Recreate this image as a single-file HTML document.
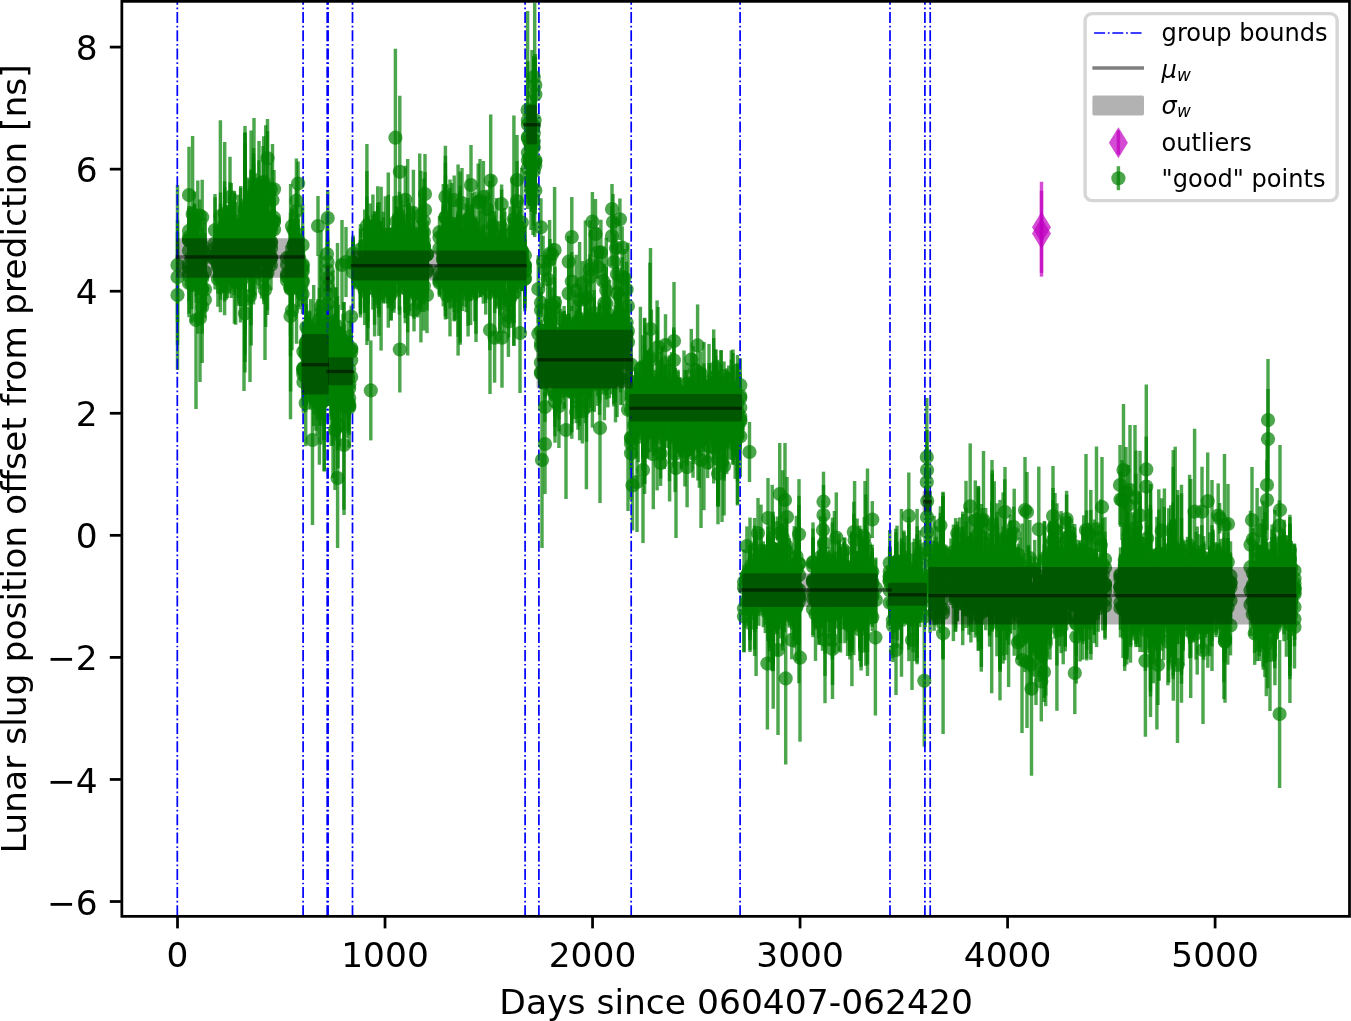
<!DOCTYPE html>
<html><head><meta charset="utf-8"><title>Lunar slug position offset</title>
<style>html,body{margin:0;padding:0;background:#fff}svg{display:block}text{font-family:"DejaVu Sans","Liberation Sans",sans-serif;fill:#000}</style>
</head><body>
<svg width="1351" height="1021" viewBox="0 0 1351 1021">
<rect width="1351" height="1021" fill="#fff"/>
<defs><clipPath id="cp"><rect x="121.85" y="1.35" width="1227.65" height="915.00"/></clipPath></defs>
<g clip-path="url(#cp)">
<g stroke="#008000" stroke-opacity=".7" stroke-width="3.44" fill="none">
<path d="M1098.2 582.3v22.0"/>
<path d="M569.5 328.7v29.4"/>
<path d="M1056.9 531.4v95.5"/>
<path d="M378.9 219.8v83.7"/>
<path d="M599.5 343.3v71.6"/>
<path d="M613.8 355.8v42.3"/>
<path d="M971.0 575.8v39.3"/>
<path d="M335.8 361.3v79.3"/>
<path d="M189.0 221.1v92.6"/>
<path d="M703.9 369.0v35.4"/>
<path d="M1120.5 570.7v31.8"/>
<path d="M474.8 230.4v60.6"/>
<path d="M1282.5 548.4v44.4"/>
<path d="M1167.9 553.8v60.0"/>
<path d="M968.9 536.4v78.5"/>
<path d="M427.0 229.0v50.9"/>
<path d="M1094.2 567.4v57.5"/>
<path d="M1056.9 587.2v37.7"/>
<path d="M800.0 573.7v168.0"/>
<path d="M258.9 160.3v60.1"/>
<path d="M859.8 589.8v45.6"/>
<path d="M292.0 243.0v64.9"/>
<path d="M341.5 376.6v28.0"/>
<path d="M455.9 241.6v38.4"/>
<path d="M360.5 255.5v51.9"/>
<path d="M1047.2 607.1v33.1"/>
<path d="M901.5 576.3v32.7"/>
<path d="M517.0 225.4v35.7"/>
<path d="M1212.0 548.4v92.3"/>
<path d="M1044.5 530.9v118.1"/>
<path d="M374.5 231.2v58.2"/>
<path d="M419.7 232.0v43.6"/>
<path d="M360.5 240.3v51.9"/>
<path d="M1082.7 583.0v34.6"/>
<path d="M568.7 323.3v41.0"/>
<path d="M986.6 557.6v22.0"/>
<path d="M468.0 257.6v44.4"/>
<path d="M1149.1 561.1v60.7"/>
<path d="M985.8 532.0v76.6"/>
<path d="M1013.7 564.1v37.7"/>
<path d="M540.9 198.2v58.2"/>
<path d="M942.9 532.4v103.0"/>
<path d="M689.9 412.6v43.5"/>
<path d="M1134.0 545.4v89.2"/>
<path d="M1003.1 551.4v57.2"/>
<path d="M684.9 397.9v55.7"/>
<path d="M231.3 205.5v52.2"/>
<path d="M508.5 294.4v42.9"/>
<path d="M494.6 218.2v55.8"/>
<path d="M836.3 581.0v32.6"/>
<path d="M704.0 341.9v90.1"/>
<path d="M420.9 217.3v74.3"/>
<path d="M940.4 516.3v68.6"/>
<path d="M245.0 190.7v171.3"/>
<path d="M345.4 346.1v38.0"/>
<path d="M265.6 236.0v50.0"/>
<path d="M504.2 235.0v46.9"/>
<path d="M405.3 239.2v57.1"/>
<path d="M308.3 327.0v35.3"/>
<path d="M331.3 364.2v52.1"/>
<path d="M754.7 566.2v52.1"/>
<path d="M613.0 194.0v56.0"/>
<path d="M504.9 256.1v22.0"/>
<path d="M820.7 567.9v48.9"/>
<path d="M903.9 532.1v67.0"/>
<path d="M1153.4 586.0v97.3"/>
<path d="M1150.4 542.2v126.9"/>
<path d="M546.2 341.1v22.0"/>
<path d="M796.5 539.9v33.0"/>
<path d="M290.5 212.8v206.5"/>
<path d="M617.2 266.1v54.4"/>
<path d="M489.7 209.9v90.0"/>
<path d="M259.0 201.2v65.2"/>
<path d="M1207.8 561.7v71.6"/>
<path d="M777.4 545.2v29.4"/>
<path d="M1086.7 535.5v71.0"/>
<path d="M603.0 336.4v25.8"/>
<path d="M1193.2 549.5v22.0"/>
<path d="M718.0 404.5v22.0"/>
<path d="M1294.5 585.7v82.8"/>
<path d="M274.0 209.2v25.3"/>
<path d="M574.2 299.4v69.0"/>
<path d="M1034.7 579.7v58.7"/>
<path d="M327.6 251.0v70.0"/>
<path d="M290.5 218.3v138.0"/>
<path d="M1291.3 540.9v53.8"/>
<path d="M799.0 479.1v110.3"/>
<path d="M599.5 304.8v72.3"/>
<path d="M1178.9 589.8v46.4"/>
<path d="M374.6 214.3v58.3"/>
<path d="M829.1 550.4v33.6"/>
<path d="M697.9 393.3v41.2"/>
<path d="M259.0 141.0v90.0"/>
<path d="M996.9 503.3v104.3"/>
<path d="M772.2 558.2v99.2"/>
<path d="M996.9 528.5v96.4"/>
<path d="M750.0 572.5v42.9"/>
<path d="M585.4 300.8v122.4"/>
<path d="M199.7 230.0v36.2"/>
<path d="M647.5 354.5v28.1"/>
<path d="M1225.0 619.1v43.7"/>
<path d="M571.8 345.6v93.2"/>
<path d="M985.7 553.3v41.2"/>
<path d="M653.3 406.2v22.0"/>
<path d="M1154.4 590.9v31.1"/>
<path d="M1199.1 565.3v30.2"/>
<path d="M786.2 541.7v69.9"/>
<path d="M1008.6 530.0v66.4"/>
<path d="M1053.0 488.0v80.0"/>
<path d="M1259.3 584.1v72.0"/>
<path d="M1272.1 537.3v65.9"/>
<path d="M910.6 570.5v22.0"/>
<path d="M597.6 312.5v22.0"/>
<path d="M864.3 574.6v35.5"/>
<path d="M1027.0 472.0v80.0"/>
<path d="M1022.2 570.3v51.2"/>
<path d="M257.2 185.3v63.7"/>
<path d="M290.6 184.0v207.5"/>
<path d="M419.6 275.7v32.1"/>
<path d="M247.7 200.9v30.9"/>
<path d="M606.3 316.2v50.8"/>
<path d="M985.7 534.3v38.5"/>
<path d="M257.2 207.4v55.8"/>
<path d="M1124.7 559.8v95.1"/>
<path d="M1076.3 599.7v74.1"/>
<path d="M562.6 317.0v50.8"/>
<path d="M1259.3 588.3v58.5"/>
<path d="M784.4 563.9v68.2"/>
<path d="M447.0 184.3v118.6"/>
<path d="M955.5 554.7v77.2"/>
<path d="M978.4 545.8v85.9"/>
<path d="M241.5 221.0v38.0"/>
<path d="M1090.8 578.9v75.1"/>
<path d="M603.0 336.3v58.1"/>
<path d="M1063.2 566.5v46.5"/>
<path d="M235.8 231.3v57.2"/>
<path d="M394.0 196.2v74.6"/>
<path d="M313.7 348.4v52.0"/>
<path d="M1177.7 596.5v38.4"/>
<path d="M1201.8 525.1v128.6"/>
<path d="M1041.3 641.4v80.0"/>
<path d="M651.4 382.8v25.0"/>
<path d="M836.3 492.4v90.4"/>
<path d="M373.0 246.4v45.4"/>
<path d="M1120.5 471.9v55.0"/>
<path d="M1045.7 580.6v125.6"/>
<path d="M527.9 121.3v77.3"/>
<path d="M1014.2 549.0v40.0"/>
<path d="M445.5 175.6v84.3"/>
<path d="M458.1 244.3v54.9"/>
<path d="M1050.0 585.6v53.4"/>
<path d="M1080.1 542.8v97.6"/>
<path d="M399.4 215.9v80.8"/>
<path d="M895.8 548.7v81.8"/>
<path d="M1272.1 524.5v47.4"/>
<path d="M338.1 369.3v40.1"/>
<path d="M992.3 578.2v39.1"/>
<path d="M1286.4 535.5v87.8"/>
<path d="M689.9 379.2v24.7"/>
<path d="M335.9 287.2v112.6"/>
<path d="M1143.0 597.6v30.9"/>
<path d="M579.6 337.1v43.8"/>
<path d="M1123.1 539.4v96.5"/>
<path d="M709.1 363.0v77.2"/>
<path d="M908.9 542.9v96.0"/>
<path d="M651.4 355.6v55.6"/>
<path d="M1038.8 558.6v64.8"/>
<path d="M492.8 220.2v64.8"/>
<path d="M312.1 344.3v22.0"/>
<path d="M620.5 287.4v91.2"/>
<path d="M1083.7 569.3v49.6"/>
<path d="M606.3 352.7v42.9"/>
<path d="M292.0 233.1v82.9"/>
<path d="M1044.5 559.1v53.5"/>
<path d="M582.4 343.5v26.7"/>
<path d="M1042.0 640.8v22.8"/>
<path d="M1039.5 623.0v58.9"/>
<path d="M724.1 399.4v78.0"/>
<path d="M227.2 204.7v52.5"/>
<path d="M1033.7 587.5v46.7"/>
<path d="M557.5 332.2v50.9"/>
<path d="M421.0 222.6v81.1"/>
<path d="M189.0 255.4v32.0"/>
<path d="M1088.8 562.4v42.3"/>
<path d="M675.0 401.0v62.3"/>
<path d="M383.3 217.2v84.9"/>
<path d="M1102.0 457.0v100.0"/>
<path d="M265.6 244.7v30.3"/>
<path d="M1250.5 574.3v32.2"/>
<path d="M588.3 335.7v64.6"/>
<path d="M314.3 323.0v68.8"/>
<path d="M417.7 226.8v50.4"/>
<path d="M1053.2 578.8v22.0"/>
<path d="M1008.6 591.6v53.4"/>
<path d="M462.4 229.4v28.7"/>
<path d="M366.9 214.5v88.3"/>
<path d="M302.6 226.4v79.9"/>
<path d="M590.0 351.4v56.3"/>
<path d="M1128.6 557.8v34.8"/>
<path d="M339.3 356.4v90.2"/>
<path d="M274.0 169.9v38.9"/>
<path d="M1124.7 548.5v122.4"/>
<path d="M635.8 405.8v38.4"/>
<path d="M405.2 225.7v87.2"/>
<path d="M1143.0 537.0v48.8"/>
<path d="M737.5 398.3v60.9"/>
<path d="M571.8 345.1v40.7"/>
<path d="M594.2 297.0v87.3"/>
<path d="M649.9 372.7v42.6"/>
<path d="M1140.0 591.3v26.0"/>
<path d="M989.6 549.2v87.1"/>
<path d="M638.3 393.6v22.0"/>
<path d="M782.7 573.8v59.7"/>
<path d="M550.1 277.7v81.0"/>
<path d="M1280.9 576.7v22.0"/>
<path d="M892.9 589.3v72.7"/>
<path d="M1279.2 587.5v40.6"/>
<path d="M1173.3 557.4v96.2"/>
<path d="M555.0 338.6v74.9"/>
<path d="M1170.7 574.2v29.5"/>
<path d="M870.8 564.0v24.3"/>
<path d="M427.0 220.9v66.7"/>
<path d="M470.6 221.3v57.2"/>
<path d="M1291.3 570.1v29.4"/>
<path d="M240.6 187.7v104.3"/>
<path d="M962.7 511.6v104.9"/>
<path d="M531.4 110.8v69.7"/>
<path d="M1227.9 563.1v64.3"/>
<path d="M327.6 266.0v76.0"/>
<path d="M531.4 95.3v52.8"/>
<path d="M750.0 557.8v70.4"/>
<path d="M978.3 579.0v71.8"/>
<path d="M1257.1 570.0v52.9"/>
<path d="M763.3 565.7v28.7"/>
<path d="M1050.0 568.6v70.9"/>
<path d="M756.1 538.5v137.5"/>
<path d="M306.4 310.1v33.7"/>
<path d="M1096.6 553.2v61.8"/>
<path d="M517.0 225.5v52.6"/>
<path d="M231.3 182.9v83.9"/>
<path d="M1149.1 582.7v37.4"/>
<path d="M1082.8 578.0v51.4"/>
<path d="M966.0 554.9v47.1"/>
<path d="M1150.5 509.4v207.5"/>
<path d="M796.4 576.8v61.0"/>
<path d="M501.5 250.2v41.2"/>
<path d="M649.9 367.9v26.0"/>
<path d="M773.2 516.4v154.7"/>
<path d="M405.3 226.8v96.4"/>
<path d="M270.9 252.7v24.9"/>
<path d="M458.1 213.0v59.9"/>
<path d="M724.0 384.3v58.6"/>
<path d="M957.4 555.4v65.3"/>
<path d="M917.1 588.9v29.5"/>
<path d="M836.3 564.8v37.4"/>
<path d="M930.3 555.0v41.0"/>
<path d="M982.3 565.6v59.1"/>
<path d="M439.5 233.9v29.1"/>
<path d="M450.0 187.7v77.8"/>
<path d="M349.2 366.3v44.7"/>
<path d="M901.5 544.7v104.8"/>
<path d="M966.0 544.0v49.3"/>
<path d="M531.4 114.1v98.0"/>
<path d="M1029.8 576.5v95.4"/>
<path d="M780.5 553.6v84.8"/>
<path d="M985.7 507.9v71.0"/>
<path d="M594.2 322.9v58.7"/>
<path d="M255.4 208.3v87.0"/>
<path d="M588.3 322.3v53.8"/>
<path d="M649.9 349.8v72.7"/>
<path d="M1124.7 522.9v89.2"/>
<path d="M754.6 558.3v73.8"/>
<path d="M834.4 587.7v41.0"/>
<path d="M962.7 554.5v76.3"/>
<path d="M676.0 398.0v140.0"/>
<path d="M973.2 539.9v30.1"/>
<path d="M1026.5 621.8v22.0"/>
<path d="M844.0 576.6v27.8"/>
<path d="M962.7 562.5v40.4"/>
<path d="M332.9 319.6v69.5"/>
<path d="M1018.1 543.6v22.0"/>
<path d="M189.0 249.1v52.4"/>
<path d="M529.5 120.5v82.9"/>
<path d="M1279.3 572.8v22.0"/>
<path d="M1053.1 563.6v28.8"/>
<path d="M697.9 403.6v76.9"/>
<path d="M644.6 357.3v91.5"/>
<path d="M1201.9 544.3v58.9"/>
<path d="M462.5 237.7v54.1"/>
<path d="M1061.2 580.3v37.8"/>
<path d="M994.3 481.3v139.6"/>
<path d="M1203.6 549.5v43.0"/>
<path d="M489.8 229.4v50.3"/>
<path d="M458.1 223.3v57.9"/>
<path d="M1090.9 509.9v119.0"/>
<path d="M1274.1 538.7v79.8"/>
<path d="M934.1 574.5v50.8"/>
<path d="M724.0 405.7v60.3"/>
<path d="M557.5 352.5v22.0"/>
<path d="M447.0 241.8v22.0"/>
<path d="M240.7 198.9v85.9"/>
<path d="M1267.7 578.3v54.7"/>
<path d="M1086.0 454.0v152.0"/>
<path d="M699.4 371.7v47.4"/>
<path d="M765.3 562.2v22.0"/>
<path d="M234.3 201.8v93.5"/>
<path d="M1102.7 518.3v112.2"/>
<path d="M631.1 385.5v30.1"/>
<path d="M1140.0 587.6v59.7"/>
<path d="M582.3 355.7v41.6"/>
<path d="M1199.2 556.8v30.0"/>
<path d="M719.4 396.3v35.7"/>
<path d="M992.3 566.1v49.2"/>
<path d="M769.4 569.9v71.8"/>
<path d="M996.9 537.3v85.2"/>
<path d="M1132.0 557.4v47.0"/>
<path d="M773.2 557.6v58.9"/>
<path d="M679.8 377.3v28.0"/>
<path d="M401.0 194.6v49.4"/>
<path d="M329.7 287.8v70.8"/>
<path d="M699.4 392.0v49.9"/>
<path d="M740.3 393.5v52.0"/>
<path d="M579.6 342.6v22.0"/>
<path d="M251.1 130.6v194.8"/>
<path d="M1094.3 519.5v123.7"/>
<path d="M221.4 239.9v27.7"/>
<path d="M857.2 578.0v33.2"/>
<path d="M261.6 188.2v44.3"/>
<path d="M704.9 410.8v27.7"/>
<path d="M1154.4 604.9v39.5"/>
<path d="M867.5 564.3v48.8"/>
<path d="M959.5 542.5v68.0"/>
<path d="M1037.0 562.0v90.3"/>
<path d="M662.0 393.8v37.9"/>
<path d="M897.1 600.1v40.3"/>
<path d="M603.1 246.7v68.4"/>
<path d="M576.2 254.8v71.8"/>
<path d="M1279.3 500.3v50.8"/>
<path d="M490.0 266.0v128.0"/>
<path d="M1140.0 564.0v38.6"/>
<path d="M1098.2 524.6v27.5"/>
<path d="M189.0 207.9v58.5"/>
<path d="M271.0 214.3v32.7"/>
<path d="M445.5 226.6v28.8"/>
<path d="M1018.0 625.6v33.7"/>
<path d="M253.5 147.9v111.2"/>
<path d="M777.4 554.5v69.9"/>
<path d="M346.7 352.9v56.1"/>
<path d="M468.0 174.2v89.5"/>
<path d="M370.0 227.0v50.4"/>
<path d="M718.0 399.4v107.5"/>
<path d="M1038.8 466.6v125.4"/>
<path d="M1207.7 592.4v34.3"/>
<path d="M590.0 308.1v43.5"/>
<path d="M1038.8 632.5v31.5"/>
<path d="M1153.4 571.2v93.0"/>
<path d="M594.9 336.0v47.9"/>
<path d="M662.0 391.6v40.6"/>
<path d="M409.6 203.0v108.3"/>
<path d="M1150.5 534.3v112.8"/>
<path d="M756.1 543.6v85.4"/>
<path d="M1020.0 615.8v49.2"/>
<path d="M839.0 578.3v22.0"/>
<path d="M385.3 196.3v76.9"/>
<path d="M530.0 146.0v60.0"/>
<path d="M1291.3 589.5v35.2"/>
<path d="M1168.7 583.6v74.9"/>
<path d="M744.0 580.3v72.1"/>
<path d="M540.9 325.1v35.6"/>
<path d="M360.5 251.0v63.6"/>
<path d="M1069.4 525.8v22.0"/>
<path d="M445.5 216.6v58.7"/>
<path d="M189.0 146.7v96.7"/>
<path d="M571.8 371.2v40.3"/>
<path d="M704.9 377.7v38.9"/>
<path d="M321.0 344.9v80.8"/>
<path d="M590.0 341.9v57.2"/>
<path d="M773.2 584.5v80.7"/>
<path d="M1207.7 452.5v97.3"/>
<path d="M1072.1 559.3v46.4"/>
<path d="M1061.2 536.8v50.0"/>
<path d="M189.0 252.0v23.5"/>
<path d="M586.4 270.3v55.5"/>
<path d="M1128.6 531.2v86.7"/>
<path d="M399.4 191.7v93.4"/>
<path d="M919.7 539.7v37.0"/>
<path d="M1124.7 551.1v93.7"/>
<path d="M1189.6 592.5v46.9"/>
<path d="M299.2 247.4v29.4"/>
<path d="M981.3 581.1v43.1"/>
<path d="M853.8 563.8v42.0"/>
<path d="M585.4 321.2v48.7"/>
<path d="M731.4 359.7v90.5"/>
<path d="M970.9 563.3v34.4"/>
<path d="M319.4 287.7v127.0"/>
<path d="M1013.7 541.7v67.8"/>
<path d="M314.2 351.7v36.3"/>
<path d="M1056.8 549.3v82.9"/>
<path d="M943.0 556.4v84.1"/>
<path d="M378.9 233.5v48.6"/>
<path d="M943.0 524.4v87.9"/>
<path d="M349.2 392.7v23.9"/>
<path d="M224.7 187.2v79.4"/>
<path d="M557.4 354.4v22.0"/>
<path d="M245.0 132.3v151.9"/>
<path d="M914.4 538.6v80.6"/>
<path d="M1154.4 563.6v34.7"/>
<path d="M414.0 272.4v37.0"/>
<path d="M353.1 241.2v41.9"/>
<path d="M547.6 255.1v48.4"/>
<path d="M1280.9 571.2v28.4"/>
<path d="M349.2 380.3v54.5"/>
<path d="M1056.9 563.9v72.7"/>
<path d="M750.0 566.0v44.1"/>
<path d="M825.0 548.0v77.5"/>
<path d="M224.6 181.2v134.0"/>
<path d="M777.4 542.4v30.0"/>
<path d="M849.8 575.8v58.4"/>
<path d="M334.9 359.7v61.7"/>
<path d="M660.6 373.5v58.9"/>
<path d="M403.1 209.7v54.2"/>
<path d="M897.0 583.5v38.8"/>
<path d="M591.0 230.0v70.0"/>
<path d="M844.0 537.5v25.9"/>
<path d="M313.7 284.9v141.1"/>
<path d="M1289.8 550.1v126.2"/>
<path d="M957.3 528.4v84.0"/>
<path d="M733.1 366.1v93.6"/>
<path d="M957.3 553.4v47.8"/>
<path d="M364.7 218.8v90.3"/>
<path d="M600.9 367.5v22.0"/>
<path d="M177.5 185.0v160.0"/>
<path d="M904.0 569.5v39.3"/>
<path d="M381.1 257.9v40.6"/>
<path d="M579.6 343.7v43.0"/>
<path d="M194.4 203.4v38.3"/>
<path d="M293.6 240.0v31.9"/>
<path d="M485.6 260.9v42.0"/>
<path d="M566.9 319.6v49.6"/>
<path d="M1072.1 571.6v39.3"/>
<path d="M1065.3 584.4v67.0"/>
<path d="M196.3 248.5v54.6"/>
<path d="M607.8 327.1v47.9"/>
<path d="M913.1 572.5v79.9"/>
<path d="M1212.8 556.2v67.2"/>
<path d="M1274.1 544.3v81.6"/>
<path d="M751.3 543.2v44.4"/>
<path d="M308.4 323.6v65.9"/>
<path d="M476.0 228.6v38.5"/>
<path d="M1042.0 577.3v62.5"/>
<path d="M776.5 543.5v48.6"/>
<path d="M1034.7 573.6v50.8"/>
<path d="M353.1 238.5v47.6"/>
<path d="M445.4 185.0v125.5"/>
<path d="M1209.7 546.8v65.7"/>
<path d="M957.4 524.5v70.1"/>
<path d="M1288.4 552.1v88.0"/>
<path d="M401.0 213.5v28.1"/>
<path d="M1128.6 536.6v42.5"/>
<path d="M1053.2 582.2v22.0"/>
<path d="M1000.0 596.0v24.4"/>
<path d="M419.7 240.1v58.6"/>
<path d="M930.2 548.4v62.0"/>
<path d="M324.2 360.9v79.4"/>
<path d="M420.9 221.9v69.8"/>
<path d="M913.1 565.5v57.3"/>
<path d="M700.7 387.2v43.6"/>
<path d="M953.3 541.1v60.4"/>
<path d="M697.9 370.3v59.3"/>
<path d="M1137.3 564.4v82.6"/>
<path d="M718.0 383.4v88.9"/>
<path d="M576.3 358.1v45.4"/>
<path d="M535.3 121.8v79.3"/>
<path d="M586.4 311.6v50.3"/>
<path d="M1220.7 538.8v49.3"/>
<path d="M844.9 597.2v22.0"/>
<path d="M897.0 541.8v38.9"/>
<path d="M259.9 203.0v44.5"/>
<path d="M700.8 395.7v39.5"/>
<path d="M196.0 231.0v178.0"/>
<path d="M451.8 220.7v76.9"/>
<path d="M476.0 221.3v44.0"/>
<path d="M504.8 211.6v63.6"/>
<path d="M694.8 376.8v26.3"/>
<path d="M1029.8 576.1v44.5"/>
<path d="M864.3 579.0v31.7"/>
<path d="M620.4 288.6v61.7"/>
<path d="M287.0 269.6v22.0"/>
<path d="M562.7 313.6v80.4"/>
<path d="M502.0 287.7v100.0"/>
<path d="M973.2 572.3v35.9"/>
<path d="M719.5 370.1v48.2"/>
<path d="M1076.3 573.6v41.6"/>
<path d="M1284.1 529.1v24.8"/>
<path d="M247.8 224.6v34.9"/>
<path d="M388.3 255.8v41.1"/>
<path d="M889.8 547.6v47.8"/>
<path d="M499.8 237.6v77.6"/>
<path d="M908.9 523.6v88.6"/>
<path d="M1263.2 555.5v111.2"/>
<path d="M1212.0 538.1v83.9"/>
<path d="M1264.9 550.6v38.8"/>
<path d="M718.0 415.3v87.3"/>
<path d="M568.7 333.1v26.6"/>
<path d="M1193.3 568.4v44.0"/>
<path d="M910.6 565.1v62.0"/>
<path d="M460.2 190.5v118.9"/>
<path d="M851.9 564.8v49.1"/>
<path d="M1100.8 499.4v91.7"/>
<path d="M875.8 577.2v45.8"/>
<path d="M1014.2 539.0v90.9"/>
<path d="M1030.9 644.3v40.7"/>
<path d="M333.0 343.9v60.1"/>
<path d="M1056.9 554.8v55.9"/>
<path d="M504.8 273.5v60.1"/>
<path d="M697.9 408.1v27.4"/>
<path d="M1181.5 571.9v46.4"/>
<path d="M1205.4 566.6v71.0"/>
<path d="M1183.0 598.7v51.4"/>
<path d="M1167.9 555.4v48.7"/>
<path d="M627.9 242.7v126.6"/>
<path d="M1291.3 577.0v47.5"/>
<path d="M321.0 325.6v94.2"/>
<path d="M1010.4 560.0v31.4"/>
<path d="M780.5 583.0v29.5"/>
<path d="M962.7 532.2v64.2"/>
<path d="M292.0 241.4v68.5"/>
<path d="M1128.5 559.0v22.0"/>
<path d="M1260.1 506.4v47.8"/>
<path d="M385.4 235.6v53.7"/>
<path d="M586.4 318.5v86.2"/>
<path d="M472.4 215.1v79.0"/>
<path d="M966.0 557.4v58.0"/>
<path d="M458.0 207.2v95.3"/>
<path d="M472.4 193.0v79.2"/>
<path d="M889.7 583.1v39.4"/>
<path d="M221.5 216.8v65.6"/>
<path d="M966.0 507.8v75.9"/>
<path d="M1061.1 582.5v42.3"/>
<path d="M263.8 193.7v107.3"/>
<path d="M707.6 399.8v36.1"/>
<path d="M684.0 391.6v51.4"/>
<path d="M302.7 267.3v29.3"/>
<path d="M366.9 239.0v50.7"/>
<path d="M635.8 372.0v57.9"/>
<path d="M896.0 605.0v90.0"/>
<path d="M460.2 193.1v102.9"/>
<path d="M1167.9 573.9v61.1"/>
<path d="M296.5 188.3v45.6"/>
<path d="M1074.7 543.1v22.8"/>
<path d="M996.9 526.0v88.2"/>
<path d="M703.9 368.3v61.7"/>
<path d="M517.0 135.0v90.0"/>
<path d="M366.9 143.9v201.1"/>
<path d="M368.0 242.1v62.9"/>
<path d="M425.0 154.0v80.0"/>
<path d="M517.0 214.2v26.0"/>
<path d="M577.9 300.3v104.7"/>
<path d="M1033.7 619.6v27.7"/>
<path d="M551.8 358.6v22.0"/>
<path d="M227.3 209.5v65.1"/>
<path d="M840.5 593.0v59.6"/>
<path d="M413.5 219.0v37.4"/>
<path d="M1272.1 558.7v36.0"/>
<path d="M789.4 575.9v22.6"/>
<path d="M414.1 245.8v58.5"/>
<path d="M394.0 249.2v43.0"/>
<path d="M1069.3 518.4v36.2"/>
<path d="M849.9 589.6v62.6"/>
<path d="M1289.9 529.9v149.3"/>
<path d="M813.0 571.1v41.7"/>
<path d="M784.5 575.9v26.9"/>
<path d="M510.1 244.4v57.7"/>
<path d="M662.0 347.1v71.8"/>
<path d="M895.8 556.0v41.7"/>
<path d="M1269.8 588.8v22.0"/>
<path d="M786.2 560.1v57.4"/>
<path d="M1282.4 553.4v65.1"/>
<path d="M1123.5 404.0v132.0"/>
<path d="M427.0 256.9v76.2"/>
<path d="M1284.0 556.3v77.9"/>
<path d="M631.0 414.3v46.3"/>
<path d="M1092.0 574.9v36.2"/>
<path d="M1030.9 555.5v31.0"/>
<path d="M650.0 351.1v67.6"/>
<path d="M399.5 230.7v29.4"/>
<path d="M226.3 271.7v28.1"/>
<path d="M1145.5 557.4v97.4"/>
<path d="M1072.1 526.5v74.9"/>
<path d="M1181.4 587.5v38.6"/>
<path d="M480.5 258.6v27.9"/>
<path d="M455.8 254.5v23.5"/>
<path d="M865.7 540.1v104.5"/>
<path d="M419.8 245.6v43.5"/>
<path d="M1220.7 546.2v66.2"/>
<path d="M681.4 394.0v52.9"/>
<path d="M1061.1 593.5v28.5"/>
<path d="M1277.2 569.1v36.0"/>
<path d="M1181.5 538.3v145.5"/>
<path d="M267.5 204.6v82.5"/>
<path d="M450.0 217.9v44.7"/>
<path d="M259.0 201.9v59.6"/>
<path d="M245.0 172.1v162.0"/>
<path d="M318.1 343.6v55.8"/>
<path d="M749.5 422.0v60.0"/>
<path d="M624.3 318.9v61.2"/>
<path d="M1050.0 568.8v37.0"/>
<path d="M298.2 218.5v44.0"/>
<path d="M524.8 255.3v22.0"/>
<path d="M1004.7 552.8v53.8"/>
<path d="M681.5 409.1v22.0"/>
<path d="M199.7 199.6v31.7"/>
<path d="M1216.1 575.0v62.2"/>
<path d="M1074.8 581.9v28.9"/>
<path d="M1284.1 583.2v24.5"/>
<path d="M1130.5 565.1v58.6"/>
<path d="M450.0 203.5v132.9"/>
<path d="M1140.0 490.8v116.9"/>
<path d="M1033.7 603.8v22.0"/>
<path d="M847.6 564.1v60.4"/>
<path d="M420.9 252.1v45.2"/>
<path d="M1132.1 512.3v68.3"/>
<path d="M1076.3 577.9v36.0"/>
<path d="M681.5 412.6v22.0"/>
<path d="M374.5 211.3v60.2"/>
<path d="M305.7 326.7v44.1"/>
<path d="M971.0 573.0v47.5"/>
<path d="M700.8 413.4v26.6"/>
<path d="M403.1 249.6v22.4"/>
<path d="M554.3 348.6v33.2"/>
<path d="M202.1 237.9v75.9"/>
<path d="M334.9 328.4v52.2"/>
<path d="M1004.6 538.8v78.5"/>
<path d="M607.9 347.0v27.0"/>
<path d="M360.5 228.5v89.0"/>
<path d="M713.7 411.2v72.3"/>
<path d="M1096.6 554.3v92.7"/>
<path d="M991.7 596.4v29.9"/>
<path d="M913.1 566.9v68.7"/>
<path d="M1225.0 566.6v45.7"/>
<path d="M735.2 363.8v115.1"/>
<path d="M861.2 592.6v60.3"/>
<path d="M1008.6 576.5v39.0"/>
<path d="M678.0 378.4v72.3"/>
<path d="M234.4 231.4v30.3"/>
<path d="M829.1 579.3v52.9"/>
<path d="M665.5 393.1v46.0"/>
<path d="M836.4 557.9v31.0"/>
<path d="M1158.8 588.5v91.3"/>
<path d="M1175.3 529.6v128.8"/>
<path d="M251.2 200.0v38.2"/>
<path d="M895.8 540.2v63.9"/>
<path d="M319.4 345.6v63.9"/>
<path d="M870.7 577.5v28.9"/>
<path d="M377.7 206.0v82.1"/>
<path d="M794.3 571.8v63.2"/>
<path d="M401.0 200.4v82.5"/>
<path d="M737.5 392.5v66.2"/>
<path d="M1074.7 575.4v27.4"/>
<path d="M970.2 443.4v126.0"/>
<path d="M976.9 525.6v98.2"/>
<path d="M324.9 335.3v45.9"/>
<path d="M504.2 243.2v31.5"/>
<path d="M177.5 232.0v90.0"/>
<path d="M1146.3 436.6v100.0"/>
<path d="M976.9 566.1v33.6"/>
<path d="M1132.1 595.8v39.8"/>
<path d="M927.2 502.0v60.0"/>
<path d="M638.3 396.0v28.4"/>
<path d="M859.8 583.0v64.9"/>
<path d="M321.0 230.0v153.3"/>
<path d="M353.1 237.1v52.3"/>
<path d="M938.3 555.9v44.4"/>
<path d="M230.0 232.4v34.6"/>
<path d="M653.3 404.0v22.0"/>
<path d="M622.2 314.2v39.7"/>
<path d="M1135.0 425.0v146.0"/>
<path d="M906.9 564.4v39.5"/>
<path d="M240.6 202.4v81.2"/>
<path d="M555.0 348.2v67.9"/>
<path d="M543.1 323.7v22.5"/>
<path d="M1170.7 525.4v47.4"/>
<path d="M711.0 404.0v37.3"/>
<path d="M1252.0 467.0v106.0"/>
<path d="M851.9 578.9v69.0"/>
<path d="M265.6 203.3v36.8"/>
<path d="M1277.1 554.7v39.7"/>
<path d="M396.4 195.5v93.3"/>
<path d="M217.9 249.6v34.4"/>
<path d="M1193.3 555.7v56.2"/>
<path d="M780.5 560.4v63.9"/>
<path d="M640.4 375.6v45.5"/>
<path d="M1047.2 555.3v60.6"/>
<path d="M261.6 215.0v33.6"/>
<path d="M917.1 534.4v129.9"/>
<path d="M1149.0 508.4v91.9"/>
<path d="M740.3 381.8v51.7"/>
<path d="M298.2 244.5v62.4"/>
<path d="M443.3 239.5v39.2"/>
<path d="M657.1 300.4v151.9"/>
<path d="M508.4 289.0v24.7"/>
<path d="M478.2 163.5v77.4"/>
<path d="M638.3 410.4v26.1"/>
<path d="M936.3 526.2v68.2"/>
<path d="M251.1 217.6v54.5"/>
<path d="M765.3 562.1v71.0"/>
<path d="M1266.3 538.9v124.2"/>
<path d="M1153.4 590.4v69.4"/>
<path d="M381.1 241.9v22.0"/>
<path d="M627.9 277.6v107.0"/>
<path d="M1124.6 491.6v174.8"/>
<path d="M189.0 206.1v49.6"/>
<path d="M1189.7 555.2v50.9"/>
<path d="M1072.1 547.1v23.0"/>
<path d="M417.8 269.9v40.3"/>
<path d="M1143.0 568.4v26.3"/>
<path d="M1286.5 572.9v55.7"/>
<path d="M1199.2 547.9v55.6"/>
<path d="M214.9 236.7v44.6"/>
<path d="M1272.1 584.7v26.4"/>
<path d="M368.0 243.3v51.8"/>
<path d="M794.3 576.8v62.8"/>
<path d="M341.5 355.9v33.9"/>
<path d="M1163.5 562.4v31.3"/>
<path d="M247.7 191.3v45.3"/>
<path d="M1225.0 630.9v22.0"/>
<path d="M399.4 211.4v103.2"/>
<path d="M1196.0 531.8v71.5"/>
<path d="M1105.0 546.0v80.2"/>
<path d="M976.8 583.5v36.1"/>
<path d="M985.7 569.6v60.7"/>
<path d="M895.8 547.1v51.7"/>
<path d="M763.3 559.3v57.8"/>
<path d="M309.7 311.6v57.1"/>
<path d="M1260.2 546.3v105.6"/>
<path d="M992.3 566.3v34.8"/>
<path d="M1120.5 547.4v54.2"/>
<path d="M650.0 367.9v49.7"/>
<path d="M986.6 573.9v26.8"/>
<path d="M684.0 403.1v45.7"/>
<path d="M784.4 586.1v25.1"/>
<path d="M1080.1 540.2v91.8"/>
<path d="M1105.0 539.5v88.7"/>
<path d="M325.0 339.7v27.2"/>
<path d="M1274.1 527.3v106.5"/>
<path d="M718.1 404.5v70.0"/>
<path d="M651.4 380.6v34.2"/>
<path d="M1055.0 534.6v90.4"/>
<path d="M567.0 314.4v22.0"/>
<path d="M576.3 348.3v22.0"/>
<path d="M1163.5 585.5v33.3"/>
<path d="M512.4 239.0v41.3"/>
<path d="M691.3 380.4v65.8"/>
<path d="M986.6 578.4v37.1"/>
<path d="M450.1 252.3v45.1"/>
<path d="M1123.1 552.5v55.1"/>
<path d="M657.2 388.6v40.0"/>
<path d="M554.2 317.2v48.0"/>
<path d="M287.0 262.8v22.4"/>
<path d="M594.9 339.8v30.1"/>
<path d="M568.7 331.1v56.1"/>
<path d="M1006.7 581.9v52.1"/>
<path d="M689.9 379.0v24.7"/>
<path d="M254.0 118.0v148.0"/>
<path d="M460.2 210.5v82.5"/>
<path d="M687.0 421.4v23.2"/>
<path d="M333.0 337.9v80.9"/>
<path d="M1010.4 520.5v60.5"/>
<path d="M1069.4 586.3v34.1"/>
<path d="M644.6 318.2v175.9"/>
<path d="M854.6 481.0v118.0"/>
<path d="M897.0 562.6v85.3"/>
<path d="M794.3 582.8v37.7"/>
<path d="M1076.3 555.5v47.3"/>
<path d="M957.3 572.3v41.2"/>
<path d="M396.3 206.4v30.3"/>
<path d="M1083.7 515.3v69.3"/>
<path d="M577.9 366.9v36.5"/>
<path d="M773.2 538.1v170.7"/>
<path d="M694.8 395.5v49.4"/>
<path d="M936.3 563.0v46.0"/>
<path d="M1257.1 561.2v43.6"/>
<path d="M1096.5 446.6v164.9"/>
<path d="M704.0 373.5v40.1"/>
<path d="M571.8 325.4v85.0"/>
<path d="M1225.1 562.9v68.0"/>
<path d="M1181.5 546.0v123.6"/>
<path d="M719.5 385.1v22.0"/>
<path d="M471.0 145.0v80.0"/>
<path d="M687.1 410.6v22.0"/>
<path d="M966.0 541.8v59.9"/>
<path d="M1126.8 532.3v132.2"/>
<path d="M1181.4 548.6v77.5"/>
<path d="M938.3 553.6v60.9"/>
<path d="M245.0 191.9v92.3"/>
<path d="M1218.2 598.7v22.0"/>
<path d="M619.8 305.9v64.8"/>
<path d="M1050.0 551.8v60.6"/>
<path d="M1072.0 542.9v43.4"/>
<path d="M1223.9 597.9v63.2"/>
<path d="M251.1 211.9v65.5"/>
<path d="M544.9 369.3v26.2"/>
<path d="M789.4 585.0v37.9"/>
<path d="M872.3 544.7v74.5"/>
<path d="M917.1 558.0v53.9"/>
<path d="M194.5 191.6v70.0"/>
<path d="M1272.1 583.6v65.4"/>
<path d="M331.2 305.3v140.7"/>
<path d="M1030.8 588.5v37.0"/>
<path d="M765.2 568.4v41.1"/>
<path d="M1254.7 564.7v56.2"/>
<path d="M512.4 221.9v76.2"/>
<path d="M600.0 353.0v150.0"/>
<path d="M1230.5 595.6v59.8"/>
<path d="M476.0 247.0v52.4"/>
<path d="M1063.2 587.6v25.7"/>
<path d="M391.1 266.7v54.1"/>
<path d="M527.6 11.0v198.0"/>
<path d="M221.5 247.1v29.0"/>
<path d="M450.0 248.9v29.5"/>
<path d="M331.3 356.5v63.4"/>
<path d="M754.7 538.2v83.6"/>
<path d="M627.9 318.6v47.3"/>
<path d="M458.1 221.0v115.8"/>
<path d="M338.1 304.7v97.1"/>
<path d="M224.7 142.0v143.2"/>
<path d="M917.1 526.2v111.5"/>
<path d="M872.3 565.1v61.8"/>
<path d="M385.3 252.7v50.7"/>
<path d="M782.6 581.8v64.7"/>
<path d="M454.2 222.7v53.7"/>
<path d="M632.5 440.4v90.0"/>
<path d="M773.2 537.2v59.3"/>
<path d="M220.5 220.4v74.6"/>
<path d="M1279.2 577.1v37.2"/>
<path d="M694.8 353.9v31.9"/>
<path d="M577.9 355.6v41.0"/>
<path d="M1279.3 550.2v47.6"/>
<path d="M313.7 330.1v40.2"/>
<path d="M470.5 204.8v65.1"/>
<path d="M1156.9 581.7v69.7"/>
<path d="M519.8 227.2v49.3"/>
<path d="M1003.1 573.3v36.7"/>
<path d="M919.6 572.2v45.2"/>
<path d="M962.8 514.0v78.2"/>
<path d="M298.2 231.8v41.6"/>
<path d="M1047.2 569.0v59.0"/>
<path d="M576.3 317.1v34.9"/>
<path d="M906.9 577.5v37.2"/>
<path d="M1050.0 524.6v107.2"/>
<path d="M521.8 221.4v69.6"/>
<path d="M379.0 202.1v111.5"/>
<path d="M399.8 306.5v86.0"/>
<path d="M635.9 367.4v39.8"/>
<path d="M476.0 216.5v71.1"/>
<path d="M724.0 361.5v29.5"/>
<path d="M287.0 253.8v22.0"/>
<path d="M292.0 253.1v28.1"/>
<path d="M1161.7 589.9v37.1"/>
<path d="M234.4 193.6v94.4"/>
<path d="M296.5 198.8v144.9"/>
<path d="M1086.7 579.9v46.3"/>
<path d="M823.5 471.7v60.0"/>
<path d="M603.0 307.3v44.7"/>
<path d="M557.5 341.8v22.0"/>
<path d="M763.3 541.3v40.8"/>
<path d="M1076.3 564.3v63.5"/>
<path d="M815.5 567.3v93.6"/>
<path d="M322.9 318.1v50.7"/>
<path d="M1187.5 580.9v35.1"/>
<path d="M309.7 361.1v33.8"/>
<path d="M255.4 198.4v72.9"/>
<path d="M971.0 531.8v22.0"/>
<path d="M955.6 518.1v110.1"/>
<path d="M292.0 253.2v46.8"/>
<path d="M606.2 281.0v93.0"/>
<path d="M904.0 571.1v29.9"/>
<path d="M388.3 229.1v98.6"/>
<path d="M614.0 234.0v56.0"/>
<path d="M619.8 281.9v29.1"/>
<path d="M309.7 356.5v27.9"/>
<path d="M334.9 318.8v45.2"/>
<path d="M310.7 299.1v105.2"/>
<path d="M271.0 212.6v26.6"/>
<path d="M370.0 252.2v35.2"/>
<path d="M403.1 251.2v39.5"/>
<path d="M521.8 255.9v22.0"/>
<path d="M607.8 348.9v24.2"/>
<path d="M1178.9 553.2v62.8"/>
<path d="M1153.3 570.5v49.8"/>
<path d="M230.0 156.8v80.3"/>
<path d="M541.0 291.8v22.0"/>
<path d="M1137.4 526.8v75.4"/>
<path d="M1130.0 425.0v130.0"/>
<path d="M857.1 566.2v36.4"/>
<path d="M867.4 540.8v98.3"/>
<path d="M773.2 576.6v43.5"/>
<path d="M1135.9 551.6v72.6"/>
<path d="M468.1 221.8v60.2"/>
<path d="M1225.0 570.5v132.3"/>
<path d="M567.0 329.8v43.5"/>
<path d="M391.1 239.9v60.3"/>
<path d="M777.4 598.5v22.0"/>
<path d="M1147.1 557.7v51.7"/>
<path d="M227.3 237.8v39.3"/>
<path d="M872.3 548.0v47.6"/>
<path d="M875.8 557.5v61.4"/>
<path d="M574.2 334.6v29.7"/>
<path d="M1102.8 551.3v26.5"/>
<path d="M472.4 206.9v54.1"/>
<path d="M913.2 567.3v46.2"/>
<path d="M1003.1 526.4v91.5"/>
<path d="M1277.1 559.7v41.7"/>
<path d="M926.8 398.0v118.0"/>
<path d="M1047.2 568.1v32.8"/>
<path d="M973.2 550.7v36.8"/>
<path d="M344.0 324.0v52.2"/>
<path d="M1137.4 565.4v53.1"/>
<path d="M468.1 221.3v35.1"/>
<path d="M310.7 337.6v72.1"/>
<path d="M374.6 225.3v111.1"/>
<path d="M480.5 242.0v47.8"/>
<path d="M1223.9 592.7v30.1"/>
<path d="M527.9 124.3v24.7"/>
<path d="M1003.1 492.4v97.5"/>
<path d="M524.8 235.1v40.6"/>
<path d="M813.0 582.8v52.2"/>
<path d="M921.3 562.5v23.5"/>
<path d="M586.4 328.1v90.0"/>
<path d="M953.3 573.1v29.9"/>
<path d="M577.9 329.6v51.6"/>
<path d="M767.8 576.4v64.6"/>
<path d="M975.3 557.9v22.0"/>
<path d="M551.9 243.2v22.0"/>
<path d="M427.0 246.6v51.0"/>
<path d="M1267.0 460.0v80.0"/>
<path d="M930.2 546.8v37.9"/>
<path d="M1005.0 467.0v90.0"/>
<path d="M189.0 224.0v53.4"/>
<path d="M1158.8 547.9v110.7"/>
<path d="M574.2 326.7v33.2"/>
<path d="M417.7 229.5v43.0"/>
<path d="M1288.5 579.8v28.2"/>
<path d="M298.1 213.9v66.7"/>
<path d="M847.6 569.7v86.3"/>
<path d="M832.5 553.2v69.4"/>
<path d="M785.0 443.0v114.0"/>
<path d="M1083.7 548.8v55.2"/>
<path d="M215.1 197.2v92.2"/>
<path d="M861.2 535.4v73.1"/>
<path d="M407.7 252.7v40.2"/>
<path d="M1135.9 450.5v153.9"/>
<path d="M813.0 528.6v75.9"/>
<path d="M644.7 375.0v74.9"/>
<path d="M341.5 370.6v32.7"/>
<path d="M306.4 353.7v30.6"/>
<path d="M1063.2 550.0v77.2"/>
<path d="M202.1 227.7v35.9"/>
<path d="M1000.0 558.4v30.8"/>
<path d="M1000.0 554.1v43.0"/>
<path d="M616.0 218.0v60.0"/>
<path d="M613.8 329.5v76.9"/>
<path d="M981.4 529.3v137.8"/>
<path d="M617.2 298.5v70.8"/>
<path d="M989.6 562.2v84.5"/>
<path d="M346.8 347.2v51.5"/>
<path d="M655.8 399.8v54.1"/>
<path d="M1254.6 595.3v32.7"/>
<path d="M1227.8 557.6v68.6"/>
<path d="M200.0 254.0v128.0"/>
<path d="M1128.6 539.0v51.5"/>
<path d="M349.2 329.3v79.3"/>
<path d="M403.1 245.8v22.0"/>
<path d="M249.4 192.8v33.5"/>
<path d="M499.8 229.8v102.1"/>
<path d="M401.0 231.4v29.5"/>
<path d="M315.9 349.3v34.7"/>
<path d="M407.7 234.0v81.8"/>
<path d="M544.9 344.1v22.0"/>
<path d="M982.3 508.0v25.8"/>
<path d="M335.8 287.7v75.1"/>
<path d="M631.0 407.8v61.9"/>
<path d="M445.4 185.5v130.8"/>
<path d="M547.7 334.2v61.3"/>
<path d="M859.8 596.7v52.0"/>
<path d="M194.5 239.5v37.8"/>
<path d="M1199.2 559.3v74.7"/>
<path d="M230.0 182.2v88.0"/>
<path d="M782.6 545.9v75.0"/>
<path d="M1147.2 581.2v45.1"/>
<path d="M1274.9 599.6v49.8"/>
<path d="M576.3 329.1v36.1"/>
<path d="M417.7 269.8v47.6"/>
<path d="M1096.5 549.3v29.7"/>
<path d="M251.2 170.6v97.8"/>
<path d="M191.7 244.8v77.9"/>
<path d="M820.7 571.4v43.2"/>
<path d="M590.0 345.4v32.3"/>
<path d="M445.4 155.7v82.0"/>
<path d="M492.8 236.5v34.0"/>
<path d="M496.6 238.3v57.8"/>
<path d="M1147.1 531.1v47.3"/>
<path d="M351.2 305.6v22.0"/>
<path d="M343.0 335.3v64.4"/>
<path d="M562.7 322.8v57.6"/>
<path d="M819.0 552.1v85.4"/>
<path d="M791.8 578.5v48.0"/>
<path d="M446.9 221.8v78.2"/>
<path d="M1228.0 484.0v80.0"/>
<path d="M737.4 375.7v55.9"/>
<path d="M317.1 322.7v112.8"/>
<path d="M458.1 164.5v191.1"/>
<path d="M1280.0 445.0v130.0"/>
<path d="M546.2 298.9v74.2"/>
<path d="M403.1 234.0v50.9"/>
<path d="M776.5 569.2v65.1"/>
<path d="M828.1 571.0v22.0"/>
<path d="M1137.4 571.9v22.0"/>
<path d="M1140.0 500.7v84.4"/>
<path d="M1203.6 590.0v45.7"/>
<path d="M678.0 383.1v70.3"/>
<path d="M895.7 544.1v71.8"/>
<path d="M576.2 351.8v22.0"/>
<path d="M681.5 410.0v58.8"/>
<path d="M1018.0 573.7v27.7"/>
<path d="M813.0 558.9v46.5"/>
<path d="M675.1 415.4v76.7"/>
<path d="M834.4 565.6v79.7"/>
<path d="M691.3 403.6v38.8"/>
<path d="M1153.3 601.5v45.9"/>
<path d="M599.5 335.7v64.6"/>
<path d="M360.5 244.0v40.6"/>
<path d="M975.3 556.0v22.0"/>
<path d="M226.4 234.1v22.0"/>
<path d="M245.0 144.5v134.2"/>
<path d="M504.2 242.9v26.5"/>
<path d="M1126.8 497.1v136.3"/>
<path d="M981.3 570.4v69.1"/>
<path d="M462.0 168.0v70.0"/>
<path d="M820.8 563.1v57.9"/>
<path d="M324.2 275.9v195.7"/>
<path d="M1197.1 594.2v34.5"/>
<path d="M970.9 553.3v89.2"/>
<path d="M1037.0 590.4v28.5"/>
<path d="M919.7 586.1v36.9"/>
<path d="M1088.9 522.8v22.0"/>
<path d="M649.9 262.6v189.4"/>
<path d="M1050.0 575.1v42.4"/>
<path d="M504.2 227.3v46.9"/>
<path d="M1190.7 479.0v178.8"/>
<path d="M872.3 501.1v36.9"/>
<path d="M828.1 584.0v26.7"/>
<path d="M668.0 359.7v22.0"/>
<path d="M474.8 191.6v129.7"/>
<path d="M388.3 234.4v73.8"/>
<path d="M586.4 285.2v204.0"/>
<path d="M940.4 512.8v76.8"/>
<path d="M1072.0 573.7v22.0"/>
<path d="M906.9 535.6v83.4"/>
<path d="M1080.0 603.1v31.7"/>
<path d="M1013.7 549.4v45.0"/>
<path d="M853.8 567.2v43.3"/>
<path d="M971.0 566.5v30.5"/>
<path d="M399.8 95.8v152.0"/>
<path d="M615.5 334.1v88.3"/>
<path d="M545.0 394.0v100.0"/>
<path d="M763.3 574.7v52.5"/>
<path d="M776.5 582.9v32.5"/>
<path d="M938.3 541.7v34.6"/>
<path d="M1203.6 607.1v41.8"/>
<path d="M1216.1 574.8v56.3"/>
<path d="M231.3 200.8v85.8"/>
<path d="M966.0 558.7v25.8"/>
<path d="M1150.4 525.0v98.2"/>
<path d="M908.8 584.3v65.5"/>
<path d="M839.0 539.4v111.7"/>
<path d="M504.8 242.7v22.9"/>
<path d="M1094.3 552.2v82.7"/>
<path d="M703.9 398.8v35.2"/>
<path d="M392.3 248.5v26.0"/>
<path d="M953.4 524.5v116.6"/>
<path d="M564.1 314.2v47.2"/>
<path d="M895.7 551.8v58.9"/>
<path d="M1070.9 556.0v30.8"/>
<path d="M865.8 548.2v117.6"/>
<path d="M1042.0 630.9v50.0"/>
<path d="M859.7 559.5v57.5"/>
<path d="M703.9 394.7v46.9"/>
<path d="M825.0 540.1v96.5"/>
<path d="M470.6 261.8v39.5"/>
<path d="M864.3 589.5v63.1"/>
<path d="M234.4 190.7v91.6"/>
<path d="M1074.7 554.3v22.0"/>
<path d="M865.8 529.3v77.8"/>
<path d="M374.6 245.8v30.0"/>
<path d="M660.6 421.6v64.3"/>
<path d="M908.8 558.8v47.8"/>
<path d="M968.9 585.4v49.4"/>
<path d="M370.8 340.4v100.0"/>
<path d="M496.6 267.6v41.0"/>
<path d="M853.7 545.2v65.0"/>
<path d="M1149.1 579.8v70.6"/>
<path d="M489.7 237.5v44.6"/>
<path d="M1252.8 587.7v27.2"/>
<path d="M867.5 559.6v77.4"/>
<path d="M819.0 558.0v23.2"/>
<path d="M303.3 341.7v56.5"/>
<path d="M1037.0 589.7v22.0"/>
<path d="M378.9 229.3v87.9"/>
<path d="M560.7 308.9v48.4"/>
<path d="M259.0 224.3v64.5"/>
<path d="M953.4 532.5v39.0"/>
<path d="M1045.7 583.5v96.8"/>
<path d="M454.3 243.3v78.1"/>
<path d="M259.0 185.2v100.6"/>
<path d="M1137.4 585.1v36.4"/>
<path d="M1024.9 579.7v47.9"/>
<path d="M1143.0 562.2v32.3"/>
<path d="M1173.2 466.8v159.5"/>
<path d="M451.8 255.8v23.8"/>
<path d="M364.7 258.8v54.2"/>
<path d="M450.0 192.9v104.3"/>
<path d="M996.9 516.9v139.4"/>
<path d="M1086.7 536.9v123.6"/>
<path d="M519.8 241.7v36.7"/>
<path d="M571.8 328.2v103.7"/>
<path d="M737.5 370.0v111.2"/>
<path d="M521.8 222.8v68.2"/>
<path d="M346.8 348.7v89.1"/>
<path d="M1252.8 600.5v27.3"/>
<path d="M235.7 239.4v85.3"/>
<path d="M315.9 330.0v100.7"/>
<path d="M1157.0 564.2v72.0"/>
<path d="M298.1 235.7v62.4"/>
<path d="M1132.0 556.2v41.6"/>
<path d="M985.7 565.7v31.4"/>
<path d="M1259.4 607.5v53.5"/>
<path d="M1173.2 558.1v81.8"/>
<path d="M735.2 405.0v44.7"/>
<path d="M1280.9 527.8v29.0"/>
<path d="M638.3 379.1v34.5"/>
<path d="M996.9 567.3v41.8"/>
<path d="M1252.9 540.2v65.5"/>
<path d="M1263.1 534.1v91.4"/>
<path d="M631.0 406.8v93.0"/>
<path d="M594.3 356.7v55.2"/>
<path d="M333.0 337.3v108.2"/>
<path d="M1193.2 547.2v52.7"/>
<path d="M938.3 551.1v41.0"/>
<path d="M1197.1 549.3v71.1"/>
<path d="M529.5 109.3v96.5"/>
<path d="M1061.1 566.4v68.2"/>
<path d="M558.9 364.5v83.5"/>
<path d="M1158.8 548.7v83.4"/>
<path d="M554.3 277.1v60.9"/>
<path d="M992.3 546.2v62.9"/>
<path d="M1044.5 600.4v26.0"/>
<path d="M825.0 566.6v46.0"/>
<path d="M483.4 258.3v31.9"/>
<path d="M377.7 226.1v59.9"/>
<path d="M986.6 568.8v33.5"/>
<path d="M327.6 230.0v64.0"/>
<path d="M1279.3 545.7v49.8"/>
<path d="M229.9 194.7v99.0"/>
<path d="M1175.2 518.5v79.6"/>
<path d="M665.5 314.2v61.6"/>
<path d="M270.9 244.5v24.8"/>
<path d="M693.0 379.2v72.6"/>
<path d="M1059.6 540.0v48.2"/>
<path d="M353.1 235.6v73.2"/>
<path d="M864.3 574.4v42.1"/>
<path d="M1156.9 516.8v83.1"/>
<path d="M1055.0 589.2v49.4"/>
<path d="M986.6 581.3v22.5"/>
<path d="M1128.6 562.7v41.9"/>
<path d="M335.8 357.6v50.0"/>
<path d="M992.3 470.3v118.4"/>
<path d="M1047.2 548.3v71.9"/>
<path d="M634.4 376.1v49.4"/>
<path d="M299.2 246.1v43.3"/>
<path d="M1170.7 519.3v137.3"/>
<path d="M533.0 165.0v70.0"/>
<path d="M724.0 387.9v41.3"/>
<path d="M784.5 548.2v67.9"/>
<path d="M703.9 368.9v141.3"/>
<path d="M1257.1 546.1v66.3"/>
<path d="M1034.6 603.7v59.7"/>
<path d="M586.4 310.0v66.4"/>
<path d="M510.1 239.4v42.1"/>
<path d="M1173.3 502.1v173.6"/>
<path d="M1059.6 548.7v62.7"/>
<path d="M1076.3 577.6v43.6"/>
<path d="M485.6 246.2v36.9"/>
<path d="M726.8 401.0v57.4"/>
<path d="M234.4 202.2v81.2"/>
<path d="M834.4 586.5v39.2"/>
<path d="M1086.7 528.6v68.6"/>
<path d="M892.8 557.2v28.0"/>
<path d="M740.3 358.3v53.9"/>
<path d="M1294.5 552.2v72.3"/>
<path d="M772.2 563.2v108.0"/>
<path d="M1154.3 566.3v53.3"/>
<path d="M566.9 337.2v52.9"/>
<path d="M443.3 218.5v58.4"/>
<path d="M1187.5 536.8v81.5"/>
<path d="M345.4 330.8v22.0"/>
<path d="M346.7 339.3v35.4"/>
<path d="M615.4 305.5v77.2"/>
<path d="M494.5 230.7v52.6"/>
<path d="M615.4 277.5v113.1"/>
<path d="M508.5 263.9v61.0"/>
<path d="M582.3 327.4v31.6"/>
<path d="M1225.1 623.1v31.4"/>
<path d="M955.6 525.0v72.3"/>
<path d="M1018.0 576.0v40.3"/>
<path d="M675.1 405.6v25.7"/>
<path d="M450.0 209.7v77.6"/>
<path d="M647.4 373.0v64.4"/>
<path d="M202.1 261.5v55.7"/>
<path d="M966.0 554.4v59.2"/>
<path d="M599.5 304.9v89.6"/>
<path d="M746.9 563.5v30.4"/>
<path d="M196.3 234.7v37.4"/>
<path d="M327.1 341.8v47.4"/>
<path d="M1264.9 605.8v44.0"/>
<path d="M791.8 561.0v59.4"/>
<path d="M1028.5 563.7v58.2"/>
<path d="M927.2 471.0v60.0"/>
<path d="M1266.3 546.4v68.9"/>
<path d="M767.4 597.6v132.0"/>
<path d="M687.0 370.1v27.4"/>
<path d="M590.0 352.4v45.8"/>
<path d="M315.9 308.4v58.6"/>
<path d="M524.8 234.0v74.1"/>
<path d="M1168.7 523.3v140.4"/>
<path d="M245.0 272.4v82.1"/>
<path d="M221.5 236.7v27.3"/>
<path d="M476.0 241.2v100.8"/>
<path d="M1061.1 548.4v38.9"/>
<path d="M836.3 584.5v22.0"/>
<path d="M535.3 121.6v88.4"/>
<path d="M773.2 558.6v81.5"/>
<path d="M832.5 517.6v104.2"/>
<path d="M1279.6 640.0v148.0"/>
<path d="M691.3 398.9v31.0"/>
<path d="M1218.2 552.1v51.7"/>
<path d="M458.1 211.0v77.8"/>
<path d="M968.9 516.4v76.7"/>
<path d="M1010.4 564.9v26.6"/>
<path d="M443.3 269.4v22.0"/>
<path d="M1134.0 559.8v69.9"/>
<path d="M451.8 249.5v38.7"/>
<path d="M638.2 371.8v33.3"/>
<path d="M1123.1 559.1v54.3"/>
<path d="M1193.3 602.5v33.6"/>
<path d="M568.7 258.3v70.2"/>
<path d="M343.0 345.9v56.6"/>
<path d="M600.9 219.7v65.4"/>
<path d="M872.3 576.7v39.6"/>
<path d="M978.4 559.9v52.7"/>
<path d="M626.6 314.6v40.2"/>
<path d="M782.6 538.0v85.0"/>
<path d="M1105.0 531.6v106.4"/>
<path d="M840.6 546.9v59.6"/>
<path d="M1218.2 547.1v46.1"/>
<path d="M859.7 528.9v102.8"/>
<path d="M550.0 339.4v30.6"/>
<path d="M568.7 235.7v51.9"/>
<path d="M1185.7 544.0v42.3"/>
<path d="M765.3 557.9v55.5"/>
<path d="M370.1 238.7v32.1"/>
<path d="M501.6 189.6v29.2"/>
<path d="M825.0 524.3v89.6"/>
<path d="M1264.8 536.2v68.8"/>
<path d="M454.2 226.6v85.5"/>
<path d="M1263.2 524.7v114.4"/>
<path d="M267.5 131.1v54.5"/>
<path d="M409.7 212.9v70.8"/>
<path d="M238.4 232.4v73.4"/>
<path d="M665.6 364.1v37.9"/>
<path d="M849.9 570.9v43.2"/>
<path d="M533.8 96.6v88.6"/>
<path d="M699.3 394.8v59.5"/>
<path d="M1134.0 554.8v37.9"/>
<path d="M547.7 306.1v79.4"/>
<path d="M571.8 353.7v52.0"/>
<path d="M681.5 403.2v32.3"/>
<path d="M1154.4 591.0v39.4"/>
<path d="M566.9 346.7v29.7"/>
<path d="M470.5 266.0v22.0"/>
<path d="M957.3 534.3v55.3"/>
<path d="M794.3 526.1v107.2"/>
<path d="M818.9 573.5v36.6"/>
<path d="M220.4 120.2v192.1"/>
<path d="M378.9 240.5v58.8"/>
<path d="M327.7 190.0v56.0"/>
<path d="M196.3 272.8v23.7"/>
<path d="M959.6 555.0v22.0"/>
<path d="M1199.1 545.4v46.3"/>
<path d="M643.0 397.0v146.0"/>
<path d="M458.1 239.2v43.3"/>
<path d="M447.0 250.6v28.5"/>
<path d="M1056.9 503.3v207.5"/>
<path d="M622.3 330.9v30.8"/>
<path d="M769.5 542.9v66.9"/>
<path d="M834.4 511.0v106.5"/>
<path d="M334.9 314.5v35.3"/>
<path d="M1030.8 607.9v47.5"/>
<path d="M857.2 550.9v51.6"/>
<path d="M609.4 343.5v54.8"/>
<path d="M961.0 554.6v45.7"/>
<path d="M1190.7 546.6v67.7"/>
<path d="M791.8 587.7v32.2"/>
<path d="M215.0 226.0v44.5"/>
<path d="M189.0 229.2v22.0"/>
<path d="M255.3 198.1v51.7"/>
<path d="M547.6 350.4v42.9"/>
<path d="M1074.8 632.1v82.0"/>
<path d="M582.3 378.8v64.7"/>
<path d="M1257.1 580.3v41.7"/>
<path d="M1098.2 588.5v31.2"/>
<path d="M338.1 325.2v64.3"/>
<path d="M769.4 536.5v125.7"/>
<path d="M409.7 226.1v37.9"/>
<path d="M1135.9 527.8v47.9"/>
<path d="M784.5 533.0v62.1"/>
<path d="M1181.5 547.6v155.2"/>
<path d="M445.4 233.9v43.7"/>
<path d="M1080.1 567.7v93.8"/>
<path d="M259.0 177.7v99.4"/>
<path d="M782.6 522.8v106.6"/>
<path d="M349.3 353.6v61.3"/>
<path d="M240.7 186.0v77.6"/>
<path d="M306.4 304.2v80.3"/>
<path d="M740.3 393.1v56.7"/>
<path d="M750.0 517.6v111.4"/>
<path d="M558.9 365.5v22.0"/>
<path d="M319.4 255.2v128.1"/>
<path d="M253.5 221.7v73.9"/>
<path d="M423.9 236.0v22.0"/>
<path d="M1207.7 563.3v42.1"/>
<path d="M779.7 443.0v102.0"/>
<path d="M594.2 289.9v57.9"/>
<path d="M527.9 122.3v32.2"/>
<path d="M508.5 253.9v32.7"/>
<path d="M634.4 375.0v38.8"/>
<path d="M554.3 352.8v32.3"/>
<path d="M1164.4 488.4v132.7"/>
<path d="M1177.7 546.6v76.8"/>
<path d="M1279.2 590.7v22.0"/>
<path d="M1156.9 576.9v89.5"/>
<path d="M1130.6 565.3v81.7"/>
<path d="M1066.6 547.2v44.8"/>
<path d="M1289.9 551.3v50.0"/>
<path d="M744.0 568.2v39.1"/>
<path d="M640.4 360.5v46.2"/>
<path d="M337.5 242.9v207.5"/>
<path d="M747.0 578.8v47.1"/>
<path d="M715.7 349.3v37.4"/>
<path d="M607.8 323.6v56.8"/>
<path d="M1018.0 569.2v36.0"/>
<path d="M534.7 3.0v234.0"/>
<path d="M767.8 560.2v28.5"/>
<path d="M305.7 295.8v116.0"/>
<path d="M959.6 570.0v40.0"/>
<path d="M251.2 189.3v156.3"/>
<path d="M290.6 267.1v43.6"/>
<path d="M470.5 227.6v48.9"/>
<path d="M1185.7 593.5v22.0"/>
<path d="M292.0 258.2v56.4"/>
<path d="M1250.5 535.6v63.3"/>
<path d="M917.0 585.9v59.5"/>
<path d="M564.1 306.0v59.4"/>
<path d="M626.6 326.6v73.2"/>
<path d="M551.8 351.3v36.1"/>
<path d="M832.4 522.6v137.0"/>
<path d="M1284.1 583.2v30.2"/>
<path d="M644.6 345.0v81.9"/>
<path d="M938.2 568.5v36.2"/>
<path d="M1267.0 440.0v90.0"/>
<path d="M594.9 316.4v34.4"/>
<path d="M1272.1 529.2v53.1"/>
<path d="M1177.7 561.7v82.6"/>
<path d="M197.8 220.4v61.4"/>
<path d="M1284.1 519.7v105.7"/>
<path d="M313.7 368.1v40.8"/>
<path d="M1030.9 606.0v27.2"/>
<path d="M1212.0 556.9v71.2"/>
<path d="M310.7 329.1v46.0"/>
<path d="M189.0 248.7v68.5"/>
<path d="M1291.3 577.4v39.4"/>
<path d="M529.5 103.8v76.7"/>
<path d="M1130.6 562.6v49.2"/>
<path d="M991.7 523.9v169.4"/>
<path d="M1158.9 509.5v88.4"/>
<path d="M578.0 364.1v46.3"/>
<path d="M1177.7 545.9v49.5"/>
<path d="M865.0 481.0v128.0"/>
<path d="M1156.9 568.2v53.6"/>
<path d="M517.0 241.9v30.1"/>
<path d="M399.4 251.9v31.5"/>
<path d="M594.9 362.2v22.4"/>
<path d="M777.3 589.5v66.9"/>
<path d="M724.0 407.2v28.1"/>
<path d="M353.1 242.6v22.0"/>
<path d="M234.4 219.9v40.1"/>
<path d="M315.9 330.9v61.6"/>
<path d="M707.6 384.4v78.4"/>
<path d="M238.4 232.8v49.2"/>
<path d="M333.1 314.0v101.5"/>
<path d="M1069.3 545.9v52.4"/>
<path d="M1120.5 578.8v58.7"/>
<path d="M499.8 234.6v73.9"/>
<path d="M366.9 196.4v72.8"/>
<path d="M644.6 317.7v150.7"/>
<path d="M1050.0 556.4v53.1"/>
<path d="M919.7 551.0v76.1"/>
<path d="M1126.9 561.5v60.4"/>
<path d="M255.4 204.2v50.0"/>
<path d="M538.3 255.2v67.8"/>
<path d="M1056.9 550.0v62.1"/>
<path d="M737.5 363.6v94.1"/>
<path d="M405.3 242.3v42.1"/>
<path d="M1205.4 567.1v42.8"/>
<path d="M996.9 535.2v75.6"/>
<path d="M378.9 252.5v34.5"/>
<path d="M1065.3 543.9v103.2"/>
<path d="M472.3 229.9v53.0"/>
<path d="M822.5 538.9v45.4"/>
<path d="M346.7 351.3v58.6"/>
<path d="M512.4 229.5v58.9"/>
<path d="M586.5 284.9v156.9"/>
<path d="M597.6 227.2v50.9"/>
<path d="M314.2 345.6v44.8"/>
<path d="M851.9 581.0v69.2"/>
<path d="M968.9 559.9v48.7"/>
<path d="M673.8 371.1v44.7"/>
<path d="M271.0 237.2v22.0"/>
<path d="M194.5 211.5v55.5"/>
<path d="M844.9 589.7v39.7"/>
<path d="M1078.2 562.6v33.1"/>
<path d="M220.5 223.4v38.0"/>
<path d="M1120.5 561.6v50.9"/>
<path d="M1022.2 523.5v97.0"/>
<path d="M1018.1 574.7v22.5"/>
<path d="M653.3 410.4v33.7"/>
<path d="M1158.8 544.2v73.8"/>
<path d="M224.6 201.3v100.3"/>
<path d="M494.6 292.7v90.0"/>
<path d="M524.9 256.1v30.8"/>
<path d="M1263.1 556.0v51.5"/>
<path d="M1181.5 493.3v118.3"/>
<path d="M1076.3 591.4v51.6"/>
<path d="M485.7 195.7v104.1"/>
<path d="M1083.6 566.8v60.9"/>
<path d="M321.0 323.2v58.1"/>
<path d="M1128.6 538.7v48.6"/>
<path d="M588.2 330.5v41.5"/>
<path d="M1252.8 573.5v23.0"/>
<path d="M303.3 358.2v32.4"/>
<path d="M492.8 225.3v49.2"/>
<path d="M1014.2 553.6v51.0"/>
<path d="M504.8 246.7v29.0"/>
<path d="M1137.5 529.8v69.2"/>
<path d="M1279.2 584.7v36.4"/>
<path d="M517.0 254.9v26.1"/>
<path d="M322.9 324.9v48.8"/>
<path d="M1082.8 557.2v49.5"/>
<path d="M819.0 588.8v49.4"/>
<path d="M634.4 398.7v22.0"/>
<path d="M221.5 241.4v51.3"/>
<path d="M1003.1 537.1v126.6"/>
<path d="M245.0 165.1v207.5"/>
<path d="M767.8 538.1v77.3"/>
<path d="M1154.4 575.9v37.2"/>
<path d="M791.8 561.2v42.7"/>
<path d="M240.5 242.7v79.8"/>
<path d="M635.8 386.6v71.4"/>
<path d="M396.4 207.1v48.8"/>
<path d="M660.6 352.1v76.5"/>
<path d="M492.8 175.2v101.4"/>
<path d="M567.0 338.7v26.8"/>
<path d="M1282.4 556.4v51.6"/>
<path d="M872.2 571.1v43.6"/>
<path d="M1193.3 567.9v71.6"/>
<path d="M1219.6 542.6v46.0"/>
<path d="M1053.1 572.2v44.9"/>
<path d="M324.9 354.0v68.2"/>
<path d="M318.1 305.0v53.6"/>
<path d="M1135.9 553.4v56.5"/>
<path d="M247.8 230.7v40.8"/>
<path d="M474.8 218.6v73.6"/>
<path d="M819.0 564.3v40.1"/>
<path d="M261.6 197.3v101.3"/>
<path d="M383.2 231.4v40.1"/>
<path d="M1175.2 526.2v140.5"/>
<path d="M579.6 302.0v100.3"/>
<path d="M844.1 569.2v44.4"/>
<path d="M521.8 226.4v47.9"/>
<path d="M1254.6 561.8v72.9"/>
<path d="M1154.4 573.5v35.1"/>
<path d="M996.9 542.6v79.9"/>
<path d="M1008.6 561.6v59.0"/>
<path d="M1010.4 520.8v27.2"/>
<path d="M606.3 294.0v97.9"/>
<path d="M351.2 349.3v22.0"/>
<path d="M343.9 347.1v45.5"/>
<path d="M796.4 550.8v36.2"/>
<path d="M1264.9 511.7v165.4"/>
<path d="M1006.6 588.5v52.0"/>
<path d="M735.2 413.3v43.9"/>
<path d="M711.1 407.3v22.0"/>
<path d="M713.7 329.4v123.6"/>
<path d="M257.2 228.2v51.1"/>
<path d="M220.5 192.5v77.9"/>
<path d="M961.1 577.2v31.2"/>
<path d="M1026.4 588.0v22.0"/>
<path d="M290.5 223.8v66.1"/>
<path d="M226.4 225.8v39.7"/>
<path d="M829.1 552.7v36.5"/>
<path d="M925.2 560.8v51.1"/>
<path d="M961.1 570.8v22.0"/>
<path d="M1199.1 586.1v29.1"/>
<path d="M423.9 202.5v109.4"/>
<path d="M989.6 563.2v61.3"/>
<path d="M1055.0 579.5v23.6"/>
<path d="M257.2 177.5v79.9"/>
<path d="M337.5 296.1v96.0"/>
<path d="M1294.5 543.5v70.1"/>
<path d="M546.2 361.6v28.2"/>
<path d="M1074.7 579.0v22.0"/>
<path d="M299.2 252.2v45.7"/>
<path d="M476.0 254.7v30.1"/>
<path d="M861.1 563.7v43.0"/>
<path d="M414.0 241.4v64.7"/>
<path d="M908.8 472.5v86.9"/>
<path d="M1209.7 598.9v57.3"/>
<path d="M1163.5 586.8v34.7"/>
<path d="M324.2 342.6v49.2"/>
<path d="M494.6 215.5v37.7"/>
<path d="M1010.4 570.3v42.2"/>
<path d="M590.0 220.4v98.6"/>
<path d="M872.3 603.5v27.5"/>
<path d="M1000.0 499.9v200.5"/>
<path d="M754.6 535.3v49.1"/>
<path d="M1277.2 560.2v53.3"/>
<path d="M334.9 332.5v54.7"/>
<path d="M259.9 197.9v29.8"/>
<path d="M245.0 126.1v172.2"/>
<path d="M1126.9 512.3v138.9"/>
<path d="M597.6 317.3v72.1"/>
<path d="M571.8 197.0v80.0"/>
<path d="M420.9 170.8v134.5"/>
<path d="M312.1 318.7v28.6"/>
<path d="M501.5 215.4v55.1"/>
<path d="M338.1 334.4v71.5"/>
<path d="M1069.3 571.5v52.6"/>
<path d="M508.4 246.5v37.7"/>
<path d="M579.6 306.8v104.5"/>
<path d="M776.5 562.9v67.5"/>
<path d="M265.6 216.5v38.7"/>
<path d="M707.6 446.7v31.4"/>
<path d="M240.6 203.3v102.9"/>
<path d="M981.3 535.8v41.5"/>
<path d="M1066.6 494.6v57.0"/>
<path d="M547.7 343.1v40.1"/>
<path d="M999.9 580.6v31.4"/>
<path d="M711.1 375.7v63.4"/>
<path d="M555.0 320.6v42.7"/>
<path d="M782.6 576.7v73.7"/>
<path d="M655.7 394.3v22.8"/>
<path d="M423.9 267.2v37.1"/>
<path d="M713.7 338.0v80.4"/>
<path d="M1279.2 591.5v34.5"/>
<path d="M851.8 539.7v112.4"/>
<path d="M1183.0 542.0v103.2"/>
<path d="M611.6 314.8v54.7"/>
<path d="M226.4 245.5v31.3"/>
<path d="M1056.9 534.0v88.8"/>
<path d="M813.0 560.7v41.2"/>
<path d="M1294.5 553.7v59.3"/>
<path d="M1004.7 479.2v181.1"/>
<path d="M699.4 381.7v44.1"/>
<path d="M1269.8 568.4v46.1"/>
<path d="M693.1 384.4v41.2"/>
<path d="M1274.8 594.2v66.8"/>
<path d="M443.3 184.0v99.7"/>
<path d="M679.8 377.4v34.0"/>
<path d="M483.5 223.9v71.4"/>
<path d="M1219.6 503.0v30.4"/>
<path d="M590.0 341.5v40.9"/>
<path d="M691.2 398.7v51.2"/>
<path d="M1123.0 596.7v22.7"/>
<path d="M719.4 382.3v22.3"/>
<path d="M305.7 360.1v86.1"/>
<path d="M853.8 501.7v60.9"/>
<path d="M496.6 197.9v89.0"/>
<path d="M1059.6 581.0v22.0"/>
<path d="M1257.1 488.0v126.4"/>
<path d="M684.0 402.9v48.7"/>
<path d="M245.0 226.8v72.2"/>
<path d="M551.9 287.5v36.5"/>
<path d="M640.3 385.3v48.4"/>
<path d="M700.7 409.0v26.5"/>
<path d="M446.9 272.1v46.8"/>
<path d="M994.4 550.4v48.6"/>
<path d="M578.0 321.0v67.6"/>
<path d="M392.4 235.9v28.7"/>
<path d="M205.0 269.8v39.5"/>
<path d="M773.2 544.0v91.0"/>
<path d="M851.8 601.3v41.2"/>
<path d="M951.0 568.3v34.2"/>
<path d="M554.2 336.4v34.2"/>
<path d="M832.5 579.5v40.6"/>
<path d="M1272.1 562.1v24.5"/>
<path d="M1267.8 570.2v89.1"/>
<path d="M468.1 267.2v26.5"/>
<path d="M388.2 237.6v31.7"/>
<path d="M306.4 327.4v78.3"/>
<path d="M407.7 231.6v64.5"/>
<path d="M1212.0 541.2v72.5"/>
<path d="M957.3 550.6v52.2"/>
<path d="M647.5 350.6v108.3"/>
<path d="M955.6 563.6v67.8"/>
<path d="M405.3 263.6v48.5"/>
<path d="M466.2 209.1v84.5"/>
<path d="M197.8 219.2v48.4"/>
<path d="M391.1 241.3v64.9"/>
<path d="M257.2 212.6v49.7"/>
<path d="M1277.2 584.1v41.4"/>
<path d="M443.3 207.4v98.9"/>
<path d="M646.2 395.4v43.5"/>
<path d="M914.5 588.8v25.5"/>
<path d="M407.7 262.3v26.3"/>
<path d="M914.4 563.8v22.0"/>
<path d="M499.7 266.4v22.5"/>
<path d="M989.6 572.1v32.3"/>
<path d="M914.5 561.0v54.6"/>
<path d="M582.3 261.1v44.6"/>
<path d="M1088.9 581.7v22.0"/>
<path d="M374.6 225.7v99.1"/>
<path d="M504.2 250.2v42.6"/>
<path d="M527.9 61.3v118.0"/>
<path d="M1070.9 558.8v65.5"/>
<path d="M966.0 569.1v58.9"/>
<path d="M245.0 163.8v115.5"/>
<path d="M735.2 398.2v45.6"/>
<path d="M562.7 353.6v31.0"/>
<path d="M582.3 330.7v35.9"/>
<path d="M798.9 529.4v134.5"/>
<path d="M1000.1 569.0v76.5"/>
<path d="M982.3 562.4v28.4"/>
<path d="M1010.4 568.7v34.4"/>
<path d="M1254.6 569.6v61.6"/>
<path d="M597.6 336.2v43.0"/>
<path d="M1010.4 558.7v24.6"/>
<path d="M1050.0 602.0v24.8"/>
<path d="M454.3 230.6v62.1"/>
<path d="M662.0 389.7v70.2"/>
<path d="M1042.0 597.4v54.4"/>
<path d="M693.1 346.2v71.7"/>
<path d="M786.2 528.0v76.5"/>
<path d="M1203.0 576.0v148.0"/>
<path d="M606.3 347.3v52.2"/>
<path d="M1193.3 557.9v37.1"/>
<path d="M687.0 382.4v31.6"/>
<path d="M1163.5 586.0v36.6"/>
<path d="M1037.0 598.7v22.0"/>
<path d="M1225.0 574.4v66.3"/>
<path d="M1282.4 531.6v56.8"/>
<path d="M996.9 511.7v125.5"/>
<path d="M653.3 404.9v22.5"/>
<path d="M263.7 226.4v63.4"/>
<path d="M470.5 223.6v40.0"/>
<path d="M1254.6 560.8v92.3"/>
<path d="M1227.8 549.5v115.2"/>
<path d="M1291.3 593.7v42.4"/>
<path d="M595.5 199.0v70.0"/>
<path d="M631.1 325.9v77.7"/>
<path d="M590.1 295.2v71.9"/>
<path d="M466.2 245.2v45.5"/>
<path d="M557.5 334.2v30.0"/>
<path d="M724.0 399.6v81.2"/>
<path d="M1161.7 560.6v74.4"/>
<path d="M1230.5 566.6v32.1"/>
<path d="M331.3 324.9v88.3"/>
<path d="M238.4 194.8v103.1"/>
<path d="M403.1 219.6v49.6"/>
<path d="M1168.7 557.8v52.9"/>
<path d="M377.7 227.3v48.3"/>
<path d="M1047.2 597.8v37.1"/>
<path d="M991.7 550.6v65.6"/>
<path d="M1207.7 551.4v29.6"/>
<path d="M609.5 323.5v30.1"/>
<path d="M425.0 172.0v76.0"/>
<path d="M1056.8 569.8v33.9"/>
<path d="M324.1 344.4v63.0"/>
<path d="M707.7 388.0v49.7"/>
<path d="M1149.1 572.0v75.7"/>
<path d="M1008.6 589.2v22.0"/>
<path d="M1199.2 565.0v55.2"/>
<path d="M813.0 578.3v41.0"/>
<path d="M321.0 362.7v81.9"/>
<path d="M585.4 342.2v38.0"/>
<path d="M715.7 394.9v36.9"/>
<path d="M778.0 565.0v170.0"/>
<path d="M541.0 355.8v32.9"/>
<path d="M1149.0 553.1v78.1"/>
<path d="M1076.3 564.8v42.2"/>
<path d="M546.2 322.7v45.4"/>
<path d="M1105.0 589.1v33.7"/>
<path d="M1225.0 562.1v44.7"/>
<path d="M564.2 311.0v62.7"/>
<path d="M1197.2 573.6v101.0"/>
<path d="M1045.7 587.4v66.6"/>
<path d="M417.7 219.5v62.1"/>
<path d="M1090.8 489.9v130.7"/>
<path d="M309.7 342.0v53.7"/>
<path d="M293.6 253.0v22.0"/>
<path d="M312.0 345.0v26.7"/>
<path d="M309.7 364.4v37.3"/>
<path d="M560.7 324.1v57.0"/>
<path d="M606.3 285.7v65.9"/>
<path d="M754.6 525.5v130.5"/>
<path d="M700.8 425.3v31.6"/>
<path d="M784.4 581.3v37.6"/>
<path d="M535.3 56.8v56.2"/>
<path d="M257.2 179.5v45.1"/>
<path d="M865.8 560.1v80.6"/>
<path d="M296.5 221.8v49.4"/>
<path d="M342.0 220.0v90.0"/>
<path d="M1126.8 536.9v122.3"/>
<path d="M961.1 561.9v27.9"/>
<path d="M407.6 226.0v34.5"/>
<path d="M249.5 191.8v101.0"/>
<path d="M324.1 307.3v132.2"/>
<path d="M489.7 180.8v115.0"/>
<path d="M582.3 362.1v44.6"/>
<path d="M581.1 338.8v25.3"/>
<path d="M697.9 406.9v46.0"/>
<path d="M1272.1 574.0v33.9"/>
<path d="M786.2 577.0v44.4"/>
<path d="M847.6 561.4v65.3"/>
<path d="M903.9 530.4v61.4"/>
<path d="M483.3 205.7v98.0"/>
<path d="M689.9 391.7v22.4"/>
<path d="M391.1 264.2v55.8"/>
<path d="M568.7 350.6v22.0"/>
<path d="M938.2 551.6v22.0"/>
<path d="M1050.0 536.2v56.6"/>
<path d="M669.6 369.6v52.5"/>
<path d="M483.4 160.9v72.2"/>
<path d="M789.4 554.0v32.2"/>
<path d="M1025.0 457.0v106.0"/>
<path d="M337.6 408.0v140.0"/>
<path d="M531.4 122.9v40.3"/>
<path d="M746.9 564.6v22.0"/>
<path d="M1065.3 570.6v57.0"/>
<path d="M267.5 203.3v70.3"/>
<path d="M1266.3 562.8v48.7"/>
<path d="M756.1 530.3v82.9"/>
<path d="M782.7 524.8v114.6"/>
<path d="M407.7 205.4v127.0"/>
<path d="M787.0 477.0v80.0"/>
<path d="M599.5 303.2v100.4"/>
<path d="M619.9 295.4v55.5"/>
<path d="M953.3 564.6v43.5"/>
<path d="M1161.8 591.7v33.6"/>
<path d="M895.8 551.8v44.2"/>
<path d="M378.9 252.0v83.9"/>
<path d="M769.5 573.9v37.3"/>
<path d="M689.9 392.9v46.5"/>
<path d="M1063.2 568.9v33.7"/>
<path d="M1010.4 566.7v38.0"/>
<path d="M1072.1 567.5v44.3"/>
<path d="M531.4 162.7v48.0"/>
<path d="M470.5 216.6v39.7"/>
<path d="M594.2 342.9v25.6"/>
<path d="M829.1 595.3v39.7"/>
<path d="M403.1 237.3v32.2"/>
<path d="M1277.2 585.7v36.8"/>
<path d="M740.3 384.4v27.4"/>
<path d="M971.0 562.6v41.6"/>
<path d="M1053.2 603.5v22.0"/>
<path d="M705.0 375.6v43.6"/>
<path d="M1193.3 565.4v77.2"/>
<path d="M622.2 226.2v43.0"/>
<path d="M728.8 365.5v67.7"/>
<path d="M825.1 571.6v46.9"/>
<path d="M737.5 383.3v63.0"/>
<path d="M687.0 362.6v98.2"/>
<path d="M786.2 532.8v25.8"/>
<path d="M327.1 335.5v44.0"/>
<path d="M1173.2 450.1v207.5"/>
<path d="M653.4 384.3v71.5"/>
<path d="M746.9 567.0v27.9"/>
<path d="M1010.4 514.6v49.9"/>
<path d="M460.2 204.5v91.6"/>
<path d="M611.6 328.9v47.9"/>
<path d="M202.1 232.3v50.4"/>
<path d="M1168.7 555.1v100.5"/>
<path d="M938.3 578.3v22.0"/>
<path d="M1047.2 546.0v66.2"/>
<path d="M1044.0 642.0v60.0"/>
<path d="M1076.3 563.8v51.1"/>
<path d="M849.9 574.8v47.6"/>
<path d="M466.2 229.1v48.9"/>
<path d="M718.0 386.6v58.1"/>
<path d="M1266.3 590.6v105.6"/>
<path d="M472.4 260.6v30.6"/>
<path d="M1274.8 556.7v57.2"/>
<path d="M370.0 232.6v28.0"/>
<path d="M581.1 368.9v27.6"/>
<path d="M1140.1 573.9v24.4"/>
<path d="M600.9 333.3v22.0"/>
<path d="M454.2 216.9v103.7"/>
<path d="M303.4 324.1v88.7"/>
<path d="M558.9 296.4v43.4"/>
<path d="M420.8 231.0v78.1"/>
<path d="M466.2 231.4v65.3"/>
<path d="M293.5 239.7v38.7"/>
<path d="M679.8 435.0v22.0"/>
<path d="M691.3 433.1v22.0"/>
<path d="M1163.5 552.1v85.7"/>
<path d="M494.6 263.3v26.2"/>
<path d="M651.4 394.0v53.8"/>
<path d="M834.4 555.2v49.9"/>
<path d="M485.6 238.4v24.0"/>
<path d="M1008.6 589.8v30.4"/>
<path d="M221.5 245.1v26.7"/>
<path d="M1294.5 568.6v40.7"/>
<path d="M849.9 585.5v70.4"/>
<path d="M324.9 345.1v22.0"/>
<path d="M1163.6 570.7v54.2"/>
<path d="M631.0 361.2v97.6"/>
<path d="M550.1 321.5v33.9"/>
<path d="M1063.2 566.7v97.6"/>
<path d="M992.3 473.6v156.1"/>
<path d="M961.1 565.7v35.8"/>
<path d="M454.3 244.6v40.9"/>
<path d="M861.1 554.7v115.8"/>
<path d="M305.7 322.6v64.2"/>
<path d="M513.8 233.6v52.3"/>
<path d="M934.1 540.8v71.1"/>
<path d="M859.8 564.6v51.4"/>
<path d="M900.5 598.0v30.4"/>
<path d="M1134.0 532.0v47.8"/>
<path d="M414.0 247.7v46.4"/>
<path d="M1187.5 570.5v43.1"/>
<path d="M611.6 335.4v35.2"/>
<path d="M780.5 543.3v38.6"/>
<path d="M1158.8 578.6v58.5"/>
<path d="M349.2 376.0v43.8"/>
<path d="M1193.2 566.0v55.2"/>
<path d="M318.1 347.2v67.5"/>
<path d="M1092.1 582.5v33.3"/>
<path d="M263.0 146.0v80.0"/>
<path d="M697.6 304.4v82.0"/>
<path d="M571.8 251.9v59.2"/>
<path d="M724.8 373.1v35.9"/>
<path d="M847.5 581.2v59.4"/>
<path d="M255.4 173.3v111.1"/>
<path d="M694.8 391.7v22.0"/>
<path d="M1066.6 490.8v56.7"/>
<path d="M253.5 189.2v115.2"/>
<path d="M634.3 408.7v32.8"/>
<path d="M594.9 353.8v24.5"/>
<path d="M577.9 310.6v38.8"/>
<path d="M1219.5 569.5v59.0"/>
<path d="M588.3 311.6v78.7"/>
<path d="M1050.0 561.8v49.7"/>
<path d="M496.6 275.4v30.9"/>
<path d="M1218.2 483.4v64.5"/>
<path d="M302.6 283.1v22.0"/>
<path d="M1004.7 519.3v104.9"/>
<path d="M263.8 196.0v65.5"/>
<path d="M731.4 385.0v74.8"/>
<path d="M606.3 332.4v50.5"/>
<path d="M721.2 416.6v26.7"/>
<path d="M360.5 248.3v45.3"/>
<path d="M1065.3 575.7v50.2"/>
<path d="M822.5 541.3v109.5"/>
<path d="M1291.3 585.6v28.9"/>
<path d="M521.8 167.8v109.6"/>
<path d="M1209.7 546.0v37.6"/>
<path d="M299.2 268.6v40.7"/>
<path d="M951.0 538.4v44.4"/>
<path d="M921.3 556.5v40.7"/>
<path d="M394.0 238.6v61.4"/>
<path d="M1274.9 548.2v103.5"/>
<path d="M205.0 233.1v77.9"/>
<path d="M1080.0 592.8v26.2"/>
<path d="M265.6 205.7v60.3"/>
<path d="M908.9 575.6v85.6"/>
<path d="M1154.4 586.0v56.8"/>
<path d="M574.2 368.4v27.7"/>
<path d="M684.0 392.3v47.2"/>
<path d="M989.6 533.2v70.9"/>
<path d="M728.9 384.8v44.7"/>
<path d="M227.3 233.9v22.0"/>
<path d="M555.0 306.8v54.5"/>
<path d="M1181.5 484.8v173.7"/>
<path d="M1039.5 598.6v41.9"/>
<path d="M581.1 352.4v35.8"/>
<path d="M875.4 559.6v156.0"/>
<path d="M1193.2 543.0v47.6"/>
<path d="M319.4 320.0v144.8"/>
<path d="M1167.9 572.7v71.5"/>
<path d="M1134.0 554.3v29.9"/>
<path d="M550.1 301.7v59.1"/>
<path d="M1149.1 574.8v33.4"/>
<path d="M322.9 342.0v40.8"/>
<path d="M1154.3 574.3v22.0"/>
<path d="M957.3 562.6v32.6"/>
<path d="M501.6 184.5v86.1"/>
<path d="M1024.9 576.5v95.6"/>
<path d="M557.5 341.7v22.0"/>
<path d="M1044.5 544.8v71.9"/>
<path d="M1006.7 558.9v95.9"/>
<path d="M943.0 551.3v76.0"/>
<path d="M1126.9 525.8v133.6"/>
<path d="M1227.9 557.9v75.8"/>
<path d="M227.3 218.0v80.0"/>
<path d="M1082.7 528.9v50.7"/>
<path d="M1196.1 556.8v73.8"/>
<path d="M934.1 515.8v98.2"/>
<path d="M870.7 572.1v30.3"/>
<path d="M221.5 240.7v42.0"/>
<path d="M407.7 210.5v64.0"/>
<path d="M647.5 390.8v62.4"/>
<path d="M290.6 249.2v64.5"/>
<path d="M970.9 541.4v56.3"/>
<path d="M1289.9 540.3v120.6"/>
<path d="M261.5 212.1v43.1"/>
<path d="M657.1 377.3v50.4"/>
<path d="M851.9 531.1v155.1"/>
<path d="M551.9 351.9v30.4"/>
<path d="M1063.2 551.0v36.4"/>
<path d="M1170.7 521.1v141.3"/>
<path d="M413.4 217.0v39.9"/>
<path d="M1006.6 539.2v76.8"/>
<path d="M1008.6 550.8v59.9"/>
<path d="M904.0 573.8v47.1"/>
<path d="M554.6 187.0v126.0"/>
<path d="M533.8 56.1v41.7"/>
<path d="M1212.8 533.0v84.0"/>
<path d="M986.6 581.1v22.1"/>
<path d="M612.0 184.0v50.0"/>
<path d="M813.0 538.0v48.2"/>
<path d="M533.8 69.6v155.9"/>
<path d="M318.0 299.0v101.4"/>
<path d="M253.6 163.9v94.9"/>
<path d="M709.0 343.9v84.6"/>
<path d="M951.0 568.6v29.5"/>
<path d="M240.6 233.1v51.0"/>
<path d="M773.1 519.0v59.6"/>
<path d="M1018.0 548.0v42.4"/>
<path d="M519.8 210.0v63.1"/>
<path d="M635.9 374.7v59.3"/>
<path d="M1140.0 546.1v74.5"/>
<path d="M1086.7 510.2v139.5"/>
<path d="M901.4 509.0v135.8"/>
<path d="M588.3 333.8v79.5"/>
<path d="M768.0 478.0v80.0"/>
<path d="M217.9 228.2v42.7"/>
<path d="M1178.9 600.8v22.0"/>
<path d="M1082.8 599.0v45.0"/>
<path d="M1150.5 554.6v89.0"/>
<path d="M249.4 192.3v31.8"/>
<path d="M377.7 252.7v22.0"/>
<path d="M508.4 247.6v45.1"/>
<path d="M617.2 300.7v68.3"/>
<path d="M780.0 498.0v70.0"/>
<path d="M1124.7 557.5v101.7"/>
<path d="M681.5 392.6v74.2"/>
<path d="M693.0 428.8v49.0"/>
<path d="M651.4 393.9v42.3"/>
<path d="M721.1 350.1v65.3"/>
<path d="M981.3 583.2v29.9"/>
<path d="M303.4 335.0v33.2"/>
<path d="M819.0 573.5v64.3"/>
<path d="M825.0 532.5v121.4"/>
<path d="M331.3 359.2v47.7"/>
<path d="M966.0 543.8v55.9"/>
<path d="M957.3 554.5v32.0"/>
<path d="M1177.7 489.9v141.5"/>
<path d="M1069.4 547.9v47.4"/>
<path d="M927.0 430.0v80.0"/>
<path d="M588.3 338.1v22.0"/>
<path d="M468.0 205.6v28.6"/>
<path d="M719.5 413.0v34.5"/>
<path d="M417.7 244.5v22.0"/>
<path d="M617.0 244.0v60.0"/>
<path d="M447.0 243.5v35.8"/>
<path d="M1267.8 548.8v77.5"/>
<path d="M1120.4 566.4v42.1"/>
<path d="M789.3 582.6v45.1"/>
<path d="M1183.0 557.2v93.8"/>
<path d="M265.6 209.1v82.7"/>
<path d="M934.1 540.6v66.2"/>
<path d="M445.4 217.7v72.9"/>
<path d="M423.8 191.5v59.1"/>
<path d="M815.5 569.4v60.2"/>
<path d="M865.8 494.5v157.1"/>
<path d="M671.6 399.5v22.0"/>
<path d="M381.1 257.3v28.7"/>
<path d="M263.7 175.8v78.7"/>
<path d="M1193.3 561.1v80.2"/>
<path d="M215.0 239.1v39.7"/>
<path d="M1259.4 588.1v43.4"/>
<path d="M312.1 335.8v22.0"/>
<path d="M1036.0 635.0v70.0"/>
<path d="M691.2 400.9v45.2"/>
<path d="M1018.0 587.6v22.0"/>
<path d="M271.0 214.0v55.6"/>
<path d="M241.5 228.1v67.2"/>
<path d="M1088.9 588.1v51.5"/>
<path d="M517.0 239.9v26.9"/>
<path d="M789.3 538.1v83.6"/>
<path d="M1008.6 541.9v67.2"/>
<path d="M1190.7 563.3v69.0"/>
<path d="M976.9 562.5v38.6"/>
<path d="M462.4 261.5v28.7"/>
<path d="M733.0 408.7v55.1"/>
<path d="M535.3 130.5v59.4"/>
<path d="M971.0 566.1v22.0"/>
<path d="M1059.6 614.4v31.8"/>
<path d="M981.3 528.0v120.6"/>
<path d="M1161.7 547.1v103.6"/>
<path d="M703.9 401.4v30.0"/>
<path d="M1034.6 583.7v56.8"/>
<path d="M1072.0 524.4v52.3"/>
<path d="M499.8 250.7v83.0"/>
<path d="M1044.5 581.4v31.6"/>
<path d="M718.0 385.7v119.8"/>
<path d="M813.0 522.4v114.8"/>
<path d="M533.8 91.4v68.9"/>
<path d="M820.7 516.0v111.1"/>
<path d="M903.9 556.3v39.6"/>
<path d="M455.9 239.3v28.9"/>
<path d="M786.2 518.4v67.5"/>
<path d="M870.8 573.1v27.6"/>
<path d="M372.9 253.0v25.0"/>
<path d="M235.8 202.3v38.8"/>
<path d="M1047.2 587.1v28.5"/>
<path d="M1022.2 563.2v39.2"/>
<path d="M834.4 571.9v81.4"/>
<path d="M606.3 291.0v25.7"/>
<path d="M1254.6 589.7v44.2"/>
<path d="M530.6 125.4v73.4"/>
<path d="M1018.0 550.6v22.0"/>
<path d="M940.4 527.9v80.1"/>
<path d="M202.1 236.1v26.6"/>
<path d="M1216.0 542.1v69.8"/>
<path d="M940.4 582.7v50.3"/>
<path d="M971.0 533.4v42.6"/>
<path d="M1053.0 466.0v100.0"/>
<path d="M619.9 298.8v46.3"/>
<path d="M1134.0 546.1v87.2"/>
<path d="M372.9 236.5v35.7"/>
<path d="M1189.6 588.0v52.0"/>
<path d="M1120.0 445.0v80.0"/>
<path d="M263.8 246.7v57.5"/>
<path d="M455.8 242.6v77.1"/>
<path d="M638.3 361.7v59.8"/>
<path d="M906.8 562.1v30.6"/>
<path d="M1277.1 596.3v42.5"/>
<path d="M1059.6 589.7v22.0"/>
<path d="M834.4 594.1v41.0"/>
<path d="M532.4 126.7v23.9"/>
<path d="M971.0 579.0v52.7"/>
<path d="M940.4 506.3v38.2"/>
<path d="M1203.7 536.1v44.3"/>
<path d="M555.0 358.3v68.8"/>
<path d="M394.1 213.4v95.4"/>
<path d="M245.0 244.2v56.6"/>
<path d="M588.3 324.9v54.7"/>
<path d="M646.2 331.8v67.3"/>
<path d="M316.0 354.5v22.8"/>
<path d="M1037.0 582.9v48.6"/>
<path d="M794.2 582.1v58.7"/>
<path d="M709.1 422.6v46.9"/>
<path d="M943.0 543.9v51.3"/>
<path d="M592.5 353.8v57.3"/>
<path d="M1288.5 589.7v29.5"/>
<path d="M1193.3 572.4v64.2"/>
<path d="M454.3 266.7v30.6"/>
<path d="M991.7 571.7v57.7"/>
<path d="M624.3 329.1v28.6"/>
<path d="M1135.9 549.8v59.6"/>
<path d="M1061.1 556.3v96.9"/>
<path d="M763.3 572.3v37.9"/>
<path d="M259.9 188.8v50.5"/>
<path d="M991.7 559.3v57.0"/>
<path d="M334.8 323.3v47.0"/>
<path d="M550.1 333.5v33.1"/>
<path d="M344.0 335.7v31.9"/>
<path d="M693.1 394.4v51.8"/>
<path d="M1039.5 573.7v48.4"/>
<path d="M769.4 575.9v75.4"/>
<path d="M381.1 221.2v43.1"/>
<path d="M345.4 363.3v24.2"/>
<path d="M1254.7 573.3v32.4"/>
<path d="M413.4 227.0v37.3"/>
<path d="M951.0 548.9v56.1"/>
<path d="M1038.8 583.6v35.8"/>
<path d="M820.8 547.5v50.5"/>
<path d="M962.7 539.5v105.7"/>
<path d="M265.6 214.3v36.9"/>
<path d="M684.9 416.2v70.3"/>
<path d="M392.4 243.0v68.1"/>
<path d="M722.0 402.0v120.0"/>
<path d="M1220.7 570.8v65.1"/>
<path d="M564.2 311.2v66.8"/>
<path d="M851.8 532.3v90.5"/>
<path d="M245.0 215.7v86.2"/>
<path d="M460.1 171.5v170.9"/>
<path d="M1020.0 560.1v64.7"/>
<path d="M767.8 547.1v46.4"/>
<path d="M1123.0 532.6v125.4"/>
<path d="M1137.4 543.7v98.6"/>
<path d="M635.9 374.1v63.9"/>
<path d="M496.6 236.1v36.7"/>
<path d="M388.2 247.6v37.6"/>
<path d="M839.0 561.8v46.7"/>
<path d="M619.9 310.1v36.9"/>
<path d="M735.2 389.5v65.5"/>
<path d="M513.9 115.6v207.5"/>
<path d="M917.1 553.5v104.5"/>
<path d="M1000.0 571.2v22.0"/>
<path d="M758.0 498.0v70.0"/>
<path d="M653.3 399.2v110.0"/>
<path d="M550.0 239.0v29.4"/>
<path d="M613.8 320.6v52.6"/>
<path d="M1291.3 583.6v35.5"/>
<path d="M996.9 529.8v55.2"/>
<path d="M1219.5 598.0v26.8"/>
<path d="M700.8 365.7v45.2"/>
<path d="M597.6 254.6v24.2"/>
<path d="M780.5 560.0v29.0"/>
<path d="M588.2 314.9v43.4"/>
<path d="M245.0 133.1v196.7"/>
<path d="M849.9 591.7v67.8"/>
<path d="M992.3 537.0v58.0"/>
<path d="M364.7 209.6v72.2"/>
<path d="M1197.1 552.9v37.4"/>
<path d="M296.4 158.5v84.4"/>
<path d="M513.9 240.4v105.6"/>
<path d="M255.4 190.5v76.2"/>
<path d="M489.7 223.8v45.5"/>
<path d="M1102.8 569.1v36.1"/>
<path d="M321.0 360.2v32.3"/>
<path d="M335.8 316.0v93.1"/>
<path d="M391.1 257.3v45.3"/>
<path d="M940.4 544.3v62.6"/>
<path d="M703.9 363.3v79.6"/>
<path d="M919.7 530.3v46.9"/>
<path d="M1003.1 530.6v98.2"/>
<path d="M253.5 157.4v120.3"/>
<path d="M611.6 324.7v58.4"/>
<path d="M1294.5 571.5v32.6"/>
<path d="M978.5 488.3v140.0"/>
<path d="M959.6 566.4v31.2"/>
<path d="M374.6 211.8v76.2"/>
<path d="M1224.5 454.0v142.0"/>
<path d="M391.1 239.4v61.5"/>
<path d="M1078.1 571.1v41.2"/>
<path d="M750.0 544.6v90.1"/>
<path d="M541.0 358.0v31.2"/>
<path d="M820.8 539.2v78.9"/>
<path d="M836.3 583.9v24.8"/>
<path d="M420.9 236.8v30.4"/>
<path d="M782.7 470.3v134.6"/>
<path d="M822.5 543.1v52.4"/>
<path d="M487.2 248.8v27.2"/>
<path d="M532.0 50.0v156.0"/>
<path d="M1038.8 580.9v62.3"/>
<path d="M1050.0 534.3v125.3"/>
<path d="M381.1 186.8v163.8"/>
<path d="M957.3 545.8v62.5"/>
<path d="M224.6 240.2v53.2"/>
<path d="M480.5 246.3v46.4"/>
<path d="M1173.3 503.5v197.2"/>
<path d="M613.8 357.3v36.8"/>
<path d="M1197.2 526.5v61.0"/>
<path d="M341.5 367.3v41.0"/>
<path d="M414.0 221.8v51.2"/>
<path d="M1020.0 537.4v54.1"/>
<path d="M221.4 240.7v52.6"/>
<path d="M1004.7 560.4v56.1"/>
<path d="M302.6 204.2v81.9"/>
<path d="M293.6 227.1v36.2"/>
<path d="M1122.0 460.0v80.0"/>
<path d="M324.2 328.9v142.0"/>
<path d="M267.4 181.1v129.2"/>
<path d="M388.3 194.8v95.4"/>
<path d="M647.5 365.9v34.1"/>
<path d="M733.0 353.0v102.9"/>
<path d="M859.8 598.0v63.0"/>
<path d="M1128.5 530.0v24.5"/>
<path d="M981.3 552.2v119.5"/>
<path d="M662.0 361.1v89.8"/>
<path d="M769.5 553.8v78.4"/>
<path d="M853.8 534.9v65.8"/>
<path d="M1203.7 541.3v118.6"/>
<path d="M335.8 297.3v84.1"/>
<path d="M1154.4 588.6v49.9"/>
<path d="M238.4 233.7v64.6"/>
<path d="M1207.7 556.9v41.7"/>
<path d="M329.7 329.7v41.2"/>
<path d="M231.3 222.7v48.5"/>
<path d="M1000.0 553.4v38.1"/>
<path d="M478.3 220.4v69.7"/>
<path d="M265.6 177.8v45.1"/>
<path d="M1212.8 529.4v80.9"/>
<path d="M704.9 411.7v22.0"/>
<path d="M341.4 355.8v32.1"/>
<path d="M1083.6 555.5v55.9"/>
<path d="M513.9 198.7v99.4"/>
<path d="M836.3 593.3v22.0"/>
<path d="M996.9 553.6v59.1"/>
<path d="M733.0 410.3v42.6"/>
<path d="M914.4 558.7v43.3"/>
<path d="M955.6 543.7v59.0"/>
<path d="M1147.1 579.5v22.0"/>
<path d="M1161.8 553.4v52.7"/>
<path d="M1053.1 543.2v22.0"/>
<path d="M504.2 219.2v77.3"/>
<path d="M372.9 194.4v63.7"/>
<path d="M660.6 447.3v31.3"/>
<path d="M407.7 159.0v196.5"/>
<path d="M247.8 212.6v54.5"/>
<path d="M1076.3 590.2v27.9"/>
<path d="M545.0 257.2v24.5"/>
<path d="M451.8 235.1v46.9"/>
<path d="M938.3 571.4v35.4"/>
<path d="M312.0 321.4v34.4"/>
<path d="M305.7 316.5v51.7"/>
<path d="M496.6 241.5v33.6"/>
<path d="M1008.6 573.8v62.5"/>
<path d="M519.8 206.2v42.4"/>
<path d="M524.8 246.4v64.9"/>
<path d="M1000.0 566.9v56.0"/>
<path d="M1164.4 546.7v64.8"/>
<path d="M1061.1 563.3v38.8"/>
<path d="M1053.0 500.0v80.0"/>
<path d="M769.5 559.2v87.3"/>
<path d="M261.6 218.8v32.2"/>
<path d="M938.2 552.9v22.0"/>
<path d="M825.0 547.6v84.5"/>
<path d="M405.3 255.6v49.4"/>
<path d="M327.2 283.3v104.2"/>
<path d="M1177.7 562.7v81.3"/>
<path d="M1010.4 552.7v57.4"/>
<path d="M1254.7 576.4v42.1"/>
<path d="M719.5 397.4v42.4"/>
<path d="M895.8 532.3v72.6"/>
<path d="M622.3 302.8v22.3"/>
<path d="M1282.4 549.9v28.2"/>
<path d="M973.2 572.2v59.8"/>
<path d="M396.4 243.8v29.7"/>
<path d="M253.5 180.2v52.7"/>
<path d="M1205.4 587.4v42.1"/>
<path d="M585.4 357.2v54.5"/>
<path d="M458.1 244.7v67.9"/>
<path d="M546.2 330.2v38.2"/>
<path d="M689.9 379.1v44.7"/>
<path d="M1042.0 578.5v43.2"/>
<path d="M1156.9 548.7v180.8"/>
<path d="M324.2 363.0v50.0"/>
<path d="M1201.9 571.0v55.5"/>
<path d="M791.8 580.1v22.0"/>
<path d="M859.8 604.5v22.0"/>
<path d="M1289.9 546.6v156.3"/>
<path d="M671.6 403.9v23.6"/>
<path d="M906.8 568.0v42.7"/>
<path d="M405.3 246.2v72.0"/>
<path d="M968.9 558.5v68.2"/>
<path d="M1066.6 541.7v54.0"/>
<path d="M925.2 605.2v22.0"/>
<path d="M1038.7 577.9v72.5"/>
<path d="M721.0 406.5v26.4"/>
<path d="M1063.2 578.8v38.4"/>
<path d="M585.3 341.4v46.8"/>
<path d="M445.4 145.8v173.7"/>
<path d="M480.5 231.8v22.0"/>
<path d="M513.9 223.8v76.2"/>
<path d="M1086.7 541.4v70.4"/>
<path d="M642.7 398.1v60.2"/>
<path d="M1044.5 582.1v101.1"/>
<path d="M726.7 368.3v74.2"/>
<path d="M1098.2 562.7v22.0"/>
<path d="M599.5 323.2v77.2"/>
<path d="M385.3 249.5v25.1"/>
<path d="M253.5 153.5v144.6"/>
<path d="M220.5 225.6v47.2"/>
<path d="M1006.6 560.8v58.8"/>
<path d="M1223.9 551.1v70.3"/>
<path d="M1076.3 564.5v119.1"/>
<path d="M512.4 235.5v59.8"/>
<path d="M892.9 582.2v76.1"/>
<path d="M480.0 159.0v84.0"/>
<path d="M1076.3 590.4v65.1"/>
<path d="M691.2 396.2v37.1"/>
<path d="M487.1 246.3v29.7"/>
<path d="M1269.7 567.6v42.2"/>
<path d="M726.8 371.0v78.5"/>
<path d="M761.0 546.1v38.8"/>
<path d="M321.1 327.6v91.6"/>
<path d="M642.6 394.9v35.1"/>
<path d="M1072.1 557.6v36.8"/>
<path d="M943.0 529.4v72.7"/>
<path d="M1080.0 580.4v51.6"/>
<path d="M312.1 328.0v45.8"/>
<path d="M1181.5 566.9v71.0"/>
<path d="M247.8 219.2v38.2"/>
<path d="M1140.0 450.8v129.2"/>
<path d="M626.6 300.4v44.3"/>
<path d="M1034.7 556.9v91.3"/>
<path d="M1126.9 519.6v86.2"/>
<path d="M647.5 383.0v43.2"/>
<path d="M274.0 199.8v35.8"/>
<path d="M1147.2 555.5v30.8"/>
<path d="M1167.9 573.8v48.4"/>
<path d="M986.6 588.9v22.0"/>
<path d="M906.8 572.3v51.4"/>
<path d="M1056.9 526.2v95.4"/>
<path d="M263.7 136.3v91.6"/>
<path d="M545.0 341.6v37.9"/>
<path d="M510.0 244.8v59.6"/>
<path d="M318.1 340.4v30.6"/>
<path d="M711.0 409.5v30.2"/>
<path d="M776.6 563.0v34.0"/>
<path d="M815.6 588.6v22.0"/>
<path d="M377.7 222.1v38.1"/>
<path d="M1216.1 543.6v91.3"/>
<path d="M413.4 206.3v61.0"/>
<path d="M585.3 311.4v78.1"/>
<path d="M455.9 249.9v45.3"/>
<path d="M619.9 198.5v41.6"/>
<path d="M470.6 270.9v23.7"/>
<path d="M317.1 363.2v56.6"/>
<path d="M767.8 533.7v42.6"/>
<path d="M1286.5 544.7v27.9"/>
<path d="M925.2 572.0v47.9"/>
<path d="M250.0 210.0v172.0"/>
<path d="M377.7 231.7v73.5"/>
<path d="M769.5 555.6v92.5"/>
<path d="M1227.8 538.1v84.0"/>
<path d="M403.1 205.3v55.2"/>
<path d="M943.0 549.5v47.4"/>
<path d="M487.1 243.0v22.0"/>
<path d="M1269.7 563.7v25.4"/>
<path d="M542.0 372.0v176.0"/>
<path d="M791.8 556.7v72.9"/>
<path d="M1190.7 578.0v38.3"/>
<path d="M1274.2 533.6v85.6"/>
<path d="M1130.5 551.5v111.2"/>
<path d="M558.9 357.6v73.7"/>
<path d="M637.0 432.0v100.0"/>
<path d="M1201.9 545.9v54.3"/>
<path d="M1158.8 522.3v64.2"/>
<path d="M383.3 250.8v31.9"/>
<path d="M1140.0 577.0v75.0"/>
<path d="M735.2 398.1v57.1"/>
<path d="M310.7 340.2v53.2"/>
<path d="M292.0 237.1v70.4"/>
<path d="M521.8 227.8v46.3"/>
<path d="M253.5 233.2v63.7"/>
<path d="M590.1 297.7v81.5"/>
<path d="M635.8 376.5v50.1"/>
<path d="M799.0 555.8v68.0"/>
<path d="M460.2 185.7v74.3"/>
<path d="M1164.4 538.0v47.0"/>
<path d="M908.8 516.7v86.8"/>
<path d="M263.7 208.9v50.6"/>
<path d="M917.1 539.7v76.1"/>
<path d="M966.0 547.2v68.9"/>
<path d="M773.2 568.2v95.6"/>
<path d="M579.6 241.9v116.3"/>
<path d="M671.7 378.2v36.4"/>
<path d="M1120.5 553.9v75.9"/>
<path d="M989.6 543.3v91.6"/>
<path d="M454.2 175.4v49.4"/>
<path d="M859.8 572.6v78.9"/>
<path d="M1000.0 545.7v123.5"/>
<path d="M230.0 235.1v48.1"/>
<path d="M667.9 383.2v29.4"/>
<path d="M439.5 216.3v31.9"/>
<path d="M889.7 530.0v66.1"/>
<path d="M263.7 214.4v53.3"/>
<path d="M936.2 578.7v46.8"/>
<path d="M293.6 217.7v54.3"/>
<path d="M296.5 237.7v37.1"/>
<path d="M205.0 218.0v71.0"/>
<path d="M750.0 567.4v84.6"/>
<path d="M794.3 551.8v95.9"/>
<path d="M635.8 368.4v42.4"/>
<path d="M607.8 296.4v48.7"/>
<path d="M1028.5 544.9v96.0"/>
<path d="M368.0 215.8v112.5"/>
<path d="M640.4 372.9v31.7"/>
<path d="M519.8 223.3v58.0"/>
<path d="M590.0 313.3v40.4"/>
<path d="M519.8 221.5v67.5"/>
<path d="M989.6 581.3v44.5"/>
<path d="M744.0 565.2v86.7"/>
<path d="M975.4 536.7v48.8"/>
<path d="M662.0 345.8v90.1"/>
<path d="M1263.1 519.0v102.0"/>
<path d="M594.9 316.9v36.6"/>
<path d="M1055.0 550.6v35.3"/>
<path d="M1061.1 548.0v83.9"/>
<path d="M940.4 545.4v54.6"/>
<path d="M1132.1 590.4v25.8"/>
<path d="M1178.9 560.8v41.4"/>
<path d="M576.2 310.8v33.2"/>
<path d="M1161.7 498.3v64.8"/>
<path d="M377.7 186.2v122.0"/>
<path d="M604.4 263.8v78.2"/>
<path d="M921.3 593.1v22.0"/>
<path d="M699.3 388.7v99.1"/>
<path d="M1168.6 565.0v99.4"/>
<path d="M638.2 411.4v50.8"/>
<path d="M308.3 316.0v74.0"/>
<path d="M924.3 614.8v132.0"/>
<path d="M985.7 559.2v30.1"/>
<path d="M1086.7 540.8v117.8"/>
<path d="M861.1 556.2v61.3"/>
<path d="M337.5 355.7v67.8"/>
<path d="M1203.7 543.8v100.6"/>
<path d="M521.8 244.7v42.1"/>
<path d="M1082.8 526.6v93.0"/>
<path d="M675.1 367.3v63.1"/>
<path d="M1190.7 565.4v132.5"/>
<path d="M492.8 211.1v64.5"/>
<path d="M839.0 533.5v50.3"/>
<path d="M310.7 366.1v37.7"/>
<path d="M1028.5 549.7v38.6"/>
<path d="M959.5 517.4v76.3"/>
<path d="M1158.0 625.0v80.0"/>
<path d="M1013.7 506.7v40.8"/>
<path d="M468.1 220.2v68.0"/>
<path d="M839.0 582.2v53.6"/>
<path d="M1288.4 575.5v44.7"/>
<path d="M647.4 350.3v65.3"/>
<path d="M1257.1 553.5v97.7"/>
<path d="M1163.6 558.5v101.8"/>
<path d="M1094.3 568.6v66.3"/>
<path d="M671.6 352.1v92.2"/>
<path d="M241.5 230.4v52.5"/>
<path d="M231.3 240.8v57.3"/>
<path d="M450.0 179.5v98.5"/>
<path d="M796.4 515.7v145.6"/>
<path d="M197.8 180.5v153.2"/>
<path d="M1187.5 563.7v23.9"/>
<path d="M773.1 553.0v117.4"/>
<path d="M1123.0 574.1v64.7"/>
<path d="M439.5 265.4v31.5"/>
<path d="M1158.8 489.3v167.2"/>
<path d="M401.0 214.6v60.9"/>
<path d="M585.4 296.6v51.1"/>
<path d="M423.9 209.0v46.2"/>
<path d="M664.2 400.0v38.6"/>
<path d="M544.9 392.0v30.1"/>
<path d="M489.7 234.8v54.4"/>
<path d="M735.2 390.7v35.7"/>
<path d="M399.4 207.7v102.6"/>
<path d="M271.0 224.2v37.9"/>
<path d="M554.3 338.3v61.9"/>
<path d="M1212.8 530.5v57.0"/>
<path d="M1193.3 585.8v48.5"/>
<path d="M936.3 585.8v37.0"/>
<path d="M396.3 214.0v78.8"/>
<path d="M1080.0 577.0v30.6"/>
<path d="M1268.0 389.0v100.0"/>
<path d="M679.7 378.4v27.7"/>
<path d="M1008.6 529.3v157.8"/>
<path d="M1168.7 508.2v174.2"/>
<path d="M247.8 231.2v22.0"/>
<path d="M769.5 531.0v99.2"/>
<path d="M450.0 200.8v73.7"/>
<path d="M1178.9 564.6v66.2"/>
<path d="M1020.0 596.7v26.2"/>
<path d="M303.4 341.4v53.8"/>
<path d="M414.0 288.2v43.2"/>
<path d="M579.6 380.1v45.7"/>
<path d="M689.9 380.8v22.0"/>
<path d="M1120.5 591.3v22.8"/>
<path d="M786.2 541.7v76.3"/>
<path d="M588.3 320.7v48.1"/>
<path d="M550.0 308.1v24.5"/>
<path d="M1039.5 587.0v32.4"/>
<path d="M982.3 552.9v48.9"/>
<path d="M576.2 367.0v25.7"/>
<path d="M870.8 564.1v41.4"/>
<path d="M1205.3 570.1v49.8"/>
<path d="M844.0 541.7v46.7"/>
<path d="M234.4 241.1v50.6"/>
<path d="M309.6 310.6v44.5"/>
<path d="M322.8 349.8v59.1"/>
<path d="M251.2 169.6v79.9"/>
<path d="M1263.1 500.7v112.6"/>
<path d="M1289.9 523.5v99.1"/>
<path d="M985.7 531.1v73.9"/>
<path d="M1187.6 586.6v49.7"/>
<path d="M1003.1 590.4v65.4"/>
<path d="M517.0 229.7v51.9"/>
<path d="M1167.9 598.1v87.2"/>
<path d="M1227.9 531.6v106.7"/>
<path d="M1134.0 579.8v29.7"/>
<path d="M227.3 205.6v43.0"/>
<path d="M772.2 552.9v57.5"/>
<path d="M1267.8 570.4v31.1"/>
<path d="M936.2 541.8v49.9"/>
<path d="M381.1 242.0v47.3"/>
<path d="M302.6 246.5v67.6"/>
<path d="M1076.3 543.8v60.1"/>
<path d="M378.9 248.8v46.0"/>
<path d="M460.2 202.6v72.7"/>
<path d="M1014.2 488.7v90.4"/>
<path d="M1284.0 571.6v69.6"/>
<path d="M1044.4 544.3v33.4"/>
<path d="M1098.2 584.9v46.9"/>
<path d="M772.2 484.8v126.9"/>
<path d="M612.0 206.0v60.0"/>
<path d="M606.3 237.7v105.6"/>
<path d="M607.8 327.2v22.7"/>
<path d="M302.6 260.8v22.0"/>
<path d="M265.7 125.2v201.8"/>
<path d="M299.2 233.2v49.8"/>
<path d="M1123.1 550.7v78.7"/>
<path d="M253.5 179.9v93.8"/>
<path d="M576.2 348.1v40.2"/>
<path d="M715.7 356.1v53.1"/>
<path d="M644.6 386.9v65.0"/>
<path d="M1074.7 527.3v54.4"/>
<path d="M541.0 323.3v46.2"/>
<path d="M640.4 395.2v24.2"/>
<path d="M1135.9 556.1v52.9"/>
<path d="M938.3 575.7v22.0"/>
<path d="M468.1 198.0v65.5"/>
<path d="M622.3 332.7v35.3"/>
<path d="M981.3 504.1v145.4"/>
<path d="M255.4 205.0v56.9"/>
<path d="M360.5 224.2v50.7"/>
<path d="M569.5 327.4v70.1"/>
<path d="M653.3 415.6v34.1"/>
<path d="M314.2 342.8v33.6"/>
<path d="M606.3 325.0v69.8"/>
<path d="M351.2 348.8v56.4"/>
<path d="M263.8 186.0v91.9"/>
<path d="M669.5 402.0v79.2"/>
<path d="M485.7 249.0v65.6"/>
<path d="M508.4 285.9v71.0"/>
<path d="M287.0 245.6v24.6"/>
<path d="M513.8 206.6v139.1"/>
<path d="M579.6 309.3v42.4"/>
<path d="M789.4 599.8v25.8"/>
<path d="M1203.7 564.0v33.8"/>
<path d="M247.7 177.4v91.7"/>
<path d="M796.4 566.9v77.4"/>
<path d="M726.7 372.3v75.1"/>
<path d="M1154.3 574.1v35.1"/>
<path d="M338.1 381.8v86.6"/>
<path d="M908.9 550.1v95.6"/>
<path d="M480.5 226.4v70.8"/>
<path d="M970.9 587.7v35.6"/>
<path d="M417.8 237.2v54.3"/>
<path d="M773.2 511.7v97.0"/>
<path d="M292.0 209.1v34.3"/>
<path d="M962.7 565.6v31.5"/>
<path d="M394.0 215.3v97.5"/>
<path d="M750.0 550.1v86.0"/>
<path d="M655.8 419.7v27.0"/>
<path d="M1185.7 563.5v33.2"/>
<path d="M1044.4 551.2v100.2"/>
<path d="M1004.7 553.8v62.3"/>
<path d="M590.1 325.6v36.8"/>
<path d="M1146.3 384.4v170.0"/>
<path d="M1014.3 531.0v72.3"/>
<path d="M840.5 570.2v44.9"/>
<path d="M1259.3 550.5v38.1"/>
<path d="M255.4 198.3v47.7"/>
<path d="M555.0 266.9v71.3"/>
<path d="M900.5 575.5v29.5"/>
<path d="M657.1 330.3v160.1"/>
<path d="M377.7 228.1v36.2"/>
<path d="M249.4 223.4v32.5"/>
<path d="M1223.9 601.4v24.5"/>
<path d="M1286.5 572.3v39.4"/>
<path d="M697.9 383.3v40.4"/>
<path d="M1128.0 465.0v80.0"/>
<path d="M263.8 225.3v31.6"/>
<path d="M458.0 214.4v44.3"/>
<path d="M423.9 220.0v52.6"/>
<path d="M1143.0 576.5v75.7"/>
<path d="M1190.7 538.3v91.9"/>
<path d="M647.4 371.9v71.8"/>
<path d="M971.0 534.6v32.5"/>
<path d="M496.6 265.5v27.8"/>
<path d="M1105.0 538.9v57.7"/>
<path d="M735.2 409.2v45.0"/>
<path d="M245.0 197.8v117.6"/>
<path d="M321.0 306.7v90.6"/>
<path d="M789.4 564.8v57.4"/>
<path d="M579.5 348.5v54.1"/>
<path d="M820.8 567.0v29.3"/>
<path d="M327.1 345.7v36.1"/>
<path d="M973.2 514.4v67.4"/>
<path d="M1037.0 573.9v37.9"/>
<path d="M538.3 310.1v47.1"/>
<path d="M370.1 233.2v44.1"/>
<path d="M519.8 200.6v63.2"/>
<path d="M318.0 324.9v71.3"/>
<path d="M1105.0 570.4v59.8"/>
<path d="M194.5 204.4v30.7"/>
<path d="M901.5 538.3v56.3"/>
<path d="M1006.6 576.9v62.5"/>
<path d="M1227.8 579.3v36.7"/>
<path d="M496.5 236.7v39.5"/>
<path d="M1018.0 546.3v38.7"/>
<path d="M832.4 593.9v29.3"/>
<path d="M938.3 575.6v29.5"/>
<path d="M673.8 393.8v32.8"/>
<path d="M1024.8 579.6v53.1"/>
<path d="M1140.0 533.5v77.5"/>
<path d="M750.0 545.2v88.7"/>
<path d="M405.3 165.8v67.9"/>
<path d="M1264.9 566.7v70.3"/>
<path d="M782.7 558.9v51.2"/>
<path d="M501.5 239.1v47.1"/>
<path d="M864.3 541.0v27.8"/>
<path d="M487.1 225.2v34.1"/>
<path d="M547.7 340.5v26.0"/>
<path d="M981.3 554.1v91.8"/>
<path d="M1294.5 587.6v38.6"/>
<path d="M335.9 353.6v31.2"/>
<path d="M468.0 238.2v49.3"/>
<path d="M715.7 349.7v95.8"/>
<path d="M798.9 505.0v178.3"/>
<path d="M557.4 338.1v22.0"/>
<path d="M1212.9 543.7v57.5"/>
<path d="M733.0 385.4v48.2"/>
<path d="M955.6 543.3v55.9"/>
<path d="M1177.7 495.1v141.3"/>
<path d="M543.1 235.7v52.1"/>
<path d="M372.9 256.3v53.3"/>
<path d="M521.8 222.5v59.3"/>
<path d="M510.0 246.2v54.0"/>
<path d="M615.4 352.8v49.2"/>
<path d="M1066.6 567.7v62.7"/>
<path d="M796.4 527.3v82.4"/>
<path d="M485.6 241.1v45.5"/>
<path d="M1199.1 581.7v39.7"/>
<path d="M272.5 144.0v112.0"/>
<path d="M177.5 220.0v150.0"/>
<path d="M1163.6 590.4v42.8"/>
<path d="M599.5 309.5v76.4"/>
<path d="M1264.8 506.3v101.0"/>
<path d="M609.5 314.3v39.7"/>
<path d="M333.0 360.9v42.2"/>
<path d="M897.0 525.6v72.1"/>
<path d="M1135.9 527.6v67.2"/>
<path d="M985.7 568.8v28.5"/>
<path d="M1289.9 523.7v52.5"/>
<path d="M1063.2 539.9v66.5"/>
<path d="M335.0 370.0v120.0"/>
<path d="M913.1 578.1v35.6"/>
<path d="M337.6 328.4v40.1"/>
<path d="M675.1 401.8v30.8"/>
<path d="M512.4 251.0v65.8"/>
<path d="M443.3 235.1v32.3"/>
<path d="M568.7 313.3v35.6"/>
<path d="M234.4 200.7v123.1"/>
<path d="M269.6 239.9v39.4"/>
<path d="M407.7 206.3v107.8"/>
<path d="M579.6 288.0v63.2"/>
<path d="M624.4 249.1v58.4"/>
<path d="M644.6 369.5v82.3"/>
<path d="M721.1 350.3v104.0"/>
<path d="M1209.7 556.3v56.6"/>
<path d="M1201.9 596.1v52.7"/>
<path d="M520.0 273.0v120.0"/>
<path d="M943.0 496.9v138.7"/>
<path d="M351.2 319.8v56.9"/>
<path d="M1173.2 571.8v107.5"/>
<path d="M1183.0 589.0v39.0"/>
<path d="M527.9 106.0v36.8"/>
<path d="M420.9 199.4v143.0"/>
<path d="M274.0 208.7v25.0"/>
<path d="M1090.9 562.9v96.9"/>
<path d="M1189.6 572.5v68.3"/>
<path d="M613.8 351.5v34.2"/>
<path d="M840.5 546.5v77.8"/>
<path d="M240.6 242.1v31.1"/>
<path d="M494.6 228.5v60.8"/>
<path d="M968.9 556.6v32.7"/>
<path d="M545.0 329.2v22.7"/>
<path d="M906.9 550.9v65.5"/>
<path d="M726.7 393.6v80.6"/>
<path d="M756.1 545.8v49.3"/>
<path d="M1189.7 563.9v61.9"/>
<path d="M711.0 371.2v44.7"/>
<path d="M1274.8 554.8v89.0"/>
<path d="M791.8 620.6v38.7"/>
<path d="M870.8 556.4v35.9"/>
<path d="M951.0 551.6v25.8"/>
<path d="M1050.0 520.8v49.8"/>
<path d="M345.4 349.8v22.0"/>
<path d="M660.6 359.8v78.4"/>
<path d="M668.0 402.6v22.0"/>
<path d="M1197.2 580.2v49.4"/>
<path d="M703.9 387.7v64.3"/>
<path d="M715.8 401.1v22.0"/>
<path d="M342.9 326.5v65.7"/>
<path d="M1145.4 589.2v81.8"/>
<path d="M409.7 241.1v25.2"/>
<path d="M691.3 385.7v67.9"/>
<path d="M1230.5 554.2v58.7"/>
<path d="M767.8 553.8v42.4"/>
<path d="M224.6 208.4v83.4"/>
<path d="M468.1 243.3v93.2"/>
<path d="M819.0 570.4v47.1"/>
<path d="M568.7 314.0v62.0"/>
<path d="M763.3 544.4v52.5"/>
<path d="M244.0 209.0v182.0"/>
<path d="M913.1 565.6v44.8"/>
<path d="M953.4 577.2v25.7"/>
<path d="M1080.1 552.0v64.6"/>
<path d="M535.4 54.0v80.7"/>
<path d="M344.0 302.0v147.7"/>
<path d="M292.0 251.4v34.1"/>
<path d="M975.3 569.4v68.2"/>
<path d="M392.4 253.8v22.1"/>
<path d="M631.0 431.1v24.7"/>
<path d="M569.4 337.9v45.7"/>
<path d="M324.2 316.9v77.2"/>
<path d="M1026.4 616.5v22.0"/>
<path d="M510.1 206.6v77.1"/>
<path d="M510.1 245.9v32.5"/>
<path d="M966.0 521.4v75.4"/>
<path d="M531.0 150.0v80.0"/>
<path d="M844.0 564.0v31.9"/>
<path d="M1026.3 588.9v42.2"/>
<path d="M319.4 309.0v91.2"/>
<path d="M1264.9 595.1v39.6"/>
<path d="M1074.7 568.7v33.3"/>
<path d="M414.0 266.7v52.2"/>
<path d="M409.6 204.8v51.6"/>
<path d="M715.7 375.1v74.0"/>
<path d="M1260.1 559.4v35.3"/>
<path d="M270.9 163.2v51.9"/>
<path d="M930.2 558.6v56.4"/>
<path d="M1203.7 595.7v53.0"/>
<path d="M859.8 589.7v33.5"/>
<path d="M1212.0 525.2v101.6"/>
<path d="M202.2 241.1v38.5"/>
<path d="M517.0 244.4v54.0"/>
<path d="M673.8 330.1v60.5"/>
<path d="M897.0 559.9v64.2"/>
<path d="M455.8 250.5v40.3"/>
<path d="M245.0 186.8v90.9"/>
<path d="M832.5 554.1v83.2"/>
<path d="M1163.5 609.4v32.9"/>
<path d="M776.6 579.2v22.0"/>
<path d="M1268.0 359.0v122.0"/>
<path d="M1069.3 571.6v24.9"/>
<path d="M646.2 355.6v101.9"/>
<path d="M1074.7 524.0v44.4"/>
<path d="M594.2 269.3v87.5"/>
<path d="M571.7 305.7v118.7"/>
<path d="M675.0 400.3v68.5"/>
<path d="M451.8 267.6v22.0"/>
<path d="M399.4 244.6v48.0"/>
<path d="M348.1 337.2v80.3"/>
<path d="M1047.2 567.9v41.7"/>
<path d="M870.8 561.3v27.7"/>
<path d="M388.3 172.4v124.6"/>
<path d="M470.6 239.3v85.8"/>
<path d="M867.5 585.2v52.0"/>
<path d="M996.9 571.1v30.9"/>
<path d="M728.9 372.1v49.9"/>
<path d="M926.8 447.0v70.0"/>
<path d="M1230.5 541.3v69.4"/>
<path d="M1218.3 573.8v22.0"/>
<path d="M867.5 556.6v95.3"/>
<path d="M828.1 576.9v22.0"/>
<path d="M1044.4 520.9v125.3"/>
<path d="M784.5 590.6v34.7"/>
<path d="M671.7 387.1v22.9"/>
<path d="M1132.1 589.9v47.4"/>
<path d="M1135.9 473.7v149.6"/>
<path d="M455.9 238.2v54.3"/>
<path d="M1139.9 556.3v31.8"/>
<path d="M644.6 354.7v71.3"/>
<path d="M597.6 342.4v63.5"/>
<path d="M1017.9 553.2v106.6"/>
<path d="M853.8 547.4v37.2"/>
<path d="M767.7 543.5v44.0"/>
<path d="M1006.7 549.0v36.6"/>
<path d="M859.8 549.0v71.7"/>
<path d="M901.5 540.5v136.2"/>
<path d="M1272.1 599.1v45.9"/>
<path d="M1252.8 550.8v71.9"/>
<path d="M1088.8 578.3v37.1"/>
<path d="M1072.1 589.9v22.0"/>
<path d="M760.9 528.9v43.5"/>
<path d="M1218.2 566.5v24.1"/>
<path d="M1164.4 566.7v42.4"/>
<path d="M930.1 535.4v97.4"/>
<path d="M472.5 210.3v68.4"/>
<path d="M609.5 329.1v26.3"/>
<path d="M713.7 366.4v68.5"/>
<path d="M541.0 287.1v46.0"/>
<path d="M261.6 190.8v32.7"/>
<path d="M259.9 180.5v50.8"/>
<path d="M889.7 546.7v69.6"/>
<path d="M978.5 548.6v101.9"/>
<path d="M360.6 269.7v28.8"/>
<path d="M740.3 373.6v44.8"/>
<path d="M374.5 260.2v45.0"/>
<path d="M1061.1 525.8v75.9"/>
<path d="M819.0 597.6v46.6"/>
<path d="M1175.2 446.7v207.5"/>
<path d="M657.1 377.2v65.3"/>
<path d="M1083.7 584.5v56.8"/>
<path d="M840.6 574.3v69.0"/>
<path d="M569.5 334.5v22.0"/>
<path d="M650.0 348.2v56.1"/>
<path d="M1003.1 546.9v54.0"/>
<path d="M1018.0 570.4v23.1"/>
<path d="M782.7 548.5v78.6"/>
<path d="M1264.8 549.2v43.0"/>
<path d="M665.6 374.9v46.3"/>
<path d="M930.2 491.0v119.5"/>
<path d="M271.0 211.5v29.8"/>
<path d="M312.5 355.0v170.0"/>
<path d="M978.4 486.4v116.4"/>
<path d="M342.9 344.8v36.4"/>
<path d="M403.1 228.2v22.0"/>
<path d="M1158.7 563.8v97.6"/>
<path d="M718.0 414.7v56.5"/>
<path d="M1274.1 559.0v99.7"/>
<path d="M458.1 216.5v62.0"/>
<path d="M1274.8 509.9v158.3"/>
<path d="M638.3 383.1v22.0"/>
<path d="M1014.3 537.1v78.4"/>
<path d="M1181.5 536.3v138.3"/>
<path d="M943.0 544.9v92.8"/>
<path d="M1269.7 606.4v26.7"/>
<path d="M351.2 335.7v28.3"/>
<path d="M1219.6 561.3v31.4"/>
<path d="M1140.0 599.2v32.1"/>
<path d="M707.6 395.7v44.2"/>
<path d="M1088.9 580.7v39.2"/>
<path d="M943.0 559.7v99.1"/>
<path d="M1289.9 517.0v84.9"/>
<path d="M777.3 576.6v33.1"/>
<path d="M687.1 411.5v33.9"/>
<path d="M445.5 201.4v94.8"/>
<path d="M1030.9 582.6v52.6"/>
<path d="M1065.3 551.8v93.9"/>
<path d="M603.1 350.2v32.5"/>
<path d="M1266.3 561.8v67.2"/>
<path d="M747.0 564.5v22.0"/>
<path d="M1031.5 601.8v174.0"/>
<path d="M1045.7 553.0v55.0"/>
<path d="M606.3 320.3v56.8"/>
<path d="M1163.5 584.3v48.8"/>
<path d="M1218.2 544.4v26.4"/>
<path d="M1203.6 566.5v37.0"/>
<path d="M1260.0 545.8v49.0"/>
<path d="M568.7 284.1v79.0"/>
<path d="M466.2 239.3v72.9"/>
<path d="M546.2 305.9v85.3"/>
<path d="M1263.2 554.2v115.5"/>
<path d="M976.8 522.1v113.0"/>
<path d="M443.3 204.6v75.0"/>
<path d="M1149.1 527.2v76.5"/>
<path d="M472.5 215.1v56.8"/>
<path d="M1037.0 579.7v43.9"/>
<path d="M1189.6 508.8v108.8"/>
<path d="M383.2 211.7v75.9"/>
<path d="M466.3 227.7v45.9"/>
<path d="M1175.2 551.0v100.0"/>
<path d="M943.0 535.6v49.9"/>
<path d="M474.8 251.3v48.4"/>
<path d="M202.2 257.8v61.8"/>
<path d="M329.7 334.7v40.3"/>
<path d="M684.9 390.8v41.9"/>
<path d="M468.0 239.1v37.5"/>
<path d="M646.2 391.9v50.1"/>
<path d="M1260.1 544.8v49.8"/>
<path d="M427.0 229.5v81.1"/>
<path d="M691.3 328.9v61.4"/>
<path d="M1267.7 556.1v85.2"/>
<path d="M230.0 235.7v48.3"/>
<path d="M900.5 604.0v26.1"/>
<path d="M897.1 588.7v24.2"/>
<path d="M1061.2 511.1v84.7"/>
<path d="M564.2 359.1v49.5"/>
<path d="M1034.7 539.9v59.5"/>
<path d="M1004.7 580.6v32.9"/>
<path d="M1279.3 566.6v36.4"/>
<path d="M1010.4 571.7v61.6"/>
<path d="M251.2 219.0v62.1"/>
<path d="M346.7 382.3v23.6"/>
<path d="M455.8 264.5v22.1"/>
<path d="M231.3 241.2v22.0"/>
<path d="M597.6 345.5v50.8"/>
<path d="M1030.8 603.4v36.4"/>
<path d="M594.2 300.5v39.0"/>
<path d="M653.3 399.5v32.2"/>
<path d="M978.4 541.3v100.5"/>
<path d="M767.8 526.5v98.4"/>
<path d="M547.7 313.3v32.3"/>
<path d="M994.3 573.0v32.0"/>
<path d="M1056.9 519.5v67.7"/>
<path d="M1209.7 532.4v57.7"/>
<path d="M1133.9 515.1v125.3"/>
<path d="M772.2 558.9v64.8"/>
<path d="M675.1 389.4v53.8"/>
<path d="M590.0 254.2v46.3"/>
<path d="M1059.6 560.0v25.6"/>
<path d="M735.2 387.6v53.4"/>
<path d="M293.5 207.3v45.0"/>
<path d="M776.5 576.7v22.0"/>
<path d="M413.4 208.4v97.3"/>
<path d="M957.3 556.2v35.9"/>
<path d="M1055.0 544.4v67.4"/>
<path d="M982.2 574.2v29.3"/>
<path d="M653.4 417.4v22.0"/>
<path d="M414.0 259.7v44.7"/>
<path d="M1197.2 548.8v56.6"/>
<path d="M989.6 556.2v52.4"/>
<path d="M1230.4 552.3v70.2"/>
<path d="M230.0 237.2v45.4"/>
<path d="M414.1 233.7v49.3"/>
<path d="M782.7 564.8v52.7"/>
<path d="M1173.2 539.4v89.5"/>
<path d="M1272.1 548.7v50.8"/>
<path d="M997.0 587.5v39.1"/>
<path d="M1274.9 535.2v150.1"/>
<path d="M1227.9 563.4v54.1"/>
<path d="M372.9 214.7v73.6"/>
<path d="M992.3 567.7v63.9"/>
<path d="M586.4 307.7v60.7"/>
<path d="M318.0 196.0v60.0"/>
<path d="M1177.8 554.6v51.7"/>
<path d="M1030.9 574.7v88.5"/>
<path d="M255.4 186.0v70.2"/>
<path d="M1274.1 547.8v80.2"/>
<path d="M619.9 297.2v33.8"/>
<path d="M1219.6 549.2v26.1"/>
<path d="M368.0 235.4v105.5"/>
<path d="M348.0 321.2v111.6"/>
<path d="M574.2 348.4v22.0"/>
<path d="M341.5 327.1v23.8"/>
<path d="M953.4 560.7v35.8"/>
<path d="M1212.0 480.0v191.0"/>
<path d="M348.1 373.1v57.1"/>
<path d="M844.8 537.6v82.3"/>
<path d="M799.0 568.6v65.3"/>
<path d="M1194.6 428.7v166.0"/>
<path d="M861.1 528.8v92.4"/>
<path d="M594.9 363.6v25.5"/>
<path d="M1132.1 527.7v63.6"/>
<path d="M1050.0 522.1v78.9"/>
<path d="M1154.4 565.9v35.6"/>
<path d="M524.8 249.0v58.6"/>
<path d="M644.6 365.2v118.5"/>
<path d="M383.3 254.5v49.0"/>
<path d="M640.4 306.8v124.4"/>
<path d="M501.5 211.1v59.0"/>
<path d="M1254.7 552.1v48.4"/>
<path d="M975.4 553.9v24.5"/>
<path d="M1003.1 570.9v45.5"/>
<path d="M828.1 551.7v46.4"/>
<path d="M1170.7 530.8v60.6"/>
<path d="M728.9 403.2v34.0"/>
<path d="M684.0 350.5v98.6"/>
<path d="M756.1 535.2v85.0"/>
<path d="M658.0 307.0v80.0"/>
<path d="M594.3 360.0v22.1"/>
<path d="M1124.7 528.2v63.9"/>
<path d="M271.0 226.4v63.8"/>
<path d="M351.2 312.5v78.9"/>
<path d="M718.0 359.8v146.4"/>
<path d="M1274.1 548.2v113.1"/>
<path d="M754.6 517.9v131.7"/>
<path d="M460.2 236.0v47.7"/>
<path d="M638.3 392.7v32.6"/>
<path d="M202.2 223.3v110.5"/>
<path d="M247.7 228.1v51.7"/>
<path d="M651.3 389.6v45.6"/>
<path d="M217.9 221.7v85.0"/>
<path d="M314.2 382.3v31.8"/>
<path d="M472.4 246.1v37.0"/>
<path d="M1170.8 558.9v50.7"/>
<path d="M910.6 583.2v37.3"/>
<path d="M1223.9 541.0v67.6"/>
<path d="M631.0 358.6v66.3"/>
<path d="M366.9 170.9v109.6"/>
<path d="M669.6 404.8v59.2"/>
<path d="M274.0 191.1v76.6"/>
<path d="M339.3 363.3v49.6"/>
<path d="M419.7 216.6v80.9"/>
<path d="M1150.4 538.2v68.9"/>
<path d="M1045.7 582.5v113.0"/>
<path d="M1187.5 568.4v23.7"/>
<path d="M823.0 500.0v60.0"/>
<path d="M1147.2 524.8v27.3"/>
<path d="M299.2 228.3v72.0"/>
<path d="M794.3 577.7v41.3"/>
<path d="M567.0 325.5v37.4"/>
<path d="M1137.4 538.2v53.7"/>
<path d="M951.1 550.9v24.2"/>
<path d="M674.0 282.0v118.0"/>
<path d="M669.6 356.6v144.8"/>
<path d="M1128.5 511.7v101.8"/>
<path d="M339.3 326.6v44.4"/>
<path d="M913.1 542.1v68.2"/>
<path d="M660.6 360.8v83.1"/>
<path d="M938.3 606.0v22.0"/>
<path d="M859.8 614.3v22.0"/>
<path d="M679.8 393.7v28.9"/>
<path d="M480.5 235.1v50.6"/>
<path d="M927.0 487.0v60.0"/>
<path d="M693.1 424.2v39.9"/>
<path d="M638.3 375.9v42.5"/>
<path d="M445.5 218.3v47.0"/>
<path d="M799.0 518.5v91.2"/>
<path d="M560.7 323.0v29.2"/>
<path d="M1027.0 596.0v132.0"/>
<path d="M737.5 363.4v142.0"/>
<path d="M1170.7 548.2v46.6"/>
<path d="M820.8 548.9v65.7"/>
<path d="M900.5 580.8v24.2"/>
<path d="M751.3 565.3v46.8"/>
<path d="M512.4 177.3v110.8"/>
<path d="M857.1 518.5v79.4"/>
<path d="M1020.0 562.6v28.3"/>
<path d="M791.7 593.4v22.0"/>
<path d="M1212.0 571.9v74.6"/>
<path d="M607.8 295.4v36.8"/>
<path d="M1086.7 568.9v37.2"/>
<path d="M620.5 308.0v65.6"/>
<path d="M1183.0 539.6v81.5"/>
<path d="M697.9 363.7v67.9"/>
<path d="M413.4 217.1v35.7"/>
<path d="M1000.0 578.1v92.4"/>
<path d="M678.0 371.4v45.6"/>
<path d="M1140.0 550.7v57.4"/>
<path d="M303.4 336.8v68.0"/>
<path d="M405.3 264.1v48.5"/>
<path d="M460.2 192.7v104.4"/>
<path d="M1143.0 582.5v32.7"/>
<path d="M527.9 110.3v85.0"/>
<path d="M853.8 513.7v141.4"/>
<path d="M385.3 232.2v29.4"/>
<path d="M644.6 359.8v77.7"/>
<path d="M392.3 251.7v22.0"/>
<path d="M613.8 312.0v92.0"/>
<path d="M1257.1 542.1v69.8"/>
<path d="M1039.5 535.1v83.3"/>
<path d="M1140.0 507.3v86.6"/>
<path d="M318.0 316.4v83.0"/>
<path d="M731.3 350.3v75.2"/>
<path d="M327.6 249.0v90.0"/>
<path d="M1277.1 574.9v50.3"/>
<path d="M1018.0 570.7v40.9"/>
<path d="M819.0 551.6v53.4"/>
<path d="M335.9 353.9v58.8"/>
<path d="M976.9 548.8v42.8"/>
<path d="M468.1 208.8v46.9"/>
<path d="M679.7 393.4v33.0"/>
<path d="M844.9 546.7v96.5"/>
<path d="M381.1 221.6v54.2"/>
<path d="M815.5 579.6v25.3"/>
<path d="M733.1 392.1v72.9"/>
<path d="M1250.5 573.5v62.5"/>
<path d="M711.1 384.3v22.3"/>
<path d="M657.2 376.6v42.0"/>
<path d="M1197.2 566.3v60.7"/>
<path d="M1150.4 509.4v115.0"/>
<path d="M751.4 577.5v38.3"/>
<path d="M966.0 480.8v127.1"/>
<path d="M839.0 541.9v55.1"/>
<path d="M423.8 218.2v58.4"/>
<path d="M1264.8 546.3v43.6"/>
<path d="M620.4 287.9v77.2"/>
<path d="M1264.8 564.8v59.5"/>
<path d="M936.3 536.8v53.0"/>
<path d="M992.3 540.5v42.8"/>
<path d="M1140.0 560.2v45.7"/>
<path d="M1177.5 587.0v156.0"/>
<path d="M1284.1 532.3v56.8"/>
<path d="M700.7 351.6v43.9"/>
<path d="M750.0 580.2v43.0"/>
<path d="M849.8 603.3v41.0"/>
<path d="M1053.2 597.1v22.0"/>
<path d="M678.0 369.7v54.4"/>
<path d="M249.3 179.5v43.6"/>
<path d="M943.0 566.7v92.9"/>
<path d="M510.0 218.1v101.7"/>
<path d="M423.9 178.5v152.1"/>
<path d="M691.2 369.1v55.3"/>
<path d="M832.5 595.0v90.0"/>
<path d="M889.7 546.1v68.8"/>
<path d="M1053.1 601.0v27.4"/>
<path d="M1088.8 593.2v24.6"/>
<path d="M1250.5 510.8v68.0"/>
<path d="M327.0 214.0v80.0"/>
<path d="M205.0 222.7v64.9"/>
<path d="M578.0 308.9v120.8"/>
<path d="M1218.2 594.5v28.6"/>
<path d="M290.5 231.8v77.3"/>
<path d="M192.6 136.0v156.0"/>
<path d="M840.5 564.7v55.8"/>
<path d="M1028.5 565.2v49.4"/>
<path d="M921.3 576.8v22.0"/>
<path d="M1047.2 559.6v52.0"/>
<path d="M1088.9 585.7v44.0"/>
<path d="M462.4 234.9v76.2"/>
<path d="M1294.5 591.8v54.5"/>
<path d="M197.8 260.9v23.6"/>
<path d="M1218.2 578.6v30.0"/>
<path d="M631.0 354.6v83.4"/>
<path d="M819.0 568.8v28.7"/>
<path d="M1286.5 566.2v25.7"/>
<path d="M991.6 573.7v40.4"/>
<path d="M981.3 523.5v84.0"/>
<path d="M571.8 360.3v59.8"/>
<path d="M327.6 240.0v60.0"/>
<path d="M487.1 263.1v28.1"/>
<path d="M221.5 223.6v48.1"/>
<path d="M226.4 255.0v33.1"/>
<path d="M1207.8 566.2v101.6"/>
<path d="M986.6 566.0v47.8"/>
<path d="M476.0 247.2v54.2"/>
<path d="M662.0 357.1v65.8"/>
<path d="M620.5 296.8v95.6"/>
<path d="M1230.5 577.1v46.4"/>
<path d="M925.2 538.2v22.0"/>
<path d="M715.7 378.0v49.2"/>
<path d="M1203.7 568.8v44.9"/>
<path d="M867.5 578.5v61.5"/>
<path d="M199.7 235.4v58.0"/>
<path d="M312.1 349.2v22.0"/>
<path d="M1018.1 592.5v34.3"/>
<path d="M1286.4 570.2v86.6"/>
<path d="M740.2 393.4v46.5"/>
<path d="M521.8 236.5v45.8"/>
<path d="M1000.0 568.5v103.4"/>
<path d="M1259.4 601.7v49.8"/>
<path d="M611.6 357.4v36.9"/>
<path d="M1130.5 576.6v33.0"/>
<path d="M849.9 586.1v56.4"/>
<path d="M1187.5 557.5v45.3"/>
<path d="M1257.1 579.7v81.4"/>
<path d="M1223.9 567.3v114.8"/>
<path d="M675.1 414.5v30.0"/>
<path d="M943.1 532.6v201.4"/>
<path d="M750.0 595.9v54.1"/>
<path d="M1203.8 559.2v37.7"/>
<path d="M1156.9 536.6v113.6"/>
<path d="M844.0 557.4v31.2"/>
<path d="M991.7 501.4v79.5"/>
<path d="M510.1 273.6v50.0"/>
<path d="M555.0 300.1v84.7"/>
<path d="M959.5 563.8v40.3"/>
<path d="M628.0 308.6v202.4"/>
<path d="M769.5 524.3v50.9"/>
<path d="M1145.4 585.0v151.7"/>
<path d="M1083.7 551.1v60.9"/>
<path d="M622.3 257.0v39.1"/>
<path d="M220.5 203.8v95.9"/>
<path d="M849.9 599.2v27.0"/>
<path d="M592.4 192.0v59.6"/>
<path d="M733.1 386.1v40.0"/>
<path d="M1082.8 578.0v43.4"/>
<path d="M1066.6 553.2v55.4"/>
<path d="M746.9 526.4v39.6"/>
<path d="M973.2 551.2v27.9"/>
<path d="M267.5 230.2v84.8"/>
<path d="M626.6 261.6v56.0"/>
<path d="M975.3 480.4v79.3"/>
<path d="M1277.2 595.1v44.7"/>
<path d="M1203.7 543.4v82.2"/>
<path d="M1080.1 554.7v55.5"/>
<path d="M834.3 551.3v72.8"/>
<path d="M864.2 543.3v75.6"/>
<path d="M1290.0 542.6v65.2"/>
<path d="M799.0 495.8v135.5"/>
<path d="M1227.8 559.9v55.5"/>
<path d="M267.5 197.8v49.4"/>
<path d="M853.8 549.6v49.8"/>
<path d="M240.6 220.1v70.2"/>
<path d="M496.6 249.8v43.2"/>
<path d="M1022.3 599.9v23.8"/>
<path d="M196.3 255.7v33.1"/>
<path d="M825.0 516.7v90.4"/>
<path d="M480.5 243.6v40.2"/>
<path d="M263.8 206.5v78.6"/>
<path d="M343.0 313.7v65.9"/>
<path d="M617.1 342.2v74.9"/>
<path d="M337.5 350.4v48.0"/>
<path d="M1161.8 562.2v65.5"/>
<path d="M861.1 537.5v129.3"/>
<path d="M1189.7 581.0v45.5"/>
<path d="M724.1 416.6v98.9"/>
<path d="M1284.1 530.7v74.2"/>
<path d="M231.3 205.8v50.7"/>
<path d="M298.1 231.5v61.0"/>
<path d="M604.4 347.9v72.4"/>
<path d="M1260.1 553.6v81.4"/>
<path d="M799.0 548.8v96.3"/>
<path d="M581.0 312.2v58.8"/>
<path d="M1259.3 598.5v50.8"/>
<path d="M221.4 248.8v35.3"/>
<path d="M844.9 548.0v42.8"/>
<path d="M1053.2 587.1v24.3"/>
<path d="M687.1 426.9v80.4"/>
<path d="M1289.9 514.8v151.4"/>
<path d="M1090.9 564.4v54.1"/>
<path d="M721.1 411.9v27.9"/>
<path d="M825.0 554.1v121.9"/>
<path d="M867.5 532.1v132.3"/>
<path d="M338.1 325.2v63.3"/>
<path d="M1140.1 571.1v48.9"/>
<path d="M791.8 557.4v35.7"/>
<path d="M943.0 496.0v109.6"/>
<path d="M327.0 320.4v67.9"/>
<path d="M642.7 369.3v101.1"/>
<path d="M1209.6 584.2v61.6"/>
<path d="M1045.7 563.8v74.0"/>
<path d="M567.0 314.3v39.1"/>
<path d="M489.7 233.7v116.5"/>
<path d="M302.6 246.5v46.0"/>
<path d="M407.7 197.9v101.7"/>
<path d="M620.4 278.6v84.4"/>
<path d="M744.0 549.4v65.3"/>
<path d="M1182.9 564.8v78.7"/>
<path d="M238.5 249.2v29.4"/>
<path d="M1055.0 493.0v73.6"/>
<path d="M333.0 270.5v207.5"/>
<path d="M864.3 564.7v44.7"/>
<path d="M1189.7 556.3v87.7"/>
<path d="M1164.4 552.9v66.8"/>
<path d="M360.5 240.1v73.2"/>
<path d="M286.9 264.5v24.1"/>
<path d="M679.8 387.9v40.6"/>
<path d="M921.2 570.0v25.0"/>
<path d="M1288.4 591.3v25.4"/>
<path d="M925.2 580.0v22.0"/>
<path d="M1286.4 542.7v60.3"/>
<path d="M673.7 327.4v109.2"/>
<path d="M263.7 239.2v50.5"/>
<path d="M1135.9 522.3v124.8"/>
<path d="M758.8 592.1v33.7"/>
<path d="M904.0 542.5v45.4"/>
<path d="M265.6 221.8v28.2"/>
<path d="M1150.5 484.0v207.5"/>
<path d="M381.2 236.4v30.5"/>
<path d="M867.5 468.4v207.5"/>
<path d="M517.0 271.3v22.0"/>
<path d="M1266.3 542.2v95.4"/>
<path d="M822.5 550.5v68.5"/>
<path d="M231.3 227.9v35.5"/>
<path d="M791.8 561.6v53.5"/>
<path d="M409.7 260.3v32.9"/>
<path d="M1143.0 557.4v39.5"/>
<path d="M651.4 365.0v47.2"/>
<path d="M558.9 357.7v51.8"/>
<path d="M1175.2 567.1v82.4"/>
<path d="M531.4 104.0v93.8"/>
<path d="M480.5 248.6v36.2"/>
<path d="M836.3 590.8v29.6"/>
<path d="M936.2 555.0v39.9"/>
<path d="M620.5 352.6v52.3"/>
<path d="M1070.9 580.3v22.0"/>
<path d="M943.0 538.2v102.6"/>
<path d="M546.2 301.6v73.2"/>
<path d="M840.6 548.9v50.3"/>
<path d="M413.4 213.5v87.3"/>
<path d="M642.7 335.2v117.0"/>
<path d="M1158.9 569.8v111.2"/>
<path d="M780.5 549.9v39.1"/>
<path d="M1189.6 540.5v117.8"/>
<path d="M470.6 247.9v46.1"/>
<path d="M684.9 369.9v54.2"/>
<path d="M638.3 384.1v29.3"/>
<path d="M773.2 541.1v59.1"/>
<path d="M859.8 525.6v72.1"/>
<path d="M379.0 255.8v27.5"/>
<path d="M423.8 186.6v108.4"/>
<path d="M1055.0 535.8v72.4"/>
<path d="M1039.5 604.0v36.5"/>
<path d="M419.7 153.6v124.7"/>
<path d="M1098.3 557.5v56.9"/>
<path d="M1050.0 537.8v62.8"/>
<path d="M1272.1 567.0v58.2"/>
<path d="M1227.8 548.1v82.1"/>
<path d="M1133.9 590.0v30.8"/>
<path d="M544.9 356.1v28.8"/>
<path d="M378.9 254.1v44.5"/>
<path d="M994.3 556.1v38.7"/>
<path d="M550.0 314.3v48.3"/>
<path d="M1066.6 571.0v25.1"/>
<path d="M983.5 451.0v138.0"/>
<path d="M335.8 312.4v38.3"/>
<path d="M373.0 235.6v55.3"/>
<path d="M449.9 231.4v77.4"/>
<path d="M532.3 115.6v54.6"/>
<path d="M204.9 281.6v36.2"/>
<path d="M504.2 208.1v54.6"/>
<path d="M480.5 210.7v86.1"/>
<path d="M368.0 243.5v78.3"/>
<path d="M420.9 238.1v74.0"/>
<path d="M1044.4 555.7v142.4"/>
<path d="M892.9 559.1v58.4"/>
<path d="M865.8 525.3v122.5"/>
<path d="M292.0 270.5v79.7"/>
<path d="M476.0 218.5v81.1"/>
<path d="M413.4 169.7v86.6"/>
<path d="M445.4 162.7v108.5"/>
<path d="M719.5 379.8v67.9"/>
<path d="M423.9 241.2v31.7"/>
<path d="M468.1 241.9v22.0"/>
<path d="M638.3 387.3v42.8"/>
<path d="M1026.4 605.7v27.7"/>
<path d="M312.1 362.5v35.0"/>
<path d="M414.0 245.0v59.1"/>
<path d="M1181.5 518.0v72.5"/>
<path d="M251.1 224.6v38.3"/>
<path d="M541.0 320.2v22.0"/>
<path d="M1045.7 568.7v67.8"/>
<path d="M1173.3 572.7v74.0"/>
<path d="M576.2 346.6v57.7"/>
<path d="M1130.6 580.4v64.7"/>
<path d="M338.1 364.2v43.5"/>
<path d="M1284.1 562.8v59.2"/>
<path d="M319.4 309.5v76.4"/>
<path d="M1267.8 564.9v123.4"/>
<path d="M439.5 260.9v33.9"/>
<path d="M767.8 558.3v22.0"/>
<path d="M1120.5 565.1v22.0"/>
<path d="M1177.7 548.7v54.4"/>
<path d="M574.1 315.8v24.2"/>
<path d="M684.0 393.7v69.0"/>
<path d="M664.3 398.9v70.2"/>
<path d="M189.0 227.1v25.9"/>
<path d="M786.2 517.9v64.4"/>
<path d="M943.0 491.7v136.3"/>
<path d="M1010.4 558.4v75.4"/>
<path d="M454.2 242.6v35.7"/>
<path d="M904.0 570.0v30.4"/>
<path d="M370.0 219.9v28.5"/>
<path d="M524.9 239.1v54.1"/>
<path d="M566.0 361.0v138.0"/>
<path d="M447.0 238.0v31.2"/>
<path d="M642.7 371.8v40.7"/>
<path d="M319.4 350.7v42.9"/>
<path d="M978.4 544.7v63.1"/>
<path d="M569.5 335.9v30.2"/>
<path d="M439.5 226.6v22.0"/>
<path d="M715.7 367.9v44.5"/>
<path d="M646.2 350.3v77.0"/>
<path d="M892.9 567.8v71.2"/>
<path d="M1218.2 578.8v44.1"/>
<path d="M466.1 203.6v51.6"/>
<path d="M551.9 321.8v44.0"/>
<path d="M1128.6 524.1v48.2"/>
<path d="M1277.1 549.3v34.4"/>
<path d="M545.0 350.4v47.8"/>
<path d="M976.8 541.3v58.3"/>
<path d="M364.8 230.7v82.0"/>
<path d="M728.8 405.7v53.9"/>
<path d="M861.2 570.7v60.9"/>
<path d="M1280.9 604.5v22.0"/>
<path d="M1189.6 474.7v142.6"/>
<path d="M675.1 377.5v76.0"/>
<path d="M1059.6 556.1v70.4"/>
<path d="M1059.6 570.5v28.7"/>
<path d="M1022.2 604.7v28.9"/>
<path d="M585.4 220.6v152.9"/>
<path d="M202.2 179.8v74.9"/>
<path d="M1269.7 552.2v22.0"/>
<path d="M439.5 270.0v25.4"/>
<path d="M751.3 562.8v24.3"/>
<path d="M992.0 460.0v130.0"/>
<path d="M364.7 256.4v68.7"/>
<path d="M202.2 251.2v111.8"/>
<path d="M691.3 393.6v60.2"/>
<path d="M917.1 571.0v39.8"/>
<path d="M607.7 325.2v65.4"/>
<path d="M450.0 203.0v66.1"/>
<path d="M782.7 560.8v84.6"/>
<path d="M392.3 228.8v38.5"/>
<path d="M1006.6 566.1v42.6"/>
<path d="M1270.0 599.0v112.0"/>
<path d="M1218.2 545.4v22.0"/>
<path d="M1202.0 466.7v90.0"/>
<path d="M1147.2 574.0v60.7"/>
<path d="M849.9 587.3v59.2"/>
<path d="M986.7 564.7v22.0"/>
<path d="M1066.6 514.9v45.0"/>
<path d="M699.4 390.4v62.4"/>
<path d="M761.0 504.6v99.5"/>
<path d="M1274.1 535.6v85.1"/>
<path d="M1094.3 548.6v81.4"/>
<path d="M308.3 329.9v28.2"/>
<path d="M832.5 599.0v100.0"/>
<path d="M1072.1 555.6v27.6"/>
<path d="M494.7 242.6v70.6"/>
<path d="M318.0 349.4v44.3"/>
<path d="M385.3 244.7v48.3"/>
<path d="M844.0 561.7v41.9"/>
<path d="M517.0 239.7v24.6"/>
<path d="M231.3 221.7v50.6"/>
<path d="M1199.2 562.0v37.4"/>
<path d="M462.4 240.4v65.8"/>
<path d="M490.7 114.6v132.0"/>
<path d="M959.6 545.6v41.4"/>
<path d="M564.2 344.9v39.5"/>
<path d="M337.5 321.4v49.5"/>
<path d="M644.6 357.3v67.7"/>
<path d="M719.5 394.1v22.0"/>
<path d="M713.8 376.7v53.4"/>
<path d="M492.8 243.1v50.0"/>
<path d="M895.8 553.7v50.2"/>
<path d="M813.0 536.9v52.1"/>
<path d="M820.8 540.5v32.4"/>
<path d="M395.4 48.7v178.0"/>
<path d="M715.7 370.1v61.6"/>
<path d="M1154.4 556.6v37.1"/>
<path d="M687.1 415.6v24.8"/>
<path d="M978.4 485.9v96.1"/>
<path d="M1260.2 576.1v28.0"/>
<path d="M533.8 148.7v44.8"/>
<path d="M1137.4 612.6v22.2"/>
<path d="M586.4 320.5v92.9"/>
<path d="M1201.9 579.7v69.1"/>
<path d="M476.0 238.9v94.9"/>
<path d="M1126.9 529.9v126.8"/>
<path d="M381.2 244.9v28.7"/>
<path d="M1028.5 546.5v50.0"/>
<path d="M1126.0 447.0v90.0"/>
<path d="M1175.3 519.5v104.8"/>
<path d="M1140.1 562.4v51.4"/>
<path d="M864.3 546.3v34.0"/>
<path d="M1000.0 581.4v48.3"/>
<path d="M1173.2 537.3v77.1"/>
<path d="M1227.9 575.9v30.3"/>
<path d="M1033.6 582.1v32.5"/>
<path d="M1123.1 547.9v60.1"/>
<path d="M472.4 202.8v64.6"/>
<path d="M1055.1 547.8v56.4"/>
<path d="M1181.5 567.4v54.0"/>
<path d="M782.7 567.0v55.5"/>
<path d="M1280.9 587.0v37.3"/>
<path d="M847.5 546.4v55.4"/>
<path d="M991.6 566.8v38.3"/>
<path d="M962.7 526.6v40.6"/>
<path d="M480.5 248.8v38.4"/>
<path d="M750.0 572.5v66.7"/>
<path d="M1201.9 552.5v49.0"/>
<path d="M1183.0 571.4v94.4"/>
<path d="M767.7 568.3v39.6"/>
<path d="M302.7 251.4v26.3"/>
<path d="M341.4 365.8v37.3"/>
<path d="M733.0 349.5v97.1"/>
<path d="M900.5 586.0v24.3"/>
<path d="M825.0 576.2v127.0"/>
<path d="M316.0 330.4v41.2"/>
<path d="M847.6 550.4v60.5"/>
<path d="M1010.4 537.9v71.8"/>
<path d="M701.0 392.0v136.0"/>
<path d="M1044.4 561.1v60.5"/>
<path d="M1274.8 541.3v83.7"/>
<path d="M900.5 590.4v28.3"/>
<path d="M504.8 235.2v22.0"/>
<path d="M443.2 201.2v75.2"/>
<path d="M594.2 321.9v59.9"/>
<path d="M259.9 175.8v63.4"/>
<path d="M1227.8 538.5v47.2"/>
<path d="M1158.8 524.6v81.5"/>
<path d="M1223.9 532.1v167.1"/>
<path d="M711.1 408.1v28.1"/>
<path d="M346.0 227.0v70.0"/>
<path d="M349.2 364.5v83.2"/>
<path d="M581.1 315.9v26.0"/>
<path d="M777.4 516.5v23.5"/>
<path d="M1147.1 577.6v22.0"/>
<path d="M996.9 546.3v42.0"/>
<path d="M600.9 334.7v27.2"/>
<path d="M622.3 356.2v49.1"/>
<path d="M381.0 236.4v22.0"/>
<path d="M1029.8 565.9v50.7"/>
<path d="M555.0 366.6v69.7"/>
<path d="M1006.6 570.6v47.5"/>
<path d="M454.2 218.4v53.1"/>
<path d="M191.7 206.3v102.9"/>
<path d="M1170.7 538.5v46.9"/>
<path d="M870.8 544.6v56.6"/>
<path d="M1216.0 567.1v43.0"/>
<path d="M1223.9 548.9v78.1"/>
<path d="M1086.7 567.5v48.7"/>
<path d="M1124.8 545.3v38.9"/>
<path d="M961.1 531.4v52.9"/>
<path d="M872.3 551.9v63.8"/>
<path d="M740.3 395.8v81.4"/>
<path d="M1134.0 544.3v51.4"/>
<path d="M454.2 248.5v59.5"/>
<path d="M1076.3 577.7v37.6"/>
<path d="M546.3 315.5v49.5"/>
<path d="M620.4 320.0v64.8"/>
<path d="M234.4 206.5v40.5"/>
<path d="M468.1 241.1v44.2"/>
<path d="M982.3 576.7v36.3"/>
<path d="M664.2 372.7v83.7"/>
<path d="M551.9 332.4v24.1"/>
<path d="M1070.9 556.1v44.8"/>
<path d="M1252.9 564.9v52.1"/>
<path d="M1196.0 607.2v52.4"/>
<path d="M1143.0 542.2v60.1"/>
<path d="M1006.6 574.1v49.0"/>
<path d="M1187.5 570.9v25.5"/>
<path d="M607.8 357.7v49.7"/>
<path d="M651.4 309.6v99.6"/>
<path d="M824.0 513.0v60.0"/>
<path d="M319.5 331.3v67.1"/>
<path d="M1263.2 586.4v62.5"/>
<path d="M327.6 238.0v80.0"/>
<path d="M485.6 241.6v34.6"/>
<path d="M819.0 599.1v46.0"/>
<path d="M776.6 561.3v69.0"/>
<path d="M1294.5 554.8v74.7"/>
<path d="M377.7 202.8v66.2"/>
<path d="M861.1 548.0v64.5"/>
<path d="M1168.7 529.8v102.2"/>
<path d="M1294.6 547.6v92.5"/>
<path d="M1014.2 566.6v89.2"/>
<path d="M673.8 404.2v63.0"/>
<path d="M1044.5 521.7v73.6"/>
<path d="M533.8 58.1v150.0"/>
<path d="M401.0 227.0v43.3"/>
<path d="M1135.9 547.9v96.3"/>
<path d="M1028.4 560.2v79.9"/>
<path d="M1288.4 561.6v22.0"/>
<path d="M1225.0 569.5v38.8"/>
<path d="M1190.7 576.2v57.4"/>
<path d="M1264.8 538.2v108.8"/>
<path d="M555.0 348.6v94.1"/>
<path d="M374.6 222.4v71.4"/>
<path d="M986.6 560.3v22.0"/>
<path d="M1187.5 570.9v37.6"/>
<path d="M651.4 365.0v71.0"/>
<path d="M1219.6 571.8v26.2"/>
<path d="M517.0 161.0v80.0"/>
<path d="M241.5 231.9v39.9"/>
<path d="M253.5 221.0v55.1"/>
<path d="M215.0 235.5v41.1"/>
<path d="M487.1 189.7v38.7"/>
<path d="M1120.5 558.8v40.9"/>
<path d="M644.6 381.5v66.6"/>
<path d="M861.1 539.6v35.6"/>
<path d="M1014.3 571.7v22.0"/>
<path d="M1037.0 578.7v47.6"/>
<path d="M1036.9 592.8v66.5"/>
<path d="M1069.3 516.0v58.9"/>
<path d="M765.2 583.4v41.6"/>
<path d="M889.7 562.7v55.1"/>
<path d="M344.0 375.0v140.0"/>
<path d="M510.1 225.6v59.2"/>
<path d="M675.1 368.1v106.6"/>
<path d="M468.0 263.0v62.8"/>
<path d="M665.5 355.6v78.8"/>
<path d="M1061.1 571.7v50.9"/>
<path d="M460.2 226.6v118.2"/>
<path d="M646.2 368.1v47.4"/>
<path d="M373.0 256.8v40.4"/>
<path d="M751.3 568.1v51.4"/>
<path d="M551.9 321.4v30.7"/>
<path d="M579.6 294.4v58.9"/>
<path d="M785.7 592.4v172.0"/>
<path d="M305.8 349.3v55.7"/>
<path d="M996.9 544.4v80.3"/>
<path d="M483.4 231.2v48.0"/>
<path d="M494.5 211.5v58.6"/>
<path d="M1158.8 545.4v59.2"/>
<path d="M308.3 319.0v23.3"/>
<path d="M957.3 533.5v87.9"/>
<path d="M1193.3 546.6v81.4"/>
<path d="M1082.8 577.0v82.7"/>
<path d="M388.2 258.7v39.9"/>
<path d="M1149.1 571.5v81.5"/>
<path d="M978.4 555.9v53.5"/>
<path d="M737.5 355.0v149.2"/>
<path d="M777.3 568.5v65.6"/>
<path d="M1094.2 576.1v22.0"/>
<path d="M1181.5 552.3v112.0"/>
<path d="M334.9 335.9v53.7"/>
<path d="M259.9 198.0v28.3"/>
<path d="M582.3 347.9v40.8"/>
<path d="M306.4 346.8v45.1"/>
<path d="M986.6 593.2v23.9"/>
<path d="M335.0 334.1v22.0"/>
<path d="M1069.4 569.2v29.0"/>
<path d="M620.4 302.3v46.8"/>
<path d="M664.2 375.3v82.0"/>
<path d="M1024.9 570.3v31.8"/>
<path d="M791.7 571.4v45.5"/>
<path d="M217.9 264.4v29.3"/>
<path d="M823.5 485.0v60.0"/>
<path d="M754.6 572.1v48.7"/>
<path d="M1022.0 587.0v146.0"/>
<path d="M199.8 248.0v22.0"/>
<path d="M1014.2 567.6v37.3"/>
<path d="M975.3 512.2v70.7"/>
<path d="M540.9 346.9v31.1"/>
<path d="M957.3 521.5v24.2"/>
<path d="M992.3 566.6v40.6"/>
<path d="M679.8 397.7v35.5"/>
<path d="M341.5 351.7v80.6"/>
<path d="M773.2 523.3v128.8"/>
<path d="M1150.4 504.8v126.7"/>
<path d="M445.5 210.9v53.0"/>
<path d="M822.5 548.7v87.4"/>
<path d="M483.3 227.1v44.0"/>
<path d="M844.9 588.3v29.5"/>
<path d="M1092.0 530.1v82.0"/>
<path d="M535.3 166.5v47.8"/>
<path d="M799.0 543.1v63.9"/>
<path d="M1282.4 554.0v48.1"/>
<path d="M687.0 390.6v75.2"/>
<path d="M443.3 228.4v63.0"/>
<path d="M451.8 260.4v33.5"/>
<path d="M1223.9 537.8v102.4"/>
<path d="M586.4 315.0v45.5"/>
<path d="M728.8 402.0v46.5"/>
<path d="M445.5 217.0v68.3"/>
<path d="M603.0 317.0v69.1"/>
<path d="M981.3 571.4v62.1"/>
<path d="M673.8 370.5v35.0"/>
<path d="M313.8 353.4v42.2"/>
<path d="M549.6 220.0v80.0"/>
<path d="M943.1 492.7v120.2"/>
<path d="M982.2 568.0v22.0"/>
<path d="M576.2 401.2v22.0"/>
<path d="M571.8 323.8v54.4"/>
<path d="M693.0 393.5v43.1"/>
<path d="M776.5 574.0v28.8"/>
<path d="M1026.4 591.1v22.3"/>
<path d="M303.4 362.6v39.0"/>
<path d="M1132.1 592.1v42.5"/>
<path d="M1088.8 570.8v31.5"/>
<path d="M1288.4 587.6v22.0"/>
<path d="M466.1 215.3v91.7"/>
<path d="M388.2 242.4v61.3"/>
<path d="M642.7 401.6v55.5"/>
<path d="M1252.9 528.3v22.0"/>
<path d="M1134.0 551.4v56.2"/>
<path d="M1216.1 568.5v31.2"/>
<path d="M711.1 390.2v26.1"/>
<path d="M1100.8 552.4v50.1"/>
<path d="M592.4 323.1v104.5"/>
<path d="M1092.0 578.4v22.3"/>
<path d="M660.6 390.0v49.2"/>
<path d="M267.5 119.0v149.9"/>
<path d="M619.9 303.6v22.6"/>
<path d="M1088.8 552.7v37.0"/>
<path d="M606.3 320.5v33.2"/>
<path d="M650.5 248.0v162.0"/>
<path d="M1029.8 520.0v76.4"/>
<path d="M1029.8 559.2v135.4"/>
<path d="M343.9 302.2v207.5"/>
<path d="M1177.7 557.4v41.0"/>
<path d="M381.2 253.0v39.7"/>
<path d="M1294.5 544.6v52.3"/>
<path d="M1185.7 571.5v49.8"/>
<path d="M1288.4 571.1v53.3"/>
<path d="M679.8 389.8v24.8"/>
<path d="M1280.9 552.8v39.1"/>
<path d="M644.6 385.1v98.9"/>
<path d="M731.4 388.7v45.9"/>
<path d="M227.3 215.9v44.8"/>
<path d="M1024.9 589.9v52.7"/>
<path d="M1168.7 560.7v109.5"/>
<path d="M889.8 551.1v52.6"/>
<path d="M388.2 236.3v50.7"/>
<path d="M590.1 353.2v59.1"/>
<path d="M413.4 260.8v37.2"/>
<path d="M245.1 143.3v159.2"/>
<path d="M1175.3 561.5v102.7"/>
<path d="M892.9 571.4v30.1"/>
<path d="M579.6 327.7v112.6"/>
<path d="M1080.1 577.8v37.2"/>
<path d="M917.0 571.6v42.7"/>
<path d="M513.8 203.6v82.2"/>
<path d="M750.1 559.5v80.8"/>
<path d="M391.1 240.2v29.7"/>
<path d="M737.4 401.3v71.1"/>
<path d="M269.6 247.5v23.2"/>
<path d="M718.0 395.7v91.8"/>
<path d="M955.6 561.1v32.6"/>
<path d="M1196.1 575.6v44.3"/>
<path d="M521.8 239.9v51.3"/>
<path d="M417.8 270.2v25.6"/>
<path d="M989.6 556.8v61.6"/>
<path d="M527.9 137.9v60.7"/>
<path d="M1149.1 533.7v85.4"/>
<path d="M611.6 347.8v39.3"/>
<path d="M306.4 284.8v115.4"/>
<path d="M1156.9 562.7v53.4"/>
<path d="M1170.7 505.2v101.5"/>
<path d="M290.5 228.1v107.3"/>
<path d="M271.0 200.5v39.9"/>
<path d="M555.0 369.2v48.0"/>
<path d="M512.4 230.6v61.6"/>
<path d="M1044.4 549.9v74.7"/>
<path d="M1203.6 554.6v62.2"/>
<path d="M524.8 227.8v73.8"/>
<path d="M405.2 231.7v26.0"/>
<path d="M241.5 229.7v35.2"/>
<path d="M315.9 347.0v22.0"/>
<path d="M718.0 375.6v74.3"/>
<path d="M822.5 530.5v76.5"/>
<path d="M746.9 588.5v22.4"/>
<path d="M231.3 233.4v50.0"/>
<path d="M776.5 548.6v23.9"/>
<path d="M847.6 574.3v45.9"/>
<path d="M1098.2 581.5v31.7"/>
<path d="M215.0 194.1v72.1"/>
<path d="M585.4 313.1v36.7"/>
<path d="M829.1 573.1v36.2"/>
<path d="M991.7 580.4v44.1"/>
<path d="M439.5 249.1v44.4"/>
<path d="M912.0 590.0v100.0"/>
<path d="M1150.5 488.9v207.5"/>
<path d="M829.1 546.7v91.6"/>
<path d="M379.0 227.7v51.3"/>
<path d="M314.2 331.2v43.6"/>
<path d="M1199.2 534.2v91.4"/>
<path d="M718.0 423.3v101.0"/>
<path d="M370.1 203.4v79.4"/>
<path d="M413.4 236.9v31.5"/>
<path d="M322.9 338.0v58.3"/>
<path d="M986.6 552.4v31.8"/>
<path d="M668.0 399.2v22.0"/>
<path d="M962.7 528.7v72.5"/>
<path d="M480.5 243.8v41.4"/>
<path d="M259.9 179.0v54.3"/>
<path d="M934.1 595.4v35.4"/>
<path d="M684.0 404.0v41.5"/>
<path d="M451.8 183.0v124.6"/>
<path d="M609.5 279.7v81.8"/>
<path d="M970.9 559.2v29.0"/>
<path d="M298.1 161.4v44.4"/>
<path d="M319.4 329.4v96.1"/>
<path d="M1010.4 547.4v54.8"/>
<path d="M895.8 528.7v86.5"/>
<path d="M1196.0 566.6v59.6"/>
<path d="M834.4 586.1v22.0"/>
<path d="M606.3 266.8v110.6"/>
<path d="M889.6 547.5v57.0"/>
<path d="M558.9 364.5v55.0"/>
<path d="M1000.0 532.4v49.8"/>
<path d="M1028.5 592.3v29.3"/>
<path d="M992.3 567.8v28.2"/>
<path d="M973.1 560.9v38.7"/>
<path d="M1149.1 573.3v58.7"/>
<path d="M492.8 232.3v39.3"/>
<path d="M1158.9 545.5v43.3"/>
<path d="M1056.9 563.2v102.3"/>
<path d="M791.8 566.9v22.3"/>
<path d="M1105.0 542.7v97.0"/>
<path d="M550.0 341.8v46.2"/>
<path d="M265.0 220.0v140.0"/>
<path d="M1037.0 601.3v26.9"/>
<path d="M600.9 321.2v25.7"/>
<path d="M1000.0 542.0v90.7"/>
<path d="M819.0 540.6v66.4"/>
<path d="M1286.4 569.8v33.7"/>
<path d="M917.1 508.9v153.7"/>
<path d="M1254.7 602.1v62.8"/>
<path d="M867.5 559.1v74.9"/>
<path d="M1147.2 601.9v22.0"/>
<path d="M487.1 256.7v22.0"/>
<path d="M617.1 345.2v31.9"/>
<path d="M305.7 332.2v34.6"/>
<path d="M900.5 594.8v22.0"/>
<path d="M1014.2 592.0v22.9"/>
<path d="M341.5 343.4v79.0"/>
<path d="M819.0 587.4v35.1"/>
<path d="M914.4 576.1v85.0"/>
<path d="M1055.0 555.8v44.2"/>
<path d="M1029.9 593.9v35.6"/>
<path d="M903.9 603.9v22.5"/>
<path d="M217.8 224.2v57.3"/>
<path d="M1105.0 517.2v84.8"/>
<path d="M1164.3 507.0v107.7"/>
<path d="M864.3 517.1v40.5"/>
<path d="M220.5 221.2v48.0"/>
<path d="M1207.7 559.2v73.2"/>
<path d="M1033.7 622.5v29.8"/>
</g>
<g stroke="#c000c0" stroke-opacity=".7" stroke-width="3.44"><path d="M1041.5 181.8V272.9"/><path d="M1041.5 190.7V276.6"/></g>
<g stroke="#00f" stroke-width="1.72" stroke-dasharray="11.01 2.75 1.72 2.75" fill="none"><path d="M177.3 916.35V1.35"/><path d="M303.1 916.35V1.35"/><path d="M327.2 916.35V1.35"/><path d="M328.1 916.35V1.35"/><path d="M352.5 916.35V1.35"/><path d="M525.1 916.35V1.35"/><path d="M538.9 916.35V1.35"/><path d="M631.2 916.35V1.35"/><path d="M740.1 916.35V1.35"/><path d="M890.0 916.35V1.35"/><path d="M924.9 916.35V1.35"/><path d="M930.2 916.35V1.35"/></g>
<g fill="#008000" fill-opacity=".7">
<circle cx="1098.2" cy="593.3" r="7.1"/>
<circle cx="569.5" cy="343.4" r="7.1"/>
<circle cx="1056.9" cy="579.2" r="7.1"/>
<circle cx="378.9" cy="261.6" r="7.1"/>
<circle cx="599.5" cy="379.1" r="7.1"/>
<circle cx="613.8" cy="376.9" r="7.1"/>
<circle cx="971.0" cy="595.5" r="7.1"/>
<circle cx="335.8" cy="400.9" r="7.1"/>
<circle cx="189.0" cy="267.4" r="7.1"/>
<circle cx="703.9" cy="386.7" r="7.1"/>
<circle cx="1120.5" cy="586.6" r="7.1"/>
<circle cx="474.8" cy="260.7" r="7.1"/>
<circle cx="1282.5" cy="570.6" r="7.1"/>
<circle cx="1167.9" cy="583.8" r="7.1"/>
<circle cx="968.9" cy="575.7" r="7.1"/>
<circle cx="427.0" cy="254.5" r="7.1"/>
<circle cx="1094.2" cy="596.2" r="7.1"/>
<circle cx="1056.9" cy="606.0" r="7.1"/>
<circle cx="800.0" cy="657.7" r="7.1"/>
<circle cx="258.9" cy="190.4" r="7.1"/>
<circle cx="859.8" cy="612.6" r="7.1"/>
<circle cx="292.0" cy="275.4" r="7.1"/>
<circle cx="341.5" cy="390.6" r="7.1"/>
<circle cx="455.9" cy="260.8" r="7.1"/>
<circle cx="360.5" cy="281.5" r="7.1"/>
<circle cx="1047.2" cy="623.6" r="7.1"/>
<circle cx="901.5" cy="592.6" r="7.1"/>
<circle cx="517.0" cy="243.2" r="7.1"/>
<circle cx="1212.0" cy="594.5" r="7.1"/>
<circle cx="1044.5" cy="589.9" r="7.1"/>
<circle cx="374.5" cy="260.3" r="7.1"/>
<circle cx="419.7" cy="253.8" r="7.1"/>
<circle cx="360.5" cy="266.3" r="7.1"/>
<circle cx="1082.7" cy="600.3" r="7.1"/>
<circle cx="568.7" cy="343.8" r="7.1"/>
<circle cx="986.6" cy="568.6" r="7.1"/>
<circle cx="468.0" cy="279.8" r="7.1"/>
<circle cx="1149.1" cy="591.4" r="7.1"/>
<circle cx="985.8" cy="570.4" r="7.1"/>
<circle cx="1013.7" cy="582.9" r="7.1"/>
<circle cx="540.9" cy="227.3" r="7.1"/>
<circle cx="942.9" cy="583.9" r="7.1"/>
<circle cx="689.9" cy="434.4" r="7.1"/>
<circle cx="1134.0" cy="590.1" r="7.1"/>
<circle cx="1003.1" cy="580.0" r="7.1"/>
<circle cx="684.9" cy="425.8" r="7.1"/>
<circle cx="231.3" cy="231.7" r="7.1"/>
<circle cx="508.5" cy="315.9" r="7.1"/>
<circle cx="494.6" cy="246.1" r="7.1"/>
<circle cx="836.3" cy="597.3" r="7.1"/>
<circle cx="704.0" cy="387.0" r="7.1"/>
<circle cx="420.9" cy="254.4" r="7.1"/>
<circle cx="940.4" cy="550.6" r="7.1"/>
<circle cx="245.0" cy="276.3" r="7.1"/>
<circle cx="345.4" cy="365.1" r="7.1"/>
<circle cx="265.6" cy="261.0" r="7.1"/>
<circle cx="504.2" cy="258.4" r="7.1"/>
<circle cx="405.3" cy="267.7" r="7.1"/>
<circle cx="308.3" cy="344.6" r="7.1"/>
<circle cx="331.3" cy="390.3" r="7.1"/>
<circle cx="754.7" cy="592.3" r="7.1"/>
<circle cx="613.0" cy="222.0" r="7.1"/>
<circle cx="504.9" cy="267.1" r="7.1"/>
<circle cx="820.7" cy="592.3" r="7.1"/>
<circle cx="903.9" cy="565.6" r="7.1"/>
<circle cx="1153.4" cy="634.6" r="7.1"/>
<circle cx="1150.4" cy="605.6" r="7.1"/>
<circle cx="546.2" cy="352.1" r="7.1"/>
<circle cx="796.5" cy="556.4" r="7.1"/>
<circle cx="290.5" cy="316.1" r="7.1"/>
<circle cx="617.2" cy="293.3" r="7.1"/>
<circle cx="489.7" cy="254.9" r="7.1"/>
<circle cx="259.0" cy="233.8" r="7.1"/>
<circle cx="1207.8" cy="597.5" r="7.1"/>
<circle cx="777.4" cy="559.9" r="7.1"/>
<circle cx="1086.7" cy="571.0" r="7.1"/>
<circle cx="603.0" cy="349.3" r="7.1"/>
<circle cx="1193.2" cy="560.5" r="7.1"/>
<circle cx="718.0" cy="415.5" r="7.1"/>
<circle cx="1294.5" cy="627.1" r="7.1"/>
<circle cx="274.0" cy="221.8" r="7.1"/>
<circle cx="574.2" cy="333.9" r="7.1"/>
<circle cx="1034.7" cy="609.0" r="7.1"/>
<circle cx="327.6" cy="286.0" r="7.1"/>
<circle cx="290.5" cy="287.3" r="7.1"/>
<circle cx="1291.3" cy="567.9" r="7.1"/>
<circle cx="799.0" cy="534.3" r="7.1"/>
<circle cx="599.5" cy="341.0" r="7.1"/>
<circle cx="1178.9" cy="613.0" r="7.1"/>
<circle cx="374.6" cy="243.5" r="7.1"/>
<circle cx="829.1" cy="567.2" r="7.1"/>
<circle cx="697.9" cy="413.9" r="7.1"/>
<circle cx="259.0" cy="186.0" r="7.1"/>
<circle cx="996.9" cy="555.4" r="7.1"/>
<circle cx="772.2" cy="607.8" r="7.1"/>
<circle cx="996.9" cy="576.6" r="7.1"/>
<circle cx="750.0" cy="593.9" r="7.1"/>
<circle cx="585.4" cy="362.0" r="7.1"/>
<circle cx="199.7" cy="248.1" r="7.1"/>
<circle cx="647.5" cy="368.5" r="7.1"/>
<circle cx="1225.0" cy="640.9" r="7.1"/>
<circle cx="571.8" cy="392.2" r="7.1"/>
<circle cx="985.7" cy="573.9" r="7.1"/>
<circle cx="653.3" cy="417.2" r="7.1"/>
<circle cx="1154.4" cy="606.4" r="7.1"/>
<circle cx="1199.1" cy="580.3" r="7.1"/>
<circle cx="786.2" cy="576.7" r="7.1"/>
<circle cx="1008.6" cy="563.2" r="7.1"/>
<circle cx="1053.0" cy="528.0" r="7.1"/>
<circle cx="1259.3" cy="620.2" r="7.1"/>
<circle cx="1272.1" cy="570.3" r="7.1"/>
<circle cx="910.6" cy="581.5" r="7.1"/>
<circle cx="597.6" cy="323.5" r="7.1"/>
<circle cx="864.3" cy="592.4" r="7.1"/>
<circle cx="1027.0" cy="512.0" r="7.1"/>
<circle cx="1022.2" cy="595.9" r="7.1"/>
<circle cx="257.2" cy="217.1" r="7.1"/>
<circle cx="290.6" cy="287.7" r="7.1"/>
<circle cx="419.6" cy="291.8" r="7.1"/>
<circle cx="247.7" cy="216.3" r="7.1"/>
<circle cx="606.3" cy="341.6" r="7.1"/>
<circle cx="985.7" cy="553.6" r="7.1"/>
<circle cx="257.2" cy="235.3" r="7.1"/>
<circle cx="1124.7" cy="607.4" r="7.1"/>
<circle cx="1076.3" cy="636.8" r="7.1"/>
<circle cx="562.6" cy="342.4" r="7.1"/>
<circle cx="1259.3" cy="617.6" r="7.1"/>
<circle cx="784.4" cy="597.9" r="7.1"/>
<circle cx="447.0" cy="243.6" r="7.1"/>
<circle cx="955.5" cy="593.3" r="7.1"/>
<circle cx="978.4" cy="588.7" r="7.1"/>
<circle cx="241.5" cy="240.0" r="7.1"/>
<circle cx="1090.8" cy="616.5" r="7.1"/>
<circle cx="603.0" cy="365.3" r="7.1"/>
<circle cx="1063.2" cy="589.7" r="7.1"/>
<circle cx="235.8" cy="259.9" r="7.1"/>
<circle cx="394.0" cy="233.5" r="7.1"/>
<circle cx="313.7" cy="374.4" r="7.1"/>
<circle cx="1177.7" cy="615.7" r="7.1"/>
<circle cx="1201.8" cy="589.4" r="7.1"/>
<circle cx="1041.3" cy="681.4" r="7.1"/>
<circle cx="651.4" cy="395.3" r="7.1"/>
<circle cx="836.3" cy="537.6" r="7.1"/>
<circle cx="373.0" cy="269.1" r="7.1"/>
<circle cx="1120.5" cy="499.4" r="7.1"/>
<circle cx="1045.7" cy="643.4" r="7.1"/>
<circle cx="527.9" cy="160.0" r="7.1"/>
<circle cx="1014.2" cy="569.0" r="7.1"/>
<circle cx="445.5" cy="217.7" r="7.1"/>
<circle cx="458.1" cy="271.8" r="7.1"/>
<circle cx="1050.0" cy="612.4" r="7.1"/>
<circle cx="1080.1" cy="591.6" r="7.1"/>
<circle cx="399.4" cy="256.3" r="7.1"/>
<circle cx="895.8" cy="589.6" r="7.1"/>
<circle cx="1272.1" cy="548.2" r="7.1"/>
<circle cx="338.1" cy="389.3" r="7.1"/>
<circle cx="992.3" cy="597.7" r="7.1"/>
<circle cx="1286.4" cy="579.3" r="7.1"/>
<circle cx="689.9" cy="391.5" r="7.1"/>
<circle cx="335.9" cy="343.5" r="7.1"/>
<circle cx="1143.0" cy="613.0" r="7.1"/>
<circle cx="579.6" cy="358.9" r="7.1"/>
<circle cx="1123.1" cy="587.7" r="7.1"/>
<circle cx="709.1" cy="401.6" r="7.1"/>
<circle cx="908.9" cy="590.9" r="7.1"/>
<circle cx="651.4" cy="383.4" r="7.1"/>
<circle cx="1038.8" cy="591.0" r="7.1"/>
<circle cx="492.8" cy="252.6" r="7.1"/>
<circle cx="312.1" cy="355.3" r="7.1"/>
<circle cx="620.5" cy="333.0" r="7.1"/>
<circle cx="1083.7" cy="594.1" r="7.1"/>
<circle cx="606.3" cy="374.1" r="7.1"/>
<circle cx="292.0" cy="274.5" r="7.1"/>
<circle cx="1044.5" cy="585.8" r="7.1"/>
<circle cx="582.4" cy="356.8" r="7.1"/>
<circle cx="1042.0" cy="652.2" r="7.1"/>
<circle cx="1039.5" cy="652.5" r="7.1"/>
<circle cx="724.1" cy="438.4" r="7.1"/>
<circle cx="227.2" cy="231.0" r="7.1"/>
<circle cx="1033.7" cy="610.9" r="7.1"/>
<circle cx="557.5" cy="357.7" r="7.1"/>
<circle cx="421.0" cy="263.2" r="7.1"/>
<circle cx="189.0" cy="271.4" r="7.1"/>
<circle cx="1088.8" cy="583.6" r="7.1"/>
<circle cx="675.0" cy="432.1" r="7.1"/>
<circle cx="383.3" cy="259.6" r="7.1"/>
<circle cx="1102.0" cy="507.0" r="7.1"/>
<circle cx="265.6" cy="259.9" r="7.1"/>
<circle cx="1250.5" cy="590.4" r="7.1"/>
<circle cx="588.3" cy="368.0" r="7.1"/>
<circle cx="314.3" cy="357.4" r="7.1"/>
<circle cx="417.7" cy="252.0" r="7.1"/>
<circle cx="1053.2" cy="589.7" r="7.1"/>
<circle cx="1008.6" cy="618.3" r="7.1"/>
<circle cx="462.4" cy="243.8" r="7.1"/>
<circle cx="366.9" cy="258.7" r="7.1"/>
<circle cx="302.6" cy="266.3" r="7.1"/>
<circle cx="590.0" cy="379.6" r="7.1"/>
<circle cx="1128.6" cy="575.1" r="7.1"/>
<circle cx="339.3" cy="401.5" r="7.1"/>
<circle cx="274.0" cy="189.3" r="7.1"/>
<circle cx="1124.7" cy="609.6" r="7.1"/>
<circle cx="635.8" cy="425.0" r="7.1"/>
<circle cx="405.2" cy="269.3" r="7.1"/>
<circle cx="1143.0" cy="561.4" r="7.1"/>
<circle cx="737.5" cy="428.8" r="7.1"/>
<circle cx="571.8" cy="365.5" r="7.1"/>
<circle cx="594.2" cy="340.7" r="7.1"/>
<circle cx="649.9" cy="394.0" r="7.1"/>
<circle cx="1140.0" cy="604.4" r="7.1"/>
<circle cx="989.6" cy="592.8" r="7.1"/>
<circle cx="638.3" cy="404.6" r="7.1"/>
<circle cx="782.7" cy="603.6" r="7.1"/>
<circle cx="550.1" cy="318.3" r="7.1"/>
<circle cx="1280.9" cy="587.6" r="7.1"/>
<circle cx="892.9" cy="625.7" r="7.1"/>
<circle cx="1279.2" cy="607.8" r="7.1"/>
<circle cx="1173.3" cy="605.5" r="7.1"/>
<circle cx="555.0" cy="376.1" r="7.1"/>
<circle cx="1170.7" cy="588.9" r="7.1"/>
<circle cx="870.8" cy="576.2" r="7.1"/>
<circle cx="427.0" cy="254.2" r="7.1"/>
<circle cx="470.6" cy="249.9" r="7.1"/>
<circle cx="1291.3" cy="584.8" r="7.1"/>
<circle cx="240.6" cy="239.9" r="7.1"/>
<circle cx="962.7" cy="564.0" r="7.1"/>
<circle cx="531.4" cy="145.6" r="7.1"/>
<circle cx="1227.9" cy="595.2" r="7.1"/>
<circle cx="327.6" cy="304.0" r="7.1"/>
<circle cx="531.4" cy="121.7" r="7.1"/>
<circle cx="750.0" cy="593.0" r="7.1"/>
<circle cx="978.3" cy="614.9" r="7.1"/>
<circle cx="1257.1" cy="596.5" r="7.1"/>
<circle cx="763.3" cy="580.1" r="7.1"/>
<circle cx="1050.0" cy="604.0" r="7.1"/>
<circle cx="756.1" cy="607.3" r="7.1"/>
<circle cx="306.4" cy="326.9" r="7.1"/>
<circle cx="1096.6" cy="584.1" r="7.1"/>
<circle cx="517.0" cy="251.8" r="7.1"/>
<circle cx="231.3" cy="224.9" r="7.1"/>
<circle cx="1149.1" cy="601.4" r="7.1"/>
<circle cx="1082.8" cy="603.7" r="7.1"/>
<circle cx="966.0" cy="578.5" r="7.1"/>
<circle cx="1150.5" cy="613.2" r="7.1"/>
<circle cx="796.4" cy="607.3" r="7.1"/>
<circle cx="501.5" cy="270.8" r="7.1"/>
<circle cx="649.9" cy="380.9" r="7.1"/>
<circle cx="773.2" cy="593.8" r="7.1"/>
<circle cx="405.3" cy="275.0" r="7.1"/>
<circle cx="270.9" cy="265.1" r="7.1"/>
<circle cx="458.1" cy="242.9" r="7.1"/>
<circle cx="724.0" cy="413.6" r="7.1"/>
<circle cx="957.4" cy="588.1" r="7.1"/>
<circle cx="917.1" cy="603.7" r="7.1"/>
<circle cx="836.3" cy="583.5" r="7.1"/>
<circle cx="930.3" cy="575.5" r="7.1"/>
<circle cx="982.3" cy="595.1" r="7.1"/>
<circle cx="439.5" cy="248.5" r="7.1"/>
<circle cx="450.0" cy="226.6" r="7.1"/>
<circle cx="349.2" cy="388.6" r="7.1"/>
<circle cx="901.5" cy="597.1" r="7.1"/>
<circle cx="966.0" cy="568.6" r="7.1"/>
<circle cx="531.4" cy="163.1" r="7.1"/>
<circle cx="1029.8" cy="624.2" r="7.1"/>
<circle cx="780.5" cy="596.0" r="7.1"/>
<circle cx="985.7" cy="543.4" r="7.1"/>
<circle cx="594.2" cy="352.2" r="7.1"/>
<circle cx="255.4" cy="251.8" r="7.1"/>
<circle cx="588.3" cy="349.1" r="7.1"/>
<circle cx="649.9" cy="386.1" r="7.1"/>
<circle cx="1124.7" cy="567.5" r="7.1"/>
<circle cx="754.6" cy="595.2" r="7.1"/>
<circle cx="834.4" cy="608.2" r="7.1"/>
<circle cx="962.7" cy="592.6" r="7.1"/>
<circle cx="676.0" cy="468.0" r="7.1"/>
<circle cx="973.2" cy="555.0" r="7.1"/>
<circle cx="1026.5" cy="632.8" r="7.1"/>
<circle cx="844.0" cy="590.5" r="7.1"/>
<circle cx="962.7" cy="582.7" r="7.1"/>
<circle cx="332.9" cy="354.3" r="7.1"/>
<circle cx="1018.1" cy="554.6" r="7.1"/>
<circle cx="189.0" cy="275.3" r="7.1"/>
<circle cx="529.5" cy="161.9" r="7.1"/>
<circle cx="1279.3" cy="583.8" r="7.1"/>
<circle cx="1053.1" cy="578.0" r="7.1"/>
<circle cx="697.9" cy="442.0" r="7.1"/>
<circle cx="644.6" cy="403.1" r="7.1"/>
<circle cx="1201.9" cy="573.7" r="7.1"/>
<circle cx="462.5" cy="264.7" r="7.1"/>
<circle cx="1061.2" cy="599.2" r="7.1"/>
<circle cx="994.3" cy="551.1" r="7.1"/>
<circle cx="1203.6" cy="571.0" r="7.1"/>
<circle cx="489.8" cy="254.6" r="7.1"/>
<circle cx="458.1" cy="252.2" r="7.1"/>
<circle cx="1090.9" cy="569.4" r="7.1"/>
<circle cx="1274.1" cy="578.6" r="7.1"/>
<circle cx="934.1" cy="599.9" r="7.1"/>
<circle cx="724.0" cy="435.8" r="7.1"/>
<circle cx="557.5" cy="363.5" r="7.1"/>
<circle cx="447.0" cy="252.8" r="7.1"/>
<circle cx="240.7" cy="241.8" r="7.1"/>
<circle cx="1267.7" cy="605.7" r="7.1"/>
<circle cx="1086.0" cy="530.0" r="7.1"/>
<circle cx="699.4" cy="395.4" r="7.1"/>
<circle cx="765.3" cy="573.2" r="7.1"/>
<circle cx="234.3" cy="248.5" r="7.1"/>
<circle cx="1102.7" cy="574.4" r="7.1"/>
<circle cx="631.1" cy="400.6" r="7.1"/>
<circle cx="1140.0" cy="617.5" r="7.1"/>
<circle cx="582.3" cy="376.5" r="7.1"/>
<circle cx="1199.2" cy="571.8" r="7.1"/>
<circle cx="719.4" cy="414.2" r="7.1"/>
<circle cx="992.3" cy="590.7" r="7.1"/>
<circle cx="769.4" cy="605.8" r="7.1"/>
<circle cx="996.9" cy="580.0" r="7.1"/>
<circle cx="1132.0" cy="580.9" r="7.1"/>
<circle cx="773.2" cy="587.0" r="7.1"/>
<circle cx="679.8" cy="391.3" r="7.1"/>
<circle cx="401.0" cy="219.3" r="7.1"/>
<circle cx="329.7" cy="323.2" r="7.1"/>
<circle cx="699.4" cy="417.0" r="7.1"/>
<circle cx="740.3" cy="419.5" r="7.1"/>
<circle cx="579.6" cy="353.6" r="7.1"/>
<circle cx="251.1" cy="228.0" r="7.1"/>
<circle cx="1094.3" cy="581.4" r="7.1"/>
<circle cx="221.4" cy="253.7" r="7.1"/>
<circle cx="857.2" cy="594.6" r="7.1"/>
<circle cx="261.6" cy="210.4" r="7.1"/>
<circle cx="704.9" cy="424.6" r="7.1"/>
<circle cx="1154.4" cy="624.7" r="7.1"/>
<circle cx="867.5" cy="588.7" r="7.1"/>
<circle cx="959.5" cy="576.5" r="7.1"/>
<circle cx="1037.0" cy="607.2" r="7.1"/>
<circle cx="662.0" cy="412.7" r="7.1"/>
<circle cx="897.1" cy="620.3" r="7.1"/>
<circle cx="603.1" cy="280.9" r="7.1"/>
<circle cx="576.2" cy="290.7" r="7.1"/>
<circle cx="1279.3" cy="525.7" r="7.1"/>
<circle cx="490.0" cy="330.0" r="7.1"/>
<circle cx="1140.0" cy="583.3" r="7.1"/>
<circle cx="1098.2" cy="538.4" r="7.1"/>
<circle cx="189.0" cy="237.2" r="7.1"/>
<circle cx="271.0" cy="230.6" r="7.1"/>
<circle cx="445.5" cy="240.9" r="7.1"/>
<circle cx="1018.0" cy="642.5" r="7.1"/>
<circle cx="253.5" cy="203.5" r="7.1"/>
<circle cx="777.4" cy="589.4" r="7.1"/>
<circle cx="346.7" cy="381.0" r="7.1"/>
<circle cx="468.0" cy="219.0" r="7.1"/>
<circle cx="370.0" cy="252.2" r="7.1"/>
<circle cx="718.0" cy="453.2" r="7.1"/>
<circle cx="1038.8" cy="529.3" r="7.1"/>
<circle cx="1207.7" cy="609.6" r="7.1"/>
<circle cx="590.0" cy="329.9" r="7.1"/>
<circle cx="1038.8" cy="648.3" r="7.1"/>
<circle cx="1153.4" cy="617.7" r="7.1"/>
<circle cx="594.9" cy="359.9" r="7.1"/>
<circle cx="662.0" cy="411.9" r="7.1"/>
<circle cx="409.6" cy="257.1" r="7.1"/>
<circle cx="1150.5" cy="590.7" r="7.1"/>
<circle cx="756.1" cy="586.3" r="7.1"/>
<circle cx="1020.0" cy="640.4" r="7.1"/>
<circle cx="839.0" cy="589.2" r="7.1"/>
<circle cx="385.3" cy="234.8" r="7.1"/>
<circle cx="530.0" cy="176.0" r="7.1"/>
<circle cx="1291.3" cy="607.1" r="7.1"/>
<circle cx="1168.7" cy="621.0" r="7.1"/>
<circle cx="744.0" cy="616.4" r="7.1"/>
<circle cx="540.9" cy="342.9" r="7.1"/>
<circle cx="360.5" cy="282.8" r="7.1"/>
<circle cx="1069.4" cy="536.8" r="7.1"/>
<circle cx="445.5" cy="245.9" r="7.1"/>
<circle cx="189.0" cy="195.1" r="7.1"/>
<circle cx="571.8" cy="391.4" r="7.1"/>
<circle cx="704.9" cy="397.2" r="7.1"/>
<circle cx="321.0" cy="385.3" r="7.1"/>
<circle cx="590.0" cy="370.5" r="7.1"/>
<circle cx="773.2" cy="624.9" r="7.1"/>
<circle cx="1207.7" cy="501.2" r="7.1"/>
<circle cx="1072.1" cy="582.5" r="7.1"/>
<circle cx="1061.2" cy="561.9" r="7.1"/>
<circle cx="189.0" cy="263.7" r="7.1"/>
<circle cx="586.4" cy="298.1" r="7.1"/>
<circle cx="1128.6" cy="574.5" r="7.1"/>
<circle cx="399.4" cy="238.4" r="7.1"/>
<circle cx="919.7" cy="558.2" r="7.1"/>
<circle cx="1124.7" cy="597.9" r="7.1"/>
<circle cx="1189.6" cy="615.9" r="7.1"/>
<circle cx="299.2" cy="262.1" r="7.1"/>
<circle cx="981.3" cy="602.7" r="7.1"/>
<circle cx="853.8" cy="584.8" r="7.1"/>
<circle cx="585.4" cy="345.5" r="7.1"/>
<circle cx="731.4" cy="405.0" r="7.1"/>
<circle cx="970.9" cy="580.5" r="7.1"/>
<circle cx="319.4" cy="351.2" r="7.1"/>
<circle cx="1013.7" cy="575.5" r="7.1"/>
<circle cx="314.2" cy="369.8" r="7.1"/>
<circle cx="1056.8" cy="590.8" r="7.1"/>
<circle cx="943.0" cy="598.4" r="7.1"/>
<circle cx="378.9" cy="257.8" r="7.1"/>
<circle cx="943.0" cy="568.3" r="7.1"/>
<circle cx="349.2" cy="404.6" r="7.1"/>
<circle cx="224.7" cy="226.9" r="7.1"/>
<circle cx="557.4" cy="365.4" r="7.1"/>
<circle cx="245.0" cy="208.2" r="7.1"/>
<circle cx="914.4" cy="578.9" r="7.1"/>
<circle cx="1154.4" cy="581.0" r="7.1"/>
<circle cx="414.0" cy="290.9" r="7.1"/>
<circle cx="353.1" cy="262.2" r="7.1"/>
<circle cx="547.6" cy="279.3" r="7.1"/>
<circle cx="1280.9" cy="585.5" r="7.1"/>
<circle cx="349.2" cy="407.5" r="7.1"/>
<circle cx="1056.9" cy="600.3" r="7.1"/>
<circle cx="750.0" cy="588.0" r="7.1"/>
<circle cx="825.0" cy="586.8" r="7.1"/>
<circle cx="224.6" cy="248.2" r="7.1"/>
<circle cx="777.4" cy="557.4" r="7.1"/>
<circle cx="849.8" cy="605.0" r="7.1"/>
<circle cx="334.9" cy="390.5" r="7.1"/>
<circle cx="660.6" cy="403.0" r="7.1"/>
<circle cx="403.1" cy="236.8" r="7.1"/>
<circle cx="897.0" cy="602.9" r="7.1"/>
<circle cx="591.0" cy="265.0" r="7.1"/>
<circle cx="844.0" cy="550.4" r="7.1"/>
<circle cx="313.7" cy="355.5" r="7.1"/>
<circle cx="1289.8" cy="613.2" r="7.1"/>
<circle cx="957.3" cy="570.4" r="7.1"/>
<circle cx="733.1" cy="412.9" r="7.1"/>
<circle cx="957.3" cy="577.4" r="7.1"/>
<circle cx="364.7" cy="264.0" r="7.1"/>
<circle cx="600.9" cy="378.4" r="7.1"/>
<circle cx="177.5" cy="265.0" r="7.1"/>
<circle cx="904.0" cy="589.2" r="7.1"/>
<circle cx="381.1" cy="278.2" r="7.1"/>
<circle cx="579.6" cy="365.2" r="7.1"/>
<circle cx="194.4" cy="222.6" r="7.1"/>
<circle cx="293.6" cy="255.9" r="7.1"/>
<circle cx="485.6" cy="281.9" r="7.1"/>
<circle cx="566.9" cy="344.4" r="7.1"/>
<circle cx="1072.1" cy="591.2" r="7.1"/>
<circle cx="1065.3" cy="617.9" r="7.1"/>
<circle cx="196.3" cy="275.8" r="7.1"/>
<circle cx="607.8" cy="351.1" r="7.1"/>
<circle cx="913.1" cy="612.4" r="7.1"/>
<circle cx="1212.8" cy="589.8" r="7.1"/>
<circle cx="1274.1" cy="585.1" r="7.1"/>
<circle cx="751.3" cy="565.4" r="7.1"/>
<circle cx="308.4" cy="356.5" r="7.1"/>
<circle cx="476.0" cy="247.9" r="7.1"/>
<circle cx="1042.0" cy="608.6" r="7.1"/>
<circle cx="776.5" cy="567.8" r="7.1"/>
<circle cx="1034.7" cy="599.0" r="7.1"/>
<circle cx="353.1" cy="262.2" r="7.1"/>
<circle cx="445.4" cy="247.8" r="7.1"/>
<circle cx="1209.7" cy="579.7" r="7.1"/>
<circle cx="957.4" cy="559.5" r="7.1"/>
<circle cx="1288.4" cy="596.1" r="7.1"/>
<circle cx="401.0" cy="227.5" r="7.1"/>
<circle cx="1128.6" cy="557.9" r="7.1"/>
<circle cx="1053.2" cy="593.2" r="7.1"/>
<circle cx="1000.0" cy="608.2" r="7.1"/>
<circle cx="419.7" cy="269.4" r="7.1"/>
<circle cx="930.2" cy="579.4" r="7.1"/>
<circle cx="324.2" cy="400.6" r="7.1"/>
<circle cx="420.9" cy="256.8" r="7.1"/>
<circle cx="913.1" cy="594.1" r="7.1"/>
<circle cx="700.7" cy="409.0" r="7.1"/>
<circle cx="953.3" cy="571.3" r="7.1"/>
<circle cx="697.9" cy="399.9" r="7.1"/>
<circle cx="1137.3" cy="605.7" r="7.1"/>
<circle cx="718.0" cy="427.8" r="7.1"/>
<circle cx="576.3" cy="380.8" r="7.1"/>
<circle cx="535.3" cy="161.5" r="7.1"/>
<circle cx="586.4" cy="336.8" r="7.1"/>
<circle cx="1220.7" cy="563.5" r="7.1"/>
<circle cx="844.9" cy="608.2" r="7.1"/>
<circle cx="897.0" cy="561.3" r="7.1"/>
<circle cx="259.9" cy="225.2" r="7.1"/>
<circle cx="700.8" cy="415.4" r="7.1"/>
<circle cx="196.0" cy="320.0" r="7.1"/>
<circle cx="451.8" cy="259.2" r="7.1"/>
<circle cx="476.0" cy="243.3" r="7.1"/>
<circle cx="504.8" cy="243.4" r="7.1"/>
<circle cx="694.8" cy="390.0" r="7.1"/>
<circle cx="1029.8" cy="598.4" r="7.1"/>
<circle cx="864.3" cy="594.9" r="7.1"/>
<circle cx="620.4" cy="319.4" r="7.1"/>
<circle cx="287.0" cy="280.6" r="7.1"/>
<circle cx="562.7" cy="353.8" r="7.1"/>
<circle cx="502.0" cy="337.7" r="7.1"/>
<circle cx="973.2" cy="590.2" r="7.1"/>
<circle cx="719.5" cy="394.2" r="7.1"/>
<circle cx="1076.3" cy="594.5" r="7.1"/>
<circle cx="1284.1" cy="541.5" r="7.1"/>
<circle cx="247.8" cy="242.0" r="7.1"/>
<circle cx="388.3" cy="276.3" r="7.1"/>
<circle cx="889.8" cy="571.5" r="7.1"/>
<circle cx="499.8" cy="276.4" r="7.1"/>
<circle cx="908.9" cy="567.9" r="7.1"/>
<circle cx="1263.2" cy="611.1" r="7.1"/>
<circle cx="1212.0" cy="580.0" r="7.1"/>
<circle cx="1264.9" cy="570.1" r="7.1"/>
<circle cx="718.0" cy="459.0" r="7.1"/>
<circle cx="568.7" cy="346.4" r="7.1"/>
<circle cx="1193.3" cy="590.5" r="7.1"/>
<circle cx="910.6" cy="596.1" r="7.1"/>
<circle cx="460.2" cy="250.0" r="7.1"/>
<circle cx="851.9" cy="589.4" r="7.1"/>
<circle cx="1100.8" cy="545.2" r="7.1"/>
<circle cx="875.8" cy="600.1" r="7.1"/>
<circle cx="1014.2" cy="584.5" r="7.1"/>
<circle cx="1030.9" cy="664.6" r="7.1"/>
<circle cx="333.0" cy="373.9" r="7.1"/>
<circle cx="1056.9" cy="582.7" r="7.1"/>
<circle cx="504.8" cy="303.5" r="7.1"/>
<circle cx="697.9" cy="421.8" r="7.1"/>
<circle cx="1181.5" cy="595.1" r="7.1"/>
<circle cx="1205.4" cy="602.1" r="7.1"/>
<circle cx="1183.0" cy="624.4" r="7.1"/>
<circle cx="1167.9" cy="579.8" r="7.1"/>
<circle cx="627.9" cy="306.0" r="7.1"/>
<circle cx="1291.3" cy="600.8" r="7.1"/>
<circle cx="321.0" cy="372.7" r="7.1"/>
<circle cx="1010.4" cy="575.7" r="7.1"/>
<circle cx="780.5" cy="597.7" r="7.1"/>
<circle cx="962.7" cy="564.3" r="7.1"/>
<circle cx="292.0" cy="275.7" r="7.1"/>
<circle cx="1128.5" cy="570.0" r="7.1"/>
<circle cx="1260.1" cy="530.3" r="7.1"/>
<circle cx="385.4" cy="262.5" r="7.1"/>
<circle cx="586.4" cy="361.6" r="7.1"/>
<circle cx="472.4" cy="254.6" r="7.1"/>
<circle cx="966.0" cy="586.4" r="7.1"/>
<circle cx="458.0" cy="254.9" r="7.1"/>
<circle cx="472.4" cy="232.6" r="7.1"/>
<circle cx="889.7" cy="602.8" r="7.1"/>
<circle cx="221.5" cy="249.6" r="7.1"/>
<circle cx="966.0" cy="545.7" r="7.1"/>
<circle cx="1061.1" cy="603.7" r="7.1"/>
<circle cx="263.8" cy="247.4" r="7.1"/>
<circle cx="707.6" cy="417.9" r="7.1"/>
<circle cx="684.0" cy="417.3" r="7.1"/>
<circle cx="302.7" cy="282.0" r="7.1"/>
<circle cx="366.9" cy="264.3" r="7.1"/>
<circle cx="635.8" cy="401.0" r="7.1"/>
<circle cx="896.0" cy="650.0" r="7.1"/>
<circle cx="460.2" cy="244.5" r="7.1"/>
<circle cx="1167.9" cy="604.4" r="7.1"/>
<circle cx="296.5" cy="211.1" r="7.1"/>
<circle cx="1074.7" cy="554.5" r="7.1"/>
<circle cx="996.9" cy="570.1" r="7.1"/>
<circle cx="703.9" cy="399.1" r="7.1"/>
<circle cx="517.0" cy="180.0" r="7.1"/>
<circle cx="366.9" cy="244.5" r="7.1"/>
<circle cx="368.0" cy="273.6" r="7.1"/>
<circle cx="425.0" cy="194.0" r="7.1"/>
<circle cx="517.0" cy="227.2" r="7.1"/>
<circle cx="577.9" cy="352.6" r="7.1"/>
<circle cx="1033.7" cy="633.4" r="7.1"/>
<circle cx="551.8" cy="369.6" r="7.1"/>
<circle cx="227.3" cy="242.1" r="7.1"/>
<circle cx="840.5" cy="622.8" r="7.1"/>
<circle cx="413.5" cy="237.6" r="7.1"/>
<circle cx="1272.1" cy="576.8" r="7.1"/>
<circle cx="789.4" cy="587.2" r="7.1"/>
<circle cx="414.1" cy="275.1" r="7.1"/>
<circle cx="394.0" cy="270.7" r="7.1"/>
<circle cx="1069.3" cy="536.5" r="7.1"/>
<circle cx="849.9" cy="620.9" r="7.1"/>
<circle cx="1289.9" cy="604.6" r="7.1"/>
<circle cx="813.0" cy="591.9" r="7.1"/>
<circle cx="784.5" cy="589.4" r="7.1"/>
<circle cx="510.1" cy="273.2" r="7.1"/>
<circle cx="662.0" cy="383.0" r="7.1"/>
<circle cx="895.8" cy="576.8" r="7.1"/>
<circle cx="1269.8" cy="599.7" r="7.1"/>
<circle cx="786.2" cy="588.9" r="7.1"/>
<circle cx="1282.4" cy="585.9" r="7.1"/>
<circle cx="1123.5" cy="470.0" r="7.1"/>
<circle cx="427.0" cy="295.0" r="7.1"/>
<circle cx="1284.0" cy="595.2" r="7.1"/>
<circle cx="631.0" cy="437.5" r="7.1"/>
<circle cx="1092.0" cy="593.0" r="7.1"/>
<circle cx="1030.9" cy="571.0" r="7.1"/>
<circle cx="650.0" cy="384.9" r="7.1"/>
<circle cx="399.5" cy="245.4" r="7.1"/>
<circle cx="226.3" cy="285.8" r="7.1"/>
<circle cx="1145.5" cy="606.1" r="7.1"/>
<circle cx="1072.1" cy="564.0" r="7.1"/>
<circle cx="1181.4" cy="606.8" r="7.1"/>
<circle cx="480.5" cy="272.6" r="7.1"/>
<circle cx="455.8" cy="266.2" r="7.1"/>
<circle cx="865.7" cy="592.3" r="7.1"/>
<circle cx="419.8" cy="267.4" r="7.1"/>
<circle cx="1220.7" cy="579.3" r="7.1"/>
<circle cx="681.4" cy="420.4" r="7.1"/>
<circle cx="1061.1" cy="607.7" r="7.1"/>
<circle cx="1277.2" cy="587.1" r="7.1"/>
<circle cx="1181.5" cy="611.1" r="7.1"/>
<circle cx="267.5" cy="245.8" r="7.1"/>
<circle cx="450.0" cy="240.3" r="7.1"/>
<circle cx="259.0" cy="231.7" r="7.1"/>
<circle cx="245.0" cy="253.1" r="7.1"/>
<circle cx="318.1" cy="371.5" r="7.1"/>
<circle cx="749.5" cy="452.0" r="7.1"/>
<circle cx="624.3" cy="349.5" r="7.1"/>
<circle cx="1050.0" cy="587.3" r="7.1"/>
<circle cx="298.2" cy="240.5" r="7.1"/>
<circle cx="524.8" cy="266.3" r="7.1"/>
<circle cx="1004.7" cy="579.7" r="7.1"/>
<circle cx="681.5" cy="420.1" r="7.1"/>
<circle cx="199.7" cy="215.5" r="7.1"/>
<circle cx="1216.1" cy="606.1" r="7.1"/>
<circle cx="1074.8" cy="596.3" r="7.1"/>
<circle cx="1284.1" cy="595.4" r="7.1"/>
<circle cx="1130.5" cy="594.5" r="7.1"/>
<circle cx="450.0" cy="270.0" r="7.1"/>
<circle cx="1140.0" cy="549.3" r="7.1"/>
<circle cx="1033.7" cy="614.7" r="7.1"/>
<circle cx="847.6" cy="594.3" r="7.1"/>
<circle cx="420.9" cy="274.7" r="7.1"/>
<circle cx="1132.1" cy="546.5" r="7.1"/>
<circle cx="1076.3" cy="595.9" r="7.1"/>
<circle cx="681.5" cy="423.5" r="7.1"/>
<circle cx="374.5" cy="241.4" r="7.1"/>
<circle cx="305.7" cy="348.7" r="7.1"/>
<circle cx="971.0" cy="596.8" r="7.1"/>
<circle cx="700.8" cy="426.7" r="7.1"/>
<circle cx="403.1" cy="260.8" r="7.1"/>
<circle cx="554.3" cy="365.2" r="7.1"/>
<circle cx="202.1" cy="275.9" r="7.1"/>
<circle cx="334.9" cy="354.5" r="7.1"/>
<circle cx="1004.6" cy="578.0" r="7.1"/>
<circle cx="607.9" cy="360.6" r="7.1"/>
<circle cx="360.5" cy="273.0" r="7.1"/>
<circle cx="713.7" cy="447.4" r="7.1"/>
<circle cx="1096.6" cy="600.6" r="7.1"/>
<circle cx="991.7" cy="611.3" r="7.1"/>
<circle cx="913.1" cy="601.2" r="7.1"/>
<circle cx="1225.0" cy="589.5" r="7.1"/>
<circle cx="735.2" cy="421.3" r="7.1"/>
<circle cx="861.2" cy="622.7" r="7.1"/>
<circle cx="1008.6" cy="596.0" r="7.1"/>
<circle cx="678.0" cy="414.5" r="7.1"/>
<circle cx="234.4" cy="246.6" r="7.1"/>
<circle cx="829.1" cy="605.8" r="7.1"/>
<circle cx="665.5" cy="416.1" r="7.1"/>
<circle cx="836.4" cy="573.4" r="7.1"/>
<circle cx="1158.8" cy="634.1" r="7.1"/>
<circle cx="1175.3" cy="594.0" r="7.1"/>
<circle cx="251.2" cy="219.1" r="7.1"/>
<circle cx="895.8" cy="572.1" r="7.1"/>
<circle cx="319.4" cy="377.6" r="7.1"/>
<circle cx="870.7" cy="592.0" r="7.1"/>
<circle cx="377.7" cy="247.0" r="7.1"/>
<circle cx="794.3" cy="603.3" r="7.1"/>
<circle cx="401.0" cy="241.6" r="7.1"/>
<circle cx="737.5" cy="425.6" r="7.1"/>
<circle cx="1074.7" cy="589.0" r="7.1"/>
<circle cx="970.2" cy="506.4" r="7.1"/>
<circle cx="976.9" cy="574.7" r="7.1"/>
<circle cx="324.9" cy="358.3" r="7.1"/>
<circle cx="504.2" cy="258.9" r="7.1"/>
<circle cx="177.5" cy="277.0" r="7.1"/>
<circle cx="1146.3" cy="486.6" r="7.1"/>
<circle cx="976.9" cy="582.9" r="7.1"/>
<circle cx="1132.1" cy="615.7" r="7.1"/>
<circle cx="927.2" cy="532.0" r="7.1"/>
<circle cx="638.3" cy="410.2" r="7.1"/>
<circle cx="859.8" cy="615.5" r="7.1"/>
<circle cx="321.0" cy="306.7" r="7.1"/>
<circle cx="353.1" cy="263.2" r="7.1"/>
<circle cx="938.3" cy="578.1" r="7.1"/>
<circle cx="230.0" cy="249.7" r="7.1"/>
<circle cx="653.3" cy="415.0" r="7.1"/>
<circle cx="622.2" cy="334.1" r="7.1"/>
<circle cx="1135.0" cy="498.0" r="7.1"/>
<circle cx="906.9" cy="584.2" r="7.1"/>
<circle cx="240.6" cy="243.0" r="7.1"/>
<circle cx="555.0" cy="382.2" r="7.1"/>
<circle cx="543.1" cy="334.9" r="7.1"/>
<circle cx="1170.7" cy="549.1" r="7.1"/>
<circle cx="711.0" cy="422.6" r="7.1"/>
<circle cx="1252.0" cy="520.0" r="7.1"/>
<circle cx="851.9" cy="613.4" r="7.1"/>
<circle cx="265.6" cy="221.7" r="7.1"/>
<circle cx="1277.1" cy="574.6" r="7.1"/>
<circle cx="396.4" cy="242.1" r="7.1"/>
<circle cx="217.9" cy="266.8" r="7.1"/>
<circle cx="1193.3" cy="583.8" r="7.1"/>
<circle cx="780.5" cy="592.3" r="7.1"/>
<circle cx="640.4" cy="398.4" r="7.1"/>
<circle cx="1047.2" cy="585.6" r="7.1"/>
<circle cx="261.6" cy="231.8" r="7.1"/>
<circle cx="917.1" cy="599.3" r="7.1"/>
<circle cx="1149.0" cy="554.3" r="7.1"/>
<circle cx="740.3" cy="407.7" r="7.1"/>
<circle cx="298.2" cy="275.7" r="7.1"/>
<circle cx="443.3" cy="259.1" r="7.1"/>
<circle cx="657.1" cy="376.4" r="7.1"/>
<circle cx="508.4" cy="301.3" r="7.1"/>
<circle cx="478.2" cy="202.2" r="7.1"/>
<circle cx="638.3" cy="423.4" r="7.1"/>
<circle cx="936.3" cy="560.3" r="7.1"/>
<circle cx="251.1" cy="244.8" r="7.1"/>
<circle cx="765.3" cy="597.6" r="7.1"/>
<circle cx="1266.3" cy="600.9" r="7.1"/>
<circle cx="1153.4" cy="625.1" r="7.1"/>
<circle cx="381.1" cy="252.9" r="7.1"/>
<circle cx="627.9" cy="331.1" r="7.1"/>
<circle cx="1124.6" cy="579.0" r="7.1"/>
<circle cx="189.0" cy="230.9" r="7.1"/>
<circle cx="1189.7" cy="580.6" r="7.1"/>
<circle cx="1072.1" cy="558.6" r="7.1"/>
<circle cx="417.8" cy="290.0" r="7.1"/>
<circle cx="1143.0" cy="581.5" r="7.1"/>
<circle cx="1286.5" cy="600.7" r="7.1"/>
<circle cx="1199.2" cy="575.6" r="7.1"/>
<circle cx="214.9" cy="259.0" r="7.1"/>
<circle cx="1272.1" cy="597.9" r="7.1"/>
<circle cx="368.0" cy="269.2" r="7.1"/>
<circle cx="794.3" cy="608.2" r="7.1"/>
<circle cx="341.5" cy="372.8" r="7.1"/>
<circle cx="1163.5" cy="578.0" r="7.1"/>
<circle cx="247.7" cy="214.0" r="7.1"/>
<circle cx="1225.0" cy="641.8" r="7.1"/>
<circle cx="399.4" cy="263.0" r="7.1"/>
<circle cx="1196.0" cy="567.5" r="7.1"/>
<circle cx="1105.0" cy="586.1" r="7.1"/>
<circle cx="976.8" cy="601.5" r="7.1"/>
<circle cx="985.7" cy="599.9" r="7.1"/>
<circle cx="895.8" cy="572.9" r="7.1"/>
<circle cx="763.3" cy="588.1" r="7.1"/>
<circle cx="309.7" cy="340.2" r="7.1"/>
<circle cx="1260.2" cy="599.1" r="7.1"/>
<circle cx="992.3" cy="583.7" r="7.1"/>
<circle cx="1120.5" cy="574.5" r="7.1"/>
<circle cx="650.0" cy="392.7" r="7.1"/>
<circle cx="986.6" cy="587.3" r="7.1"/>
<circle cx="684.0" cy="426.0" r="7.1"/>
<circle cx="784.4" cy="598.6" r="7.1"/>
<circle cx="1080.1" cy="586.1" r="7.1"/>
<circle cx="1105.0" cy="583.8" r="7.1"/>
<circle cx="325.0" cy="353.3" r="7.1"/>
<circle cx="1274.1" cy="580.6" r="7.1"/>
<circle cx="718.1" cy="439.5" r="7.1"/>
<circle cx="651.4" cy="397.7" r="7.1"/>
<circle cx="1055.0" cy="579.8" r="7.1"/>
<circle cx="567.0" cy="325.4" r="7.1"/>
<circle cx="576.3" cy="359.3" r="7.1"/>
<circle cx="1163.5" cy="602.2" r="7.1"/>
<circle cx="512.4" cy="259.6" r="7.1"/>
<circle cx="691.3" cy="413.3" r="7.1"/>
<circle cx="986.6" cy="596.9" r="7.1"/>
<circle cx="450.1" cy="274.9" r="7.1"/>
<circle cx="1123.1" cy="580.0" r="7.1"/>
<circle cx="657.2" cy="408.6" r="7.1"/>
<circle cx="554.2" cy="341.1" r="7.1"/>
<circle cx="287.0" cy="274.0" r="7.1"/>
<circle cx="594.9" cy="354.8" r="7.1"/>
<circle cx="568.7" cy="359.1" r="7.1"/>
<circle cx="1006.7" cy="608.0" r="7.1"/>
<circle cx="689.9" cy="391.3" r="7.1"/>
<circle cx="254.0" cy="192.0" r="7.1"/>
<circle cx="460.2" cy="251.8" r="7.1"/>
<circle cx="687.0" cy="433.0" r="7.1"/>
<circle cx="333.0" cy="378.3" r="7.1"/>
<circle cx="1010.4" cy="550.8" r="7.1"/>
<circle cx="1069.4" cy="603.4" r="7.1"/>
<circle cx="644.6" cy="406.2" r="7.1"/>
<circle cx="854.6" cy="540.0" r="7.1"/>
<circle cx="897.0" cy="605.2" r="7.1"/>
<circle cx="794.3" cy="601.6" r="7.1"/>
<circle cx="1076.3" cy="579.2" r="7.1"/>
<circle cx="957.3" cy="592.9" r="7.1"/>
<circle cx="396.3" cy="221.5" r="7.1"/>
<circle cx="1083.7" cy="550.0" r="7.1"/>
<circle cx="577.9" cy="385.1" r="7.1"/>
<circle cx="773.2" cy="623.4" r="7.1"/>
<circle cx="694.8" cy="420.2" r="7.1"/>
<circle cx="936.3" cy="586.0" r="7.1"/>
<circle cx="1257.1" cy="583.0" r="7.1"/>
<circle cx="1096.5" cy="529.0" r="7.1"/>
<circle cx="704.0" cy="393.6" r="7.1"/>
<circle cx="571.8" cy="367.8" r="7.1"/>
<circle cx="1225.1" cy="596.9" r="7.1"/>
<circle cx="1181.5" cy="607.8" r="7.1"/>
<circle cx="719.5" cy="396.1" r="7.1"/>
<circle cx="471.0" cy="185.0" r="7.1"/>
<circle cx="687.1" cy="421.6" r="7.1"/>
<circle cx="966.0" cy="571.8" r="7.1"/>
<circle cx="1126.8" cy="598.4" r="7.1"/>
<circle cx="1181.4" cy="587.4" r="7.1"/>
<circle cx="938.3" cy="584.1" r="7.1"/>
<circle cx="245.0" cy="238.0" r="7.1"/>
<circle cx="1218.2" cy="609.7" r="7.1"/>
<circle cx="619.8" cy="338.3" r="7.1"/>
<circle cx="1050.0" cy="582.1" r="7.1"/>
<circle cx="1072.0" cy="564.6" r="7.1"/>
<circle cx="1223.9" cy="629.5" r="7.1"/>
<circle cx="251.1" cy="244.7" r="7.1"/>
<circle cx="544.9" cy="382.4" r="7.1"/>
<circle cx="789.4" cy="604.0" r="7.1"/>
<circle cx="872.3" cy="582.0" r="7.1"/>
<circle cx="917.1" cy="585.0" r="7.1"/>
<circle cx="194.5" cy="226.6" r="7.1"/>
<circle cx="1272.1" cy="616.4" r="7.1"/>
<circle cx="331.2" cy="375.7" r="7.1"/>
<circle cx="1030.8" cy="606.9" r="7.1"/>
<circle cx="765.2" cy="588.9" r="7.1"/>
<circle cx="1254.7" cy="592.8" r="7.1"/>
<circle cx="512.4" cy="260.0" r="7.1"/>
<circle cx="600.0" cy="428.0" r="7.1"/>
<circle cx="1230.5" cy="625.5" r="7.1"/>
<circle cx="476.0" cy="273.1" r="7.1"/>
<circle cx="1063.2" cy="600.5" r="7.1"/>
<circle cx="391.1" cy="293.8" r="7.1"/>
<circle cx="527.6" cy="110.0" r="7.1"/>
<circle cx="221.5" cy="261.6" r="7.1"/>
<circle cx="450.0" cy="263.7" r="7.1"/>
<circle cx="331.3" cy="388.2" r="7.1"/>
<circle cx="754.7" cy="580.0" r="7.1"/>
<circle cx="627.9" cy="342.3" r="7.1"/>
<circle cx="458.1" cy="278.9" r="7.1"/>
<circle cx="338.1" cy="353.2" r="7.1"/>
<circle cx="224.7" cy="213.6" r="7.1"/>
<circle cx="917.1" cy="582.0" r="7.1"/>
<circle cx="872.3" cy="596.0" r="7.1"/>
<circle cx="385.3" cy="278.1" r="7.1"/>
<circle cx="782.6" cy="614.2" r="7.1"/>
<circle cx="454.2" cy="249.5" r="7.1"/>
<circle cx="632.5" cy="485.4" r="7.1"/>
<circle cx="773.2" cy="566.9" r="7.1"/>
<circle cx="220.5" cy="257.7" r="7.1"/>
<circle cx="1279.2" cy="595.7" r="7.1"/>
<circle cx="694.8" cy="369.8" r="7.1"/>
<circle cx="577.9" cy="376.1" r="7.1"/>
<circle cx="1279.3" cy="574.0" r="7.1"/>
<circle cx="313.7" cy="350.2" r="7.1"/>
<circle cx="470.5" cy="237.3" r="7.1"/>
<circle cx="1156.9" cy="616.5" r="7.1"/>
<circle cx="519.8" cy="251.8" r="7.1"/>
<circle cx="1003.1" cy="591.6" r="7.1"/>
<circle cx="919.6" cy="594.9" r="7.1"/>
<circle cx="962.8" cy="553.1" r="7.1"/>
<circle cx="298.2" cy="252.7" r="7.1"/>
<circle cx="1047.2" cy="598.5" r="7.1"/>
<circle cx="576.3" cy="334.5" r="7.1"/>
<circle cx="906.9" cy="596.1" r="7.1"/>
<circle cx="1050.0" cy="578.2" r="7.1"/>
<circle cx="521.8" cy="256.2" r="7.1"/>
<circle cx="379.0" cy="257.8" r="7.1"/>
<circle cx="399.8" cy="349.5" r="7.1"/>
<circle cx="635.9" cy="387.3" r="7.1"/>
<circle cx="476.0" cy="252.0" r="7.1"/>
<circle cx="724.0" cy="376.2" r="7.1"/>
<circle cx="287.0" cy="264.8" r="7.1"/>
<circle cx="292.0" cy="267.2" r="7.1"/>
<circle cx="1161.7" cy="608.4" r="7.1"/>
<circle cx="234.4" cy="240.7" r="7.1"/>
<circle cx="296.5" cy="271.2" r="7.1"/>
<circle cx="1086.7" cy="603.1" r="7.1"/>
<circle cx="823.5" cy="501.7" r="7.1"/>
<circle cx="603.0" cy="329.6" r="7.1"/>
<circle cx="557.5" cy="352.8" r="7.1"/>
<circle cx="763.3" cy="561.6" r="7.1"/>
<circle cx="1076.3" cy="596.1" r="7.1"/>
<circle cx="815.5" cy="614.1" r="7.1"/>
<circle cx="322.9" cy="343.4" r="7.1"/>
<circle cx="1187.5" cy="598.4" r="7.1"/>
<circle cx="309.7" cy="378.0" r="7.1"/>
<circle cx="255.4" cy="234.8" r="7.1"/>
<circle cx="971.0" cy="542.8" r="7.1"/>
<circle cx="955.6" cy="573.2" r="7.1"/>
<circle cx="292.0" cy="276.6" r="7.1"/>
<circle cx="606.2" cy="327.5" r="7.1"/>
<circle cx="904.0" cy="586.0" r="7.1"/>
<circle cx="388.3" cy="278.4" r="7.1"/>
<circle cx="614.0" cy="262.0" r="7.1"/>
<circle cx="619.8" cy="296.5" r="7.1"/>
<circle cx="309.7" cy="370.4" r="7.1"/>
<circle cx="334.9" cy="341.4" r="7.1"/>
<circle cx="310.7" cy="351.7" r="7.1"/>
<circle cx="271.0" cy="225.9" r="7.1"/>
<circle cx="370.0" cy="269.8" r="7.1"/>
<circle cx="403.1" cy="270.9" r="7.1"/>
<circle cx="521.8" cy="266.9" r="7.1"/>
<circle cx="607.8" cy="361.0" r="7.1"/>
<circle cx="1178.9" cy="584.6" r="7.1"/>
<circle cx="1153.3" cy="595.4" r="7.1"/>
<circle cx="230.0" cy="197.0" r="7.1"/>
<circle cx="541.0" cy="302.7" r="7.1"/>
<circle cx="1137.4" cy="564.5" r="7.1"/>
<circle cx="1130.0" cy="490.0" r="7.1"/>
<circle cx="857.1" cy="584.4" r="7.1"/>
<circle cx="867.4" cy="589.9" r="7.1"/>
<circle cx="773.2" cy="598.4" r="7.1"/>
<circle cx="1135.9" cy="587.9" r="7.1"/>
<circle cx="468.1" cy="251.9" r="7.1"/>
<circle cx="1225.0" cy="636.7" r="7.1"/>
<circle cx="567.0" cy="351.6" r="7.1"/>
<circle cx="391.1" cy="270.1" r="7.1"/>
<circle cx="777.4" cy="609.4" r="7.1"/>
<circle cx="1147.1" cy="583.5" r="7.1"/>
<circle cx="227.3" cy="257.5" r="7.1"/>
<circle cx="872.3" cy="571.8" r="7.1"/>
<circle cx="875.8" cy="588.2" r="7.1"/>
<circle cx="574.2" cy="349.5" r="7.1"/>
<circle cx="1102.8" cy="564.6" r="7.1"/>
<circle cx="472.4" cy="233.9" r="7.1"/>
<circle cx="913.2" cy="590.4" r="7.1"/>
<circle cx="1003.1" cy="572.1" r="7.1"/>
<circle cx="1277.1" cy="580.5" r="7.1"/>
<circle cx="926.8" cy="457.0" r="7.1"/>
<circle cx="1047.2" cy="584.5" r="7.1"/>
<circle cx="973.2" cy="569.0" r="7.1"/>
<circle cx="344.0" cy="350.1" r="7.1"/>
<circle cx="1137.4" cy="591.9" r="7.1"/>
<circle cx="468.1" cy="238.8" r="7.1"/>
<circle cx="310.7" cy="373.7" r="7.1"/>
<circle cx="374.6" cy="280.9" r="7.1"/>
<circle cx="480.5" cy="265.9" r="7.1"/>
<circle cx="1223.9" cy="607.7" r="7.1"/>
<circle cx="527.9" cy="136.7" r="7.1"/>
<circle cx="1003.1" cy="541.1" r="7.1"/>
<circle cx="524.8" cy="255.4" r="7.1"/>
<circle cx="813.0" cy="608.9" r="7.1"/>
<circle cx="921.3" cy="574.3" r="7.1"/>
<circle cx="586.4" cy="373.1" r="7.1"/>
<circle cx="953.3" cy="588.1" r="7.1"/>
<circle cx="577.9" cy="355.4" r="7.1"/>
<circle cx="767.8" cy="608.7" r="7.1"/>
<circle cx="975.3" cy="568.9" r="7.1"/>
<circle cx="551.9" cy="254.2" r="7.1"/>
<circle cx="427.0" cy="272.1" r="7.1"/>
<circle cx="1267.0" cy="500.0" r="7.1"/>
<circle cx="930.2" cy="565.8" r="7.1"/>
<circle cx="1005.0" cy="512.0" r="7.1"/>
<circle cx="189.0" cy="250.7" r="7.1"/>
<circle cx="1158.8" cy="603.2" r="7.1"/>
<circle cx="574.2" cy="343.3" r="7.1"/>
<circle cx="417.7" cy="251.0" r="7.1"/>
<circle cx="1288.5" cy="593.9" r="7.1"/>
<circle cx="298.1" cy="247.2" r="7.1"/>
<circle cx="847.6" cy="612.9" r="7.1"/>
<circle cx="832.5" cy="587.9" r="7.1"/>
<circle cx="785.0" cy="500.0" r="7.1"/>
<circle cx="1083.7" cy="576.4" r="7.1"/>
<circle cx="215.1" cy="243.3" r="7.1"/>
<circle cx="861.2" cy="572.0" r="7.1"/>
<circle cx="407.7" cy="272.8" r="7.1"/>
<circle cx="1135.9" cy="527.5" r="7.1"/>
<circle cx="813.0" cy="566.6" r="7.1"/>
<circle cx="644.7" cy="412.4" r="7.1"/>
<circle cx="341.5" cy="387.0" r="7.1"/>
<circle cx="306.4" cy="369.1" r="7.1"/>
<circle cx="1063.2" cy="588.6" r="7.1"/>
<circle cx="202.1" cy="245.7" r="7.1"/>
<circle cx="1000.0" cy="573.8" r="7.1"/>
<circle cx="1000.0" cy="575.6" r="7.1"/>
<circle cx="616.0" cy="248.0" r="7.1"/>
<circle cx="613.8" cy="368.0" r="7.1"/>
<circle cx="981.4" cy="598.2" r="7.1"/>
<circle cx="617.2" cy="333.9" r="7.1"/>
<circle cx="989.6" cy="604.5" r="7.1"/>
<circle cx="346.8" cy="373.0" r="7.1"/>
<circle cx="655.8" cy="426.8" r="7.1"/>
<circle cx="1254.6" cy="611.6" r="7.1"/>
<circle cx="1227.8" cy="591.8" r="7.1"/>
<circle cx="200.0" cy="318.0" r="7.1"/>
<circle cx="1128.6" cy="564.7" r="7.1"/>
<circle cx="349.2" cy="368.9" r="7.1"/>
<circle cx="403.1" cy="256.7" r="7.1"/>
<circle cx="249.4" cy="209.6" r="7.1"/>
<circle cx="499.8" cy="280.8" r="7.1"/>
<circle cx="401.0" cy="246.1" r="7.1"/>
<circle cx="315.9" cy="366.6" r="7.1"/>
<circle cx="407.7" cy="274.9" r="7.1"/>
<circle cx="544.9" cy="355.0" r="7.1"/>
<circle cx="982.3" cy="520.9" r="7.1"/>
<circle cx="335.8" cy="325.3" r="7.1"/>
<circle cx="631.0" cy="438.7" r="7.1"/>
<circle cx="445.4" cy="250.9" r="7.1"/>
<circle cx="547.7" cy="364.9" r="7.1"/>
<circle cx="859.8" cy="622.7" r="7.1"/>
<circle cx="194.5" cy="258.4" r="7.1"/>
<circle cx="1199.2" cy="596.6" r="7.1"/>
<circle cx="230.0" cy="226.2" r="7.1"/>
<circle cx="782.6" cy="583.4" r="7.1"/>
<circle cx="1147.2" cy="603.7" r="7.1"/>
<circle cx="1274.9" cy="624.5" r="7.1"/>
<circle cx="576.3" cy="347.2" r="7.1"/>
<circle cx="417.7" cy="293.6" r="7.1"/>
<circle cx="1096.5" cy="564.2" r="7.1"/>
<circle cx="251.2" cy="219.5" r="7.1"/>
<circle cx="191.7" cy="283.7" r="7.1"/>
<circle cx="820.7" cy="593.0" r="7.1"/>
<circle cx="590.0" cy="361.5" r="7.1"/>
<circle cx="445.4" cy="196.7" r="7.1"/>
<circle cx="492.8" cy="253.5" r="7.1"/>
<circle cx="496.6" cy="267.2" r="7.1"/>
<circle cx="1147.1" cy="554.7" r="7.1"/>
<circle cx="351.2" cy="316.6" r="7.1"/>
<circle cx="343.0" cy="367.5" r="7.1"/>
<circle cx="562.7" cy="351.7" r="7.1"/>
<circle cx="819.0" cy="594.8" r="7.1"/>
<circle cx="791.8" cy="602.5" r="7.1"/>
<circle cx="446.9" cy="260.9" r="7.1"/>
<circle cx="1228.0" cy="524.0" r="7.1"/>
<circle cx="737.4" cy="403.6" r="7.1"/>
<circle cx="317.1" cy="379.0" r="7.1"/>
<circle cx="458.1" cy="260.1" r="7.1"/>
<circle cx="1280.0" cy="510.0" r="7.1"/>
<circle cx="546.2" cy="336.0" r="7.1"/>
<circle cx="403.1" cy="259.4" r="7.1"/>
<circle cx="776.5" cy="601.7" r="7.1"/>
<circle cx="828.1" cy="581.9" r="7.1"/>
<circle cx="1137.4" cy="582.9" r="7.1"/>
<circle cx="1140.0" cy="542.9" r="7.1"/>
<circle cx="1203.6" cy="612.8" r="7.1"/>
<circle cx="678.0" cy="418.2" r="7.1"/>
<circle cx="895.7" cy="580.0" r="7.1"/>
<circle cx="576.2" cy="362.8" r="7.1"/>
<circle cx="681.5" cy="439.4" r="7.1"/>
<circle cx="1018.0" cy="587.5" r="7.1"/>
<circle cx="813.0" cy="582.1" r="7.1"/>
<circle cx="675.1" cy="453.7" r="7.1"/>
<circle cx="834.4" cy="605.5" r="7.1"/>
<circle cx="691.3" cy="423.0" r="7.1"/>
<circle cx="1153.3" cy="624.5" r="7.1"/>
<circle cx="599.5" cy="368.0" r="7.1"/>
<circle cx="360.5" cy="264.3" r="7.1"/>
<circle cx="975.3" cy="567.0" r="7.1"/>
<circle cx="226.4" cy="245.1" r="7.1"/>
<circle cx="245.0" cy="211.6" r="7.1"/>
<circle cx="504.2" cy="256.1" r="7.1"/>
<circle cx="1126.8" cy="565.3" r="7.1"/>
<circle cx="981.3" cy="604.9" r="7.1"/>
<circle cx="462.0" cy="203.0" r="7.1"/>
<circle cx="820.8" cy="592.0" r="7.1"/>
<circle cx="324.2" cy="373.8" r="7.1"/>
<circle cx="1197.1" cy="611.4" r="7.1"/>
<circle cx="970.9" cy="597.9" r="7.1"/>
<circle cx="1037.0" cy="604.6" r="7.1"/>
<circle cx="919.7" cy="604.6" r="7.1"/>
<circle cx="1088.9" cy="533.7" r="7.1"/>
<circle cx="649.9" cy="357.3" r="7.1"/>
<circle cx="1050.0" cy="596.2" r="7.1"/>
<circle cx="504.2" cy="250.8" r="7.1"/>
<circle cx="1190.7" cy="568.4" r="7.1"/>
<circle cx="872.3" cy="519.6" r="7.1"/>
<circle cx="828.1" cy="597.3" r="7.1"/>
<circle cx="668.0" cy="370.7" r="7.1"/>
<circle cx="474.8" cy="256.4" r="7.1"/>
<circle cx="388.3" cy="271.3" r="7.1"/>
<circle cx="586.4" cy="387.3" r="7.1"/>
<circle cx="940.4" cy="551.2" r="7.1"/>
<circle cx="1072.0" cy="584.7" r="7.1"/>
<circle cx="906.9" cy="577.3" r="7.1"/>
<circle cx="1080.0" cy="619.0" r="7.1"/>
<circle cx="1013.7" cy="571.9" r="7.1"/>
<circle cx="853.8" cy="588.9" r="7.1"/>
<circle cx="971.0" cy="581.8" r="7.1"/>
<circle cx="399.8" cy="171.8" r="7.1"/>
<circle cx="615.5" cy="378.2" r="7.1"/>
<circle cx="545.0" cy="444.0" r="7.1"/>
<circle cx="763.3" cy="601.0" r="7.1"/>
<circle cx="776.5" cy="599.2" r="7.1"/>
<circle cx="938.3" cy="559.0" r="7.1"/>
<circle cx="1203.6" cy="628.0" r="7.1"/>
<circle cx="1216.1" cy="603.0" r="7.1"/>
<circle cx="231.3" cy="243.7" r="7.1"/>
<circle cx="966.0" cy="571.6" r="7.1"/>
<circle cx="1150.4" cy="574.2" r="7.1"/>
<circle cx="908.8" cy="617.1" r="7.1"/>
<circle cx="839.0" cy="595.2" r="7.1"/>
<circle cx="504.8" cy="254.1" r="7.1"/>
<circle cx="1094.3" cy="593.6" r="7.1"/>
<circle cx="703.9" cy="416.4" r="7.1"/>
<circle cx="392.3" cy="261.4" r="7.1"/>
<circle cx="953.4" cy="582.7" r="7.1"/>
<circle cx="564.1" cy="337.8" r="7.1"/>
<circle cx="895.7" cy="581.2" r="7.1"/>
<circle cx="1070.9" cy="571.4" r="7.1"/>
<circle cx="865.8" cy="607.0" r="7.1"/>
<circle cx="1042.0" cy="655.9" r="7.1"/>
<circle cx="859.7" cy="588.3" r="7.1"/>
<circle cx="703.9" cy="418.1" r="7.1"/>
<circle cx="825.0" cy="588.4" r="7.1"/>
<circle cx="470.6" cy="281.5" r="7.1"/>
<circle cx="864.3" cy="621.1" r="7.1"/>
<circle cx="234.4" cy="236.5" r="7.1"/>
<circle cx="1074.7" cy="565.3" r="7.1"/>
<circle cx="865.8" cy="568.2" r="7.1"/>
<circle cx="374.6" cy="260.8" r="7.1"/>
<circle cx="660.6" cy="453.8" r="7.1"/>
<circle cx="908.8" cy="582.7" r="7.1"/>
<circle cx="968.9" cy="610.1" r="7.1"/>
<circle cx="370.8" cy="390.4" r="7.1"/>
<circle cx="496.6" cy="288.1" r="7.1"/>
<circle cx="853.7" cy="577.7" r="7.1"/>
<circle cx="1149.1" cy="615.1" r="7.1"/>
<circle cx="489.7" cy="259.8" r="7.1"/>
<circle cx="1252.8" cy="601.3" r="7.1"/>
<circle cx="867.5" cy="598.4" r="7.1"/>
<circle cx="819.0" cy="569.6" r="7.1"/>
<circle cx="303.3" cy="370.0" r="7.1"/>
<circle cx="1037.0" cy="600.7" r="7.1"/>
<circle cx="378.9" cy="273.2" r="7.1"/>
<circle cx="560.7" cy="333.2" r="7.1"/>
<circle cx="259.0" cy="256.5" r="7.1"/>
<circle cx="953.4" cy="552.0" r="7.1"/>
<circle cx="1045.7" cy="632.0" r="7.1"/>
<circle cx="454.3" cy="282.4" r="7.1"/>
<circle cx="259.0" cy="235.5" r="7.1"/>
<circle cx="1137.4" cy="603.3" r="7.1"/>
<circle cx="1024.9" cy="603.7" r="7.1"/>
<circle cx="1143.0" cy="578.4" r="7.1"/>
<circle cx="1173.2" cy="546.6" r="7.1"/>
<circle cx="451.8" cy="267.7" r="7.1"/>
<circle cx="364.7" cy="285.9" r="7.1"/>
<circle cx="450.0" cy="245.0" r="7.1"/>
<circle cx="996.9" cy="586.6" r="7.1"/>
<circle cx="1086.7" cy="598.7" r="7.1"/>
<circle cx="519.8" cy="260.1" r="7.1"/>
<circle cx="571.8" cy="380.1" r="7.1"/>
<circle cx="737.5" cy="425.7" r="7.1"/>
<circle cx="521.8" cy="256.9" r="7.1"/>
<circle cx="346.8" cy="393.3" r="7.1"/>
<circle cx="1252.8" cy="614.2" r="7.1"/>
<circle cx="235.7" cy="282.0" r="7.1"/>
<circle cx="315.9" cy="380.3" r="7.1"/>
<circle cx="1157.0" cy="600.2" r="7.1"/>
<circle cx="298.1" cy="266.9" r="7.1"/>
<circle cx="1132.0" cy="577.0" r="7.1"/>
<circle cx="985.7" cy="581.4" r="7.1"/>
<circle cx="1259.4" cy="634.2" r="7.1"/>
<circle cx="1173.2" cy="599.0" r="7.1"/>
<circle cx="735.2" cy="427.4" r="7.1"/>
<circle cx="1280.9" cy="542.4" r="7.1"/>
<circle cx="638.3" cy="396.4" r="7.1"/>
<circle cx="996.9" cy="588.3" r="7.1"/>
<circle cx="1252.9" cy="573.0" r="7.1"/>
<circle cx="1263.1" cy="579.8" r="7.1"/>
<circle cx="631.0" cy="453.3" r="7.1"/>
<circle cx="594.3" cy="384.3" r="7.1"/>
<circle cx="333.0" cy="391.5" r="7.1"/>
<circle cx="1193.2" cy="573.5" r="7.1"/>
<circle cx="938.3" cy="571.7" r="7.1"/>
<circle cx="1197.1" cy="584.8" r="7.1"/>
<circle cx="529.5" cy="157.6" r="7.1"/>
<circle cx="1061.1" cy="600.5" r="7.1"/>
<circle cx="558.9" cy="406.2" r="7.1"/>
<circle cx="1158.8" cy="590.4" r="7.1"/>
<circle cx="554.3" cy="307.6" r="7.1"/>
<circle cx="992.3" cy="577.7" r="7.1"/>
<circle cx="1044.5" cy="613.4" r="7.1"/>
<circle cx="825.0" cy="589.5" r="7.1"/>
<circle cx="483.4" cy="274.3" r="7.1"/>
<circle cx="377.7" cy="256.0" r="7.1"/>
<circle cx="986.6" cy="585.6" r="7.1"/>
<circle cx="327.6" cy="262.0" r="7.1"/>
<circle cx="1279.3" cy="570.6" r="7.1"/>
<circle cx="229.9" cy="244.2" r="7.1"/>
<circle cx="1175.2" cy="558.3" r="7.1"/>
<circle cx="665.5" cy="345.0" r="7.1"/>
<circle cx="270.9" cy="256.9" r="7.1"/>
<circle cx="693.0" cy="415.5" r="7.1"/>
<circle cx="1059.6" cy="564.0" r="7.1"/>
<circle cx="353.1" cy="272.2" r="7.1"/>
<circle cx="864.3" cy="595.4" r="7.1"/>
<circle cx="1156.9" cy="558.4" r="7.1"/>
<circle cx="1055.0" cy="613.9" r="7.1"/>
<circle cx="986.6" cy="592.5" r="7.1"/>
<circle cx="1128.6" cy="583.6" r="7.1"/>
<circle cx="335.8" cy="382.6" r="7.1"/>
<circle cx="992.3" cy="529.5" r="7.1"/>
<circle cx="1047.2" cy="584.2" r="7.1"/>
<circle cx="634.4" cy="400.8" r="7.1"/>
<circle cx="299.2" cy="267.7" r="7.1"/>
<circle cx="1170.7" cy="587.9" r="7.1"/>
<circle cx="533.0" cy="200.0" r="7.1"/>
<circle cx="724.0" cy="408.5" r="7.1"/>
<circle cx="784.5" cy="582.1" r="7.1"/>
<circle cx="703.9" cy="439.5" r="7.1"/>
<circle cx="1257.1" cy="579.2" r="7.1"/>
<circle cx="1034.6" cy="633.5" r="7.1"/>
<circle cx="586.4" cy="343.2" r="7.1"/>
<circle cx="510.1" cy="260.4" r="7.1"/>
<circle cx="1173.3" cy="589.0" r="7.1"/>
<circle cx="1059.6" cy="580.1" r="7.1"/>
<circle cx="1076.3" cy="599.4" r="7.1"/>
<circle cx="485.6" cy="264.6" r="7.1"/>
<circle cx="726.8" cy="429.7" r="7.1"/>
<circle cx="234.4" cy="242.8" r="7.1"/>
<circle cx="834.4" cy="606.1" r="7.1"/>
<circle cx="1086.7" cy="562.9" r="7.1"/>
<circle cx="892.8" cy="571.2" r="7.1"/>
<circle cx="740.3" cy="385.2" r="7.1"/>
<circle cx="1294.5" cy="588.4" r="7.1"/>
<circle cx="772.2" cy="617.3" r="7.1"/>
<circle cx="1154.3" cy="593.0" r="7.1"/>
<circle cx="566.9" cy="363.6" r="7.1"/>
<circle cx="443.3" cy="247.7" r="7.1"/>
<circle cx="1187.5" cy="577.6" r="7.1"/>
<circle cx="345.4" cy="341.8" r="7.1"/>
<circle cx="346.7" cy="357.0" r="7.1"/>
<circle cx="615.4" cy="344.1" r="7.1"/>
<circle cx="494.5" cy="257.0" r="7.1"/>
<circle cx="615.4" cy="334.1" r="7.1"/>
<circle cx="508.5" cy="294.4" r="7.1"/>
<circle cx="582.3" cy="343.2" r="7.1"/>
<circle cx="1225.1" cy="638.8" r="7.1"/>
<circle cx="955.6" cy="561.1" r="7.1"/>
<circle cx="1018.0" cy="596.1" r="7.1"/>
<circle cx="675.1" cy="418.5" r="7.1"/>
<circle cx="450.0" cy="248.5" r="7.1"/>
<circle cx="647.4" cy="405.2" r="7.1"/>
<circle cx="202.1" cy="289.4" r="7.1"/>
<circle cx="966.0" cy="584.0" r="7.1"/>
<circle cx="599.5" cy="349.7" r="7.1"/>
<circle cx="746.9" cy="578.7" r="7.1"/>
<circle cx="196.3" cy="253.4" r="7.1"/>
<circle cx="327.1" cy="365.5" r="7.1"/>
<circle cx="1264.9" cy="627.8" r="7.1"/>
<circle cx="791.8" cy="590.7" r="7.1"/>
<circle cx="1028.5" cy="592.8" r="7.1"/>
<circle cx="927.2" cy="501.0" r="7.1"/>
<circle cx="1266.3" cy="580.8" r="7.1"/>
<circle cx="767.4" cy="663.6" r="7.1"/>
<circle cx="687.0" cy="383.8" r="7.1"/>
<circle cx="590.0" cy="375.3" r="7.1"/>
<circle cx="315.9" cy="337.7" r="7.1"/>
<circle cx="524.8" cy="271.1" r="7.1"/>
<circle cx="1168.7" cy="593.5" r="7.1"/>
<circle cx="245.0" cy="313.4" r="7.1"/>
<circle cx="221.5" cy="250.4" r="7.1"/>
<circle cx="476.0" cy="291.6" r="7.1"/>
<circle cx="1061.1" cy="567.9" r="7.1"/>
<circle cx="836.3" cy="595.5" r="7.1"/>
<circle cx="535.3" cy="165.8" r="7.1"/>
<circle cx="773.2" cy="599.4" r="7.1"/>
<circle cx="832.5" cy="569.7" r="7.1"/>
<circle cx="1279.6" cy="714.0" r="7.1"/>
<circle cx="691.3" cy="414.5" r="7.1"/>
<circle cx="1218.2" cy="577.9" r="7.1"/>
<circle cx="458.1" cy="249.9" r="7.1"/>
<circle cx="968.9" cy="554.8" r="7.1"/>
<circle cx="1010.4" cy="578.2" r="7.1"/>
<circle cx="443.3" cy="280.4" r="7.1"/>
<circle cx="1134.0" cy="594.7" r="7.1"/>
<circle cx="451.8" cy="268.8" r="7.1"/>
<circle cx="638.2" cy="388.4" r="7.1"/>
<circle cx="1123.1" cy="586.2" r="7.1"/>
<circle cx="1193.3" cy="619.3" r="7.1"/>
<circle cx="568.7" cy="293.4" r="7.1"/>
<circle cx="343.0" cy="374.2" r="7.1"/>
<circle cx="600.9" cy="252.4" r="7.1"/>
<circle cx="872.3" cy="596.5" r="7.1"/>
<circle cx="978.4" cy="586.2" r="7.1"/>
<circle cx="626.6" cy="334.7" r="7.1"/>
<circle cx="782.6" cy="580.5" r="7.1"/>
<circle cx="1105.0" cy="584.8" r="7.1"/>
<circle cx="840.6" cy="576.7" r="7.1"/>
<circle cx="1218.2" cy="570.1" r="7.1"/>
<circle cx="859.7" cy="580.3" r="7.1"/>
<circle cx="550.0" cy="354.7" r="7.1"/>
<circle cx="568.7" cy="261.7" r="7.1"/>
<circle cx="1185.7" cy="565.2" r="7.1"/>
<circle cx="765.3" cy="585.6" r="7.1"/>
<circle cx="370.1" cy="254.8" r="7.1"/>
<circle cx="501.6" cy="204.2" r="7.1"/>
<circle cx="825.0" cy="569.1" r="7.1"/>
<circle cx="1264.8" cy="570.6" r="7.1"/>
<circle cx="454.2" cy="269.4" r="7.1"/>
<circle cx="1263.2" cy="581.9" r="7.1"/>
<circle cx="267.5" cy="158.3" r="7.1"/>
<circle cx="409.7" cy="248.2" r="7.1"/>
<circle cx="238.4" cy="269.1" r="7.1"/>
<circle cx="665.6" cy="383.1" r="7.1"/>
<circle cx="849.9" cy="592.6" r="7.1"/>
<circle cx="533.8" cy="140.9" r="7.1"/>
<circle cx="699.3" cy="424.5" r="7.1"/>
<circle cx="1134.0" cy="573.8" r="7.1"/>
<circle cx="547.7" cy="345.8" r="7.1"/>
<circle cx="571.8" cy="379.7" r="7.1"/>
<circle cx="681.5" cy="419.4" r="7.1"/>
<circle cx="1154.4" cy="610.7" r="7.1"/>
<circle cx="566.9" cy="361.5" r="7.1"/>
<circle cx="470.5" cy="277.0" r="7.1"/>
<circle cx="957.3" cy="561.9" r="7.1"/>
<circle cx="794.3" cy="579.7" r="7.1"/>
<circle cx="818.9" cy="591.7" r="7.1"/>
<circle cx="220.4" cy="216.2" r="7.1"/>
<circle cx="378.9" cy="269.9" r="7.1"/>
<circle cx="327.7" cy="218.0" r="7.1"/>
<circle cx="196.3" cy="284.6" r="7.1"/>
<circle cx="959.6" cy="566.0" r="7.1"/>
<circle cx="1199.1" cy="568.5" r="7.1"/>
<circle cx="643.0" cy="470.0" r="7.1"/>
<circle cx="458.1" cy="260.9" r="7.1"/>
<circle cx="447.0" cy="264.8" r="7.1"/>
<circle cx="1056.9" cy="607.0" r="7.1"/>
<circle cx="622.3" cy="346.3" r="7.1"/>
<circle cx="769.5" cy="576.3" r="7.1"/>
<circle cx="834.4" cy="564.2" r="7.1"/>
<circle cx="334.9" cy="332.1" r="7.1"/>
<circle cx="1030.8" cy="631.7" r="7.1"/>
<circle cx="857.2" cy="576.7" r="7.1"/>
<circle cx="609.4" cy="370.9" r="7.1"/>
<circle cx="961.0" cy="577.4" r="7.1"/>
<circle cx="1190.7" cy="580.4" r="7.1"/>
<circle cx="791.8" cy="603.8" r="7.1"/>
<circle cx="215.0" cy="248.3" r="7.1"/>
<circle cx="189.0" cy="240.2" r="7.1"/>
<circle cx="255.3" cy="224.0" r="7.1"/>
<circle cx="547.6" cy="371.8" r="7.1"/>
<circle cx="1074.8" cy="673.1" r="7.1"/>
<circle cx="582.3" cy="411.1" r="7.1"/>
<circle cx="1257.1" cy="601.1" r="7.1"/>
<circle cx="1098.2" cy="604.1" r="7.1"/>
<circle cx="338.1" cy="357.4" r="7.1"/>
<circle cx="769.4" cy="599.3" r="7.1"/>
<circle cx="409.7" cy="245.1" r="7.1"/>
<circle cx="1135.9" cy="551.8" r="7.1"/>
<circle cx="784.5" cy="564.1" r="7.1"/>
<circle cx="1181.5" cy="625.1" r="7.1"/>
<circle cx="445.4" cy="255.7" r="7.1"/>
<circle cx="1080.1" cy="614.6" r="7.1"/>
<circle cx="259.0" cy="227.4" r="7.1"/>
<circle cx="782.6" cy="576.1" r="7.1"/>
<circle cx="349.3" cy="384.2" r="7.1"/>
<circle cx="240.7" cy="224.8" r="7.1"/>
<circle cx="306.4" cy="344.3" r="7.1"/>
<circle cx="740.3" cy="421.4" r="7.1"/>
<circle cx="750.0" cy="573.3" r="7.1"/>
<circle cx="558.9" cy="376.5" r="7.1"/>
<circle cx="319.4" cy="319.3" r="7.1"/>
<circle cx="253.5" cy="258.6" r="7.1"/>
<circle cx="423.9" cy="247.0" r="7.1"/>
<circle cx="1207.7" cy="584.4" r="7.1"/>
<circle cx="779.7" cy="494.0" r="7.1"/>
<circle cx="594.2" cy="318.9" r="7.1"/>
<circle cx="527.9" cy="138.4" r="7.1"/>
<circle cx="508.5" cy="270.2" r="7.1"/>
<circle cx="634.4" cy="394.4" r="7.1"/>
<circle cx="554.3" cy="368.9" r="7.1"/>
<circle cx="1164.4" cy="554.8" r="7.1"/>
<circle cx="1177.7" cy="585.0" r="7.1"/>
<circle cx="1279.2" cy="601.7" r="7.1"/>
<circle cx="1156.9" cy="621.6" r="7.1"/>
<circle cx="1130.6" cy="606.1" r="7.1"/>
<circle cx="1066.6" cy="569.6" r="7.1"/>
<circle cx="1289.9" cy="576.3" r="7.1"/>
<circle cx="744.0" cy="587.8" r="7.1"/>
<circle cx="640.4" cy="383.6" r="7.1"/>
<circle cx="337.5" cy="346.6" r="7.1"/>
<circle cx="747.0" cy="602.4" r="7.1"/>
<circle cx="715.7" cy="368.0" r="7.1"/>
<circle cx="607.8" cy="352.0" r="7.1"/>
<circle cx="1018.0" cy="587.2" r="7.1"/>
<circle cx="534.7" cy="120.0" r="7.1"/>
<circle cx="767.8" cy="574.4" r="7.1"/>
<circle cx="305.7" cy="353.8" r="7.1"/>
<circle cx="959.6" cy="590.0" r="7.1"/>
<circle cx="251.2" cy="267.4" r="7.1"/>
<circle cx="290.6" cy="288.9" r="7.1"/>
<circle cx="470.5" cy="252.1" r="7.1"/>
<circle cx="1185.7" cy="604.4" r="7.1"/>
<circle cx="292.0" cy="286.4" r="7.1"/>
<circle cx="1250.5" cy="567.2" r="7.1"/>
<circle cx="917.0" cy="615.7" r="7.1"/>
<circle cx="564.1" cy="335.7" r="7.1"/>
<circle cx="626.6" cy="363.2" r="7.1"/>
<circle cx="551.8" cy="369.4" r="7.1"/>
<circle cx="832.4" cy="591.1" r="7.1"/>
<circle cx="1284.1" cy="598.3" r="7.1"/>
<circle cx="644.6" cy="386.0" r="7.1"/>
<circle cx="938.2" cy="586.6" r="7.1"/>
<circle cx="1267.0" cy="485.0" r="7.1"/>
<circle cx="594.9" cy="333.6" r="7.1"/>
<circle cx="1272.1" cy="555.7" r="7.1"/>
<circle cx="1177.7" cy="603.0" r="7.1"/>
<circle cx="197.8" cy="251.1" r="7.1"/>
<circle cx="1284.1" cy="572.5" r="7.1"/>
<circle cx="313.7" cy="388.5" r="7.1"/>
<circle cx="1030.9" cy="619.5" r="7.1"/>
<circle cx="1212.0" cy="592.5" r="7.1"/>
<circle cx="310.7" cy="352.1" r="7.1"/>
<circle cx="189.0" cy="282.9" r="7.1"/>
<circle cx="1291.3" cy="597.1" r="7.1"/>
<circle cx="529.5" cy="142.2" r="7.1"/>
<circle cx="1130.6" cy="587.2" r="7.1"/>
<circle cx="991.7" cy="608.6" r="7.1"/>
<circle cx="1158.9" cy="553.7" r="7.1"/>
<circle cx="578.0" cy="387.3" r="7.1"/>
<circle cx="1177.7" cy="570.7" r="7.1"/>
<circle cx="865.0" cy="545.0" r="7.1"/>
<circle cx="1156.9" cy="595.0" r="7.1"/>
<circle cx="517.0" cy="256.9" r="7.1"/>
<circle cx="399.4" cy="267.6" r="7.1"/>
<circle cx="594.9" cy="373.4" r="7.1"/>
<circle cx="777.3" cy="623.0" r="7.1"/>
<circle cx="724.0" cy="421.2" r="7.1"/>
<circle cx="353.1" cy="253.5" r="7.1"/>
<circle cx="234.4" cy="239.9" r="7.1"/>
<circle cx="315.9" cy="361.7" r="7.1"/>
<circle cx="707.6" cy="423.6" r="7.1"/>
<circle cx="238.4" cy="257.4" r="7.1"/>
<circle cx="333.1" cy="364.7" r="7.1"/>
<circle cx="1069.3" cy="572.1" r="7.1"/>
<circle cx="1120.5" cy="608.1" r="7.1"/>
<circle cx="499.8" cy="271.5" r="7.1"/>
<circle cx="366.9" cy="232.9" r="7.1"/>
<circle cx="644.6" cy="393.1" r="7.1"/>
<circle cx="1050.0" cy="583.0" r="7.1"/>
<circle cx="919.7" cy="589.1" r="7.1"/>
<circle cx="1126.9" cy="591.7" r="7.1"/>
<circle cx="255.4" cy="229.2" r="7.1"/>
<circle cx="538.3" cy="289.1" r="7.1"/>
<circle cx="1056.9" cy="581.1" r="7.1"/>
<circle cx="737.5" cy="410.7" r="7.1"/>
<circle cx="405.3" cy="263.3" r="7.1"/>
<circle cx="1205.4" cy="588.5" r="7.1"/>
<circle cx="996.9" cy="573.0" r="7.1"/>
<circle cx="378.9" cy="269.7" r="7.1"/>
<circle cx="1065.3" cy="595.5" r="7.1"/>
<circle cx="472.3" cy="256.4" r="7.1"/>
<circle cx="822.5" cy="561.6" r="7.1"/>
<circle cx="346.7" cy="380.6" r="7.1"/>
<circle cx="512.4" cy="258.9" r="7.1"/>
<circle cx="586.5" cy="363.4" r="7.1"/>
<circle cx="597.6" cy="252.6" r="7.1"/>
<circle cx="314.2" cy="368.0" r="7.1"/>
<circle cx="851.9" cy="615.6" r="7.1"/>
<circle cx="968.9" cy="584.2" r="7.1"/>
<circle cx="673.8" cy="393.4" r="7.1"/>
<circle cx="271.0" cy="248.2" r="7.1"/>
<circle cx="194.5" cy="239.2" r="7.1"/>
<circle cx="844.9" cy="609.5" r="7.1"/>
<circle cx="1078.2" cy="579.1" r="7.1"/>
<circle cx="220.5" cy="242.4" r="7.1"/>
<circle cx="1120.5" cy="587.0" r="7.1"/>
<circle cx="1022.2" cy="572.0" r="7.1"/>
<circle cx="1018.1" cy="585.9" r="7.1"/>
<circle cx="653.3" cy="427.2" r="7.1"/>
<circle cx="1158.8" cy="581.1" r="7.1"/>
<circle cx="224.6" cy="251.5" r="7.1"/>
<circle cx="494.6" cy="337.7" r="7.1"/>
<circle cx="524.9" cy="271.5" r="7.1"/>
<circle cx="1263.1" cy="581.7" r="7.1"/>
<circle cx="1181.5" cy="552.5" r="7.1"/>
<circle cx="1076.3" cy="617.2" r="7.1"/>
<circle cx="485.7" cy="247.7" r="7.1"/>
<circle cx="1083.6" cy="597.2" r="7.1"/>
<circle cx="321.0" cy="352.3" r="7.1"/>
<circle cx="1128.6" cy="563.0" r="7.1"/>
<circle cx="588.2" cy="351.3" r="7.1"/>
<circle cx="1252.8" cy="585.0" r="7.1"/>
<circle cx="303.3" cy="374.4" r="7.1"/>
<circle cx="492.8" cy="249.9" r="7.1"/>
<circle cx="1014.2" cy="579.1" r="7.1"/>
<circle cx="504.8" cy="261.2" r="7.1"/>
<circle cx="1137.5" cy="564.4" r="7.1"/>
<circle cx="1279.2" cy="602.9" r="7.1"/>
<circle cx="517.0" cy="268.0" r="7.1"/>
<circle cx="322.9" cy="349.3" r="7.1"/>
<circle cx="1082.8" cy="582.0" r="7.1"/>
<circle cx="819.0" cy="613.5" r="7.1"/>
<circle cx="634.4" cy="409.7" r="7.1"/>
<circle cx="221.5" cy="267.1" r="7.1"/>
<circle cx="1003.1" cy="600.4" r="7.1"/>
<circle cx="245.0" cy="268.8" r="7.1"/>
<circle cx="767.8" cy="576.8" r="7.1"/>
<circle cx="1154.4" cy="594.5" r="7.1"/>
<circle cx="791.8" cy="582.6" r="7.1"/>
<circle cx="240.5" cy="282.6" r="7.1"/>
<circle cx="635.8" cy="422.3" r="7.1"/>
<circle cx="396.4" cy="231.5" r="7.1"/>
<circle cx="660.6" cy="390.3" r="7.1"/>
<circle cx="492.8" cy="225.9" r="7.1"/>
<circle cx="567.0" cy="352.1" r="7.1"/>
<circle cx="1282.4" cy="582.2" r="7.1"/>
<circle cx="872.2" cy="592.9" r="7.1"/>
<circle cx="1193.3" cy="603.7" r="7.1"/>
<circle cx="1219.6" cy="565.6" r="7.1"/>
<circle cx="1053.1" cy="594.7" r="7.1"/>
<circle cx="324.9" cy="388.2" r="7.1"/>
<circle cx="318.1" cy="331.8" r="7.1"/>
<circle cx="1135.9" cy="581.6" r="7.1"/>
<circle cx="247.8" cy="251.1" r="7.1"/>
<circle cx="474.8" cy="255.4" r="7.1"/>
<circle cx="819.0" cy="584.4" r="7.1"/>
<circle cx="261.6" cy="247.9" r="7.1"/>
<circle cx="383.2" cy="251.5" r="7.1"/>
<circle cx="1175.2" cy="596.4" r="7.1"/>
<circle cx="579.6" cy="352.2" r="7.1"/>
<circle cx="844.1" cy="591.4" r="7.1"/>
<circle cx="521.8" cy="250.4" r="7.1"/>
<circle cx="1254.6" cy="598.3" r="7.1"/>
<circle cx="1154.4" cy="591.1" r="7.1"/>
<circle cx="996.9" cy="582.5" r="7.1"/>
<circle cx="1008.6" cy="591.1" r="7.1"/>
<circle cx="1010.4" cy="534.3" r="7.1"/>
<circle cx="606.3" cy="343.0" r="7.1"/>
<circle cx="351.2" cy="360.3" r="7.1"/>
<circle cx="343.9" cy="369.8" r="7.1"/>
<circle cx="796.4" cy="568.9" r="7.1"/>
<circle cx="1264.9" cy="594.4" r="7.1"/>
<circle cx="1006.6" cy="614.5" r="7.1"/>
<circle cx="735.2" cy="435.3" r="7.1"/>
<circle cx="711.1" cy="418.3" r="7.1"/>
<circle cx="713.7" cy="391.1" r="7.1"/>
<circle cx="257.2" cy="253.8" r="7.1"/>
<circle cx="220.5" cy="231.5" r="7.1"/>
<circle cx="961.1" cy="592.8" r="7.1"/>
<circle cx="1026.4" cy="599.0" r="7.1"/>
<circle cx="290.5" cy="256.8" r="7.1"/>
<circle cx="226.4" cy="245.6" r="7.1"/>
<circle cx="829.1" cy="571.0" r="7.1"/>
<circle cx="925.2" cy="586.3" r="7.1"/>
<circle cx="961.1" cy="581.8" r="7.1"/>
<circle cx="1199.1" cy="600.6" r="7.1"/>
<circle cx="423.9" cy="257.2" r="7.1"/>
<circle cx="989.6" cy="593.9" r="7.1"/>
<circle cx="1055.0" cy="591.3" r="7.1"/>
<circle cx="257.2" cy="217.5" r="7.1"/>
<circle cx="337.5" cy="344.1" r="7.1"/>
<circle cx="1294.5" cy="578.6" r="7.1"/>
<circle cx="546.2" cy="375.7" r="7.1"/>
<circle cx="1074.7" cy="590.0" r="7.1"/>
<circle cx="299.2" cy="275.1" r="7.1"/>
<circle cx="476.0" cy="269.8" r="7.1"/>
<circle cx="861.1" cy="585.2" r="7.1"/>
<circle cx="414.0" cy="273.7" r="7.1"/>
<circle cx="908.8" cy="515.9" r="7.1"/>
<circle cx="1209.7" cy="627.5" r="7.1"/>
<circle cx="1163.5" cy="604.2" r="7.1"/>
<circle cx="324.2" cy="367.2" r="7.1"/>
<circle cx="494.6" cy="234.3" r="7.1"/>
<circle cx="1010.4" cy="591.4" r="7.1"/>
<circle cx="590.0" cy="269.7" r="7.1"/>
<circle cx="872.3" cy="617.3" r="7.1"/>
<circle cx="1000.0" cy="600.1" r="7.1"/>
<circle cx="754.6" cy="559.9" r="7.1"/>
<circle cx="1277.2" cy="586.9" r="7.1"/>
<circle cx="334.9" cy="359.9" r="7.1"/>
<circle cx="259.9" cy="212.8" r="7.1"/>
<circle cx="245.0" cy="212.1" r="7.1"/>
<circle cx="1126.9" cy="581.7" r="7.1"/>
<circle cx="597.6" cy="353.4" r="7.1"/>
<circle cx="571.8" cy="237.0" r="7.1"/>
<circle cx="420.9" cy="238.1" r="7.1"/>
<circle cx="312.1" cy="333.0" r="7.1"/>
<circle cx="501.5" cy="242.9" r="7.1"/>
<circle cx="338.1" cy="370.2" r="7.1"/>
<circle cx="1069.3" cy="597.8" r="7.1"/>
<circle cx="508.4" cy="265.4" r="7.1"/>
<circle cx="579.6" cy="359.0" r="7.1"/>
<circle cx="776.5" cy="596.6" r="7.1"/>
<circle cx="265.6" cy="235.8" r="7.1"/>
<circle cx="707.6" cy="462.4" r="7.1"/>
<circle cx="240.6" cy="254.8" r="7.1"/>
<circle cx="981.3" cy="556.6" r="7.1"/>
<circle cx="1066.6" cy="523.1" r="7.1"/>
<circle cx="547.7" cy="363.2" r="7.1"/>
<circle cx="999.9" cy="596.3" r="7.1"/>
<circle cx="711.1" cy="407.4" r="7.1"/>
<circle cx="555.0" cy="342.0" r="7.1"/>
<circle cx="782.6" cy="613.5" r="7.1"/>
<circle cx="655.7" cy="405.8" r="7.1"/>
<circle cx="423.9" cy="285.7" r="7.1"/>
<circle cx="713.7" cy="378.2" r="7.1"/>
<circle cx="1279.2" cy="608.7" r="7.1"/>
<circle cx="851.8" cy="595.9" r="7.1"/>
<circle cx="1183.0" cy="593.6" r="7.1"/>
<circle cx="611.6" cy="342.2" r="7.1"/>
<circle cx="226.4" cy="261.2" r="7.1"/>
<circle cx="1056.9" cy="578.4" r="7.1"/>
<circle cx="813.0" cy="581.3" r="7.1"/>
<circle cx="1294.5" cy="583.4" r="7.1"/>
<circle cx="1004.7" cy="569.7" r="7.1"/>
<circle cx="699.4" cy="403.7" r="7.1"/>
<circle cx="1269.8" cy="591.5" r="7.1"/>
<circle cx="693.1" cy="405.1" r="7.1"/>
<circle cx="1274.8" cy="627.6" r="7.1"/>
<circle cx="443.3" cy="233.9" r="7.1"/>
<circle cx="679.8" cy="394.4" r="7.1"/>
<circle cx="483.5" cy="259.6" r="7.1"/>
<circle cx="1219.6" cy="518.2" r="7.1"/>
<circle cx="590.0" cy="361.9" r="7.1"/>
<circle cx="691.2" cy="424.3" r="7.1"/>
<circle cx="1123.0" cy="608.1" r="7.1"/>
<circle cx="719.4" cy="393.5" r="7.1"/>
<circle cx="305.7" cy="403.1" r="7.1"/>
<circle cx="853.8" cy="532.1" r="7.1"/>
<circle cx="496.6" cy="242.4" r="7.1"/>
<circle cx="1059.6" cy="592.0" r="7.1"/>
<circle cx="1257.1" cy="551.2" r="7.1"/>
<circle cx="684.0" cy="427.3" r="7.1"/>
<circle cx="245.0" cy="262.9" r="7.1"/>
<circle cx="551.9" cy="305.8" r="7.1"/>
<circle cx="640.3" cy="409.5" r="7.1"/>
<circle cx="700.7" cy="422.2" r="7.1"/>
<circle cx="446.9" cy="295.5" r="7.1"/>
<circle cx="994.4" cy="574.7" r="7.1"/>
<circle cx="578.0" cy="354.7" r="7.1"/>
<circle cx="392.4" cy="250.2" r="7.1"/>
<circle cx="205.0" cy="289.6" r="7.1"/>
<circle cx="773.2" cy="589.5" r="7.1"/>
<circle cx="851.8" cy="621.9" r="7.1"/>
<circle cx="951.0" cy="585.4" r="7.1"/>
<circle cx="554.2" cy="353.5" r="7.1"/>
<circle cx="832.5" cy="599.9" r="7.1"/>
<circle cx="1272.1" cy="574.4" r="7.1"/>
<circle cx="1267.8" cy="614.8" r="7.1"/>
<circle cx="468.1" cy="280.4" r="7.1"/>
<circle cx="388.2" cy="253.4" r="7.1"/>
<circle cx="306.4" cy="366.5" r="7.1"/>
<circle cx="407.7" cy="263.9" r="7.1"/>
<circle cx="1212.0" cy="577.5" r="7.1"/>
<circle cx="957.3" cy="576.7" r="7.1"/>
<circle cx="647.5" cy="404.8" r="7.1"/>
<circle cx="955.6" cy="597.5" r="7.1"/>
<circle cx="405.3" cy="287.9" r="7.1"/>
<circle cx="466.2" cy="251.4" r="7.1"/>
<circle cx="197.8" cy="243.4" r="7.1"/>
<circle cx="391.1" cy="273.8" r="7.1"/>
<circle cx="257.2" cy="237.4" r="7.1"/>
<circle cx="1277.2" cy="604.8" r="7.1"/>
<circle cx="443.3" cy="256.8" r="7.1"/>
<circle cx="646.2" cy="417.1" r="7.1"/>
<circle cx="914.5" cy="601.5" r="7.1"/>
<circle cx="407.7" cy="275.4" r="7.1"/>
<circle cx="914.4" cy="574.8" r="7.1"/>
<circle cx="499.7" cy="277.6" r="7.1"/>
<circle cx="989.6" cy="588.2" r="7.1"/>
<circle cx="914.5" cy="588.3" r="7.1"/>
<circle cx="582.3" cy="283.4" r="7.1"/>
<circle cx="1088.9" cy="592.7" r="7.1"/>
<circle cx="374.6" cy="275.2" r="7.1"/>
<circle cx="504.2" cy="271.5" r="7.1"/>
<circle cx="527.9" cy="120.3" r="7.1"/>
<circle cx="1070.9" cy="591.5" r="7.1"/>
<circle cx="966.0" cy="598.5" r="7.1"/>
<circle cx="245.0" cy="221.5" r="7.1"/>
<circle cx="735.2" cy="421.0" r="7.1"/>
<circle cx="562.7" cy="369.1" r="7.1"/>
<circle cx="582.3" cy="348.6" r="7.1"/>
<circle cx="798.9" cy="596.6" r="7.1"/>
<circle cx="1000.1" cy="607.3" r="7.1"/>
<circle cx="982.3" cy="576.7" r="7.1"/>
<circle cx="1010.4" cy="586.0" r="7.1"/>
<circle cx="1254.6" cy="600.4" r="7.1"/>
<circle cx="597.6" cy="357.7" r="7.1"/>
<circle cx="1010.4" cy="571.0" r="7.1"/>
<circle cx="1050.0" cy="614.4" r="7.1"/>
<circle cx="454.3" cy="261.7" r="7.1"/>
<circle cx="662.0" cy="424.8" r="7.1"/>
<circle cx="1042.0" cy="624.6" r="7.1"/>
<circle cx="693.1" cy="382.0" r="7.1"/>
<circle cx="786.2" cy="566.3" r="7.1"/>
<circle cx="1203.0" cy="650.0" r="7.1"/>
<circle cx="606.3" cy="373.4" r="7.1"/>
<circle cx="1193.3" cy="576.5" r="7.1"/>
<circle cx="687.0" cy="398.2" r="7.1"/>
<circle cx="1163.5" cy="604.3" r="7.1"/>
<circle cx="1037.0" cy="609.7" r="7.1"/>
<circle cx="1225.0" cy="607.6" r="7.1"/>
<circle cx="1282.4" cy="560.0" r="7.1"/>
<circle cx="996.9" cy="574.4" r="7.1"/>
<circle cx="653.3" cy="416.1" r="7.1"/>
<circle cx="263.7" cy="258.1" r="7.1"/>
<circle cx="470.5" cy="243.6" r="7.1"/>
<circle cx="1254.6" cy="607.0" r="7.1"/>
<circle cx="1227.8" cy="607.1" r="7.1"/>
<circle cx="1291.3" cy="614.9" r="7.1"/>
<circle cx="595.5" cy="234.0" r="7.1"/>
<circle cx="631.1" cy="364.7" r="7.1"/>
<circle cx="590.1" cy="331.1" r="7.1"/>
<circle cx="466.2" cy="268.0" r="7.1"/>
<circle cx="557.5" cy="349.2" r="7.1"/>
<circle cx="724.0" cy="440.2" r="7.1"/>
<circle cx="1161.7" cy="597.8" r="7.1"/>
<circle cx="1230.5" cy="582.6" r="7.1"/>
<circle cx="331.3" cy="369.1" r="7.1"/>
<circle cx="238.4" cy="246.3" r="7.1"/>
<circle cx="403.1" cy="244.3" r="7.1"/>
<circle cx="1168.7" cy="584.2" r="7.1"/>
<circle cx="377.7" cy="251.5" r="7.1"/>
<circle cx="1047.2" cy="616.3" r="7.1"/>
<circle cx="991.7" cy="583.4" r="7.1"/>
<circle cx="1207.7" cy="566.2" r="7.1"/>
<circle cx="609.5" cy="338.5" r="7.1"/>
<circle cx="425.0" cy="210.0" r="7.1"/>
<circle cx="1056.8" cy="586.7" r="7.1"/>
<circle cx="324.1" cy="375.9" r="7.1"/>
<circle cx="707.7" cy="412.8" r="7.1"/>
<circle cx="1149.1" cy="609.8" r="7.1"/>
<circle cx="1008.6" cy="600.2" r="7.1"/>
<circle cx="1199.2" cy="592.6" r="7.1"/>
<circle cx="813.0" cy="598.8" r="7.1"/>
<circle cx="321.0" cy="403.7" r="7.1"/>
<circle cx="585.4" cy="361.2" r="7.1"/>
<circle cx="715.7" cy="413.4" r="7.1"/>
<circle cx="778.0" cy="650.0" r="7.1"/>
<circle cx="541.0" cy="372.2" r="7.1"/>
<circle cx="1149.0" cy="592.1" r="7.1"/>
<circle cx="1076.3" cy="585.9" r="7.1"/>
<circle cx="546.2" cy="345.4" r="7.1"/>
<circle cx="1105.0" cy="606.0" r="7.1"/>
<circle cx="1225.0" cy="584.4" r="7.1"/>
<circle cx="564.2" cy="342.3" r="7.1"/>
<circle cx="1197.2" cy="624.1" r="7.1"/>
<circle cx="1045.7" cy="620.7" r="7.1"/>
<circle cx="417.7" cy="250.5" r="7.1"/>
<circle cx="1090.8" cy="555.2" r="7.1"/>
<circle cx="309.7" cy="368.8" r="7.1"/>
<circle cx="293.6" cy="264.0" r="7.1"/>
<circle cx="312.0" cy="358.4" r="7.1"/>
<circle cx="309.7" cy="383.1" r="7.1"/>
<circle cx="560.7" cy="352.6" r="7.1"/>
<circle cx="606.3" cy="318.7" r="7.1"/>
<circle cx="754.6" cy="590.7" r="7.1"/>
<circle cx="700.8" cy="441.1" r="7.1"/>
<circle cx="784.4" cy="600.1" r="7.1"/>
<circle cx="535.3" cy="84.9" r="7.1"/>
<circle cx="257.2" cy="202.1" r="7.1"/>
<circle cx="865.8" cy="600.3" r="7.1"/>
<circle cx="296.5" cy="246.5" r="7.1"/>
<circle cx="342.0" cy="265.0" r="7.1"/>
<circle cx="1126.8" cy="598.1" r="7.1"/>
<circle cx="961.1" cy="575.9" r="7.1"/>
<circle cx="407.6" cy="243.2" r="7.1"/>
<circle cx="249.5" cy="242.3" r="7.1"/>
<circle cx="324.1" cy="373.4" r="7.1"/>
<circle cx="489.7" cy="238.3" r="7.1"/>
<circle cx="582.3" cy="384.4" r="7.1"/>
<circle cx="581.1" cy="351.5" r="7.1"/>
<circle cx="697.9" cy="430.0" r="7.1"/>
<circle cx="1272.1" cy="590.9" r="7.1"/>
<circle cx="786.2" cy="599.2" r="7.1"/>
<circle cx="847.6" cy="594.0" r="7.1"/>
<circle cx="903.9" cy="561.1" r="7.1"/>
<circle cx="483.3" cy="254.7" r="7.1"/>
<circle cx="689.9" cy="402.9" r="7.1"/>
<circle cx="391.1" cy="292.1" r="7.1"/>
<circle cx="568.7" cy="361.6" r="7.1"/>
<circle cx="938.2" cy="562.6" r="7.1"/>
<circle cx="1050.0" cy="564.5" r="7.1"/>
<circle cx="669.6" cy="395.9" r="7.1"/>
<circle cx="483.4" cy="197.0" r="7.1"/>
<circle cx="789.4" cy="570.1" r="7.1"/>
<circle cx="1025.0" cy="510.0" r="7.1"/>
<circle cx="337.6" cy="478.0" r="7.1"/>
<circle cx="531.4" cy="143.1" r="7.1"/>
<circle cx="746.9" cy="575.6" r="7.1"/>
<circle cx="1065.3" cy="599.1" r="7.1"/>
<circle cx="267.5" cy="238.4" r="7.1"/>
<circle cx="1266.3" cy="587.2" r="7.1"/>
<circle cx="756.1" cy="571.7" r="7.1"/>
<circle cx="782.7" cy="582.1" r="7.1"/>
<circle cx="407.7" cy="268.9" r="7.1"/>
<circle cx="787.0" cy="517.0" r="7.1"/>
<circle cx="599.5" cy="353.4" r="7.1"/>
<circle cx="619.9" cy="323.1" r="7.1"/>
<circle cx="953.3" cy="586.4" r="7.1"/>
<circle cx="1161.8" cy="608.5" r="7.1"/>
<circle cx="895.8" cy="573.9" r="7.1"/>
<circle cx="378.9" cy="293.9" r="7.1"/>
<circle cx="769.5" cy="592.5" r="7.1"/>
<circle cx="689.9" cy="416.2" r="7.1"/>
<circle cx="1063.2" cy="585.8" r="7.1"/>
<circle cx="1010.4" cy="585.6" r="7.1"/>
<circle cx="1072.1" cy="589.6" r="7.1"/>
<circle cx="531.4" cy="186.8" r="7.1"/>
<circle cx="470.5" cy="236.4" r="7.1"/>
<circle cx="594.2" cy="355.7" r="7.1"/>
<circle cx="829.1" cy="615.1" r="7.1"/>
<circle cx="403.1" cy="253.4" r="7.1"/>
<circle cx="1277.2" cy="604.1" r="7.1"/>
<circle cx="740.3" cy="398.1" r="7.1"/>
<circle cx="971.0" cy="583.4" r="7.1"/>
<circle cx="1053.2" cy="614.5" r="7.1"/>
<circle cx="705.0" cy="397.4" r="7.1"/>
<circle cx="1193.3" cy="604.0" r="7.1"/>
<circle cx="622.2" cy="247.7" r="7.1"/>
<circle cx="728.8" cy="399.3" r="7.1"/>
<circle cx="825.1" cy="595.1" r="7.1"/>
<circle cx="737.5" cy="414.8" r="7.1"/>
<circle cx="687.0" cy="411.7" r="7.1"/>
<circle cx="786.2" cy="545.7" r="7.1"/>
<circle cx="327.1" cy="357.6" r="7.1"/>
<circle cx="1173.2" cy="553.8" r="7.1"/>
<circle cx="653.4" cy="420.1" r="7.1"/>
<circle cx="746.9" cy="581.0" r="7.1"/>
<circle cx="1010.4" cy="539.6" r="7.1"/>
<circle cx="460.2" cy="250.3" r="7.1"/>
<circle cx="611.6" cy="352.8" r="7.1"/>
<circle cx="202.1" cy="257.5" r="7.1"/>
<circle cx="1168.7" cy="605.3" r="7.1"/>
<circle cx="938.3" cy="589.3" r="7.1"/>
<circle cx="1047.2" cy="579.1" r="7.1"/>
<circle cx="1044.0" cy="672.0" r="7.1"/>
<circle cx="1076.3" cy="589.4" r="7.1"/>
<circle cx="849.9" cy="598.6" r="7.1"/>
<circle cx="466.2" cy="253.5" r="7.1"/>
<circle cx="718.0" cy="415.7" r="7.1"/>
<circle cx="1266.3" cy="643.4" r="7.1"/>
<circle cx="472.4" cy="275.9" r="7.1"/>
<circle cx="1274.8" cy="585.3" r="7.1"/>
<circle cx="370.0" cy="246.6" r="7.1"/>
<circle cx="581.1" cy="382.7" r="7.1"/>
<circle cx="1140.1" cy="586.1" r="7.1"/>
<circle cx="600.9" cy="344.2" r="7.1"/>
<circle cx="454.2" cy="268.7" r="7.1"/>
<circle cx="303.4" cy="368.5" r="7.1"/>
<circle cx="558.9" cy="318.1" r="7.1"/>
<circle cx="420.8" cy="270.1" r="7.1"/>
<circle cx="466.2" cy="264.1" r="7.1"/>
<circle cx="293.5" cy="259.0" r="7.1"/>
<circle cx="679.8" cy="446.0" r="7.1"/>
<circle cx="691.3" cy="444.1" r="7.1"/>
<circle cx="1163.5" cy="595.0" r="7.1"/>
<circle cx="494.6" cy="276.4" r="7.1"/>
<circle cx="651.4" cy="420.9" r="7.1"/>
<circle cx="834.4" cy="580.1" r="7.1"/>
<circle cx="485.6" cy="250.4" r="7.1"/>
<circle cx="1008.6" cy="605.0" r="7.1"/>
<circle cx="221.5" cy="258.5" r="7.1"/>
<circle cx="1294.5" cy="589.0" r="7.1"/>
<circle cx="849.9" cy="620.7" r="7.1"/>
<circle cx="324.9" cy="356.0" r="7.1"/>
<circle cx="1163.6" cy="597.8" r="7.1"/>
<circle cx="631.0" cy="410.0" r="7.1"/>
<circle cx="550.1" cy="338.4" r="7.1"/>
<circle cx="1063.2" cy="615.5" r="7.1"/>
<circle cx="992.3" cy="551.6" r="7.1"/>
<circle cx="961.1" cy="583.6" r="7.1"/>
<circle cx="454.3" cy="265.0" r="7.1"/>
<circle cx="861.1" cy="612.6" r="7.1"/>
<circle cx="305.7" cy="354.7" r="7.1"/>
<circle cx="513.8" cy="259.8" r="7.1"/>
<circle cx="934.1" cy="576.4" r="7.1"/>
<circle cx="859.8" cy="590.3" r="7.1"/>
<circle cx="900.5" cy="613.2" r="7.1"/>
<circle cx="1134.0" cy="555.9" r="7.1"/>
<circle cx="414.0" cy="270.9" r="7.1"/>
<circle cx="1187.5" cy="592.1" r="7.1"/>
<circle cx="611.6" cy="353.0" r="7.1"/>
<circle cx="780.5" cy="562.6" r="7.1"/>
<circle cx="1158.8" cy="607.9" r="7.1"/>
<circle cx="349.2" cy="397.9" r="7.1"/>
<circle cx="1193.2" cy="593.6" r="7.1"/>
<circle cx="318.1" cy="381.0" r="7.1"/>
<circle cx="1092.1" cy="599.1" r="7.1"/>
<circle cx="263.0" cy="186.0" r="7.1"/>
<circle cx="697.6" cy="345.4" r="7.1"/>
<circle cx="571.8" cy="281.5" r="7.1"/>
<circle cx="724.8" cy="391.0" r="7.1"/>
<circle cx="847.5" cy="610.9" r="7.1"/>
<circle cx="255.4" cy="228.8" r="7.1"/>
<circle cx="694.8" cy="402.7" r="7.1"/>
<circle cx="1066.6" cy="519.1" r="7.1"/>
<circle cx="253.5" cy="246.8" r="7.1"/>
<circle cx="634.3" cy="425.1" r="7.1"/>
<circle cx="594.9" cy="366.0" r="7.1"/>
<circle cx="577.9" cy="330.0" r="7.1"/>
<circle cx="1219.5" cy="599.0" r="7.1"/>
<circle cx="588.3" cy="350.9" r="7.1"/>
<circle cx="1050.0" cy="586.7" r="7.1"/>
<circle cx="496.6" cy="290.9" r="7.1"/>
<circle cx="1218.2" cy="515.6" r="7.1"/>
<circle cx="302.6" cy="294.0" r="7.1"/>
<circle cx="1004.7" cy="571.8" r="7.1"/>
<circle cx="263.8" cy="228.7" r="7.1"/>
<circle cx="731.4" cy="422.4" r="7.1"/>
<circle cx="606.3" cy="357.7" r="7.1"/>
<circle cx="721.2" cy="430.0" r="7.1"/>
<circle cx="360.5" cy="271.0" r="7.1"/>
<circle cx="1065.3" cy="600.8" r="7.1"/>
<circle cx="822.5" cy="596.1" r="7.1"/>
<circle cx="1291.3" cy="600.1" r="7.1"/>
<circle cx="521.8" cy="222.6" r="7.1"/>
<circle cx="1209.7" cy="564.8" r="7.1"/>
<circle cx="299.2" cy="288.9" r="7.1"/>
<circle cx="951.0" cy="560.6" r="7.1"/>
<circle cx="921.3" cy="576.8" r="7.1"/>
<circle cx="394.0" cy="269.3" r="7.1"/>
<circle cx="1274.9" cy="599.9" r="7.1"/>
<circle cx="205.0" cy="272.0" r="7.1"/>
<circle cx="1080.0" cy="605.9" r="7.1"/>
<circle cx="265.6" cy="235.9" r="7.1"/>
<circle cx="908.9" cy="618.4" r="7.1"/>
<circle cx="1154.4" cy="614.4" r="7.1"/>
<circle cx="574.2" cy="382.2" r="7.1"/>
<circle cx="684.0" cy="415.9" r="7.1"/>
<circle cx="989.6" cy="568.6" r="7.1"/>
<circle cx="728.9" cy="407.1" r="7.1"/>
<circle cx="227.3" cy="244.9" r="7.1"/>
<circle cx="555.0" cy="334.0" r="7.1"/>
<circle cx="1181.5" cy="571.7" r="7.1"/>
<circle cx="1039.5" cy="619.5" r="7.1"/>
<circle cx="581.1" cy="370.3" r="7.1"/>
<circle cx="875.4" cy="637.6" r="7.1"/>
<circle cx="1193.2" cy="566.8" r="7.1"/>
<circle cx="319.4" cy="392.4" r="7.1"/>
<circle cx="1167.9" cy="608.4" r="7.1"/>
<circle cx="1134.0" cy="569.2" r="7.1"/>
<circle cx="550.1" cy="331.2" r="7.1"/>
<circle cx="1149.1" cy="591.5" r="7.1"/>
<circle cx="322.9" cy="362.4" r="7.1"/>
<circle cx="1154.3" cy="585.3" r="7.1"/>
<circle cx="957.3" cy="578.9" r="7.1"/>
<circle cx="501.6" cy="227.6" r="7.1"/>
<circle cx="1024.9" cy="624.3" r="7.1"/>
<circle cx="557.5" cy="352.7" r="7.1"/>
<circle cx="1044.5" cy="580.7" r="7.1"/>
<circle cx="1006.7" cy="606.9" r="7.1"/>
<circle cx="943.0" cy="589.3" r="7.1"/>
<circle cx="1126.9" cy="592.6" r="7.1"/>
<circle cx="1227.9" cy="595.8" r="7.1"/>
<circle cx="227.3" cy="258.0" r="7.1"/>
<circle cx="1082.7" cy="554.3" r="7.1"/>
<circle cx="1196.1" cy="593.7" r="7.1"/>
<circle cx="934.1" cy="564.8" r="7.1"/>
<circle cx="870.7" cy="587.3" r="7.1"/>
<circle cx="221.5" cy="261.7" r="7.1"/>
<circle cx="407.7" cy="242.5" r="7.1"/>
<circle cx="647.5" cy="422.0" r="7.1"/>
<circle cx="290.6" cy="281.5" r="7.1"/>
<circle cx="970.9" cy="569.5" r="7.1"/>
<circle cx="1289.9" cy="600.6" r="7.1"/>
<circle cx="261.5" cy="233.7" r="7.1"/>
<circle cx="657.1" cy="402.5" r="7.1"/>
<circle cx="851.9" cy="608.7" r="7.1"/>
<circle cx="551.9" cy="367.1" r="7.1"/>
<circle cx="1063.2" cy="569.3" r="7.1"/>
<circle cx="1170.7" cy="591.8" r="7.1"/>
<circle cx="413.4" cy="236.9" r="7.1"/>
<circle cx="1006.6" cy="577.6" r="7.1"/>
<circle cx="1008.6" cy="580.8" r="7.1"/>
<circle cx="904.0" cy="597.3" r="7.1"/>
<circle cx="554.6" cy="250.0" r="7.1"/>
<circle cx="533.8" cy="77.0" r="7.1"/>
<circle cx="1212.8" cy="575.0" r="7.1"/>
<circle cx="986.6" cy="592.2" r="7.1"/>
<circle cx="612.0" cy="209.0" r="7.1"/>
<circle cx="813.0" cy="562.1" r="7.1"/>
<circle cx="533.8" cy="147.6" r="7.1"/>
<circle cx="318.0" cy="349.7" r="7.1"/>
<circle cx="253.6" cy="211.4" r="7.1"/>
<circle cx="709.0" cy="386.2" r="7.1"/>
<circle cx="951.0" cy="583.4" r="7.1"/>
<circle cx="240.6" cy="258.6" r="7.1"/>
<circle cx="773.1" cy="548.8" r="7.1"/>
<circle cx="1018.0" cy="569.2" r="7.1"/>
<circle cx="519.8" cy="241.5" r="7.1"/>
<circle cx="635.9" cy="404.4" r="7.1"/>
<circle cx="1140.0" cy="583.3" r="7.1"/>
<circle cx="1086.7" cy="580.0" r="7.1"/>
<circle cx="901.4" cy="576.9" r="7.1"/>
<circle cx="588.3" cy="373.5" r="7.1"/>
<circle cx="768.0" cy="518.0" r="7.1"/>
<circle cx="217.9" cy="249.5" r="7.1"/>
<circle cx="1178.9" cy="611.8" r="7.1"/>
<circle cx="1082.8" cy="621.5" r="7.1"/>
<circle cx="1150.5" cy="599.1" r="7.1"/>
<circle cx="249.4" cy="208.2" r="7.1"/>
<circle cx="377.7" cy="263.7" r="7.1"/>
<circle cx="508.4" cy="270.2" r="7.1"/>
<circle cx="617.2" cy="334.9" r="7.1"/>
<circle cx="780.0" cy="533.0" r="7.1"/>
<circle cx="1124.7" cy="608.3" r="7.1"/>
<circle cx="681.5" cy="429.7" r="7.1"/>
<circle cx="693.0" cy="453.4" r="7.1"/>
<circle cx="651.4" cy="415.0" r="7.1"/>
<circle cx="721.1" cy="382.7" r="7.1"/>
<circle cx="981.3" cy="598.1" r="7.1"/>
<circle cx="303.4" cy="351.6" r="7.1"/>
<circle cx="819.0" cy="605.7" r="7.1"/>
<circle cx="825.0" cy="593.2" r="7.1"/>
<circle cx="331.3" cy="383.0" r="7.1"/>
<circle cx="966.0" cy="571.8" r="7.1"/>
<circle cx="957.3" cy="570.5" r="7.1"/>
<circle cx="1177.7" cy="560.7" r="7.1"/>
<circle cx="1069.4" cy="571.6" r="7.1"/>
<circle cx="927.0" cy="470.0" r="7.1"/>
<circle cx="588.3" cy="349.1" r="7.1"/>
<circle cx="468.0" cy="219.8" r="7.1"/>
<circle cx="719.5" cy="430.2" r="7.1"/>
<circle cx="417.7" cy="255.5" r="7.1"/>
<circle cx="617.0" cy="274.0" r="7.1"/>
<circle cx="447.0" cy="261.4" r="7.1"/>
<circle cx="1267.8" cy="587.6" r="7.1"/>
<circle cx="1120.4" cy="587.4" r="7.1"/>
<circle cx="789.3" cy="605.2" r="7.1"/>
<circle cx="1183.0" cy="604.0" r="7.1"/>
<circle cx="265.6" cy="250.4" r="7.1"/>
<circle cx="934.1" cy="573.7" r="7.1"/>
<circle cx="445.4" cy="254.1" r="7.1"/>
<circle cx="423.8" cy="221.0" r="7.1"/>
<circle cx="815.5" cy="599.5" r="7.1"/>
<circle cx="865.8" cy="573.0" r="7.1"/>
<circle cx="671.6" cy="410.4" r="7.1"/>
<circle cx="381.1" cy="271.7" r="7.1"/>
<circle cx="263.7" cy="215.2" r="7.1"/>
<circle cx="1193.3" cy="601.2" r="7.1"/>
<circle cx="215.0" cy="258.9" r="7.1"/>
<circle cx="1259.4" cy="609.8" r="7.1"/>
<circle cx="312.1" cy="346.8" r="7.1"/>
<circle cx="1036.0" cy="670.0" r="7.1"/>
<circle cx="691.2" cy="423.5" r="7.1"/>
<circle cx="1018.0" cy="598.6" r="7.1"/>
<circle cx="271.0" cy="241.8" r="7.1"/>
<circle cx="241.5" cy="261.7" r="7.1"/>
<circle cx="1088.9" cy="613.8" r="7.1"/>
<circle cx="517.0" cy="253.3" r="7.1"/>
<circle cx="789.3" cy="579.9" r="7.1"/>
<circle cx="1008.6" cy="575.6" r="7.1"/>
<circle cx="1190.7" cy="597.8" r="7.1"/>
<circle cx="976.9" cy="581.8" r="7.1"/>
<circle cx="462.4" cy="275.8" r="7.1"/>
<circle cx="733.0" cy="436.2" r="7.1"/>
<circle cx="535.3" cy="160.3" r="7.1"/>
<circle cx="971.0" cy="577.1" r="7.1"/>
<circle cx="1059.6" cy="630.3" r="7.1"/>
<circle cx="981.3" cy="588.3" r="7.1"/>
<circle cx="1161.7" cy="598.9" r="7.1"/>
<circle cx="703.9" cy="416.4" r="7.1"/>
<circle cx="1034.6" cy="612.2" r="7.1"/>
<circle cx="1072.0" cy="550.6" r="7.1"/>
<circle cx="499.8" cy="292.2" r="7.1"/>
<circle cx="1044.5" cy="597.2" r="7.1"/>
<circle cx="718.0" cy="445.6" r="7.1"/>
<circle cx="813.0" cy="579.8" r="7.1"/>
<circle cx="533.8" cy="125.8" r="7.1"/>
<circle cx="820.7" cy="571.5" r="7.1"/>
<circle cx="903.9" cy="576.1" r="7.1"/>
<circle cx="455.9" cy="253.8" r="7.1"/>
<circle cx="786.2" cy="552.1" r="7.1"/>
<circle cx="870.8" cy="586.9" r="7.1"/>
<circle cx="372.9" cy="265.5" r="7.1"/>
<circle cx="235.8" cy="221.7" r="7.1"/>
<circle cx="1047.2" cy="601.3" r="7.1"/>
<circle cx="1022.2" cy="582.8" r="7.1"/>
<circle cx="834.4" cy="612.6" r="7.1"/>
<circle cx="606.3" cy="303.8" r="7.1"/>
<circle cx="1254.6" cy="611.8" r="7.1"/>
<circle cx="530.6" cy="162.1" r="7.1"/>
<circle cx="1018.0" cy="561.6" r="7.1"/>
<circle cx="940.4" cy="568.0" r="7.1"/>
<circle cx="202.1" cy="249.4" r="7.1"/>
<circle cx="1216.0" cy="577.0" r="7.1"/>
<circle cx="940.4" cy="607.8" r="7.1"/>
<circle cx="971.0" cy="554.8" r="7.1"/>
<circle cx="1053.0" cy="516.0" r="7.1"/>
<circle cx="619.9" cy="321.9" r="7.1"/>
<circle cx="1134.0" cy="589.7" r="7.1"/>
<circle cx="372.9" cy="254.4" r="7.1"/>
<circle cx="1189.6" cy="614.0" r="7.1"/>
<circle cx="1120.0" cy="485.0" r="7.1"/>
<circle cx="263.8" cy="275.5" r="7.1"/>
<circle cx="455.8" cy="281.1" r="7.1"/>
<circle cx="638.3" cy="391.6" r="7.1"/>
<circle cx="906.8" cy="577.4" r="7.1"/>
<circle cx="1277.1" cy="617.6" r="7.1"/>
<circle cx="1059.6" cy="600.7" r="7.1"/>
<circle cx="834.4" cy="614.6" r="7.1"/>
<circle cx="532.4" cy="138.6" r="7.1"/>
<circle cx="971.0" cy="605.4" r="7.1"/>
<circle cx="940.4" cy="525.4" r="7.1"/>
<circle cx="1203.7" cy="558.3" r="7.1"/>
<circle cx="555.0" cy="392.7" r="7.1"/>
<circle cx="394.1" cy="261.1" r="7.1"/>
<circle cx="245.0" cy="272.5" r="7.1"/>
<circle cx="588.3" cy="352.3" r="7.1"/>
<circle cx="646.2" cy="365.4" r="7.1"/>
<circle cx="316.0" cy="365.9" r="7.1"/>
<circle cx="1037.0" cy="607.2" r="7.1"/>
<circle cx="794.2" cy="611.4" r="7.1"/>
<circle cx="709.1" cy="446.0" r="7.1"/>
<circle cx="943.0" cy="569.5" r="7.1"/>
<circle cx="592.5" cy="382.5" r="7.1"/>
<circle cx="1288.5" cy="604.4" r="7.1"/>
<circle cx="1193.3" cy="604.5" r="7.1"/>
<circle cx="454.3" cy="282.0" r="7.1"/>
<circle cx="991.7" cy="600.6" r="7.1"/>
<circle cx="624.3" cy="343.4" r="7.1"/>
<circle cx="1135.9" cy="579.6" r="7.1"/>
<circle cx="1061.1" cy="604.8" r="7.1"/>
<circle cx="763.3" cy="591.3" r="7.1"/>
<circle cx="259.9" cy="214.0" r="7.1"/>
<circle cx="991.7" cy="587.8" r="7.1"/>
<circle cx="334.8" cy="346.8" r="7.1"/>
<circle cx="550.1" cy="350.1" r="7.1"/>
<circle cx="344.0" cy="351.6" r="7.1"/>
<circle cx="693.1" cy="420.3" r="7.1"/>
<circle cx="1039.5" cy="597.9" r="7.1"/>
<circle cx="769.4" cy="613.6" r="7.1"/>
<circle cx="381.1" cy="242.7" r="7.1"/>
<circle cx="345.4" cy="375.4" r="7.1"/>
<circle cx="1254.7" cy="589.5" r="7.1"/>
<circle cx="413.4" cy="245.6" r="7.1"/>
<circle cx="951.0" cy="576.9" r="7.1"/>
<circle cx="1038.8" cy="601.5" r="7.1"/>
<circle cx="820.8" cy="572.7" r="7.1"/>
<circle cx="962.7" cy="592.3" r="7.1"/>
<circle cx="265.6" cy="232.7" r="7.1"/>
<circle cx="684.9" cy="451.4" r="7.1"/>
<circle cx="392.4" cy="277.1" r="7.1"/>
<circle cx="722.0" cy="462.0" r="7.1"/>
<circle cx="1220.7" cy="603.4" r="7.1"/>
<circle cx="564.2" cy="344.5" r="7.1"/>
<circle cx="851.8" cy="577.6" r="7.1"/>
<circle cx="245.0" cy="258.8" r="7.1"/>
<circle cx="460.1" cy="256.9" r="7.1"/>
<circle cx="1020.0" cy="592.5" r="7.1"/>
<circle cx="767.8" cy="570.3" r="7.1"/>
<circle cx="1123.0" cy="595.3" r="7.1"/>
<circle cx="1137.4" cy="593.0" r="7.1"/>
<circle cx="635.9" cy="406.1" r="7.1"/>
<circle cx="496.6" cy="254.5" r="7.1"/>
<circle cx="388.2" cy="266.4" r="7.1"/>
<circle cx="839.0" cy="585.1" r="7.1"/>
<circle cx="619.9" cy="328.5" r="7.1"/>
<circle cx="735.2" cy="422.3" r="7.1"/>
<circle cx="513.9" cy="219.3" r="7.1"/>
<circle cx="917.1" cy="605.8" r="7.1"/>
<circle cx="1000.0" cy="582.2" r="7.1"/>
<circle cx="758.0" cy="533.0" r="7.1"/>
<circle cx="653.3" cy="454.2" r="7.1"/>
<circle cx="550.0" cy="253.7" r="7.1"/>
<circle cx="613.8" cy="346.9" r="7.1"/>
<circle cx="1291.3" cy="601.4" r="7.1"/>
<circle cx="996.9" cy="557.4" r="7.1"/>
<circle cx="1219.5" cy="611.4" r="7.1"/>
<circle cx="700.8" cy="388.3" r="7.1"/>
<circle cx="597.6" cy="266.7" r="7.1"/>
<circle cx="780.5" cy="574.5" r="7.1"/>
<circle cx="588.2" cy="336.6" r="7.1"/>
<circle cx="245.0" cy="231.4" r="7.1"/>
<circle cx="849.9" cy="625.7" r="7.1"/>
<circle cx="992.3" cy="566.0" r="7.1"/>
<circle cx="364.7" cy="245.7" r="7.1"/>
<circle cx="1197.1" cy="571.6" r="7.1"/>
<circle cx="296.4" cy="200.7" r="7.1"/>
<circle cx="513.9" cy="293.2" r="7.1"/>
<circle cx="255.4" cy="228.6" r="7.1"/>
<circle cx="489.7" cy="246.6" r="7.1"/>
<circle cx="1102.8" cy="587.1" r="7.1"/>
<circle cx="321.0" cy="376.3" r="7.1"/>
<circle cx="335.8" cy="362.6" r="7.1"/>
<circle cx="391.1" cy="279.9" r="7.1"/>
<circle cx="940.4" cy="575.6" r="7.1"/>
<circle cx="703.9" cy="403.1" r="7.1"/>
<circle cx="919.7" cy="553.7" r="7.1"/>
<circle cx="1003.1" cy="579.7" r="7.1"/>
<circle cx="253.5" cy="217.6" r="7.1"/>
<circle cx="611.6" cy="353.9" r="7.1"/>
<circle cx="1294.5" cy="587.8" r="7.1"/>
<circle cx="978.5" cy="558.3" r="7.1"/>
<circle cx="959.6" cy="582.0" r="7.1"/>
<circle cx="374.6" cy="249.9" r="7.1"/>
<circle cx="1224.5" cy="525.0" r="7.1"/>
<circle cx="391.1" cy="270.1" r="7.1"/>
<circle cx="1078.1" cy="591.7" r="7.1"/>
<circle cx="750.0" cy="589.6" r="7.1"/>
<circle cx="541.0" cy="373.6" r="7.1"/>
<circle cx="820.8" cy="578.6" r="7.1"/>
<circle cx="836.3" cy="596.3" r="7.1"/>
<circle cx="420.9" cy="252.0" r="7.1"/>
<circle cx="782.7" cy="537.5" r="7.1"/>
<circle cx="822.5" cy="569.2" r="7.1"/>
<circle cx="487.2" cy="262.4" r="7.1"/>
<circle cx="532.0" cy="128.0" r="7.1"/>
<circle cx="1038.8" cy="612.1" r="7.1"/>
<circle cx="1050.0" cy="596.9" r="7.1"/>
<circle cx="381.1" cy="268.7" r="7.1"/>
<circle cx="957.3" cy="577.0" r="7.1"/>
<circle cx="224.6" cy="266.8" r="7.1"/>
<circle cx="480.5" cy="269.5" r="7.1"/>
<circle cx="1173.3" cy="602.1" r="7.1"/>
<circle cx="613.8" cy="375.7" r="7.1"/>
<circle cx="1197.2" cy="557.0" r="7.1"/>
<circle cx="341.5" cy="387.8" r="7.1"/>
<circle cx="414.0" cy="247.4" r="7.1"/>
<circle cx="1020.0" cy="564.4" r="7.1"/>
<circle cx="221.4" cy="267.1" r="7.1"/>
<circle cx="1004.7" cy="588.5" r="7.1"/>
<circle cx="302.6" cy="245.1" r="7.1"/>
<circle cx="293.6" cy="245.2" r="7.1"/>
<circle cx="1122.0" cy="500.0" r="7.1"/>
<circle cx="324.2" cy="399.9" r="7.1"/>
<circle cx="267.4" cy="245.7" r="7.1"/>
<circle cx="388.3" cy="242.5" r="7.1"/>
<circle cx="647.5" cy="382.9" r="7.1"/>
<circle cx="733.0" cy="404.4" r="7.1"/>
<circle cx="859.8" cy="629.5" r="7.1"/>
<circle cx="1128.5" cy="542.2" r="7.1"/>
<circle cx="981.3" cy="611.9" r="7.1"/>
<circle cx="662.0" cy="406.0" r="7.1"/>
<circle cx="769.5" cy="593.0" r="7.1"/>
<circle cx="853.8" cy="567.8" r="7.1"/>
<circle cx="1203.7" cy="600.6" r="7.1"/>
<circle cx="335.8" cy="339.4" r="7.1"/>
<circle cx="1154.4" cy="613.6" r="7.1"/>
<circle cx="238.4" cy="266.0" r="7.1"/>
<circle cx="1207.7" cy="577.7" r="7.1"/>
<circle cx="329.7" cy="350.3" r="7.1"/>
<circle cx="231.3" cy="246.9" r="7.1"/>
<circle cx="1000.0" cy="572.4" r="7.1"/>
<circle cx="478.3" cy="255.3" r="7.1"/>
<circle cx="265.6" cy="200.3" r="7.1"/>
<circle cx="1212.8" cy="569.8" r="7.1"/>
<circle cx="704.9" cy="422.7" r="7.1"/>
<circle cx="341.4" cy="371.9" r="7.1"/>
<circle cx="1083.6" cy="583.5" r="7.1"/>
<circle cx="513.9" cy="248.5" r="7.1"/>
<circle cx="836.3" cy="604.3" r="7.1"/>
<circle cx="996.9" cy="583.1" r="7.1"/>
<circle cx="733.0" cy="431.6" r="7.1"/>
<circle cx="914.4" cy="580.3" r="7.1"/>
<circle cx="955.6" cy="573.2" r="7.1"/>
<circle cx="1147.1" cy="590.5" r="7.1"/>
<circle cx="1161.8" cy="579.8" r="7.1"/>
<circle cx="1053.1" cy="554.1" r="7.1"/>
<circle cx="504.2" cy="257.8" r="7.1"/>
<circle cx="372.9" cy="226.3" r="7.1"/>
<circle cx="660.6" cy="463.0" r="7.1"/>
<circle cx="407.7" cy="257.2" r="7.1"/>
<circle cx="247.8" cy="239.8" r="7.1"/>
<circle cx="1076.3" cy="604.2" r="7.1"/>
<circle cx="545.0" cy="269.5" r="7.1"/>
<circle cx="451.8" cy="258.5" r="7.1"/>
<circle cx="938.3" cy="589.1" r="7.1"/>
<circle cx="312.0" cy="338.6" r="7.1"/>
<circle cx="305.7" cy="342.4" r="7.1"/>
<circle cx="496.6" cy="258.4" r="7.1"/>
<circle cx="1008.6" cy="605.1" r="7.1"/>
<circle cx="519.8" cy="227.4" r="7.1"/>
<circle cx="524.8" cy="278.9" r="7.1"/>
<circle cx="1000.0" cy="594.9" r="7.1"/>
<circle cx="1164.4" cy="579.1" r="7.1"/>
<circle cx="1061.1" cy="582.7" r="7.1"/>
<circle cx="1053.0" cy="540.0" r="7.1"/>
<circle cx="769.5" cy="602.8" r="7.1"/>
<circle cx="261.6" cy="234.9" r="7.1"/>
<circle cx="938.2" cy="563.9" r="7.1"/>
<circle cx="825.0" cy="589.8" r="7.1"/>
<circle cx="405.3" cy="280.2" r="7.1"/>
<circle cx="327.2" cy="335.4" r="7.1"/>
<circle cx="1177.7" cy="603.4" r="7.1"/>
<circle cx="1010.4" cy="581.4" r="7.1"/>
<circle cx="1254.7" cy="597.4" r="7.1"/>
<circle cx="719.5" cy="418.6" r="7.1"/>
<circle cx="895.8" cy="568.6" r="7.1"/>
<circle cx="622.3" cy="313.9" r="7.1"/>
<circle cx="1282.4" cy="564.0" r="7.1"/>
<circle cx="973.2" cy="602.1" r="7.1"/>
<circle cx="396.4" cy="258.6" r="7.1"/>
<circle cx="253.5" cy="206.5" r="7.1"/>
<circle cx="1205.4" cy="608.5" r="7.1"/>
<circle cx="585.4" cy="384.5" r="7.1"/>
<circle cx="458.1" cy="278.6" r="7.1"/>
<circle cx="546.2" cy="349.3" r="7.1"/>
<circle cx="689.9" cy="401.5" r="7.1"/>
<circle cx="1042.0" cy="600.2" r="7.1"/>
<circle cx="1156.9" cy="639.1" r="7.1"/>
<circle cx="324.2" cy="388.0" r="7.1"/>
<circle cx="1201.9" cy="598.8" r="7.1"/>
<circle cx="791.8" cy="591.0" r="7.1"/>
<circle cx="859.8" cy="615.5" r="7.1"/>
<circle cx="1289.9" cy="624.7" r="7.1"/>
<circle cx="671.6" cy="415.7" r="7.1"/>
<circle cx="906.8" cy="589.4" r="7.1"/>
<circle cx="405.3" cy="282.2" r="7.1"/>
<circle cx="968.9" cy="592.7" r="7.1"/>
<circle cx="1066.6" cy="568.7" r="7.1"/>
<circle cx="925.2" cy="616.2" r="7.1"/>
<circle cx="1038.7" cy="614.1" r="7.1"/>
<circle cx="721.0" cy="419.7" r="7.1"/>
<circle cx="1063.2" cy="597.9" r="7.1"/>
<circle cx="585.3" cy="364.8" r="7.1"/>
<circle cx="445.4" cy="232.7" r="7.1"/>
<circle cx="480.5" cy="242.8" r="7.1"/>
<circle cx="513.9" cy="261.9" r="7.1"/>
<circle cx="1086.7" cy="576.6" r="7.1"/>
<circle cx="642.7" cy="428.2" r="7.1"/>
<circle cx="1044.5" cy="632.6" r="7.1"/>
<circle cx="726.7" cy="405.4" r="7.1"/>
<circle cx="1098.2" cy="573.7" r="7.1"/>
<circle cx="599.5" cy="361.8" r="7.1"/>
<circle cx="385.3" cy="262.1" r="7.1"/>
<circle cx="253.5" cy="225.8" r="7.1"/>
<circle cx="220.5" cy="249.2" r="7.1"/>
<circle cx="1006.6" cy="590.2" r="7.1"/>
<circle cx="1223.9" cy="586.3" r="7.1"/>
<circle cx="1076.3" cy="624.0" r="7.1"/>
<circle cx="512.4" cy="265.4" r="7.1"/>
<circle cx="892.9" cy="620.2" r="7.1"/>
<circle cx="480.0" cy="201.0" r="7.1"/>
<circle cx="1076.3" cy="623.0" r="7.1"/>
<circle cx="691.2" cy="414.7" r="7.1"/>
<circle cx="487.1" cy="261.2" r="7.1"/>
<circle cx="1269.7" cy="588.7" r="7.1"/>
<circle cx="726.8" cy="410.2" r="7.1"/>
<circle cx="761.0" cy="565.5" r="7.1"/>
<circle cx="321.1" cy="373.4" r="7.1"/>
<circle cx="642.6" cy="412.4" r="7.1"/>
<circle cx="1072.1" cy="576.0" r="7.1"/>
<circle cx="943.0" cy="565.7" r="7.1"/>
<circle cx="1080.0" cy="606.2" r="7.1"/>
<circle cx="312.1" cy="350.9" r="7.1"/>
<circle cx="1181.5" cy="602.4" r="7.1"/>
<circle cx="247.8" cy="238.3" r="7.1"/>
<circle cx="1140.0" cy="515.4" r="7.1"/>
<circle cx="626.6" cy="322.5" r="7.1"/>
<circle cx="1034.7" cy="602.5" r="7.1"/>
<circle cx="1126.9" cy="562.7" r="7.1"/>
<circle cx="647.5" cy="404.6" r="7.1"/>
<circle cx="274.0" cy="217.7" r="7.1"/>
<circle cx="1147.2" cy="570.9" r="7.1"/>
<circle cx="1167.9" cy="598.0" r="7.1"/>
<circle cx="986.6" cy="599.9" r="7.1"/>
<circle cx="906.8" cy="598.0" r="7.1"/>
<circle cx="1056.9" cy="573.9" r="7.1"/>
<circle cx="263.7" cy="182.1" r="7.1"/>
<circle cx="545.0" cy="360.5" r="7.1"/>
<circle cx="510.0" cy="274.6" r="7.1"/>
<circle cx="318.1" cy="355.6" r="7.1"/>
<circle cx="711.0" cy="424.7" r="7.1"/>
<circle cx="776.6" cy="580.0" r="7.1"/>
<circle cx="815.6" cy="599.5" r="7.1"/>
<circle cx="377.7" cy="241.2" r="7.1"/>
<circle cx="1216.1" cy="589.3" r="7.1"/>
<circle cx="413.4" cy="236.8" r="7.1"/>
<circle cx="585.3" cy="350.5" r="7.1"/>
<circle cx="455.9" cy="272.5" r="7.1"/>
<circle cx="619.9" cy="219.3" r="7.1"/>
<circle cx="470.6" cy="282.8" r="7.1"/>
<circle cx="317.1" cy="391.5" r="7.1"/>
<circle cx="767.8" cy="555.0" r="7.1"/>
<circle cx="1286.5" cy="558.7" r="7.1"/>
<circle cx="925.2" cy="595.9" r="7.1"/>
<circle cx="250.0" cy="296.0" r="7.1"/>
<circle cx="377.7" cy="268.4" r="7.1"/>
<circle cx="769.5" cy="601.9" r="7.1"/>
<circle cx="1227.8" cy="580.1" r="7.1"/>
<circle cx="403.1" cy="232.9" r="7.1"/>
<circle cx="943.0" cy="573.2" r="7.1"/>
<circle cx="487.1" cy="254.0" r="7.1"/>
<circle cx="1269.7" cy="576.4" r="7.1"/>
<circle cx="542.0" cy="460.0" r="7.1"/>
<circle cx="791.8" cy="593.2" r="7.1"/>
<circle cx="1190.7" cy="597.1" r="7.1"/>
<circle cx="1274.2" cy="576.4" r="7.1"/>
<circle cx="1130.5" cy="607.1" r="7.1"/>
<circle cx="558.9" cy="394.4" r="7.1"/>
<circle cx="637.0" cy="482.0" r="7.1"/>
<circle cx="1201.9" cy="573.1" r="7.1"/>
<circle cx="1158.8" cy="554.4" r="7.1"/>
<circle cx="383.3" cy="266.8" r="7.1"/>
<circle cx="1140.0" cy="614.5" r="7.1"/>
<circle cx="735.2" cy="426.7" r="7.1"/>
<circle cx="310.7" cy="366.8" r="7.1"/>
<circle cx="292.0" cy="272.4" r="7.1"/>
<circle cx="521.8" cy="250.9" r="7.1"/>
<circle cx="253.5" cy="265.0" r="7.1"/>
<circle cx="590.1" cy="338.5" r="7.1"/>
<circle cx="635.8" cy="401.6" r="7.1"/>
<circle cx="799.0" cy="589.8" r="7.1"/>
<circle cx="460.2" cy="222.9" r="7.1"/>
<circle cx="1164.4" cy="561.5" r="7.1"/>
<circle cx="908.8" cy="560.1" r="7.1"/>
<circle cx="263.7" cy="234.1" r="7.1"/>
<circle cx="917.1" cy="577.8" r="7.1"/>
<circle cx="966.0" cy="581.7" r="7.1"/>
<circle cx="773.2" cy="616.0" r="7.1"/>
<circle cx="579.6" cy="300.1" r="7.1"/>
<circle cx="671.7" cy="396.4" r="7.1"/>
<circle cx="1120.5" cy="591.9" r="7.1"/>
<circle cx="989.6" cy="589.1" r="7.1"/>
<circle cx="454.2" cy="200.2" r="7.1"/>
<circle cx="859.8" cy="612.0" r="7.1"/>
<circle cx="1000.0" cy="607.5" r="7.1"/>
<circle cx="230.0" cy="259.2" r="7.1"/>
<circle cx="667.9" cy="397.8" r="7.1"/>
<circle cx="439.5" cy="232.2" r="7.1"/>
<circle cx="889.7" cy="563.1" r="7.1"/>
<circle cx="263.7" cy="241.0" r="7.1"/>
<circle cx="936.2" cy="602.1" r="7.1"/>
<circle cx="293.6" cy="244.9" r="7.1"/>
<circle cx="296.5" cy="256.2" r="7.1"/>
<circle cx="205.0" cy="253.5" r="7.1"/>
<circle cx="750.0" cy="609.7" r="7.1"/>
<circle cx="794.3" cy="599.7" r="7.1"/>
<circle cx="635.8" cy="389.7" r="7.1"/>
<circle cx="607.8" cy="320.7" r="7.1"/>
<circle cx="1028.5" cy="592.9" r="7.1"/>
<circle cx="368.0" cy="272.0" r="7.1"/>
<circle cx="640.4" cy="388.8" r="7.1"/>
<circle cx="519.8" cy="252.3" r="7.1"/>
<circle cx="590.0" cy="333.5" r="7.1"/>
<circle cx="519.8" cy="255.3" r="7.1"/>
<circle cx="989.6" cy="603.5" r="7.1"/>
<circle cx="744.0" cy="608.6" r="7.1"/>
<circle cx="975.4" cy="561.0" r="7.1"/>
<circle cx="662.0" cy="390.8" r="7.1"/>
<circle cx="1263.1" cy="570.0" r="7.1"/>
<circle cx="594.9" cy="335.2" r="7.1"/>
<circle cx="1055.0" cy="568.2" r="7.1"/>
<circle cx="1061.1" cy="589.9" r="7.1"/>
<circle cx="940.4" cy="572.6" r="7.1"/>
<circle cx="1132.1" cy="603.3" r="7.1"/>
<circle cx="1178.9" cy="581.5" r="7.1"/>
<circle cx="576.2" cy="327.4" r="7.1"/>
<circle cx="1161.7" cy="530.7" r="7.1"/>
<circle cx="377.7" cy="247.2" r="7.1"/>
<circle cx="604.4" cy="302.9" r="7.1"/>
<circle cx="921.3" cy="604.1" r="7.1"/>
<circle cx="699.3" cy="438.2" r="7.1"/>
<circle cx="1168.6" cy="614.7" r="7.1"/>
<circle cx="638.2" cy="436.8" r="7.1"/>
<circle cx="308.3" cy="353.0" r="7.1"/>
<circle cx="924.3" cy="680.8" r="7.1"/>
<circle cx="985.7" cy="574.2" r="7.1"/>
<circle cx="1086.7" cy="599.7" r="7.1"/>
<circle cx="861.1" cy="586.9" r="7.1"/>
<circle cx="337.5" cy="389.6" r="7.1"/>
<circle cx="1203.7" cy="594.1" r="7.1"/>
<circle cx="521.8" cy="265.7" r="7.1"/>
<circle cx="1082.8" cy="573.1" r="7.1"/>
<circle cx="675.1" cy="398.8" r="7.1"/>
<circle cx="1190.7" cy="631.7" r="7.1"/>
<circle cx="492.8" cy="243.4" r="7.1"/>
<circle cx="839.0" cy="558.7" r="7.1"/>
<circle cx="310.7" cy="385.0" r="7.1"/>
<circle cx="1028.5" cy="568.9" r="7.1"/>
<circle cx="959.5" cy="555.5" r="7.1"/>
<circle cx="1158.0" cy="665.0" r="7.1"/>
<circle cx="1013.7" cy="527.1" r="7.1"/>
<circle cx="468.1" cy="254.2" r="7.1"/>
<circle cx="839.0" cy="609.0" r="7.1"/>
<circle cx="1288.4" cy="597.9" r="7.1"/>
<circle cx="647.4" cy="383.0" r="7.1"/>
<circle cx="1257.1" cy="602.3" r="7.1"/>
<circle cx="1163.6" cy="609.4" r="7.1"/>
<circle cx="1094.3" cy="601.7" r="7.1"/>
<circle cx="671.6" cy="398.2" r="7.1"/>
<circle cx="241.5" cy="256.7" r="7.1"/>
<circle cx="231.3" cy="269.4" r="7.1"/>
<circle cx="450.0" cy="228.8" r="7.1"/>
<circle cx="796.4" cy="588.5" r="7.1"/>
<circle cx="197.8" cy="257.1" r="7.1"/>
<circle cx="1187.5" cy="575.6" r="7.1"/>
<circle cx="773.1" cy="611.7" r="7.1"/>
<circle cx="1123.0" cy="606.5" r="7.1"/>
<circle cx="439.5" cy="281.1" r="7.1"/>
<circle cx="1158.8" cy="572.8" r="7.1"/>
<circle cx="401.0" cy="245.1" r="7.1"/>
<circle cx="585.4" cy="322.2" r="7.1"/>
<circle cx="423.9" cy="232.1" r="7.1"/>
<circle cx="664.2" cy="419.3" r="7.1"/>
<circle cx="544.9" cy="407.0" r="7.1"/>
<circle cx="489.7" cy="262.0" r="7.1"/>
<circle cx="735.2" cy="408.6" r="7.1"/>
<circle cx="399.4" cy="259.0" r="7.1"/>
<circle cx="271.0" cy="243.1" r="7.1"/>
<circle cx="554.3" cy="369.3" r="7.1"/>
<circle cx="1212.8" cy="559.0" r="7.1"/>
<circle cx="1193.3" cy="610.1" r="7.1"/>
<circle cx="936.3" cy="604.4" r="7.1"/>
<circle cx="396.3" cy="253.4" r="7.1"/>
<circle cx="1080.0" cy="592.3" r="7.1"/>
<circle cx="1268.0" cy="439.0" r="7.1"/>
<circle cx="679.7" cy="392.2" r="7.1"/>
<circle cx="1008.6" cy="608.2" r="7.1"/>
<circle cx="1168.7" cy="595.3" r="7.1"/>
<circle cx="247.8" cy="242.2" r="7.1"/>
<circle cx="769.5" cy="580.6" r="7.1"/>
<circle cx="450.0" cy="237.7" r="7.1"/>
<circle cx="1178.9" cy="597.7" r="7.1"/>
<circle cx="1020.0" cy="609.8" r="7.1"/>
<circle cx="303.4" cy="368.2" r="7.1"/>
<circle cx="414.0" cy="309.9" r="7.1"/>
<circle cx="579.6" cy="402.9" r="7.1"/>
<circle cx="689.9" cy="391.8" r="7.1"/>
<circle cx="1120.5" cy="602.7" r="7.1"/>
<circle cx="786.2" cy="579.8" r="7.1"/>
<circle cx="588.3" cy="344.7" r="7.1"/>
<circle cx="550.0" cy="320.3" r="7.1"/>
<circle cx="1039.5" cy="603.2" r="7.1"/>
<circle cx="982.3" cy="577.4" r="7.1"/>
<circle cx="576.2" cy="379.8" r="7.1"/>
<circle cx="870.8" cy="584.8" r="7.1"/>
<circle cx="1205.3" cy="595.0" r="7.1"/>
<circle cx="844.0" cy="565.1" r="7.1"/>
<circle cx="234.4" cy="266.4" r="7.1"/>
<circle cx="309.6" cy="332.9" r="7.1"/>
<circle cx="322.8" cy="379.4" r="7.1"/>
<circle cx="251.2" cy="209.6" r="7.1"/>
<circle cx="1263.1" cy="557.0" r="7.1"/>
<circle cx="1289.9" cy="573.1" r="7.1"/>
<circle cx="985.7" cy="568.0" r="7.1"/>
<circle cx="1187.6" cy="611.5" r="7.1"/>
<circle cx="1003.1" cy="623.1" r="7.1"/>
<circle cx="517.0" cy="255.6" r="7.1"/>
<circle cx="1167.9" cy="641.7" r="7.1"/>
<circle cx="1227.9" cy="585.0" r="7.1"/>
<circle cx="1134.0" cy="594.6" r="7.1"/>
<circle cx="227.3" cy="227.1" r="7.1"/>
<circle cx="772.2" cy="581.7" r="7.1"/>
<circle cx="1267.8" cy="586.0" r="7.1"/>
<circle cx="936.2" cy="566.7" r="7.1"/>
<circle cx="381.1" cy="265.6" r="7.1"/>
<circle cx="302.6" cy="280.3" r="7.1"/>
<circle cx="1076.3" cy="573.9" r="7.1"/>
<circle cx="378.9" cy="271.9" r="7.1"/>
<circle cx="460.2" cy="238.9" r="7.1"/>
<circle cx="1014.2" cy="533.9" r="7.1"/>
<circle cx="1284.0" cy="606.5" r="7.1"/>
<circle cx="1044.4" cy="561.0" r="7.1"/>
<circle cx="1098.2" cy="608.3" r="7.1"/>
<circle cx="772.2" cy="548.2" r="7.1"/>
<circle cx="612.0" cy="236.0" r="7.1"/>
<circle cx="606.3" cy="290.5" r="7.1"/>
<circle cx="607.8" cy="338.5" r="7.1"/>
<circle cx="302.6" cy="271.8" r="7.1"/>
<circle cx="265.7" cy="226.1" r="7.1"/>
<circle cx="299.2" cy="258.1" r="7.1"/>
<circle cx="1123.1" cy="590.0" r="7.1"/>
<circle cx="253.5" cy="226.8" r="7.1"/>
<circle cx="576.2" cy="368.2" r="7.1"/>
<circle cx="715.7" cy="382.7" r="7.1"/>
<circle cx="644.6" cy="419.5" r="7.1"/>
<circle cx="1074.7" cy="554.5" r="7.1"/>
<circle cx="541.0" cy="346.4" r="7.1"/>
<circle cx="640.4" cy="407.3" r="7.1"/>
<circle cx="1135.9" cy="582.5" r="7.1"/>
<circle cx="938.3" cy="586.7" r="7.1"/>
<circle cx="468.1" cy="230.8" r="7.1"/>
<circle cx="622.3" cy="350.4" r="7.1"/>
<circle cx="981.3" cy="576.8" r="7.1"/>
<circle cx="255.4" cy="233.4" r="7.1"/>
<circle cx="360.5" cy="249.5" r="7.1"/>
<circle cx="569.5" cy="362.4" r="7.1"/>
<circle cx="653.3" cy="432.7" r="7.1"/>
<circle cx="314.2" cy="359.7" r="7.1"/>
<circle cx="606.3" cy="359.8" r="7.1"/>
<circle cx="351.2" cy="377.0" r="7.1"/>
<circle cx="263.8" cy="232.0" r="7.1"/>
<circle cx="669.5" cy="441.6" r="7.1"/>
<circle cx="485.7" cy="281.8" r="7.1"/>
<circle cx="508.4" cy="321.4" r="7.1"/>
<circle cx="287.0" cy="257.9" r="7.1"/>
<circle cx="513.8" cy="276.2" r="7.1"/>
<circle cx="579.6" cy="330.5" r="7.1"/>
<circle cx="789.4" cy="612.7" r="7.1"/>
<circle cx="1203.7" cy="580.9" r="7.1"/>
<circle cx="247.7" cy="223.2" r="7.1"/>
<circle cx="796.4" cy="605.7" r="7.1"/>
<circle cx="726.7" cy="409.9" r="7.1"/>
<circle cx="1154.3" cy="591.6" r="7.1"/>
<circle cx="338.1" cy="425.2" r="7.1"/>
<circle cx="908.9" cy="597.9" r="7.1"/>
<circle cx="480.5" cy="261.8" r="7.1"/>
<circle cx="970.9" cy="605.5" r="7.1"/>
<circle cx="417.8" cy="264.4" r="7.1"/>
<circle cx="773.2" cy="560.2" r="7.1"/>
<circle cx="292.0" cy="226.2" r="7.1"/>
<circle cx="962.7" cy="581.4" r="7.1"/>
<circle cx="394.0" cy="264.1" r="7.1"/>
<circle cx="750.0" cy="593.1" r="7.1"/>
<circle cx="655.8" cy="433.2" r="7.1"/>
<circle cx="1185.7" cy="580.1" r="7.1"/>
<circle cx="1044.4" cy="601.3" r="7.1"/>
<circle cx="1004.7" cy="585.0" r="7.1"/>
<circle cx="590.1" cy="344.0" r="7.1"/>
<circle cx="1146.3" cy="469.4" r="7.1"/>
<circle cx="1014.3" cy="567.2" r="7.1"/>
<circle cx="840.5" cy="592.7" r="7.1"/>
<circle cx="1259.3" cy="569.5" r="7.1"/>
<circle cx="255.4" cy="222.2" r="7.1"/>
<circle cx="555.0" cy="302.6" r="7.1"/>
<circle cx="900.5" cy="590.2" r="7.1"/>
<circle cx="657.1" cy="410.3" r="7.1"/>
<circle cx="377.7" cy="246.2" r="7.1"/>
<circle cx="249.4" cy="239.6" r="7.1"/>
<circle cx="1223.9" cy="613.7" r="7.1"/>
<circle cx="1286.5" cy="592.0" r="7.1"/>
<circle cx="697.9" cy="403.5" r="7.1"/>
<circle cx="1128.0" cy="505.0" r="7.1"/>
<circle cx="263.8" cy="241.1" r="7.1"/>
<circle cx="458.0" cy="236.6" r="7.1"/>
<circle cx="423.9" cy="246.3" r="7.1"/>
<circle cx="1143.0" cy="614.4" r="7.1"/>
<circle cx="1190.7" cy="584.2" r="7.1"/>
<circle cx="647.4" cy="407.8" r="7.1"/>
<circle cx="971.0" cy="550.9" r="7.1"/>
<circle cx="496.6" cy="279.4" r="7.1"/>
<circle cx="1105.0" cy="567.7" r="7.1"/>
<circle cx="735.2" cy="431.7" r="7.1"/>
<circle cx="245.0" cy="256.6" r="7.1"/>
<circle cx="321.0" cy="351.9" r="7.1"/>
<circle cx="789.4" cy="593.4" r="7.1"/>
<circle cx="579.5" cy="375.6" r="7.1"/>
<circle cx="820.8" cy="581.7" r="7.1"/>
<circle cx="327.1" cy="363.8" r="7.1"/>
<circle cx="973.2" cy="548.2" r="7.1"/>
<circle cx="1037.0" cy="592.8" r="7.1"/>
<circle cx="538.3" cy="333.7" r="7.1"/>
<circle cx="370.1" cy="255.3" r="7.1"/>
<circle cx="519.8" cy="232.1" r="7.1"/>
<circle cx="318.0" cy="360.6" r="7.1"/>
<circle cx="1105.0" cy="600.3" r="7.1"/>
<circle cx="194.5" cy="219.7" r="7.1"/>
<circle cx="901.5" cy="566.5" r="7.1"/>
<circle cx="1006.6" cy="608.1" r="7.1"/>
<circle cx="1227.8" cy="597.6" r="7.1"/>
<circle cx="496.5" cy="256.4" r="7.1"/>
<circle cx="1018.0" cy="565.6" r="7.1"/>
<circle cx="832.4" cy="608.5" r="7.1"/>
<circle cx="938.3" cy="590.4" r="7.1"/>
<circle cx="673.8" cy="410.3" r="7.1"/>
<circle cx="1024.8" cy="606.1" r="7.1"/>
<circle cx="1140.0" cy="572.3" r="7.1"/>
<circle cx="750.0" cy="589.6" r="7.1"/>
<circle cx="405.3" cy="199.8" r="7.1"/>
<circle cx="1264.9" cy="601.9" r="7.1"/>
<circle cx="782.7" cy="584.4" r="7.1"/>
<circle cx="501.5" cy="262.6" r="7.1"/>
<circle cx="864.3" cy="554.9" r="7.1"/>
<circle cx="487.1" cy="242.2" r="7.1"/>
<circle cx="547.7" cy="353.5" r="7.1"/>
<circle cx="981.3" cy="600.0" r="7.1"/>
<circle cx="1294.5" cy="606.9" r="7.1"/>
<circle cx="335.9" cy="369.2" r="7.1"/>
<circle cx="468.0" cy="262.8" r="7.1"/>
<circle cx="715.7" cy="397.6" r="7.1"/>
<circle cx="798.9" cy="594.1" r="7.1"/>
<circle cx="557.4" cy="349.1" r="7.1"/>
<circle cx="1212.9" cy="572.5" r="7.1"/>
<circle cx="733.0" cy="409.5" r="7.1"/>
<circle cx="955.6" cy="571.2" r="7.1"/>
<circle cx="1177.7" cy="565.8" r="7.1"/>
<circle cx="543.1" cy="261.8" r="7.1"/>
<circle cx="372.9" cy="283.0" r="7.1"/>
<circle cx="521.8" cy="252.2" r="7.1"/>
<circle cx="510.0" cy="273.2" r="7.1"/>
<circle cx="615.4" cy="377.4" r="7.1"/>
<circle cx="1066.6" cy="599.1" r="7.1"/>
<circle cx="796.4" cy="568.5" r="7.1"/>
<circle cx="485.6" cy="263.8" r="7.1"/>
<circle cx="1199.1" cy="601.6" r="7.1"/>
<circle cx="272.5" cy="200.0" r="7.1"/>
<circle cx="177.5" cy="295.0" r="7.1"/>
<circle cx="1163.6" cy="611.8" r="7.1"/>
<circle cx="599.5" cy="347.7" r="7.1"/>
<circle cx="1264.8" cy="556.8" r="7.1"/>
<circle cx="609.5" cy="334.1" r="7.1"/>
<circle cx="333.0" cy="381.9" r="7.1"/>
<circle cx="897.0" cy="561.7" r="7.1"/>
<circle cx="1135.9" cy="561.2" r="7.1"/>
<circle cx="985.7" cy="583.1" r="7.1"/>
<circle cx="1289.9" cy="549.9" r="7.1"/>
<circle cx="1063.2" cy="573.2" r="7.1"/>
<circle cx="335.0" cy="430.0" r="7.1"/>
<circle cx="913.1" cy="595.9" r="7.1"/>
<circle cx="337.6" cy="348.5" r="7.1"/>
<circle cx="675.1" cy="417.2" r="7.1"/>
<circle cx="512.4" cy="283.9" r="7.1"/>
<circle cx="443.3" cy="251.2" r="7.1"/>
<circle cx="568.7" cy="331.2" r="7.1"/>
<circle cx="234.4" cy="262.3" r="7.1"/>
<circle cx="269.6" cy="259.6" r="7.1"/>
<circle cx="407.7" cy="260.2" r="7.1"/>
<circle cx="579.6" cy="319.6" r="7.1"/>
<circle cx="624.4" cy="278.3" r="7.1"/>
<circle cx="644.6" cy="410.7" r="7.1"/>
<circle cx="721.1" cy="402.3" r="7.1"/>
<circle cx="1209.7" cy="584.6" r="7.1"/>
<circle cx="1201.9" cy="622.5" r="7.1"/>
<circle cx="520.0" cy="333.0" r="7.1"/>
<circle cx="943.0" cy="566.2" r="7.1"/>
<circle cx="351.2" cy="348.2" r="7.1"/>
<circle cx="1173.2" cy="625.6" r="7.1"/>
<circle cx="1183.0" cy="608.5" r="7.1"/>
<circle cx="527.9" cy="124.4" r="7.1"/>
<circle cx="420.9" cy="270.9" r="7.1"/>
<circle cx="274.0" cy="221.1" r="7.1"/>
<circle cx="1090.9" cy="611.3" r="7.1"/>
<circle cx="1189.6" cy="606.7" r="7.1"/>
<circle cx="613.8" cy="368.6" r="7.1"/>
<circle cx="840.5" cy="585.4" r="7.1"/>
<circle cx="240.6" cy="257.7" r="7.1"/>
<circle cx="494.6" cy="258.9" r="7.1"/>
<circle cx="968.9" cy="572.9" r="7.1"/>
<circle cx="545.0" cy="340.5" r="7.1"/>
<circle cx="906.9" cy="583.6" r="7.1"/>
<circle cx="726.7" cy="433.9" r="7.1"/>
<circle cx="756.1" cy="570.4" r="7.1"/>
<circle cx="1189.7" cy="594.9" r="7.1"/>
<circle cx="711.0" cy="393.6" r="7.1"/>
<circle cx="1274.8" cy="599.3" r="7.1"/>
<circle cx="791.8" cy="639.9" r="7.1"/>
<circle cx="870.8" cy="574.4" r="7.1"/>
<circle cx="951.0" cy="564.5" r="7.1"/>
<circle cx="1050.0" cy="545.7" r="7.1"/>
<circle cx="345.4" cy="360.8" r="7.1"/>
<circle cx="660.6" cy="399.0" r="7.1"/>
<circle cx="668.0" cy="413.6" r="7.1"/>
<circle cx="1197.2" cy="604.9" r="7.1"/>
<circle cx="703.9" cy="419.9" r="7.1"/>
<circle cx="715.8" cy="412.1" r="7.1"/>
<circle cx="342.9" cy="359.3" r="7.1"/>
<circle cx="1145.4" cy="630.1" r="7.1"/>
<circle cx="409.7" cy="253.7" r="7.1"/>
<circle cx="691.3" cy="419.7" r="7.1"/>
<circle cx="1230.5" cy="583.6" r="7.1"/>
<circle cx="767.8" cy="575.0" r="7.1"/>
<circle cx="224.6" cy="250.0" r="7.1"/>
<circle cx="468.1" cy="289.9" r="7.1"/>
<circle cx="819.0" cy="593.9" r="7.1"/>
<circle cx="568.7" cy="345.0" r="7.1"/>
<circle cx="763.3" cy="570.6" r="7.1"/>
<circle cx="244.0" cy="300.0" r="7.1"/>
<circle cx="913.1" cy="588.0" r="7.1"/>
<circle cx="953.4" cy="590.0" r="7.1"/>
<circle cx="1080.1" cy="584.3" r="7.1"/>
<circle cx="535.4" cy="94.4" r="7.1"/>
<circle cx="344.0" cy="375.9" r="7.1"/>
<circle cx="292.0" cy="268.4" r="7.1"/>
<circle cx="975.3" cy="603.5" r="7.1"/>
<circle cx="392.4" cy="264.8" r="7.1"/>
<circle cx="631.0" cy="443.4" r="7.1"/>
<circle cx="569.4" cy="360.8" r="7.1"/>
<circle cx="324.2" cy="355.5" r="7.1"/>
<circle cx="1026.4" cy="627.5" r="7.1"/>
<circle cx="510.1" cy="245.1" r="7.1"/>
<circle cx="510.1" cy="262.2" r="7.1"/>
<circle cx="966.0" cy="559.0" r="7.1"/>
<circle cx="531.0" cy="190.0" r="7.1"/>
<circle cx="844.0" cy="579.9" r="7.1"/>
<circle cx="1026.3" cy="609.9" r="7.1"/>
<circle cx="319.4" cy="354.6" r="7.1"/>
<circle cx="1264.9" cy="614.9" r="7.1"/>
<circle cx="1074.7" cy="585.3" r="7.1"/>
<circle cx="414.0" cy="292.8" r="7.1"/>
<circle cx="409.6" cy="230.6" r="7.1"/>
<circle cx="715.7" cy="412.1" r="7.1"/>
<circle cx="1260.1" cy="577.1" r="7.1"/>
<circle cx="270.9" cy="189.1" r="7.1"/>
<circle cx="930.2" cy="586.8" r="7.1"/>
<circle cx="1203.7" cy="622.2" r="7.1"/>
<circle cx="859.8" cy="606.5" r="7.1"/>
<circle cx="1212.0" cy="576.0" r="7.1"/>
<circle cx="202.2" cy="260.3" r="7.1"/>
<circle cx="517.0" cy="271.4" r="7.1"/>
<circle cx="673.8" cy="360.3" r="7.1"/>
<circle cx="897.0" cy="592.0" r="7.1"/>
<circle cx="455.8" cy="270.7" r="7.1"/>
<circle cx="245.0" cy="232.2" r="7.1"/>
<circle cx="832.5" cy="595.7" r="7.1"/>
<circle cx="1163.5" cy="625.8" r="7.1"/>
<circle cx="776.6" cy="590.2" r="7.1"/>
<circle cx="1268.0" cy="420.0" r="7.1"/>
<circle cx="1069.3" cy="584.0" r="7.1"/>
<circle cx="646.2" cy="406.5" r="7.1"/>
<circle cx="1074.7" cy="546.2" r="7.1"/>
<circle cx="594.2" cy="313.1" r="7.1"/>
<circle cx="571.7" cy="365.1" r="7.1"/>
<circle cx="675.0" cy="434.6" r="7.1"/>
<circle cx="451.8" cy="278.6" r="7.1"/>
<circle cx="399.4" cy="268.6" r="7.1"/>
<circle cx="348.1" cy="377.4" r="7.1"/>
<circle cx="1047.2" cy="588.7" r="7.1"/>
<circle cx="870.8" cy="575.1" r="7.1"/>
<circle cx="388.3" cy="234.7" r="7.1"/>
<circle cx="470.6" cy="282.2" r="7.1"/>
<circle cx="867.5" cy="611.2" r="7.1"/>
<circle cx="996.9" cy="586.6" r="7.1"/>
<circle cx="728.9" cy="397.1" r="7.1"/>
<circle cx="926.8" cy="482.0" r="7.1"/>
<circle cx="1230.5" cy="575.9" r="7.1"/>
<circle cx="1218.3" cy="584.8" r="7.1"/>
<circle cx="867.5" cy="604.2" r="7.1"/>
<circle cx="828.1" cy="587.9" r="7.1"/>
<circle cx="1044.4" cy="583.5" r="7.1"/>
<circle cx="784.5" cy="607.9" r="7.1"/>
<circle cx="671.7" cy="398.6" r="7.1"/>
<circle cx="1132.1" cy="613.6" r="7.1"/>
<circle cx="1135.9" cy="548.6" r="7.1"/>
<circle cx="455.9" cy="265.3" r="7.1"/>
<circle cx="1139.9" cy="572.2" r="7.1"/>
<circle cx="644.6" cy="390.3" r="7.1"/>
<circle cx="597.6" cy="374.1" r="7.1"/>
<circle cx="1017.9" cy="606.5" r="7.1"/>
<circle cx="853.8" cy="566.0" r="7.1"/>
<circle cx="767.7" cy="565.5" r="7.1"/>
<circle cx="1006.7" cy="567.3" r="7.1"/>
<circle cx="859.8" cy="584.9" r="7.1"/>
<circle cx="901.5" cy="608.6" r="7.1"/>
<circle cx="1272.1" cy="622.0" r="7.1"/>
<circle cx="1252.8" cy="586.8" r="7.1"/>
<circle cx="1088.8" cy="596.8" r="7.1"/>
<circle cx="1072.1" cy="600.9" r="7.1"/>
<circle cx="760.9" cy="550.6" r="7.1"/>
<circle cx="1218.2" cy="578.6" r="7.1"/>
<circle cx="1164.4" cy="587.9" r="7.1"/>
<circle cx="930.1" cy="584.1" r="7.1"/>
<circle cx="472.5" cy="244.5" r="7.1"/>
<circle cx="609.5" cy="342.3" r="7.1"/>
<circle cx="713.7" cy="400.6" r="7.1"/>
<circle cx="541.0" cy="310.1" r="7.1"/>
<circle cx="261.6" cy="207.2" r="7.1"/>
<circle cx="259.9" cy="206.0" r="7.1"/>
<circle cx="889.7" cy="581.4" r="7.1"/>
<circle cx="978.5" cy="599.5" r="7.1"/>
<circle cx="360.6" cy="284.1" r="7.1"/>
<circle cx="740.3" cy="396.0" r="7.1"/>
<circle cx="374.5" cy="282.7" r="7.1"/>
<circle cx="1061.1" cy="563.7" r="7.1"/>
<circle cx="819.0" cy="620.9" r="7.1"/>
<circle cx="1175.2" cy="550.4" r="7.1"/>
<circle cx="657.1" cy="409.9" r="7.1"/>
<circle cx="1083.7" cy="612.9" r="7.1"/>
<circle cx="840.6" cy="608.8" r="7.1"/>
<circle cx="569.5" cy="345.5" r="7.1"/>
<circle cx="650.0" cy="376.2" r="7.1"/>
<circle cx="1003.1" cy="573.9" r="7.1"/>
<circle cx="1018.0" cy="582.0" r="7.1"/>
<circle cx="782.7" cy="587.8" r="7.1"/>
<circle cx="1264.8" cy="570.7" r="7.1"/>
<circle cx="665.6" cy="398.1" r="7.1"/>
<circle cx="930.2" cy="550.8" r="7.1"/>
<circle cx="271.0" cy="226.4" r="7.1"/>
<circle cx="312.5" cy="440.0" r="7.1"/>
<circle cx="978.4" cy="544.6" r="7.1"/>
<circle cx="342.9" cy="363.0" r="7.1"/>
<circle cx="403.1" cy="239.1" r="7.1"/>
<circle cx="1158.7" cy="612.5" r="7.1"/>
<circle cx="718.0" cy="442.9" r="7.1"/>
<circle cx="1274.1" cy="608.8" r="7.1"/>
<circle cx="458.1" cy="247.5" r="7.1"/>
<circle cx="1274.8" cy="589.1" r="7.1"/>
<circle cx="638.3" cy="394.1" r="7.1"/>
<circle cx="1014.3" cy="576.3" r="7.1"/>
<circle cx="1181.5" cy="605.4" r="7.1"/>
<circle cx="943.0" cy="591.3" r="7.1"/>
<circle cx="1269.7" cy="619.8" r="7.1"/>
<circle cx="351.2" cy="349.8" r="7.1"/>
<circle cx="1219.6" cy="577.0" r="7.1"/>
<circle cx="1140.0" cy="615.3" r="7.1"/>
<circle cx="707.6" cy="417.8" r="7.1"/>
<circle cx="1088.9" cy="600.3" r="7.1"/>
<circle cx="943.0" cy="609.3" r="7.1"/>
<circle cx="1289.9" cy="559.4" r="7.1"/>
<circle cx="777.3" cy="593.2" r="7.1"/>
<circle cx="687.1" cy="428.5" r="7.1"/>
<circle cx="445.5" cy="248.8" r="7.1"/>
<circle cx="1030.9" cy="608.9" r="7.1"/>
<circle cx="1065.3" cy="598.8" r="7.1"/>
<circle cx="603.1" cy="366.4" r="7.1"/>
<circle cx="1266.3" cy="595.4" r="7.1"/>
<circle cx="747.0" cy="575.4" r="7.1"/>
<circle cx="1031.5" cy="688.8" r="7.1"/>
<circle cx="1045.7" cy="580.5" r="7.1"/>
<circle cx="606.3" cy="348.7" r="7.1"/>
<circle cx="1163.5" cy="608.7" r="7.1"/>
<circle cx="1218.2" cy="557.6" r="7.1"/>
<circle cx="1203.6" cy="585.0" r="7.1"/>
<circle cx="1260.0" cy="570.3" r="7.1"/>
<circle cx="568.7" cy="323.6" r="7.1"/>
<circle cx="466.2" cy="275.7" r="7.1"/>
<circle cx="546.2" cy="348.5" r="7.1"/>
<circle cx="1263.2" cy="611.9" r="7.1"/>
<circle cx="976.8" cy="578.6" r="7.1"/>
<circle cx="443.3" cy="242.1" r="7.1"/>
<circle cx="1149.1" cy="565.5" r="7.1"/>
<circle cx="472.5" cy="243.5" r="7.1"/>
<circle cx="1037.0" cy="601.6" r="7.1"/>
<circle cx="1189.6" cy="563.2" r="7.1"/>
<circle cx="383.2" cy="249.7" r="7.1"/>
<circle cx="466.3" cy="250.7" r="7.1"/>
<circle cx="1175.2" cy="601.0" r="7.1"/>
<circle cx="943.0" cy="560.6" r="7.1"/>
<circle cx="474.8" cy="275.4" r="7.1"/>
<circle cx="202.2" cy="288.7" r="7.1"/>
<circle cx="329.7" cy="354.9" r="7.1"/>
<circle cx="684.9" cy="411.8" r="7.1"/>
<circle cx="468.0" cy="257.8" r="7.1"/>
<circle cx="646.2" cy="417.0" r="7.1"/>
<circle cx="1260.1" cy="569.7" r="7.1"/>
<circle cx="427.0" cy="270.0" r="7.1"/>
<circle cx="691.3" cy="359.6" r="7.1"/>
<circle cx="1267.7" cy="598.7" r="7.1"/>
<circle cx="230.0" cy="259.9" r="7.1"/>
<circle cx="900.5" cy="617.0" r="7.1"/>
<circle cx="897.1" cy="600.8" r="7.1"/>
<circle cx="1061.2" cy="553.5" r="7.1"/>
<circle cx="564.2" cy="383.8" r="7.1"/>
<circle cx="1034.7" cy="569.7" r="7.1"/>
<circle cx="1004.7" cy="597.1" r="7.1"/>
<circle cx="1279.3" cy="584.8" r="7.1"/>
<circle cx="1010.4" cy="602.5" r="7.1"/>
<circle cx="251.2" cy="250.0" r="7.1"/>
<circle cx="346.7" cy="394.2" r="7.1"/>
<circle cx="455.8" cy="275.5" r="7.1"/>
<circle cx="231.3" cy="252.2" r="7.1"/>
<circle cx="597.6" cy="370.8" r="7.1"/>
<circle cx="1030.8" cy="621.7" r="7.1"/>
<circle cx="594.2" cy="320.0" r="7.1"/>
<circle cx="653.3" cy="415.6" r="7.1"/>
<circle cx="978.4" cy="591.5" r="7.1"/>
<circle cx="767.8" cy="575.7" r="7.1"/>
<circle cx="547.7" cy="329.4" r="7.1"/>
<circle cx="994.3" cy="589.0" r="7.1"/>
<circle cx="1056.9" cy="553.3" r="7.1"/>
<circle cx="1209.7" cy="561.3" r="7.1"/>
<circle cx="1133.9" cy="577.7" r="7.1"/>
<circle cx="772.2" cy="591.4" r="7.1"/>
<circle cx="675.1" cy="416.4" r="7.1"/>
<circle cx="590.0" cy="277.3" r="7.1"/>
<circle cx="1059.6" cy="572.8" r="7.1"/>
<circle cx="735.2" cy="414.3" r="7.1"/>
<circle cx="293.5" cy="229.8" r="7.1"/>
<circle cx="776.5" cy="587.7" r="7.1"/>
<circle cx="413.4" cy="257.0" r="7.1"/>
<circle cx="957.3" cy="574.1" r="7.1"/>
<circle cx="1055.0" cy="578.1" r="7.1"/>
<circle cx="982.2" cy="588.8" r="7.1"/>
<circle cx="653.4" cy="428.4" r="7.1"/>
<circle cx="414.0" cy="282.0" r="7.1"/>
<circle cx="1197.2" cy="577.1" r="7.1"/>
<circle cx="989.6" cy="582.4" r="7.1"/>
<circle cx="1230.4" cy="587.4" r="7.1"/>
<circle cx="230.0" cy="259.9" r="7.1"/>
<circle cx="414.1" cy="258.3" r="7.1"/>
<circle cx="782.7" cy="591.2" r="7.1"/>
<circle cx="1173.2" cy="584.1" r="7.1"/>
<circle cx="1272.1" cy="574.1" r="7.1"/>
<circle cx="997.0" cy="607.0" r="7.1"/>
<circle cx="1274.9" cy="610.2" r="7.1"/>
<circle cx="1227.9" cy="590.5" r="7.1"/>
<circle cx="372.9" cy="251.5" r="7.1"/>
<circle cx="992.3" cy="599.7" r="7.1"/>
<circle cx="586.4" cy="338.1" r="7.1"/>
<circle cx="318.0" cy="226.0" r="7.1"/>
<circle cx="1177.8" cy="580.4" r="7.1"/>
<circle cx="1030.9" cy="619.0" r="7.1"/>
<circle cx="255.4" cy="221.1" r="7.1"/>
<circle cx="1274.1" cy="587.8" r="7.1"/>
<circle cx="619.9" cy="314.1" r="7.1"/>
<circle cx="1219.6" cy="562.2" r="7.1"/>
<circle cx="368.0" cy="288.2" r="7.1"/>
<circle cx="348.0" cy="377.1" r="7.1"/>
<circle cx="574.2" cy="359.4" r="7.1"/>
<circle cx="341.5" cy="339.0" r="7.1"/>
<circle cx="953.4" cy="578.6" r="7.1"/>
<circle cx="1212.0" cy="575.5" r="7.1"/>
<circle cx="348.1" cy="401.7" r="7.1"/>
<circle cx="844.8" cy="578.7" r="7.1"/>
<circle cx="799.0" cy="601.2" r="7.1"/>
<circle cx="1194.6" cy="511.7" r="7.1"/>
<circle cx="861.1" cy="575.0" r="7.1"/>
<circle cx="594.9" cy="376.3" r="7.1"/>
<circle cx="1132.1" cy="559.5" r="7.1"/>
<circle cx="1050.0" cy="561.5" r="7.1"/>
<circle cx="1154.4" cy="583.7" r="7.1"/>
<circle cx="524.8" cy="278.3" r="7.1"/>
<circle cx="644.6" cy="424.5" r="7.1"/>
<circle cx="383.3" cy="279.0" r="7.1"/>
<circle cx="640.4" cy="369.0" r="7.1"/>
<circle cx="501.5" cy="240.6" r="7.1"/>
<circle cx="1254.7" cy="576.3" r="7.1"/>
<circle cx="975.4" cy="566.1" r="7.1"/>
<circle cx="1003.1" cy="593.7" r="7.1"/>
<circle cx="828.1" cy="574.9" r="7.1"/>
<circle cx="1170.7" cy="561.1" r="7.1"/>
<circle cx="728.9" cy="420.2" r="7.1"/>
<circle cx="684.0" cy="399.8" r="7.1"/>
<circle cx="756.1" cy="577.7" r="7.1"/>
<circle cx="658.0" cy="347.0" r="7.1"/>
<circle cx="594.3" cy="371.0" r="7.1"/>
<circle cx="1124.7" cy="560.1" r="7.1"/>
<circle cx="271.0" cy="258.3" r="7.1"/>
<circle cx="351.2" cy="351.9" r="7.1"/>
<circle cx="718.0" cy="433.0" r="7.1"/>
<circle cx="1274.1" cy="604.8" r="7.1"/>
<circle cx="754.6" cy="583.8" r="7.1"/>
<circle cx="460.2" cy="259.9" r="7.1"/>
<circle cx="638.3" cy="409.0" r="7.1"/>
<circle cx="202.2" cy="278.6" r="7.1"/>
<circle cx="247.7" cy="253.9" r="7.1"/>
<circle cx="651.3" cy="412.4" r="7.1"/>
<circle cx="217.9" cy="264.1" r="7.1"/>
<circle cx="314.2" cy="398.2" r="7.1"/>
<circle cx="472.4" cy="264.6" r="7.1"/>
<circle cx="1170.8" cy="584.2" r="7.1"/>
<circle cx="910.6" cy="601.8" r="7.1"/>
<circle cx="1223.9" cy="574.8" r="7.1"/>
<circle cx="631.0" cy="391.8" r="7.1"/>
<circle cx="366.9" cy="225.7" r="7.1"/>
<circle cx="669.6" cy="434.4" r="7.1"/>
<circle cx="274.0" cy="229.4" r="7.1"/>
<circle cx="339.3" cy="388.1" r="7.1"/>
<circle cx="419.7" cy="257.1" r="7.1"/>
<circle cx="1150.4" cy="572.6" r="7.1"/>
<circle cx="1045.7" cy="639.0" r="7.1"/>
<circle cx="1187.5" cy="580.2" r="7.1"/>
<circle cx="823.0" cy="530.0" r="7.1"/>
<circle cx="1147.2" cy="538.4" r="7.1"/>
<circle cx="299.2" cy="264.3" r="7.1"/>
<circle cx="794.3" cy="598.4" r="7.1"/>
<circle cx="567.0" cy="344.2" r="7.1"/>
<circle cx="1137.4" cy="565.0" r="7.1"/>
<circle cx="951.1" cy="563.0" r="7.1"/>
<circle cx="674.0" cy="341.0" r="7.1"/>
<circle cx="669.6" cy="428.9" r="7.1"/>
<circle cx="1128.5" cy="562.6" r="7.1"/>
<circle cx="339.3" cy="348.8" r="7.1"/>
<circle cx="913.1" cy="576.2" r="7.1"/>
<circle cx="660.6" cy="402.3" r="7.1"/>
<circle cx="938.3" cy="617.0" r="7.1"/>
<circle cx="859.8" cy="625.2" r="7.1"/>
<circle cx="679.8" cy="408.2" r="7.1"/>
<circle cx="480.5" cy="260.4" r="7.1"/>
<circle cx="927.0" cy="517.0" r="7.1"/>
<circle cx="693.1" cy="444.1" r="7.1"/>
<circle cx="638.3" cy="397.2" r="7.1"/>
<circle cx="445.5" cy="241.8" r="7.1"/>
<circle cx="799.0" cy="564.1" r="7.1"/>
<circle cx="560.7" cy="337.6" r="7.1"/>
<circle cx="1027.0" cy="662.0" r="7.1"/>
<circle cx="737.5" cy="434.4" r="7.1"/>
<circle cx="1170.7" cy="571.5" r="7.1"/>
<circle cx="820.8" cy="581.8" r="7.1"/>
<circle cx="900.5" cy="592.9" r="7.1"/>
<circle cx="751.3" cy="588.8" r="7.1"/>
<circle cx="512.4" cy="232.7" r="7.1"/>
<circle cx="857.1" cy="558.2" r="7.1"/>
<circle cx="1020.0" cy="576.7" r="7.1"/>
<circle cx="791.7" cy="604.4" r="7.1"/>
<circle cx="1212.0" cy="609.2" r="7.1"/>
<circle cx="607.8" cy="313.8" r="7.1"/>
<circle cx="1086.7" cy="587.5" r="7.1"/>
<circle cx="620.5" cy="340.8" r="7.1"/>
<circle cx="1183.0" cy="580.4" r="7.1"/>
<circle cx="697.9" cy="397.7" r="7.1"/>
<circle cx="413.4" cy="234.9" r="7.1"/>
<circle cx="1000.0" cy="624.3" r="7.1"/>
<circle cx="678.0" cy="394.2" r="7.1"/>
<circle cx="1140.0" cy="579.4" r="7.1"/>
<circle cx="303.4" cy="370.9" r="7.1"/>
<circle cx="405.3" cy="288.3" r="7.1"/>
<circle cx="460.2" cy="244.9" r="7.1"/>
<circle cx="1143.0" cy="598.8" r="7.1"/>
<circle cx="527.9" cy="152.8" r="7.1"/>
<circle cx="853.8" cy="584.4" r="7.1"/>
<circle cx="385.3" cy="246.9" r="7.1"/>
<circle cx="644.6" cy="398.6" r="7.1"/>
<circle cx="392.3" cy="262.7" r="7.1"/>
<circle cx="613.8" cy="358.0" r="7.1"/>
<circle cx="1257.1" cy="577.0" r="7.1"/>
<circle cx="1039.5" cy="576.8" r="7.1"/>
<circle cx="1140.0" cy="550.6" r="7.1"/>
<circle cx="318.0" cy="357.9" r="7.1"/>
<circle cx="731.3" cy="387.9" r="7.1"/>
<circle cx="327.6" cy="294.0" r="7.1"/>
<circle cx="1277.1" cy="600.1" r="7.1"/>
<circle cx="1018.0" cy="591.2" r="7.1"/>
<circle cx="819.0" cy="578.3" r="7.1"/>
<circle cx="335.9" cy="383.3" r="7.1"/>
<circle cx="976.9" cy="570.1" r="7.1"/>
<circle cx="468.1" cy="232.3" r="7.1"/>
<circle cx="679.7" cy="409.9" r="7.1"/>
<circle cx="844.9" cy="595.0" r="7.1"/>
<circle cx="381.1" cy="248.8" r="7.1"/>
<circle cx="815.5" cy="592.2" r="7.1"/>
<circle cx="733.1" cy="428.6" r="7.1"/>
<circle cx="1250.5" cy="604.8" r="7.1"/>
<circle cx="711.1" cy="395.4" r="7.1"/>
<circle cx="657.2" cy="397.6" r="7.1"/>
<circle cx="1197.2" cy="596.7" r="7.1"/>
<circle cx="1150.4" cy="566.9" r="7.1"/>
<circle cx="751.4" cy="596.7" r="7.1"/>
<circle cx="966.0" cy="544.3" r="7.1"/>
<circle cx="839.0" cy="569.4" r="7.1"/>
<circle cx="423.8" cy="247.4" r="7.1"/>
<circle cx="1264.8" cy="568.1" r="7.1"/>
<circle cx="620.4" cy="326.5" r="7.1"/>
<circle cx="1264.8" cy="594.5" r="7.1"/>
<circle cx="936.3" cy="563.3" r="7.1"/>
<circle cx="992.3" cy="562.0" r="7.1"/>
<circle cx="1140.0" cy="583.0" r="7.1"/>
<circle cx="1177.5" cy="665.0" r="7.1"/>
<circle cx="1284.1" cy="560.7" r="7.1"/>
<circle cx="700.7" cy="373.6" r="7.1"/>
<circle cx="750.0" cy="601.7" r="7.1"/>
<circle cx="849.8" cy="623.8" r="7.1"/>
<circle cx="1053.2" cy="608.1" r="7.1"/>
<circle cx="678.0" cy="396.9" r="7.1"/>
<circle cx="249.3" cy="201.3" r="7.1"/>
<circle cx="943.0" cy="613.2" r="7.1"/>
<circle cx="510.0" cy="269.0" r="7.1"/>
<circle cx="423.9" cy="254.6" r="7.1"/>
<circle cx="691.2" cy="396.7" r="7.1"/>
<circle cx="832.5" cy="640.0" r="7.1"/>
<circle cx="889.7" cy="580.5" r="7.1"/>
<circle cx="1053.1" cy="614.7" r="7.1"/>
<circle cx="1088.8" cy="605.5" r="7.1"/>
<circle cx="1250.5" cy="544.7" r="7.1"/>
<circle cx="327.0" cy="254.0" r="7.1"/>
<circle cx="205.0" cy="255.1" r="7.1"/>
<circle cx="578.0" cy="369.3" r="7.1"/>
<circle cx="1218.2" cy="608.8" r="7.1"/>
<circle cx="290.5" cy="270.4" r="7.1"/>
<circle cx="192.6" cy="214.0" r="7.1"/>
<circle cx="840.5" cy="592.6" r="7.1"/>
<circle cx="1028.5" cy="589.9" r="7.1"/>
<circle cx="921.3" cy="587.8" r="7.1"/>
<circle cx="1047.2" cy="585.6" r="7.1"/>
<circle cx="1088.9" cy="607.6" r="7.1"/>
<circle cx="462.4" cy="273.0" r="7.1"/>
<circle cx="1294.5" cy="619.1" r="7.1"/>
<circle cx="197.8" cy="272.7" r="7.1"/>
<circle cx="1218.2" cy="593.6" r="7.1"/>
<circle cx="631.0" cy="396.4" r="7.1"/>
<circle cx="819.0" cy="583.1" r="7.1"/>
<circle cx="1286.5" cy="579.0" r="7.1"/>
<circle cx="991.6" cy="593.9" r="7.1"/>
<circle cx="981.3" cy="565.5" r="7.1"/>
<circle cx="571.8" cy="390.2" r="7.1"/>
<circle cx="327.6" cy="270.0" r="7.1"/>
<circle cx="487.1" cy="277.2" r="7.1"/>
<circle cx="221.5" cy="247.6" r="7.1"/>
<circle cx="226.4" cy="271.5" r="7.1"/>
<circle cx="1207.8" cy="617.0" r="7.1"/>
<circle cx="986.6" cy="589.9" r="7.1"/>
<circle cx="476.0" cy="274.3" r="7.1"/>
<circle cx="662.0" cy="390.0" r="7.1"/>
<circle cx="620.5" cy="344.6" r="7.1"/>
<circle cx="1230.5" cy="600.4" r="7.1"/>
<circle cx="925.2" cy="549.2" r="7.1"/>
<circle cx="715.7" cy="402.6" r="7.1"/>
<circle cx="1203.7" cy="591.3" r="7.1"/>
<circle cx="867.5" cy="609.2" r="7.1"/>
<circle cx="199.7" cy="264.4" r="7.1"/>
<circle cx="312.1" cy="360.2" r="7.1"/>
<circle cx="1018.1" cy="609.7" r="7.1"/>
<circle cx="1286.4" cy="613.5" r="7.1"/>
<circle cx="740.2" cy="416.6" r="7.1"/>
<circle cx="521.8" cy="259.4" r="7.1"/>
<circle cx="1000.0" cy="620.2" r="7.1"/>
<circle cx="1259.4" cy="626.6" r="7.1"/>
<circle cx="611.6" cy="375.9" r="7.1"/>
<circle cx="1130.5" cy="593.1" r="7.1"/>
<circle cx="849.9" cy="614.3" r="7.1"/>
<circle cx="1187.5" cy="580.1" r="7.1"/>
<circle cx="1257.1" cy="620.4" r="7.1"/>
<circle cx="1223.9" cy="624.7" r="7.1"/>
<circle cx="675.1" cy="429.5" r="7.1"/>
<circle cx="943.1" cy="633.3" r="7.1"/>
<circle cx="750.0" cy="623.0" r="7.1"/>
<circle cx="1203.8" cy="578.1" r="7.1"/>
<circle cx="1156.9" cy="593.4" r="7.1"/>
<circle cx="844.0" cy="573.0" r="7.1"/>
<circle cx="991.7" cy="541.1" r="7.1"/>
<circle cx="510.1" cy="298.6" r="7.1"/>
<circle cx="555.0" cy="342.5" r="7.1"/>
<circle cx="959.5" cy="584.0" r="7.1"/>
<circle cx="628.0" cy="409.8" r="7.1"/>
<circle cx="769.5" cy="549.8" r="7.1"/>
<circle cx="1145.4" cy="660.8" r="7.1"/>
<circle cx="1083.7" cy="581.5" r="7.1"/>
<circle cx="622.3" cy="276.5" r="7.1"/>
<circle cx="220.5" cy="251.7" r="7.1"/>
<circle cx="849.9" cy="612.7" r="7.1"/>
<circle cx="592.4" cy="221.7" r="7.1"/>
<circle cx="733.1" cy="406.1" r="7.1"/>
<circle cx="1082.8" cy="599.7" r="7.1"/>
<circle cx="1066.6" cy="580.8" r="7.1"/>
<circle cx="746.9" cy="546.2" r="7.1"/>
<circle cx="973.2" cy="565.1" r="7.1"/>
<circle cx="267.5" cy="272.7" r="7.1"/>
<circle cx="626.6" cy="289.6" r="7.1"/>
<circle cx="975.3" cy="520.1" r="7.1"/>
<circle cx="1277.2" cy="617.4" r="7.1"/>
<circle cx="1203.7" cy="584.5" r="7.1"/>
<circle cx="1080.1" cy="582.5" r="7.1"/>
<circle cx="834.3" cy="587.7" r="7.1"/>
<circle cx="864.2" cy="581.1" r="7.1"/>
<circle cx="1290.0" cy="575.2" r="7.1"/>
<circle cx="799.0" cy="563.6" r="7.1"/>
<circle cx="1227.8" cy="587.7" r="7.1"/>
<circle cx="267.5" cy="222.5" r="7.1"/>
<circle cx="853.8" cy="574.5" r="7.1"/>
<circle cx="240.6" cy="255.2" r="7.1"/>
<circle cx="496.6" cy="271.4" r="7.1"/>
<circle cx="1022.3" cy="611.8" r="7.1"/>
<circle cx="196.3" cy="272.2" r="7.1"/>
<circle cx="825.0" cy="561.9" r="7.1"/>
<circle cx="480.5" cy="263.7" r="7.1"/>
<circle cx="263.8" cy="245.8" r="7.1"/>
<circle cx="343.0" cy="346.7" r="7.1"/>
<circle cx="617.1" cy="379.6" r="7.1"/>
<circle cx="337.5" cy="374.4" r="7.1"/>
<circle cx="1161.8" cy="595.0" r="7.1"/>
<circle cx="861.1" cy="602.2" r="7.1"/>
<circle cx="1189.7" cy="603.7" r="7.1"/>
<circle cx="724.1" cy="466.1" r="7.1"/>
<circle cx="1284.1" cy="567.8" r="7.1"/>
<circle cx="231.3" cy="231.2" r="7.1"/>
<circle cx="298.1" cy="261.9" r="7.1"/>
<circle cx="604.4" cy="384.1" r="7.1"/>
<circle cx="1260.1" cy="594.4" r="7.1"/>
<circle cx="799.0" cy="596.9" r="7.1"/>
<circle cx="581.0" cy="341.6" r="7.1"/>
<circle cx="1259.3" cy="623.9" r="7.1"/>
<circle cx="221.4" cy="266.5" r="7.1"/>
<circle cx="844.9" cy="569.4" r="7.1"/>
<circle cx="1053.2" cy="599.3" r="7.1"/>
<circle cx="687.1" cy="467.1" r="7.1"/>
<circle cx="1289.9" cy="590.5" r="7.1"/>
<circle cx="1090.9" cy="591.5" r="7.1"/>
<circle cx="721.1" cy="425.9" r="7.1"/>
<circle cx="825.0" cy="615.0" r="7.1"/>
<circle cx="867.5" cy="598.2" r="7.1"/>
<circle cx="338.1" cy="356.8" r="7.1"/>
<circle cx="1140.1" cy="595.5" r="7.1"/>
<circle cx="791.8" cy="575.3" r="7.1"/>
<circle cx="943.0" cy="550.8" r="7.1"/>
<circle cx="327.0" cy="354.4" r="7.1"/>
<circle cx="642.7" cy="419.9" r="7.1"/>
<circle cx="1209.6" cy="615.0" r="7.1"/>
<circle cx="1045.7" cy="600.8" r="7.1"/>
<circle cx="567.0" cy="333.8" r="7.1"/>
<circle cx="489.7" cy="292.0" r="7.1"/>
<circle cx="302.6" cy="269.5" r="7.1"/>
<circle cx="407.7" cy="248.8" r="7.1"/>
<circle cx="620.4" cy="320.8" r="7.1"/>
<circle cx="744.0" cy="582.1" r="7.1"/>
<circle cx="1182.9" cy="604.1" r="7.1"/>
<circle cx="238.5" cy="263.9" r="7.1"/>
<circle cx="1055.0" cy="529.8" r="7.1"/>
<circle cx="333.0" cy="374.2" r="7.1"/>
<circle cx="864.3" cy="587.0" r="7.1"/>
<circle cx="1189.7" cy="600.2" r="7.1"/>
<circle cx="1164.4" cy="586.3" r="7.1"/>
<circle cx="360.5" cy="276.6" r="7.1"/>
<circle cx="286.9" cy="276.6" r="7.1"/>
<circle cx="679.8" cy="408.2" r="7.1"/>
<circle cx="921.2" cy="582.6" r="7.1"/>
<circle cx="1288.4" cy="604.0" r="7.1"/>
<circle cx="925.2" cy="590.9" r="7.1"/>
<circle cx="1286.4" cy="572.9" r="7.1"/>
<circle cx="673.7" cy="382.0" r="7.1"/>
<circle cx="263.7" cy="264.5" r="7.1"/>
<circle cx="1135.9" cy="584.7" r="7.1"/>
<circle cx="758.8" cy="608.9" r="7.1"/>
<circle cx="904.0" cy="565.2" r="7.1"/>
<circle cx="265.6" cy="235.9" r="7.1"/>
<circle cx="1150.5" cy="587.8" r="7.1"/>
<circle cx="381.2" cy="251.7" r="7.1"/>
<circle cx="867.5" cy="572.1" r="7.1"/>
<circle cx="517.0" cy="282.3" r="7.1"/>
<circle cx="1266.3" cy="589.9" r="7.1"/>
<circle cx="822.5" cy="584.8" r="7.1"/>
<circle cx="231.3" cy="245.6" r="7.1"/>
<circle cx="791.8" cy="588.3" r="7.1"/>
<circle cx="409.7" cy="276.7" r="7.1"/>
<circle cx="1143.0" cy="577.2" r="7.1"/>
<circle cx="651.4" cy="388.6" r="7.1"/>
<circle cx="558.9" cy="383.7" r="7.1"/>
<circle cx="1175.2" cy="608.3" r="7.1"/>
<circle cx="531.4" cy="150.9" r="7.1"/>
<circle cx="480.5" cy="266.7" r="7.1"/>
<circle cx="836.3" cy="605.6" r="7.1"/>
<circle cx="936.2" cy="574.9" r="7.1"/>
<circle cx="620.5" cy="378.7" r="7.1"/>
<circle cx="1070.9" cy="591.3" r="7.1"/>
<circle cx="943.0" cy="589.5" r="7.1"/>
<circle cx="546.2" cy="338.2" r="7.1"/>
<circle cx="840.6" cy="574.0" r="7.1"/>
<circle cx="413.4" cy="257.1" r="7.1"/>
<circle cx="642.7" cy="393.6" r="7.1"/>
<circle cx="1158.9" cy="625.4" r="7.1"/>
<circle cx="780.5" cy="569.4" r="7.1"/>
<circle cx="1189.6" cy="599.4" r="7.1"/>
<circle cx="470.6" cy="271.0" r="7.1"/>
<circle cx="684.9" cy="397.1" r="7.1"/>
<circle cx="638.3" cy="398.8" r="7.1"/>
<circle cx="773.2" cy="570.7" r="7.1"/>
<circle cx="859.8" cy="561.6" r="7.1"/>
<circle cx="379.0" cy="269.5" r="7.1"/>
<circle cx="423.8" cy="240.8" r="7.1"/>
<circle cx="1055.0" cy="572.0" r="7.1"/>
<circle cx="1039.5" cy="622.3" r="7.1"/>
<circle cx="419.7" cy="216.0" r="7.1"/>
<circle cx="1098.3" cy="586.0" r="7.1"/>
<circle cx="1050.0" cy="569.2" r="7.1"/>
<circle cx="1272.1" cy="596.1" r="7.1"/>
<circle cx="1227.8" cy="589.2" r="7.1"/>
<circle cx="1133.9" cy="605.4" r="7.1"/>
<circle cx="544.9" cy="370.5" r="7.1"/>
<circle cx="378.9" cy="276.4" r="7.1"/>
<circle cx="994.3" cy="575.4" r="7.1"/>
<circle cx="550.0" cy="338.5" r="7.1"/>
<circle cx="1066.6" cy="583.6" r="7.1"/>
<circle cx="983.5" cy="520.0" r="7.1"/>
<circle cx="335.8" cy="331.5" r="7.1"/>
<circle cx="373.0" cy="263.3" r="7.1"/>
<circle cx="449.9" cy="270.1" r="7.1"/>
<circle cx="532.3" cy="142.9" r="7.1"/>
<circle cx="204.9" cy="299.7" r="7.1"/>
<circle cx="504.2" cy="235.4" r="7.1"/>
<circle cx="480.5" cy="253.7" r="7.1"/>
<circle cx="368.0" cy="282.7" r="7.1"/>
<circle cx="420.9" cy="275.1" r="7.1"/>
<circle cx="1044.4" cy="626.9" r="7.1"/>
<circle cx="892.9" cy="588.3" r="7.1"/>
<circle cx="865.8" cy="586.5" r="7.1"/>
<circle cx="292.0" cy="310.4" r="7.1"/>
<circle cx="476.0" cy="259.0" r="7.1"/>
<circle cx="413.4" cy="213.0" r="7.1"/>
<circle cx="445.4" cy="216.9" r="7.1"/>
<circle cx="719.5" cy="413.8" r="7.1"/>
<circle cx="423.9" cy="257.0" r="7.1"/>
<circle cx="468.1" cy="252.8" r="7.1"/>
<circle cx="638.3" cy="408.7" r="7.1"/>
<circle cx="1026.4" cy="619.5" r="7.1"/>
<circle cx="312.1" cy="380.0" r="7.1"/>
<circle cx="414.0" cy="274.6" r="7.1"/>
<circle cx="1181.5" cy="554.2" r="7.1"/>
<circle cx="251.1" cy="243.7" r="7.1"/>
<circle cx="541.0" cy="331.2" r="7.1"/>
<circle cx="1045.7" cy="602.6" r="7.1"/>
<circle cx="1173.3" cy="609.7" r="7.1"/>
<circle cx="576.2" cy="375.5" r="7.1"/>
<circle cx="1130.6" cy="612.7" r="7.1"/>
<circle cx="338.1" cy="386.0" r="7.1"/>
<circle cx="1284.1" cy="592.3" r="7.1"/>
<circle cx="319.4" cy="347.7" r="7.1"/>
<circle cx="1267.8" cy="626.6" r="7.1"/>
<circle cx="439.5" cy="277.9" r="7.1"/>
<circle cx="767.8" cy="569.3" r="7.1"/>
<circle cx="1120.5" cy="576.1" r="7.1"/>
<circle cx="1177.7" cy="575.9" r="7.1"/>
<circle cx="574.1" cy="327.9" r="7.1"/>
<circle cx="684.0" cy="428.2" r="7.1"/>
<circle cx="664.3" cy="434.0" r="7.1"/>
<circle cx="189.0" cy="240.0" r="7.1"/>
<circle cx="786.2" cy="550.1" r="7.1"/>
<circle cx="943.0" cy="559.9" r="7.1"/>
<circle cx="1010.4" cy="596.1" r="7.1"/>
<circle cx="454.2" cy="260.4" r="7.1"/>
<circle cx="904.0" cy="585.2" r="7.1"/>
<circle cx="370.0" cy="234.2" r="7.1"/>
<circle cx="524.9" cy="266.1" r="7.1"/>
<circle cx="566.0" cy="430.0" r="7.1"/>
<circle cx="447.0" cy="253.7" r="7.1"/>
<circle cx="642.7" cy="392.1" r="7.1"/>
<circle cx="319.4" cy="372.1" r="7.1"/>
<circle cx="978.4" cy="576.3" r="7.1"/>
<circle cx="569.5" cy="351.0" r="7.1"/>
<circle cx="439.5" cy="237.6" r="7.1"/>
<circle cx="715.7" cy="390.1" r="7.1"/>
<circle cx="646.2" cy="388.8" r="7.1"/>
<circle cx="892.9" cy="603.3" r="7.1"/>
<circle cx="1218.2" cy="600.9" r="7.1"/>
<circle cx="466.1" cy="229.4" r="7.1"/>
<circle cx="551.9" cy="343.9" r="7.1"/>
<circle cx="1128.6" cy="548.2" r="7.1"/>
<circle cx="1277.1" cy="566.5" r="7.1"/>
<circle cx="545.0" cy="374.3" r="7.1"/>
<circle cx="976.8" cy="570.4" r="7.1"/>
<circle cx="364.8" cy="271.7" r="7.1"/>
<circle cx="728.8" cy="432.7" r="7.1"/>
<circle cx="861.2" cy="601.1" r="7.1"/>
<circle cx="1280.9" cy="615.5" r="7.1"/>
<circle cx="1189.6" cy="545.9" r="7.1"/>
<circle cx="675.1" cy="415.5" r="7.1"/>
<circle cx="1059.6" cy="591.3" r="7.1"/>
<circle cx="1059.6" cy="584.8" r="7.1"/>
<circle cx="1022.2" cy="619.2" r="7.1"/>
<circle cx="585.4" cy="297.1" r="7.1"/>
<circle cx="202.2" cy="217.2" r="7.1"/>
<circle cx="1269.7" cy="563.2" r="7.1"/>
<circle cx="439.5" cy="282.7" r="7.1"/>
<circle cx="751.3" cy="574.9" r="7.1"/>
<circle cx="992.0" cy="525.0" r="7.1"/>
<circle cx="364.7" cy="290.7" r="7.1"/>
<circle cx="202.2" cy="307.1" r="7.1"/>
<circle cx="691.3" cy="423.7" r="7.1"/>
<circle cx="917.1" cy="590.9" r="7.1"/>
<circle cx="607.7" cy="357.9" r="7.1"/>
<circle cx="450.0" cy="236.0" r="7.1"/>
<circle cx="782.7" cy="603.1" r="7.1"/>
<circle cx="392.3" cy="248.1" r="7.1"/>
<circle cx="1006.6" cy="587.4" r="7.1"/>
<circle cx="1270.0" cy="655.0" r="7.1"/>
<circle cx="1218.2" cy="556.4" r="7.1"/>
<circle cx="1202.0" cy="511.7" r="7.1"/>
<circle cx="1147.2" cy="604.4" r="7.1"/>
<circle cx="849.9" cy="616.9" r="7.1"/>
<circle cx="986.7" cy="575.7" r="7.1"/>
<circle cx="1066.6" cy="537.4" r="7.1"/>
<circle cx="699.4" cy="421.6" r="7.1"/>
<circle cx="761.0" cy="554.3" r="7.1"/>
<circle cx="1274.1" cy="578.1" r="7.1"/>
<circle cx="1094.3" cy="589.3" r="7.1"/>
<circle cx="308.3" cy="344.0" r="7.1"/>
<circle cx="832.5" cy="649.0" r="7.1"/>
<circle cx="1072.1" cy="569.4" r="7.1"/>
<circle cx="494.7" cy="277.9" r="7.1"/>
<circle cx="318.0" cy="371.6" r="7.1"/>
<circle cx="385.3" cy="268.8" r="7.1"/>
<circle cx="844.0" cy="582.7" r="7.1"/>
<circle cx="517.0" cy="252.1" r="7.1"/>
<circle cx="231.3" cy="246.9" r="7.1"/>
<circle cx="1199.2" cy="580.7" r="7.1"/>
<circle cx="462.4" cy="273.4" r="7.1"/>
<circle cx="490.7" cy="180.6" r="7.1"/>
<circle cx="959.6" cy="566.4" r="7.1"/>
<circle cx="564.2" cy="364.6" r="7.1"/>
<circle cx="337.5" cy="346.1" r="7.1"/>
<circle cx="644.6" cy="391.1" r="7.1"/>
<circle cx="719.5" cy="405.1" r="7.1"/>
<circle cx="713.8" cy="403.5" r="7.1"/>
<circle cx="492.8" cy="268.1" r="7.1"/>
<circle cx="895.8" cy="578.8" r="7.1"/>
<circle cx="813.0" cy="563.0" r="7.1"/>
<circle cx="820.8" cy="556.7" r="7.1"/>
<circle cx="395.4" cy="137.7" r="7.1"/>
<circle cx="715.7" cy="400.9" r="7.1"/>
<circle cx="1154.4" cy="575.1" r="7.1"/>
<circle cx="687.1" cy="428.0" r="7.1"/>
<circle cx="978.4" cy="534.0" r="7.1"/>
<circle cx="1260.2" cy="590.1" r="7.1"/>
<circle cx="533.8" cy="171.1" r="7.1"/>
<circle cx="1137.4" cy="623.7" r="7.1"/>
<circle cx="586.4" cy="366.9" r="7.1"/>
<circle cx="1201.9" cy="614.3" r="7.1"/>
<circle cx="476.0" cy="286.4" r="7.1"/>
<circle cx="1126.9" cy="593.3" r="7.1"/>
<circle cx="381.2" cy="259.3" r="7.1"/>
<circle cx="1028.5" cy="571.5" r="7.1"/>
<circle cx="1126.0" cy="492.0" r="7.1"/>
<circle cx="1175.3" cy="571.9" r="7.1"/>
<circle cx="1140.1" cy="588.1" r="7.1"/>
<circle cx="864.3" cy="563.3" r="7.1"/>
<circle cx="1000.0" cy="605.5" r="7.1"/>
<circle cx="1173.2" cy="575.9" r="7.1"/>
<circle cx="1227.9" cy="591.0" r="7.1"/>
<circle cx="1033.6" cy="598.4" r="7.1"/>
<circle cx="1123.1" cy="577.9" r="7.1"/>
<circle cx="472.4" cy="235.1" r="7.1"/>
<circle cx="1055.1" cy="575.9" r="7.1"/>
<circle cx="1181.5" cy="594.4" r="7.1"/>
<circle cx="782.7" cy="594.7" r="7.1"/>
<circle cx="1280.9" cy="605.6" r="7.1"/>
<circle cx="847.5" cy="574.1" r="7.1"/>
<circle cx="991.6" cy="585.9" r="7.1"/>
<circle cx="962.7" cy="546.9" r="7.1"/>
<circle cx="480.5" cy="268.0" r="7.1"/>
<circle cx="750.0" cy="605.8" r="7.1"/>
<circle cx="1201.9" cy="577.0" r="7.1"/>
<circle cx="1183.0" cy="618.6" r="7.1"/>
<circle cx="767.7" cy="588.1" r="7.1"/>
<circle cx="302.7" cy="264.5" r="7.1"/>
<circle cx="341.4" cy="384.4" r="7.1"/>
<circle cx="733.0" cy="398.1" r="7.1"/>
<circle cx="900.5" cy="598.2" r="7.1"/>
<circle cx="825.0" cy="639.7" r="7.1"/>
<circle cx="316.0" cy="351.0" r="7.1"/>
<circle cx="847.6" cy="580.6" r="7.1"/>
<circle cx="1010.4" cy="573.8" r="7.1"/>
<circle cx="701.0" cy="460.0" r="7.1"/>
<circle cx="1044.4" cy="591.3" r="7.1"/>
<circle cx="1274.8" cy="583.2" r="7.1"/>
<circle cx="900.5" cy="604.5" r="7.1"/>
<circle cx="504.8" cy="246.2" r="7.1"/>
<circle cx="443.2" cy="238.8" r="7.1"/>
<circle cx="594.2" cy="351.9" r="7.1"/>
<circle cx="259.9" cy="207.5" r="7.1"/>
<circle cx="1227.8" cy="562.1" r="7.1"/>
<circle cx="1158.8" cy="565.4" r="7.1"/>
<circle cx="1223.9" cy="615.6" r="7.1"/>
<circle cx="711.1" cy="422.2" r="7.1"/>
<circle cx="346.0" cy="262.0" r="7.1"/>
<circle cx="349.2" cy="406.1" r="7.1"/>
<circle cx="581.1" cy="328.9" r="7.1"/>
<circle cx="777.4" cy="528.2" r="7.1"/>
<circle cx="1147.1" cy="588.6" r="7.1"/>
<circle cx="996.9" cy="567.3" r="7.1"/>
<circle cx="600.9" cy="348.3" r="7.1"/>
<circle cx="622.3" cy="380.8" r="7.1"/>
<circle cx="381.0" cy="247.3" r="7.1"/>
<circle cx="1029.8" cy="591.3" r="7.1"/>
<circle cx="555.0" cy="401.5" r="7.1"/>
<circle cx="1006.6" cy="594.4" r="7.1"/>
<circle cx="454.2" cy="244.9" r="7.1"/>
<circle cx="191.7" cy="257.7" r="7.1"/>
<circle cx="1170.7" cy="562.0" r="7.1"/>
<circle cx="870.8" cy="572.9" r="7.1"/>
<circle cx="1216.0" cy="588.6" r="7.1"/>
<circle cx="1223.9" cy="588.0" r="7.1"/>
<circle cx="1086.7" cy="591.9" r="7.1"/>
<circle cx="1124.8" cy="564.8" r="7.1"/>
<circle cx="961.1" cy="557.9" r="7.1"/>
<circle cx="872.3" cy="583.8" r="7.1"/>
<circle cx="740.3" cy="436.5" r="7.1"/>
<circle cx="1134.0" cy="570.0" r="7.1"/>
<circle cx="454.2" cy="278.2" r="7.1"/>
<circle cx="1076.3" cy="596.5" r="7.1"/>
<circle cx="546.3" cy="340.3" r="7.1"/>
<circle cx="620.4" cy="352.4" r="7.1"/>
<circle cx="234.4" cy="226.8" r="7.1"/>
<circle cx="468.1" cy="263.2" r="7.1"/>
<circle cx="982.3" cy="594.8" r="7.1"/>
<circle cx="664.2" cy="414.6" r="7.1"/>
<circle cx="551.9" cy="344.4" r="7.1"/>
<circle cx="1070.9" cy="578.5" r="7.1"/>
<circle cx="1252.9" cy="590.9" r="7.1"/>
<circle cx="1196.0" cy="633.4" r="7.1"/>
<circle cx="1143.0" cy="572.3" r="7.1"/>
<circle cx="1006.6" cy="598.6" r="7.1"/>
<circle cx="1187.5" cy="583.6" r="7.1"/>
<circle cx="607.8" cy="382.6" r="7.1"/>
<circle cx="651.4" cy="359.4" r="7.1"/>
<circle cx="824.0" cy="543.0" r="7.1"/>
<circle cx="319.5" cy="364.9" r="7.1"/>
<circle cx="1263.2" cy="617.6" r="7.1"/>
<circle cx="327.6" cy="278.0" r="7.1"/>
<circle cx="485.6" cy="258.9" r="7.1"/>
<circle cx="819.0" cy="622.0" r="7.1"/>
<circle cx="776.6" cy="595.8" r="7.1"/>
<circle cx="1294.5" cy="592.1" r="7.1"/>
<circle cx="377.7" cy="235.9" r="7.1"/>
<circle cx="861.1" cy="580.3" r="7.1"/>
<circle cx="1168.7" cy="580.9" r="7.1"/>
<circle cx="1294.6" cy="593.9" r="7.1"/>
<circle cx="1014.2" cy="611.2" r="7.1"/>
<circle cx="673.8" cy="435.8" r="7.1"/>
<circle cx="1044.5" cy="558.5" r="7.1"/>
<circle cx="533.8" cy="133.1" r="7.1"/>
<circle cx="401.0" cy="248.7" r="7.1"/>
<circle cx="1135.9" cy="596.0" r="7.1"/>
<circle cx="1028.4" cy="600.2" r="7.1"/>
<circle cx="1288.4" cy="572.6" r="7.1"/>
<circle cx="1225.0" cy="588.9" r="7.1"/>
<circle cx="1190.7" cy="605.0" r="7.1"/>
<circle cx="1264.8" cy="592.6" r="7.1"/>
<circle cx="555.0" cy="395.6" r="7.1"/>
<circle cx="374.6" cy="258.1" r="7.1"/>
<circle cx="986.6" cy="571.3" r="7.1"/>
<circle cx="1187.5" cy="589.7" r="7.1"/>
<circle cx="651.4" cy="400.5" r="7.1"/>
<circle cx="1219.6" cy="584.9" r="7.1"/>
<circle cx="517.0" cy="201.0" r="7.1"/>
<circle cx="241.5" cy="251.8" r="7.1"/>
<circle cx="253.5" cy="248.5" r="7.1"/>
<circle cx="215.0" cy="256.1" r="7.1"/>
<circle cx="487.1" cy="209.1" r="7.1"/>
<circle cx="1120.5" cy="579.3" r="7.1"/>
<circle cx="644.6" cy="414.8" r="7.1"/>
<circle cx="861.1" cy="557.4" r="7.1"/>
<circle cx="1014.3" cy="582.7" r="7.1"/>
<circle cx="1037.0" cy="602.5" r="7.1"/>
<circle cx="1036.9" cy="626.0" r="7.1"/>
<circle cx="1069.3" cy="545.4" r="7.1"/>
<circle cx="765.2" cy="604.2" r="7.1"/>
<circle cx="889.7" cy="590.3" r="7.1"/>
<circle cx="344.0" cy="445.0" r="7.1"/>
<circle cx="510.1" cy="255.2" r="7.1"/>
<circle cx="675.1" cy="421.4" r="7.1"/>
<circle cx="468.0" cy="294.4" r="7.1"/>
<circle cx="665.5" cy="395.0" r="7.1"/>
<circle cx="1061.1" cy="597.2" r="7.1"/>
<circle cx="460.2" cy="285.7" r="7.1"/>
<circle cx="646.2" cy="391.8" r="7.1"/>
<circle cx="373.0" cy="277.0" r="7.1"/>
<circle cx="751.3" cy="593.8" r="7.1"/>
<circle cx="551.9" cy="336.7" r="7.1"/>
<circle cx="579.6" cy="323.8" r="7.1"/>
<circle cx="785.7" cy="678.4" r="7.1"/>
<circle cx="305.8" cy="377.1" r="7.1"/>
<circle cx="996.9" cy="584.5" r="7.1"/>
<circle cx="483.4" cy="255.2" r="7.1"/>
<circle cx="494.5" cy="240.8" r="7.1"/>
<circle cx="1158.8" cy="575.0" r="7.1"/>
<circle cx="308.3" cy="330.7" r="7.1"/>
<circle cx="957.3" cy="577.4" r="7.1"/>
<circle cx="1193.3" cy="587.3" r="7.1"/>
<circle cx="1082.8" cy="618.4" r="7.1"/>
<circle cx="388.2" cy="278.6" r="7.1"/>
<circle cx="1149.1" cy="612.3" r="7.1"/>
<circle cx="978.4" cy="582.7" r="7.1"/>
<circle cx="737.5" cy="429.6" r="7.1"/>
<circle cx="777.3" cy="601.3" r="7.1"/>
<circle cx="1094.2" cy="587.0" r="7.1"/>
<circle cx="1181.5" cy="608.3" r="7.1"/>
<circle cx="334.9" cy="362.8" r="7.1"/>
<circle cx="259.9" cy="212.2" r="7.1"/>
<circle cx="582.3" cy="368.4" r="7.1"/>
<circle cx="306.4" cy="369.4" r="7.1"/>
<circle cx="986.6" cy="605.2" r="7.1"/>
<circle cx="335.0" cy="345.1" r="7.1"/>
<circle cx="1069.4" cy="583.7" r="7.1"/>
<circle cx="620.4" cy="325.7" r="7.1"/>
<circle cx="664.2" cy="416.4" r="7.1"/>
<circle cx="1024.9" cy="586.2" r="7.1"/>
<circle cx="791.7" cy="594.1" r="7.1"/>
<circle cx="217.9" cy="279.0" r="7.1"/>
<circle cx="823.5" cy="515.0" r="7.1"/>
<circle cx="754.6" cy="596.4" r="7.1"/>
<circle cx="1022.0" cy="660.0" r="7.1"/>
<circle cx="199.8" cy="259.0" r="7.1"/>
<circle cx="1014.2" cy="586.2" r="7.1"/>
<circle cx="975.3" cy="547.6" r="7.1"/>
<circle cx="540.9" cy="362.4" r="7.1"/>
<circle cx="957.3" cy="533.6" r="7.1"/>
<circle cx="992.3" cy="586.9" r="7.1"/>
<circle cx="679.8" cy="415.4" r="7.1"/>
<circle cx="341.5" cy="392.0" r="7.1"/>
<circle cx="773.2" cy="587.7" r="7.1"/>
<circle cx="1150.4" cy="568.1" r="7.1"/>
<circle cx="445.5" cy="237.4" r="7.1"/>
<circle cx="822.5" cy="592.4" r="7.1"/>
<circle cx="483.3" cy="249.1" r="7.1"/>
<circle cx="844.9" cy="603.1" r="7.1"/>
<circle cx="1092.0" cy="571.1" r="7.1"/>
<circle cx="535.3" cy="190.4" r="7.1"/>
<circle cx="799.0" cy="575.1" r="7.1"/>
<circle cx="1282.4" cy="578.1" r="7.1"/>
<circle cx="687.0" cy="428.2" r="7.1"/>
<circle cx="443.3" cy="259.9" r="7.1"/>
<circle cx="451.8" cy="277.1" r="7.1"/>
<circle cx="1223.9" cy="589.0" r="7.1"/>
<circle cx="586.4" cy="337.7" r="7.1"/>
<circle cx="728.8" cy="425.2" r="7.1"/>
<circle cx="445.5" cy="251.2" r="7.1"/>
<circle cx="603.0" cy="351.5" r="7.1"/>
<circle cx="981.3" cy="602.5" r="7.1"/>
<circle cx="673.8" cy="388.0" r="7.1"/>
<circle cx="313.8" cy="374.5" r="7.1"/>
<circle cx="549.6" cy="260.0" r="7.1"/>
<circle cx="943.1" cy="552.9" r="7.1"/>
<circle cx="982.2" cy="579.0" r="7.1"/>
<circle cx="576.2" cy="412.2" r="7.1"/>
<circle cx="571.8" cy="351.0" r="7.1"/>
<circle cx="693.0" cy="415.1" r="7.1"/>
<circle cx="776.5" cy="588.4" r="7.1"/>
<circle cx="1026.4" cy="602.2" r="7.1"/>
<circle cx="303.4" cy="382.1" r="7.1"/>
<circle cx="1132.1" cy="613.3" r="7.1"/>
<circle cx="1088.8" cy="586.6" r="7.1"/>
<circle cx="1288.4" cy="598.6" r="7.1"/>
<circle cx="466.1" cy="261.2" r="7.1"/>
<circle cx="388.2" cy="273.1" r="7.1"/>
<circle cx="642.7" cy="429.3" r="7.1"/>
<circle cx="1252.9" cy="539.3" r="7.1"/>
<circle cx="1134.0" cy="579.5" r="7.1"/>
<circle cx="1216.1" cy="584.1" r="7.1"/>
<circle cx="711.1" cy="403.3" r="7.1"/>
<circle cx="1100.8" cy="577.5" r="7.1"/>
<circle cx="592.4" cy="375.4" r="7.1"/>
<circle cx="1092.0" cy="589.6" r="7.1"/>
<circle cx="660.6" cy="414.6" r="7.1"/>
<circle cx="267.5" cy="194.0" r="7.1"/>
<circle cx="619.9" cy="314.9" r="7.1"/>
<circle cx="1088.8" cy="571.2" r="7.1"/>
<circle cx="606.3" cy="337.2" r="7.1"/>
<circle cx="650.5" cy="329.0" r="7.1"/>
<circle cx="1029.8" cy="558.2" r="7.1"/>
<circle cx="1029.8" cy="626.8" r="7.1"/>
<circle cx="343.9" cy="406.0" r="7.1"/>
<circle cx="1177.7" cy="577.9" r="7.1"/>
<circle cx="381.2" cy="272.8" r="7.1"/>
<circle cx="1294.5" cy="570.8" r="7.1"/>
<circle cx="1185.7" cy="596.4" r="7.1"/>
<circle cx="1288.4" cy="597.7" r="7.1"/>
<circle cx="679.8" cy="402.2" r="7.1"/>
<circle cx="1280.9" cy="572.3" r="7.1"/>
<circle cx="644.6" cy="434.5" r="7.1"/>
<circle cx="731.4" cy="411.7" r="7.1"/>
<circle cx="227.3" cy="238.3" r="7.1"/>
<circle cx="1024.9" cy="616.2" r="7.1"/>
<circle cx="1168.7" cy="615.5" r="7.1"/>
<circle cx="889.8" cy="577.4" r="7.1"/>
<circle cx="388.2" cy="261.7" r="7.1"/>
<circle cx="590.1" cy="382.8" r="7.1"/>
<circle cx="413.4" cy="279.4" r="7.1"/>
<circle cx="245.1" cy="222.9" r="7.1"/>
<circle cx="1175.3" cy="612.8" r="7.1"/>
<circle cx="892.9" cy="586.5" r="7.1"/>
<circle cx="579.6" cy="384.0" r="7.1"/>
<circle cx="1080.1" cy="596.4" r="7.1"/>
<circle cx="917.0" cy="593.0" r="7.1"/>
<circle cx="513.8" cy="244.7" r="7.1"/>
<circle cx="750.1" cy="599.9" r="7.1"/>
<circle cx="391.1" cy="255.0" r="7.1"/>
<circle cx="737.4" cy="436.8" r="7.1"/>
<circle cx="269.6" cy="259.1" r="7.1"/>
<circle cx="718.0" cy="441.6" r="7.1"/>
<circle cx="955.6" cy="577.4" r="7.1"/>
<circle cx="1196.1" cy="597.8" r="7.1"/>
<circle cx="521.8" cy="265.5" r="7.1"/>
<circle cx="417.8" cy="283.0" r="7.1"/>
<circle cx="989.6" cy="587.6" r="7.1"/>
<circle cx="527.9" cy="168.3" r="7.1"/>
<circle cx="1149.1" cy="576.4" r="7.1"/>
<circle cx="611.6" cy="367.4" r="7.1"/>
<circle cx="306.4" cy="342.5" r="7.1"/>
<circle cx="1156.9" cy="589.4" r="7.1"/>
<circle cx="1170.7" cy="555.9" r="7.1"/>
<circle cx="290.5" cy="281.7" r="7.1"/>
<circle cx="271.0" cy="220.4" r="7.1"/>
<circle cx="555.0" cy="393.3" r="7.1"/>
<circle cx="512.4" cy="261.4" r="7.1"/>
<circle cx="1044.4" cy="587.3" r="7.1"/>
<circle cx="1203.6" cy="585.7" r="7.1"/>
<circle cx="524.8" cy="264.7" r="7.1"/>
<circle cx="405.2" cy="244.7" r="7.1"/>
<circle cx="241.5" cy="247.3" r="7.1"/>
<circle cx="315.9" cy="358.0" r="7.1"/>
<circle cx="718.0" cy="412.8" r="7.1"/>
<circle cx="822.5" cy="568.8" r="7.1"/>
<circle cx="746.9" cy="599.7" r="7.1"/>
<circle cx="231.3" cy="258.4" r="7.1"/>
<circle cx="776.5" cy="560.6" r="7.1"/>
<circle cx="847.6" cy="597.3" r="7.1"/>
<circle cx="1098.2" cy="597.4" r="7.1"/>
<circle cx="215.0" cy="230.2" r="7.1"/>
<circle cx="585.4" cy="331.4" r="7.1"/>
<circle cx="829.1" cy="591.2" r="7.1"/>
<circle cx="991.7" cy="602.5" r="7.1"/>
<circle cx="439.5" cy="271.3" r="7.1"/>
<circle cx="912.0" cy="640.0" r="7.1"/>
<circle cx="1150.5" cy="592.6" r="7.1"/>
<circle cx="829.1" cy="592.5" r="7.1"/>
<circle cx="379.0" cy="253.3" r="7.1"/>
<circle cx="314.2" cy="353.0" r="7.1"/>
<circle cx="1199.2" cy="579.9" r="7.1"/>
<circle cx="718.0" cy="473.8" r="7.1"/>
<circle cx="370.1" cy="243.1" r="7.1"/>
<circle cx="413.4" cy="252.7" r="7.1"/>
<circle cx="322.9" cy="367.1" r="7.1"/>
<circle cx="986.6" cy="568.3" r="7.1"/>
<circle cx="668.0" cy="410.2" r="7.1"/>
<circle cx="962.7" cy="565.0" r="7.1"/>
<circle cx="480.5" cy="264.6" r="7.1"/>
<circle cx="259.9" cy="206.2" r="7.1"/>
<circle cx="934.1" cy="613.1" r="7.1"/>
<circle cx="684.0" cy="424.8" r="7.1"/>
<circle cx="451.8" cy="245.3" r="7.1"/>
<circle cx="609.5" cy="320.6" r="7.1"/>
<circle cx="970.9" cy="573.7" r="7.1"/>
<circle cx="298.1" cy="183.6" r="7.1"/>
<circle cx="319.4" cy="377.5" r="7.1"/>
<circle cx="1010.4" cy="574.8" r="7.1"/>
<circle cx="895.8" cy="572.0" r="7.1"/>
<circle cx="1196.0" cy="596.4" r="7.1"/>
<circle cx="834.4" cy="597.0" r="7.1"/>
<circle cx="606.3" cy="322.1" r="7.1"/>
<circle cx="889.6" cy="576.0" r="7.1"/>
<circle cx="558.9" cy="392.0" r="7.1"/>
<circle cx="1000.0" cy="557.3" r="7.1"/>
<circle cx="1028.5" cy="607.0" r="7.1"/>
<circle cx="992.3" cy="581.9" r="7.1"/>
<circle cx="973.1" cy="580.2" r="7.1"/>
<circle cx="1149.1" cy="602.6" r="7.1"/>
<circle cx="492.8" cy="251.9" r="7.1"/>
<circle cx="1158.9" cy="567.2" r="7.1"/>
<circle cx="1056.9" cy="614.4" r="7.1"/>
<circle cx="791.8" cy="578.1" r="7.1"/>
<circle cx="1105.0" cy="591.2" r="7.1"/>
<circle cx="550.0" cy="364.9" r="7.1"/>
<circle cx="265.0" cy="290.0" r="7.1"/>
<circle cx="1037.0" cy="614.7" r="7.1"/>
<circle cx="600.9" cy="334.0" r="7.1"/>
<circle cx="1000.0" cy="587.3" r="7.1"/>
<circle cx="819.0" cy="573.8" r="7.1"/>
<circle cx="1286.4" cy="586.7" r="7.1"/>
<circle cx="917.1" cy="585.7" r="7.1"/>
<circle cx="1254.7" cy="633.5" r="7.1"/>
<circle cx="867.5" cy="596.6" r="7.1"/>
<circle cx="1147.2" cy="612.9" r="7.1"/>
<circle cx="487.1" cy="267.7" r="7.1"/>
<circle cx="617.1" cy="361.1" r="7.1"/>
<circle cx="305.7" cy="349.5" r="7.1"/>
<circle cx="900.5" cy="605.8" r="7.1"/>
<circle cx="1014.2" cy="603.5" r="7.1"/>
<circle cx="341.5" cy="382.8" r="7.1"/>
<circle cx="819.0" cy="604.9" r="7.1"/>
<circle cx="914.4" cy="618.6" r="7.1"/>
<circle cx="1055.0" cy="577.9" r="7.1"/>
<circle cx="1029.9" cy="611.7" r="7.1"/>
<circle cx="903.9" cy="615.2" r="7.1"/>
<circle cx="217.8" cy="252.9" r="7.1"/>
<circle cx="1105.0" cy="559.6" r="7.1"/>
<circle cx="1164.3" cy="560.8" r="7.1"/>
<circle cx="864.3" cy="537.4" r="7.1"/>
<circle cx="220.5" cy="245.2" r="7.1"/>
<circle cx="1207.7" cy="595.8" r="7.1"/>
<circle cx="1033.7" cy="637.4" r="7.1"/>
</g>
<g fill="#c000c0" fill-opacity=".7"><path d="M1041.5 211.8l9.5 15.5l-9.5 15.5l-9.5 -15.5z"/><path d="M1041.5 218.1l9.5 15.5l-9.5 15.5l-9.5 -15.5z"/></g>
<g fill="#000" fill-opacity=".3"><rect x="176.0" y="238.2" width="128.3" height="39.5" rx="1.7"/><rect x="301.7" y="334.1" width="27.1" height="60.5" rx="1.7"/><rect x="325.9" y="264.7" width="3.8" height="27.3" rx="1.7"/><rect x="328.0" y="357.2" width="24.9" height="28.0" rx="1.7"/><rect x="351.4" y="250.5" width="175.1" height="30.1" rx="1.7"/><rect x="526.2" y="104.8" width="10.8" height="39.8" rx="1.7"/><rect x="536.6" y="329.8" width="96.2" height="58.8" rx="1.7"/><rect x="629.3" y="393.9" width="112.7" height="27.5" rx="1.7"/><rect x="742.3" y="573.3" width="135.2" height="33.6" rx="1.7"/><rect x="888.0" y="582.7" width="38.9" height="23.1" rx="1.7"/><rect x="922.6" y="490.6" width="8.3" height="21.1" rx="1.7"/><rect x="928.5" y="566.9" width="367.7" height="57.7" rx="1.7"/></g>
<g stroke="#000" stroke-opacity=".5" stroke-width="3.44"><path d="M175.6 257.0H304.8"/><path d="M301.4 364.6H329.0"/><path d="M325.9 278.5H329.7"/><path d="M326.4 371.5H353.9"/><path d="M350.8 265.6H526.8"/><path d="M523.4 124.8H540.6"/><path d="M537.2 359.7H632.9"/><path d="M629.5 408.4H741.8"/><path d="M738.4 590.0H891.7"/><path d="M888.3 594.7H926.6"/><path d="M923.2 501.9H931.9"/><path d="M928.5 595.6H1296.4"/></g>
</g>
<rect x="121.85" y="1.35" width="1227.65" height="915.00" fill="none" stroke="#000" stroke-width="2.75"/>
<g stroke="#000" stroke-width="2.75"><path d="M177.50 916.35v12.04"/><path d="M385.02 916.35v12.04"/><path d="M592.54 916.35v12.04"/><path d="M800.06 916.35v12.04"/><path d="M1007.58 916.35v12.04"/><path d="M1215.10 916.35v12.04"/><path d="M121.85 901.52h-12.04"/><path d="M121.85 779.46h-12.04"/><path d="M121.85 657.40h-12.04"/><path d="M121.85 535.34h-12.04"/><path d="M121.85 413.28h-12.04"/><path d="M121.85 291.22h-12.04"/><path d="M121.85 169.16h-12.04"/><path d="M121.85 47.10h-12.04"/></g>
<g font-size="34.4"><text x="177.5" y="967.3" text-anchor="middle">0</text><text x="385.0" y="967.3" text-anchor="middle">1000</text><text x="592.5" y="967.3" text-anchor="middle">2000</text><text x="800.1" y="967.3" text-anchor="middle">3000</text><text x="1007.6" y="967.3" text-anchor="middle">4000</text><text x="1215.1" y="967.3" text-anchor="middle">5000</text><text x="97.6" y="914.6" text-anchor="end">−6</text><text x="97.6" y="792.5" text-anchor="end">−4</text><text x="97.6" y="670.4" text-anchor="end">−2</text><text x="97.6" y="548.4" text-anchor="end">0</text><text x="97.6" y="426.3" text-anchor="end">2</text><text x="97.6" y="304.3" text-anchor="end">4</text><text x="97.6" y="182.2" text-anchor="end">6</text><text x="97.6" y="60.2" text-anchor="end">8</text>
<text x="736.1" y="1013.7" text-anchor="middle" font-size="34.5">Days since 060407-062420</text>
<text transform="translate(25.7 458.85) rotate(-90)" text-anchor="middle" font-size="34.5">Lunar slug position offset from prediction [ns]</text>
</g>
<!-- legend -->
<rect x="1085.1" y="13.6" width="252.1" height="187" rx="6.9" fill="#fff" fill-opacity=".8" stroke="#ccc" stroke-opacity=".8" stroke-width="3.44"/>
<path d="M1094.1 33H1142.3" stroke="#00f" stroke-width="1.72" stroke-dasharray="11.01 2.75 1.72 2.75"/>
<path d="M1094.1 68H1142.3" stroke="#000" stroke-opacity=".5" stroke-width="3.44" stroke-linecap="square"/>
<rect x="1092.4" y="95.4" width="51.6" height="20" rx="1.7" fill="#000" fill-opacity=".3"/>
<path d="M1118.4 127.2l9.5 15.5l-9.5 15.5l-9.5 -15.5z" fill="#c000c0" fill-opacity=".7"/><path d="M1118.4 130.5v24" stroke="#c000c0" stroke-opacity=".7" stroke-width="3.44"/>
<path d="M1118.4 166.2v24" stroke="#008000" stroke-opacity=".7" stroke-width="3.44"/><circle cx="1118.4" cy="178.3" r="7.1" fill="#008000" fill-opacity=".7"/>
<g font-size="24.1">
<text x="1161.6" y="41.4">group bounds</text>
<text x="1161.6" y="77.5"><tspan font-style="italic">μ</tspan><tspan font-style="italic" font-size="16.9" dy="3.7">w</tspan></text>
<text x="1161.6" y="113.5"><tspan font-style="italic">σ</tspan><tspan font-style="italic" font-size="16.9" dy="3.7">w</tspan></text>
<text x="1161.6" y="151">outliers</text>
<text x="1161.6" y="186.5">"good" points</text>
</g>
</svg>
</body></html>
